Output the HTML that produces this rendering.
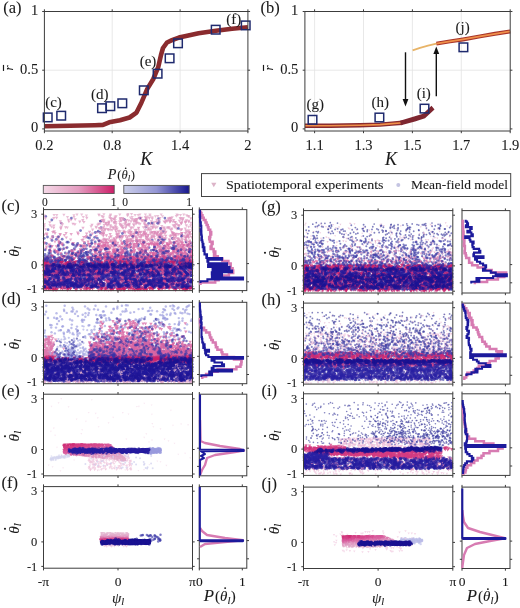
<!DOCTYPE html>
<html><head><meta charset="utf-8"><style>
html,body{margin:0;padding:0;background:#fff;width:520px;height:608px;overflow:hidden}
svg{display:block}
text{font-family:"Liberation Serif","DejaVu Serif",serif;fill:#1a1a1a;stroke:#1a1a1a;stroke-width:0.08px}
</style></head><body>
<svg width="520" height="608" viewBox="0 0 520 608">
<rect width="520" height="608" fill="#fff"/>
<line x1="112.2" y1="11.5" x2="112.2" y2="131" stroke="#e2e2e2" stroke-width="0.8" />
<line x1="180.1" y1="11.5" x2="180.1" y2="131" stroke="#e2e2e2" stroke-width="0.8" />
<line x1="44.4" y1="70.2" x2="247.9" y2="70.2" stroke="#e2e2e2" stroke-width="0.8" />
<line x1="44.4" y1="128.9" x2="247.9" y2="128.9" stroke="#ececec" stroke-width="0.6" />
<polyline points="44.6,126.2 70,125.8 95,125.2 103,124.9 109.2,122.3 120,120.3 129.6,117.5 136.5,112.6 141.4,102.7 147.3,88.9 153.3,79 158.2,67.2 161,55 163,48 167,42.5 172,40.2 178.9,37.6 186,36 198.6,33.3 216,30.8 232,28.8 247.9,27.2" fill="none" stroke="#8a2b2e" stroke-width="4.6" stroke-linejoin="round"/>
<rect x="43.4" y="113.1" width="8.6" height="8.6" fill="none" stroke="#1f2a6e" stroke-width="1.5"/>
<rect x="56.9" y="111.4" width="8.6" height="8.6" fill="none" stroke="#1f2a6e" stroke-width="1.5"/>
<rect x="97.7" y="103.9" width="8.6" height="8.6" fill="none" stroke="#1f2a6e" stroke-width="1.5"/>
<rect x="106" y="101.9" width="8.6" height="8.6" fill="none" stroke="#1f2a6e" stroke-width="1.5"/>
<rect x="118" y="99" width="8.6" height="8.6" fill="none" stroke="#1f2a6e" stroke-width="1.5"/>
<rect x="139.5" y="86" width="8.6" height="8.6" fill="none" stroke="#1f2a6e" stroke-width="1.5"/>
<rect x="153.3" y="69.4" width="8.6" height="8.6" fill="none" stroke="#1f2a6e" stroke-width="1.5"/>
<rect x="165.3" y="54" width="8.6" height="8.6" fill="none" stroke="#1f2a6e" stroke-width="1.5"/>
<rect x="173.7" y="39" width="8.6" height="8.6" fill="none" stroke="#1f2a6e" stroke-width="1.5"/>
<rect x="211.4" y="25.4" width="8.6" height="8.6" fill="none" stroke="#1f2a6e" stroke-width="1.5"/>
<rect x="241.4" y="21.1" width="8.6" height="8.6" fill="none" stroke="#1f2a6e" stroke-width="1.5"/>
<rect x="44.4" y="11.5" width="203.5" height="119.5" fill="none" stroke="#3c3c3c" stroke-width="1"/>
<path d="M44.4 131v2.2M44.4 11.5v-2.2M112.2 131v2.2M112.2 11.5v-2.2M180.1 131v2.2M180.1 11.5v-2.2M247.9 131v2.2M247.9 11.5v-2.2M44.4 128.9h-2.2M247.9 128.9h2.2M44.4 70.2h-2.2M247.9 70.2h2.2M44.4 11.5h-2.2M247.9 11.5h2.2" stroke="#3c3c3c" stroke-width="1" fill="none"/>
<text x="44.4" y="149.6" font-size="14.5" text-anchor="middle">0.2</text>
<text x="112.2" y="149.6" font-size="14.5" text-anchor="middle">0.8</text>
<text x="180.1" y="149.6" font-size="14.5" text-anchor="middle">1.4</text>
<text x="247.9" y="149.6" font-size="14.5" text-anchor="middle">2</text>
<text x="38.2" y="132.1" font-size="14.5" text-anchor="end">0</text>
<text x="38.2" y="73.6" font-size="14.5" text-anchor="end">0.5</text>
<text x="38.2" y="15" font-size="14.5" text-anchor="end">1</text>
<text x="146.2" y="164.5" font-size="18" text-anchor="middle" style="font-style:italic">K</text>
<text x="3.2" y="13.2" font-size="16.5" text-anchor="start">(a)</text>
<g transform="translate(12.5,68) rotate(-90)"><text x="0" y="0" font-size="13" text-anchor="middle" style="font-style:italic">r</text><text x="-2.4" y="-1.96" font-size="10.3" style="stroke-width:0.7px">¯</text></g>
<text x="53.5" y="107" font-size="15" text-anchor="middle">(c)</text>
<text x="99.7" y="98.5" font-size="15" text-anchor="middle">(d)</text>
<text x="148" y="66" font-size="15" text-anchor="middle">(e)</text>
<text x="233.8" y="24" font-size="15" text-anchor="middle">(f)</text>
<line x1="314.6" y1="11.5" x2="314.6" y2="131" stroke="#e2e2e2" stroke-width="0.8" />
<line x1="363.5" y1="11.5" x2="363.5" y2="131" stroke="#e2e2e2" stroke-width="0.8" />
<line x1="412.4" y1="11.5" x2="412.4" y2="131" stroke="#e2e2e2" stroke-width="0.8" />
<line x1="461.3" y1="11.5" x2="461.3" y2="131" stroke="#e2e2e2" stroke-width="0.8" />
<line x1="304.9" y1="70.2" x2="510.2" y2="70.2" stroke="#e2e2e2" stroke-width="0.8" />
<line x1="304.9" y1="128.9" x2="510.2" y2="128.9" stroke="#ececec" stroke-width="0.6" />
<polyline points="305,125.8 330,125.7 360,125.3 380,124.6 392,123.6 402.5,122.8" fill="none" stroke="#8a2b2e" stroke-width="4.4" stroke-linejoin="round"/>
<polyline points="305,125.8 330,125.7 360,125.3 380,124.6 392,123.6 402.5,122.8" fill="none" stroke="#f0904a" stroke-width="1.6" stroke-linejoin="round"/>
<polygon points="400,120.8 414,116.4 423,113.8 431.5,105.8 434.5,109.5 425,118.2 415,121.5 401,125.2" fill="#7e2630"/>
<polyline points="412.6,50.4 420,47.8 428,45.6 436.4,43.6" fill="none" stroke="#e8b468" stroke-width="1.8"/>
<polyline points="436.4,43.6 450,41.4 463,39.4 480,36.4 495,33.8 510.2,31.4" fill="none" stroke="#a8352a" stroke-width="4" stroke-linejoin="round"/>
<polyline points="436.4,43.6 450,41.4 463,39.4 480,36.4 495,33.8 510.2,31.4" fill="none" stroke="#f0904a" stroke-width="1.7" stroke-linejoin="round"/>
<rect x="308.2" y="115.5" width="8.6" height="8.6" fill="none" stroke="#1f2a6e" stroke-width="1.5"/>
<rect x="375.1" y="113.2" width="8.6" height="8.6" fill="none" stroke="#1f2a6e" stroke-width="1.5"/>
<rect x="420.2" y="104.3" width="8.6" height="8.6" fill="none" stroke="#1f2a6e" stroke-width="1.5"/>
<rect x="459.1" y="43" width="8.6" height="8.6" fill="none" stroke="#1f2a6e" stroke-width="1.5"/>
<line x1="405.5" y1="52.3" x2="405.5" y2="100" stroke="#111" stroke-width="1.4"/><polygon points="402.6,99 408.4,99 405.5,106.5" fill="#111"/>
<line x1="436.3" y1="96.2" x2="436.3" y2="53" stroke="#111" stroke-width="1.4"/><polygon points="433.4,54 439.2,54 436.3,46.6" fill="#111"/>
<rect x="304.9" y="11.5" width="205.3" height="119.5" fill="none" stroke="#3c3c3c" stroke-width="1"/>
<path d="M314.6 131v2.2M314.6 11.5v-2.2M363.5 131v2.2M363.5 11.5v-2.2M412.4 131v2.2M412.4 11.5v-2.2M461.3 131v2.2M461.3 11.5v-2.2M510.2 131v2.2M510.2 11.5v-2.2M304.9 128.9h-2.2M510.2 128.9h2.2M304.9 70.2h-2.2M510.2 70.2h2.2M304.9 11.5h-2.2M510.2 11.5h2.2" stroke="#3c3c3c" stroke-width="1" fill="none"/>
<text x="314.6" y="149.6" font-size="14.5" text-anchor="middle">1.1</text>
<text x="363.5" y="149.6" font-size="14.5" text-anchor="middle">1.3</text>
<text x="412.4" y="149.6" font-size="14.5" text-anchor="middle">1.5</text>
<text x="461.3" y="149.6" font-size="14.5" text-anchor="middle">1.7</text>
<text x="510.2" y="149.6" font-size="14.5" text-anchor="middle">1.9</text>
<text x="298.3" y="132.1" font-size="14.5" text-anchor="end">0</text>
<text x="298.3" y="73.6" font-size="14.5" text-anchor="end">0.5</text>
<text x="298.3" y="15" font-size="14.5" text-anchor="end">1</text>
<text x="391.1" y="164.5" font-size="18" text-anchor="middle" style="font-style:italic">K</text>
<text x="260.5" y="13.2" font-size="16.5" text-anchor="start">(b)</text>
<g transform="translate(273,68) rotate(-90)"><text x="0" y="0" font-size="13" text-anchor="middle" style="font-style:italic">r</text><text x="-2.4" y="-1.96" font-size="10.3" style="stroke-width:0.7px">¯</text></g>
<text x="315.3" y="109" font-size="15" text-anchor="middle">(g)</text>
<text x="380.2" y="107" font-size="15" text-anchor="middle">(h)</text>
<text x="423.8" y="98.3" font-size="15" text-anchor="middle">(i)</text>
<text x="462.7" y="32.4" font-size="15" text-anchor="middle">(j)</text>
<defs><linearGradient id="gp" x1="0" x2="1"><stop offset="0" stop-color="#f4d8e6"/><stop offset="0.5" stop-color="#e49cc0"/><stop offset="1" stop-color="#cc1f68"/></linearGradient><linearGradient id="gb" x1="0" x2="1"><stop offset="0" stop-color="#cccfea"/><stop offset="0.5" stop-color="#9496d4"/><stop offset="1" stop-color="#16168e"/></linearGradient></defs>
<rect x="43.3" y="185.4" width="70.9" height="8.1" fill="url(#gp)" stroke="#555" stroke-width="0.9"/>
<rect x="123.8" y="185.4" width="65.4" height="8.1" fill="url(#gb)" stroke="#555" stroke-width="0.9"/>
<text x="44.9" y="206.3" font-size="11.5" text-anchor="middle">0</text>
<text x="113.7" y="206.3" font-size="11.5" text-anchor="middle">1</text>
<text x="125.2" y="206.3" font-size="11.5" text-anchor="middle">0</text>
<text x="189.2" y="206.3" font-size="11.5" text-anchor="middle">1</text>
<text x="107.74" y="178.80" font-size="14.112" style="font-style:italic">P</text><text x="117.36" y="178.80" font-size="12.6">(</text><text x="121.56" y="178.80" font-size="12.6" style="font-style:italic">θ</text><text x="123.28" y="176.53" font-size="14.49">˙</text><text x="127.74" y="181.32" font-size="9.072" style="font-style:italic">l</text><text x="130.66" y="178.80" font-size="12.6">)</text>
<rect x="201.5" y="173.6" width="309.2" height="22.9" fill="#fff" stroke="#444" stroke-width="1"/>
<polygon points="211.2,182.8 216.4,182.8 213.8,187.3" fill="#dcb4c8"/>
<circle cx="398.3" cy="185" r="2" fill="#c4c4e2"/>
<text x="226" y="189" font-size="13.5" textLength="157.5" lengthAdjust="spacingAndGlyphs">Spatiotemporal experiments</text>
<text x="411" y="189" font-size="13.5" textLength="97" lengthAdjust="spacingAndGlyphs">Mean-field model</text>
<defs><marker id="m0" markerUnits="userSpaceOnUse" overflow="visible" markerWidth="1" markerHeight="1"><path d="M-15.3 -8.9H15.3L0 17.8z" fill="#e5b6d0" fill-opacity="0.72"/></marker><marker id="m1" markerUnits="userSpaceOnUse" overflow="visible" markerWidth="1" markerHeight="1"><path d="M-15.9 -9.2H15.9L0 18.5z" fill="#e2aac9" fill-opacity="0.72"/></marker><marker id="m2" markerUnits="userSpaceOnUse" overflow="visible" markerWidth="1" markerHeight="1"><path d="M-16.2 -9.4H16.2L0 18.8z" fill="#e1a3c6" fill-opacity="0.72"/></marker><marker id="m3" markerUnits="userSpaceOnUse" overflow="visible" markerWidth="1" markerHeight="1"><path d="M-16.5 -9.6H16.5L0 19.2z" fill="#df99c0" fill-opacity="0.72"/></marker><marker id="m4" markerUnits="userSpaceOnUse" overflow="visible" markerWidth="1" markerHeight="1"><path d="M-16.8 -9.8H16.8L0 19.5z" fill="#dd88b7" fill-opacity="0.72"/></marker><marker id="m5" markerUnits="userSpaceOnUse" overflow="visible" markerWidth="1" markerHeight="1"><path d="M-17.2 -9.9H17.2L0 19.9z" fill="#dc78ad" fill-opacity="0.72"/></marker><marker id="m6" markerUnits="userSpaceOnUse" overflow="visible" markerWidth="1" markerHeight="1"><path d="M-17.5 -10.1H17.5L0 20.3z" fill="#da67a4" fill-opacity="0.72"/></marker><marker id="m7" markerUnits="userSpaceOnUse" overflow="visible" markerWidth="1" markerHeight="1"><path d="M-17.8 -10.3H17.8L0 20.6z" fill="#d8579b" fill-opacity="0.72"/></marker><marker id="m8" markerUnits="userSpaceOnUse" overflow="visible" markerWidth="1" markerHeight="1"><path d="M-18.1 -10.5H18.1L0 21.0z" fill="#d5498e" fill-opacity="0.72"/></marker><marker id="m9" markerUnits="userSpaceOnUse" overflow="visible" markerWidth="1" markerHeight="1"><path d="M-18.4 -10.7H18.4L0 21.3z" fill="#d23b82" fill-opacity="0.72"/></marker><marker id="m10" markerUnits="userSpaceOnUse" overflow="visible" markerWidth="1" markerHeight="1"><path d="M-19.0 -11.0H19.0L0 22.0z" fill="#cc1f68" fill-opacity="0.72"/></marker><marker id="m11" markerUnits="userSpaceOnUse" overflow="visible" markerWidth="1" markerHeight="1"><circle r="13.8" fill="#3c39a8" fill-opacity="0.66"/></marker><marker id="m12" markerUnits="userSpaceOnUse" overflow="visible" markerWidth="1" markerHeight="1"><circle r="14.2" fill="#3631a7" fill-opacity="0.66"/></marker><marker id="m13" markerUnits="userSpaceOnUse" overflow="visible" markerWidth="1" markerHeight="1"><circle r="14.7" fill="#3029a5" fill-opacity="0.66"/></marker><marker id="m14" markerUnits="userSpaceOnUse" overflow="visible" markerWidth="1" markerHeight="1"><circle r="15.6" fill="#261da0" fill-opacity="0.66"/></marker><marker id="m15" markerUnits="userSpaceOnUse" overflow="visible" markerWidth="1" markerHeight="1"><circle r="16.1" fill="#22199b" fill-opacity="0.66"/></marker><marker id="m16" markerUnits="userSpaceOnUse" overflow="visible" markerWidth="1" markerHeight="1"><circle r="16.5" fill="#1e1697" fill-opacity="0.66"/></marker><marker id="m17" markerUnits="userSpaceOnUse" overflow="visible" markerWidth="1" markerHeight="1"><circle r="17.0" fill="#1a1292" fill-opacity="0.66"/></marker><marker id="m18" markerUnits="userSpaceOnUse" overflow="visible" markerWidth="1" markerHeight="1"><path d="M-14.0 -8.1H14.0L0 16.2z" fill="#e6bcd4" fill-opacity="0.72"/></marker><marker id="m19" markerUnits="userSpaceOnUse" overflow="visible" markerWidth="1" markerHeight="1"><path d="M-14.8 -8.6H14.8L0 17.2z" fill="#e3b0cd" fill-opacity="0.72"/></marker><marker id="m20" markerUnits="userSpaceOnUse" overflow="visible" markerWidth="1" markerHeight="1"><path d="M-15.3 -8.9H15.3L0 17.7z" fill="#e2aac9" fill-opacity="0.72"/></marker><marker id="m21" markerUnits="userSpaceOnUse" overflow="visible" markerWidth="1" markerHeight="1"><path d="M-15.7 -9.1H15.7L0 18.2z" fill="#e1a3c6" fill-opacity="0.72"/></marker><marker id="m22" markerUnits="userSpaceOnUse" overflow="visible" markerWidth="1" markerHeight="1"><path d="M-16.5 -9.6H16.5L0 19.2z" fill="#dd88b7" fill-opacity="0.72"/></marker><marker id="m23" markerUnits="userSpaceOnUse" overflow="visible" markerWidth="1" markerHeight="1"><path d="M-17.0 -9.8H17.0L0 19.7z" fill="#dc78ad" fill-opacity="0.72"/></marker><marker id="m24" markerUnits="userSpaceOnUse" overflow="visible" markerWidth="1" markerHeight="1"><path d="M-17.4 -10.1H17.4L0 20.2z" fill="#da67a4" fill-opacity="0.72"/></marker><marker id="m25" markerUnits="userSpaceOnUse" overflow="visible" markerWidth="1" markerHeight="1"><path d="M-19.1 -11.1H19.1L0 22.1z" fill="#cf2d75" fill-opacity="0.72"/></marker><marker id="m26" markerUnits="userSpaceOnUse" overflow="visible" markerWidth="1" markerHeight="1"><path d="M-19.5 -11.3H19.5L0 22.6z" fill="#cc1f68" fill-opacity="0.72"/></marker><marker id="m27" markerUnits="userSpaceOnUse" overflow="visible" markerWidth="1" markerHeight="1"><circle r="11.1" fill="#aaace3" fill-opacity="0.66"/></marker><marker id="m28" markerUnits="userSpaceOnUse" overflow="visible" markerWidth="1" markerHeight="1"><circle r="12.2" fill="#9a9bde" fill-opacity="0.66"/></marker><marker id="m29" markerUnits="userSpaceOnUse" overflow="visible" markerWidth="1" markerHeight="1"><circle r="11.6" fill="#4444a8" fill-opacity="0.66"/></marker><marker id="m30" markerUnits="userSpaceOnUse" overflow="visible" markerWidth="1" markerHeight="1"><circle r="12.3" fill="#4140a9" fill-opacity="0.66"/></marker><marker id="m31" markerUnits="userSpaceOnUse" overflow="visible" markerWidth="1" markerHeight="1"><circle r="12.9" fill="#3c39a8" fill-opacity="0.66"/></marker><marker id="m32" markerUnits="userSpaceOnUse" overflow="visible" markerWidth="1" markerHeight="1"><circle r="13.6" fill="#3631a7" fill-opacity="0.66"/></marker><marker id="m33" markerUnits="userSpaceOnUse" overflow="visible" markerWidth="1" markerHeight="1"><circle r="16.2" fill="#22199b" fill-opacity="0.66"/></marker><marker id="m34" markerUnits="userSpaceOnUse" overflow="visible" markerWidth="1" markerHeight="1"><circle r="16.8" fill="#1e1697" fill-opacity="0.66"/></marker><marker id="m35" markerUnits="userSpaceOnUse" overflow="visible" markerWidth="1" markerHeight="1"><circle r="17.5" fill="#1a1292" fill-opacity="0.66"/></marker><marker id="m36" markerUnits="userSpaceOnUse" overflow="visible" markerWidth="1" markerHeight="1"><path d="M-9.5 -5.5H9.5L0 11.1z" fill="#f5deeb" fill-opacity="0.72"/></marker><marker id="m37" markerUnits="userSpaceOnUse" overflow="visible" markerWidth="1" markerHeight="1"><path d="M-12.2 -7.1H12.2L0 14.2z" fill="#f0c7de" fill-opacity="0.72"/></marker><marker id="m38" markerUnits="userSpaceOnUse" overflow="visible" markerWidth="1" markerHeight="1"><path d="M-9.1 -5.3H9.1L0 10.5z" fill="#e3b0cd" fill-opacity="0.72"/></marker><marker id="m39" markerUnits="userSpaceOnUse" overflow="visible" markerWidth="1" markerHeight="1"><path d="M-9.6 -5.6H9.6L0 11.2z" fill="#e2aac9" fill-opacity="0.72"/></marker><marker id="m40" markerUnits="userSpaceOnUse" overflow="visible" markerWidth="1" markerHeight="1"><path d="M-10.2 -5.9H10.2L0 11.8z" fill="#e1a3c6" fill-opacity="0.72"/></marker><marker id="m41" markerUnits="userSpaceOnUse" overflow="visible" markerWidth="1" markerHeight="1"><path d="M-10.7 -6.2H10.7L0 12.4z" fill="#df99c0" fill-opacity="0.72"/></marker><marker id="m42" markerUnits="userSpaceOnUse" overflow="visible" markerWidth="1" markerHeight="1"><path d="M-11.2 -6.5H11.2L0 13.0z" fill="#dd88b7" fill-opacity="0.72"/></marker><marker id="m43" markerUnits="userSpaceOnUse" overflow="visible" markerWidth="1" markerHeight="1"><path d="M-11.8 -6.8H11.8L0 13.7z" fill="#dc78ad" fill-opacity="0.72"/></marker><marker id="m44" markerUnits="userSpaceOnUse" overflow="visible" markerWidth="1" markerHeight="1"><path d="M-12.3 -7.1H12.3L0 14.3z" fill="#da67a4" fill-opacity="0.72"/></marker><marker id="m45" markerUnits="userSpaceOnUse" overflow="visible" markerWidth="1" markerHeight="1"><path d="M-12.8 -7.5H12.8L0 14.9z" fill="#d8579b" fill-opacity="0.72"/></marker><marker id="m46" markerUnits="userSpaceOnUse" overflow="visible" markerWidth="1" markerHeight="1"><path d="M-13.4 -7.8H13.4L0 15.5z" fill="#d5498e" fill-opacity="0.72"/></marker><marker id="m47" markerUnits="userSpaceOnUse" overflow="visible" markerWidth="1" markerHeight="1"><path d="M-13.9 -8.1H13.9L0 16.2z" fill="#d23b82" fill-opacity="0.72"/></marker><marker id="m48" markerUnits="userSpaceOnUse" overflow="visible" markerWidth="1" markerHeight="1"><path d="M-14.5 -8.4H14.5L0 16.8z" fill="#cf2d75" fill-opacity="0.72"/></marker><marker id="m49" markerUnits="userSpaceOnUse" overflow="visible" markerWidth="1" markerHeight="1"><circle r="8.6" fill="#d6d7f0" fill-opacity="0.66"/></marker><marker id="m50" markerUnits="userSpaceOnUse" overflow="visible" markerWidth="1" markerHeight="1"><circle r="9.8" fill="#cbcced" fill-opacity="0.66"/></marker><marker id="m51" markerUnits="userSpaceOnUse" overflow="visible" markerWidth="1" markerHeight="1"><circle r="15.4" fill="#9a9bde" fill-opacity="0.66"/></marker><marker id="m52" markerUnits="userSpaceOnUse" overflow="visible" markerWidth="1" markerHeight="1"><circle r="13.3" fill="#261da0" fill-opacity="0.66"/></marker><marker id="m53" markerUnits="userSpaceOnUse" overflow="visible" markerWidth="1" markerHeight="1"><path d="M-11.7 -6.8H11.7L0 13.6z" fill="#f1cce1" fill-opacity="0.72"/></marker><marker id="m54" markerUnits="userSpaceOnUse" overflow="visible" markerWidth="1" markerHeight="1"><path d="M-10.0 -5.8H10.0L0 11.6z" fill="#e6bcd4" fill-opacity="0.72"/></marker><marker id="m55" markerUnits="userSpaceOnUse" overflow="visible" markerWidth="1" markerHeight="1"><path d="M-10.6 -6.2H10.6L0 12.3z" fill="#e5b6d0" fill-opacity="0.72"/></marker><marker id="m56" markerUnits="userSpaceOnUse" overflow="visible" markerWidth="1" markerHeight="1"><path d="M-11.2 -6.5H11.2L0 13.0z" fill="#e3b0cd" fill-opacity="0.72"/></marker><marker id="m57" markerUnits="userSpaceOnUse" overflow="visible" markerWidth="1" markerHeight="1"><path d="M-11.8 -6.9H11.8L0 13.7z" fill="#e2aac9" fill-opacity="0.72"/></marker><marker id="m58" markerUnits="userSpaceOnUse" overflow="visible" markerWidth="1" markerHeight="1"><path d="M-12.5 -7.2H12.5L0 14.5z" fill="#e1a3c6" fill-opacity="0.72"/></marker><marker id="m59" markerUnits="userSpaceOnUse" overflow="visible" markerWidth="1" markerHeight="1"><path d="M-13.1 -7.6H13.1L0 15.2z" fill="#df99c0" fill-opacity="0.72"/></marker><marker id="m60" markerUnits="userSpaceOnUse" overflow="visible" markerWidth="1" markerHeight="1"><path d="M-13.7 -7.9H13.7L0 15.9z" fill="#dd88b7" fill-opacity="0.72"/></marker><marker id="m61" markerUnits="userSpaceOnUse" overflow="visible" markerWidth="1" markerHeight="1"><path d="M-14.3 -8.3H14.3L0 16.6z" fill="#dc78ad" fill-opacity="0.72"/></marker><marker id="m62" markerUnits="userSpaceOnUse" overflow="visible" markerWidth="1" markerHeight="1"><path d="M-14.9 -8.7H14.9L0 17.3z" fill="#da67a4" fill-opacity="0.72"/></marker><marker id="m63" markerUnits="userSpaceOnUse" overflow="visible" markerWidth="1" markerHeight="1"><path d="M-15.5 -9.0H15.5L0 18.0z" fill="#d8579b" fill-opacity="0.72"/></marker><marker id="m64" markerUnits="userSpaceOnUse" overflow="visible" markerWidth="1" markerHeight="1"><path d="M-16.2 -9.4H16.2L0 18.7z" fill="#d5498e" fill-opacity="0.72"/></marker><marker id="m65" markerUnits="userSpaceOnUse" overflow="visible" markerWidth="1" markerHeight="1"><path d="M-16.8 -9.7H16.8L0 19.5z" fill="#d23b82" fill-opacity="0.72"/></marker><marker id="m66" markerUnits="userSpaceOnUse" overflow="visible" markerWidth="1" markerHeight="1"><circle r="12.4" fill="#3c39a8" fill-opacity="0.66"/></marker><marker id="m67" markerUnits="userSpaceOnUse" overflow="visible" markerWidth="1" markerHeight="1"><circle r="17.0" fill="#1a1292" fill-opacity="0.66"/></marker><marker id="m68" markerUnits="userSpaceOnUse" overflow="visible" markerWidth="1" markerHeight="1"><path d="M-9.7 -5.6H9.7L0 11.2z" fill="#e5b6d0" fill-opacity="0.72"/></marker><marker id="m69" markerUnits="userSpaceOnUse" overflow="visible" markerWidth="1" markerHeight="1"><path d="M-10.4 -6.0H10.4L0 12.0z" fill="#e3b0cd" fill-opacity="0.72"/></marker><marker id="m70" markerUnits="userSpaceOnUse" overflow="visible" markerWidth="1" markerHeight="1"><path d="M-11.1 -6.4H11.1L0 12.8z" fill="#e2aac9" fill-opacity="0.72"/></marker><marker id="m71" markerUnits="userSpaceOnUse" overflow="visible" markerWidth="1" markerHeight="1"><path d="M-11.8 -6.8H11.8L0 13.7z" fill="#e1a3c6" fill-opacity="0.72"/></marker><marker id="m72" markerUnits="userSpaceOnUse" overflow="visible" markerWidth="1" markerHeight="1"><path d="M-12.5 -7.2H12.5L0 14.5z" fill="#df99c0" fill-opacity="0.72"/></marker><marker id="m73" markerUnits="userSpaceOnUse" overflow="visible" markerWidth="1" markerHeight="1"><path d="M-13.2 -7.6H13.2L0 15.3z" fill="#dd88b7" fill-opacity="0.72"/></marker><marker id="m74" markerUnits="userSpaceOnUse" overflow="visible" markerWidth="1" markerHeight="1"><path d="M-14.5 -8.4H14.5L0 16.9z" fill="#da67a4" fill-opacity="0.72"/></marker><marker id="m75" markerUnits="userSpaceOnUse" overflow="visible" markerWidth="1" markerHeight="1"><path d="M-15.2 -8.8H15.2L0 17.7z" fill="#d8579b" fill-opacity="0.72"/></marker><marker id="m76" markerUnits="userSpaceOnUse" overflow="visible" markerWidth="1" markerHeight="1"><path d="M-15.9 -9.2H15.9L0 18.5z" fill="#d5498e" fill-opacity="0.72"/></marker><marker id="m77" markerUnits="userSpaceOnUse" overflow="visible" markerWidth="1" markerHeight="1"><path d="M-16.6 -9.6H16.6L0 19.3z" fill="#d23b82" fill-opacity="0.72"/></marker><marker id="m78" markerUnits="userSpaceOnUse" overflow="visible" markerWidth="1" markerHeight="1"><path d="M-17.3 -10.0H17.3L0 20.1z" fill="#cf2d75" fill-opacity="0.72"/></marker><marker id="m79" markerUnits="userSpaceOnUse" overflow="visible" markerWidth="1" markerHeight="1"><path d="M-18.0 -10.4H18.0L0 20.9z" fill="#cc1f68" fill-opacity="0.72"/></marker><marker id="m80" markerUnits="userSpaceOnUse" overflow="visible" markerWidth="1" markerHeight="1"><circle r="8.7" fill="#41419e" fill-opacity="0.66"/></marker><marker id="m81" markerUnits="userSpaceOnUse" overflow="visible" markerWidth="1" markerHeight="1"><circle r="9.4" fill="#4242a1" fill-opacity="0.66"/></marker><marker id="m82" markerUnits="userSpaceOnUse" overflow="visible" markerWidth="1" markerHeight="1"><circle r="10.1" fill="#4343a5" fill-opacity="0.66"/></marker><marker id="m83" markerUnits="userSpaceOnUse" overflow="visible" markerWidth="1" markerHeight="1"><circle r="10.8" fill="#4444a8" fill-opacity="0.66"/></marker><marker id="m84" markerUnits="userSpaceOnUse" overflow="visible" markerWidth="1" markerHeight="1"><circle r="11.5" fill="#4140a9" fill-opacity="0.66"/></marker><marker id="m85" markerUnits="userSpaceOnUse" overflow="visible" markerWidth="1" markerHeight="1"><circle r="12.2" fill="#3c39a8" fill-opacity="0.66"/></marker><marker id="m86" markerUnits="userSpaceOnUse" overflow="visible" markerWidth="1" markerHeight="1"><circle r="12.8" fill="#3631a7" fill-opacity="0.66"/></marker><marker id="m87" markerUnits="userSpaceOnUse" overflow="visible" markerWidth="1" markerHeight="1"><circle r="14.9" fill="#261da0" fill-opacity="0.66"/></marker><marker id="m88" markerUnits="userSpaceOnUse" overflow="visible" markerWidth="1" markerHeight="1"><circle r="15.6" fill="#22199b" fill-opacity="0.66"/></marker><marker id="m89" markerUnits="userSpaceOnUse" overflow="visible" markerWidth="1" markerHeight="1"><circle r="16.3" fill="#1e1697" fill-opacity="0.66"/></marker><marker id="m90" markerUnits="userSpaceOnUse" overflow="visible" markerWidth="1" markerHeight="1"><circle r="17.0" fill="#1a1292" fill-opacity="0.66"/></marker><marker id="m91" markerUnits="userSpaceOnUse" overflow="visible" markerWidth="1" markerHeight="1"><path d="M-9.0 -5.2H9.0L0 10.4z" fill="#e6bcd4" fill-opacity="0.72"/></marker><marker id="m92" markerUnits="userSpaceOnUse" overflow="visible" markerWidth="1" markerHeight="1"><path d="M-13.8 -8.0H13.8L0 16.1z" fill="#dc78ad" fill-opacity="0.72"/></marker><marker id="m93" markerUnits="userSpaceOnUse" overflow="visible" markerWidth="1" markerHeight="1"><circle r="8.5" fill="#40409a" fill-opacity="0.66"/></marker><marker id="m94" markerUnits="userSpaceOnUse" overflow="visible" markerWidth="1" markerHeight="1"><circle r="9.2" fill="#41419e" fill-opacity="0.66"/></marker><marker id="m95" markerUnits="userSpaceOnUse" overflow="visible" markerWidth="1" markerHeight="1"><circle r="9.8" fill="#4242a1" fill-opacity="0.66"/></marker><marker id="m96" markerUnits="userSpaceOnUse" overflow="visible" markerWidth="1" markerHeight="1"><circle r="10.5" fill="#4343a5" fill-opacity="0.66"/></marker><marker id="m97" markerUnits="userSpaceOnUse" overflow="visible" markerWidth="1" markerHeight="1"><circle r="11.1" fill="#4444a8" fill-opacity="0.66"/></marker><marker id="m98" markerUnits="userSpaceOnUse" overflow="visible" markerWidth="1" markerHeight="1"><circle r="11.8" fill="#4140a9" fill-opacity="0.66"/></marker><marker id="m99" markerUnits="userSpaceOnUse" overflow="visible" markerWidth="1" markerHeight="1"><circle r="13.7" fill="#3029a5" fill-opacity="0.66"/></marker><marker id="m100" markerUnits="userSpaceOnUse" overflow="visible" markerWidth="1" markerHeight="1"><circle r="14.4" fill="#2b21a4" fill-opacity="0.66"/></marker><marker id="m101" markerUnits="userSpaceOnUse" overflow="visible" markerWidth="1" markerHeight="1"><circle r="15.0" fill="#261da0" fill-opacity="0.66"/></marker><marker id="m102" markerUnits="userSpaceOnUse" overflow="visible" markerWidth="1" markerHeight="1"><path d="M-13.3 -7.7H13.3L0 15.4z" fill="#edbed9" fill-opacity="0.72"/></marker><marker id="m103" markerUnits="userSpaceOnUse" overflow="visible" markerWidth="1" markerHeight="1"><circle r="8.2" fill="#41419e" fill-opacity="0.66"/></marker><marker id="m104" markerUnits="userSpaceOnUse" overflow="visible" markerWidth="1" markerHeight="1"><circle r="9.7" fill="#4343a5" fill-opacity="0.66"/></marker><marker id="m105" markerUnits="userSpaceOnUse" overflow="visible" markerWidth="1" markerHeight="1"><circle r="14.1" fill="#2b21a4" fill-opacity="0.66"/></marker><marker id="m106" markerUnits="userSpaceOnUse" overflow="visible" markerWidth="1" markerHeight="1"><circle r="14.8" fill="#261da0" fill-opacity="0.66"/></marker><marker id="m107" markerUnits="userSpaceOnUse" overflow="visible" markerWidth="1" markerHeight="1"><circle r="17.0" fill="#1a1292" fill-opacity="0.66"/></marker><marker id="m108" markerUnits="userSpaceOnUse" overflow="visible" markerWidth="1" markerHeight="1"><path d="M-17.4 -10.1H17.4L0 20.2z" fill="#cf2d75" fill-opacity="0.72"/></marker><marker id="m109" markerUnits="userSpaceOnUse" overflow="visible" markerWidth="1" markerHeight="1"><circle r="11.7" fill="#bbbce8" fill-opacity="0.66"/></marker></defs>
<g transform="scale(.1)"><path d="M1532 2896 495 2896 491 2896" fill="none" marker-start="url(#m0)" marker-mid="url(#m0)" marker-end="url(#m0)"/>
<path d="M1305 2173 1499 2144 1626 2161 1522 2172 1612 2145 864 2155 639 2146 541 2148 1018 2160 1198 2145 817 2143 1880 2158 1459 2173 1399 2143 1100 2160 739 2152 1029 2167 991 2148" fill="none" marker-start="url(#m1)" marker-mid="url(#m1)" marker-end="url(#m1)"/>
<path d="M1121 2299 1573 2268 1636 2308 1745 2268 1216 2265 607 2275 1038 2307 443 2264 1105 2274 1861 2302 656 2271 1693 2275 1157 2271 1311 2273 1331 2275 1202 2313 1239 2307 1478 2259 1917 2302 1887 2267 1686 2272 1225 2262 1108 2297" fill="none" marker-start="url(#m2)" marker-mid="url(#m2)" marker-end="url(#m2)"/>
<path d="M1825 2395 1340 2216 1666 2208 1407 2180 1281 2248 1698 2218 1692 2393 1043 2250 1462 2194 1140 2227 1582 2382 1725 2384 689 2214 1751 2394 1641 2391 1552 2391 1557 2279 1304 2391 1817 2294 1814 2234 1910 2228 1587 2235 1310 2212 1152 2201 1259 2218 1712 2182 1041 2290 1864 2201 1197 2383 1508 2382 1833 2181 1415 2203 1426 2204 730 2237 1703 2178 1448 2201 1265 2199 711 2196 1199 2239 501 2252 1137 2278 1060 2393 1777 2387 1038 2211 1641 2214 1337 2204 1812 2233 1051 2296 1736 2199 1824 2199 1860 2214 798 2215 1205 2252 538 2180 1104 2251 1391 2180 1888 2217 1146 2219 1082 2296 1698 2209 1676 2208 1363 2393 537 2276 1562 2217 1594 2232 1887 2208 1214 2206 1909 2183 920 2246 1733 2385 1658 2205 1246 2236 1787 2387 1360 2237 1002 2209 1268 2376 1385 2281 1359 2203 509 2386 1753 2222 1233 2276 1855 2224 1114 2190 1265 2253 1289 2243 1159 2295 1039 2387 1523 2185 1145 2388 1311 2282 1036 2217 1489 2393 1085 2393 1708 2205 1774 2382 1400 2238 581 2385 1653 2222 1720 2284 1412 2178" fill="none" marker-start="url(#m3)" marker-mid="url(#m3)" marker-end="url(#m3)"/>
<path d="M539 2316 903 2364 1539 2338 1227 2366 1170 2374 1033 2357 837 2369 1410 2375 1587 2360 1915 2371 1383 2406 1240 2317 1895 2327 1479 2353 1314 2353 1872 2364 1183 2366 1473 2372 1725 2336 1333 2361 1549 2317 1435 2340 1585 2347 1888 2375 1733 2329 1542 2370 1099 2409 1168 2347 987 2404 1313 2318 1460 2371 1297 2359 1314 2346 589 2364 1111 2363 550 2331 1596 2375 1301 2336 1484 2347 1404 2406 1496 2403 661 2331 550 2415 1607 2341 1793 2398 1459 2333 1853 2400 963 2361 570 2372 1565 2332 1657 2357 1405 2323 1364 2398 1333 2363 1610 2327 1871 2316 1549 2333 1154 2407 1580 2317 1095 2372 1568 2346 1588 2399 1272 2397 1444 2319 1136 2409 971 2320 1402 2320 1630 2328 1882 2364 1873 2344 1023 2328 526 2363 1734 2359 1623 2365 1702 2362 1585 2364 1414 2355 1897 2322 1039 2325 1606 2362 1733 2334 1803 2408" fill="none" marker-start="url(#m4)" marker-mid="url(#m4)" marker-end="url(#m4)"/>
<path d="M1619 2549 1419 2488 731 2553 1011 2493 1600 2482 983 2477 1556 2537 596 2422 804 2495 1158 2538 1652 2476 1046 2491 879 2550 1425 2467 1619 2426 895 2462 1754 2491 1091 2491 1710 2423 1765 2486 1010 2464 1112 2419 1704 2550 1841 2478 1817 2472 1151 2433 1098 2478 1890 2484 1627 2549 1639 2419 1515 2428 1547 2484 1339 2477 1211 2544 1269 2419 1599 2494 1803 2485 1614 2417 1064 2476 1021 2462 1655 2476 975 2474 1307 2549 1899 2555 1463 2477 1382 2540 1114 2546 1825 2464 1790 2424 1812 2537 503 2485 1035 2426 1829 2541 837 2458 709 2549 1748 2424 625 2494 1227 2426 1729 2494 1059 2431 1060 2467 1010 2542 1675 2435 1144 2487 1864 2427 964 2482 1352 2463 1279 2462 1547 2459 1428 2419 1301 2479 443 2430 619 2433 1443 2480 591 2433 1633 2495 1869 2555 1033 2476 1646 2459 1451 2422 1027 2425 1884 2544 1030 2465 849 2486 1436 2435 1266 2546" fill="none" marker-start="url(#m5)" marker-mid="url(#m5)" marker-end="url(#m5)"/>
<path d="M1682 2509 1685 2515 1506 2529 760 2536 1552 2446 1338 2448 949 2499 1264 2438 1667 2524 1575 2442 724 2518 509 2514 1169 2509 1781 2446 1256 2502 547 2498 1037 2453 1540 2535 1541 2444 1904 2530 1152 2526 1871 2454 1904 2532 1470 2438 595 2442 1442 2505 950 2506 1439 2525 1286 2451 1807 2508 1256 2525 801 2451 583 2509 1757 2529 1580 2453 1165 2450 1187 2501 1399 2509 1625 2438 1137 2444 697 2514 979 2444 1024 2455 1209 2532 815 2522 1459 2527 1503 2524 1801 2518 917 2501 1846 2507 885 2515 1882 2499 1313 2512 1276 2454 1818 2535 1075 2530 1295 2448 1427 2512 1686 2533 1776 2505 993 2440 1513 2440 1452 2454 1810 2502 748 2497" fill="none" marker-start="url(#m6)" marker-mid="url(#m6)" marker-end="url(#m6)"/>
<path d="M1727 2791 806 2730 472 2794 1729 2871 1130 2659 462 2730 467 2682 1896 2664 919 2678 919 2671 1016 2735 1160 2789 1575 2686 1626 2675 1278 2690 450 2688 1597 2687 1612 2671 1018 2725 1189 2864 1352 2692 1791 2784 1476 2735 573 2777 478 2869 1198 2683 1271 2868 668 2670 1686 2792 918 2670 1694 2673 1233 2684 1324 2796 1637 2688 946 2730 486 2693 834 2662 497 2665 606 2786 1816 2777 957 2785 1162 2728 1787 2663 603 2664 1208 2778 1204 2735 1446 2864 1016 2777 1085 2867 759 2689 925 2863 1332 2733 1085 2681 864 2875 950 2681 864 2723 1344 2686 1103 2680 979 2673 859 2677 547 2677 1200 2794 661 2787 894 2657 1292 2686 460 2726 744 2733 672 2873 993 2673 1262 2668 1623 2864 672 2727 805 2719 1762 2781 690 2723 1038 2859 943 2726 1150 2864 1392 2694 1272 2657 500 2872 1030 2678 1383 2784 1664 2722 486 2684 1556 2868 792 2664 736 2734 1463 2664 1448 2666 1434 2690 566 2730 635 2867 688 2668 1568 2859 800 2733 1096 2868 1843 2875 1331 2871 1471 2722 1108 2779 721 2677 975 2658 1318 2873 1520 2665 1056 2681 1720 2736 503 2732 1010 2666 467 2688 816 2857 470 2723 1124 2670 1076 2791 1505 2695 1677 2730 540 2790 1552 2672" fill="none" marker-start="url(#m7)" marker-mid="url(#m7)" marker-end="url(#m7)"/>
<path d="M863 2765 596 2841 503 2827 905 2573 1024 2771 1673 2845 1735 2565 536 2839 445 2822 979 2776 1602 2593 1254 2811 1448 2807 484 2772 634 2801 1632 2821 1879 2575 965 2806 1633 2565 813 2830 1438 2770 1268 2562 1737 2763 1707 2845 1583 2836 674 2826 1267 2590 1571 2573 1600 2769 1489 2561 619 2812 1359 2824 1276 2579 1170 2832 1183 2806 1203 2583 1000 2855 563 2767 621 2841 1447 2847 1539 2776 1379 2806 599 2807 1084 2583 1648 2585 1776 2846 752 2839 718 2562 488 2855 726 2765 786 2809 718 2761 1828 2579 607 2761 1186 2845 1917 2814 1014 2587 1682 2592 1700 2566 486 2578 674 2573 1402 2595 1603 2772 1552 2825 876 2776 1551 2831 884 2776 830 2812 540 2839 1448 2568 1339 2568 929 2823 1243 2569 1451 2565 1305 2807 1375 2590 458 2835 1350 2773 568 2763 1881 2824 1489 2839 1120 2855 1328 2567 1577 2825 1346 2588 1793 2814 961 2824 1037 2761 1741 2846 1779 2817 1461 2586 1536 2825 1262 2845 627 2855 1649 2843 1380 2764 828 2845 610 2833 1410 2563 1818 2838 1862 2775 1728 2827 1752 2776 718 2797 1103 2817 965 2835 979 2838 1368 2838 1263 2569 1808 2831 1541 2834 1531 2830 460 2842 1400 2808 1017 2770 963 2770 1547 2805 1196 2811 1272 2844 672 2763 1098 2832 802 2847 444 2765 1382 2589 1327 2573 1421 2827 1770 2830 1652 2592 1510 2559 1112 2569 1008 2848 1413 2799 1206 2591 1843 2565 1134 2589 1466 2798 1917 2558 618 2561 1510 2572 447 2824 655 2798 1130 2577 1305 2809 1839 2837 1725 2836 1211 2567 1240 2823 787 2587 1246 2771 951 2569 634 2571 1549 2582 1380 2846 1344 2809 1774 2574 568 2768 1374 2572 1205 2849 467 2759 1611 2570 1627 2799 616 2812 1362 2816 552 2758 1474 2800 709 2853 1691 2849 453 2758 1787 2835 1552 2776 1555 2805 469 2812 1278 2845 467 2840 1195 2765 917 2767 1373 2829 1665 2580 457 2763 1074 2814 646 2561 1892 2575 1109 2586 1641 2797 1179 2570 463 2765 1539 2582 1187 2567 1478 2820" fill="none" marker-start="url(#m8)" marker-mid="url(#m8)" marker-end="url(#m8)"/>
<path d="M1599 2698 943 2615 627 2656 1827 2609 1893 2601 1458 2654 1151 2599 1134 2711 891 2741 1561 2748 1406 2740 652 2599 1717 2597 1174 2739 1495 2751 856 2614 860 2712 1797 2610 941 2650 922 2639 443 2705 983 2608 1530 2597 1199 2654 582 2741 1528 2613 1179 2741 1566 2749 1491 2742 673 2645 1085 2643 734 2713 644 2741 1452 2699 678 2748 689 2743 1750 2738 1547 2637 599 2649 1457 2743 561 2607 799 2650 1830 2698 858 2609 834 2615 761 2755 1383 2746 1041 2741 1128 2749 1893 2637 1535 2604 972 2614 1723 2604 607 2712 841 2705 1387 2701 668 2651 948 2653 789 2712 1392 2603 1385 2599 946 2711 1753 2613 1732 2741 1056 2639 573 2746 1451 2700 1567 2609 764 2697 922 2743 1649 2604 1052 2715 1592 2606 1075 2602 944 2613 1859 2597 1635 2613 1411 2750 980 2745 1829 2709 1528 2602 548 2651 1808 2609 466 2650 673 2650 1523 2713 1292 2715 1130 2705 1267 2604 727 2656 1141 2698 452 2748 1364 2606 1741 2649 1423 2648 1215 2746 1057 2612 497 2748 783 2702 1585 2601 479 2741 1688 2614 1451 2648 713 2740 475 2696 905 2755 1506 2610 626 2608 1585 2614 856 2697 1518 2715 1542 2610 1242 2749 738 2708 1540 2740 443 2750 722 2604 1224 2612 813 2651 466 2746 1275 2755 1915 2615 1819 2604 753 2641 443 2713 1503 2608 1025 2697 1881 2706 1183 2702" fill="none" marker-start="url(#m9)" marker-mid="url(#m9)" marker-end="url(#m9)"/>
<path d="M555 2893 1406 2884 1511 2616 1085 2895 650 2877 860 2894 1058 2623 747 2621 1482 2618 841 2889 1757 2895 473 2620 1377 2893 472 2633 503 2886 1457 2880 614 2624 987 2896 461 2635 686 2624 1877 2628 1177 2889 1256 2623 702 2617 1834 2878 925 2633 1526 2617 1242 2895 828 2621 1912 2878 796 2623 913 2626 1737 2635 450 2630 1194 2881 1739 2891 1481 2627 1858 2895 455 2633 767 2893 925 2886 1729 2620 1368 2887 1012 2890 895 2890 1766 2623 1102 2881 1198 2878 678 2878 1073 2630 1127 2888 1917 2633 1722 2624 444 2887 1342 2894 527 2627 1234 2885 1022 2631 1290 2893 1197 2633 903 2881 443 2618 467 2617 1248 2884 462 2629 1098 2619 1861 2890 650 2878 1856 2622 1046 2893 476 2631 1257 2634 829 2618 1664 2624 1465 2893 1408 2890 1062 2892 868 2885" fill="none" marker-start="url(#m10)" marker-mid="url(#m10)" marker-end="url(#m10)"/>
<path d="M1896 2632 1380 2536 1562 2507 1738 2619 1572 2591 1411 2514 518 2200 1916 2458 510 2462 1890 2510 804 2536 846 2432 614 2542 720 2576 1293 2618 1254 2623 989 2584 1195 2531 1917 2629 653 2530 834 2554 1656 2633 611 2231 514 2555 1190 2634 563 2587 1763 2571 707 2579 1067 2623 443 2383 1586 2186 1194 2535 1272 2527 1396 2548 1661 2584 1650 2586 1712 2482 1790 2582 1597 2436 1874 2617 1305 2529 1383 2624 1228 2510 1102 2632 916 2435 962 2565 1590 2214 1735 2453 1696 2547 1341 2595 916 2539 1723 2636 1114 2593 1569 2517 1280 2556 486 2549 1859 2498 1876 2457 612 2592 870 2554 874 2373 1308 2469 801 2543 1433 2595 1860 2418 737 2448 1642 2536 1233 2593 1188 2624 1359 2633 489 2528 789 2584 798 2616 1156 2575 1069 2524 904 2461 1056 2571 582 2543 1647 2393 1481 2595 527 2565 457 2163 1647 2528 1083 2634 1614 2499 1132 2435 1884 2446 633 2450 637 2487 1544 2472 616 2623 962 2490 1282 2540 1827 2568 1626 2621 820 2500 931 2557 1576 2624 1168 2622 1779 2544 984 2635 1419 2511 1634 2312 1069 2624 906 2349 1575 2563 1566 2515 683 2533 877 2523 864 2488 714 2181 529 2370 1411 2499 1506 2591 1492 2562 1055 2491 637 2562 1632 2634 1804 2628 1663 2527 1241 2631 779 2534 1493 2562 947 2373 1366 2563 542 2587 904 2583 1147 2525 957 2620 1315 2621 1913 2500 1379 2462 1893 2488 1399 2181 1822 2592 1346 2590 475 2370 1170 2579 898 2526 1724 2385 1749 2484 503 2532 670 2422 1638 2565 957 2562 946 2496 1203 2366 1535 2625 485 2569 694 2587 1007 2508" fill="none" marker-start="url(#m11)" marker-mid="url(#m11)" marker-end="url(#m11)"/>
<path d="M1099 2603 1897 2612 705 2606 464 2605 1359 2607 1009 2608 598 2615 553 2606 1677 2611 1588 2612 956 2611 595 2604 1107 2606 1202 2602 1287 2613 822 2610 1551 2606 1905 2607 597 2614 1717 2613 1376 2599 846 2606 1651 2597 973 2614 1258 2607 623 2615 857 2613 1500 2616 805 2615 1876 2602 1314 2596 1512 2606 1889 2615 600 2598 1654 2614" fill="none" marker-start="url(#m12)" marker-mid="url(#m12)" marker-end="url(#m12)"/>
<path d="M1032 2776 1690 2759 1229 2764 1492 2766 1333 2759 952 2770 672 2773 1551 2763 1663 2767 1465 2764 1479 2767 1133 2772 572 2758 963 2764 796 2759 1172 2766 1563 2757 1070 2774 1536 2773 589 2775 1180 2757 520 2773 1800 2757 798 2770 1828 2756 1125 2775 650 2769 1089 2774 1530 2767 1022 2771 1335 2765 1032 2774 950 2771 1129 2759 1462 2766 1011 2772 1252 2761 1503 2768" fill="none" marker-start="url(#m13)" marker-mid="url(#m13)" marker-end="url(#m13)"/>
<path d="M1687 2688 547 2691 544 2788 831 2689 1605 2690 808 2789 842 2683 1651 2693 1117 2792 1813 2833 678 2824 597 2693 1842 2783 977 2785 1576 2678 727 2680 1247 2779 1810 2826 1122 2689 544 2679 711 2827 1645 2691 597 2818 450 2693 1703 2684 1549 2695 648 2795 1485 2819 1393 2678 732 2826 1706 2821 859 2682 1545 2681 1428 2687 780 2786 850 2820 762 2688 508 2677 1739 2832 828 2795 1830 2787 772 2831 722 2684 696 2826 699 2821 1153 2779 1815 2788 1123 2823 653 2683 1573 2690 1790 2787 1376 2788 1877 2786 1321 2831 1214 2679 704 2680 557 2824 1671 2795 1008 2790 1264 2819 651 2833 1530 2824 1104 2680 1308 2688 540 2695 1092 2682 536 2833 1359 2683 535 2787 1254 2789 716 2778 1310 2823 575 2779 1698 2679 1169 2682 1650 2795 879 2818 1867 2689 551 2791 1351 2823 1523 2820 1530 2830 1803 2832 762 2784 463 2817 763 2831 682 2788 1450 2676 1687 2683 1168 2834 1837 2691 949 2826 710 2691 987 2777 1642 2836 1483 2787 1705 2696 1566 2781 1400 2822 513 2689 951 2691 1355 2818 1520 2680 607 2819 1726 2682 1509 2833 1234 2677 1676 2787 942 2684 1689 2781 1091 2792 1636 2692 1303 2795 1050 2679 768 2785 1253 2831 999 2782 1194 2835 1401 2824 1058 2692 1718 2819 1021 2677 882 2778 1565 2823 1242 2690 818 2834 1480 2820 586 2780 1539 2833 1337 2681" fill="none" marker-start="url(#m14)" marker-mid="url(#m14)" marker-end="url(#m14)"/>
<path d="M1903 2802 1571 2753 709 2701 1454 2710 1520 2870 1433 2716 548 2703 638 2733 1579 2722 1660 2845 1301 2812 1664 2850 1378 2713 1747 2744 1914 2809 918 2865 585 2735 1578 2746 564 2714 919 2860 1146 2871 969 2807 1630 2875 462 2743 506 2712 1280 2860 1003 2716 1747 2875 1489 2743 477 2873 1403 2856 960 2737 1667 2732 1293 2696 1552 2754 741 2847 1545 2801 776 2851 1516 2850 1265 2872 1228 2751 1664 2871 1297 2805 1347 2728 1600 2858 527 2867 586 2712 1653 2844 794 2730 1086 2715 1163 2738 583 2841 834 2733 839 2716 1804 2714 1917 2755 1623 2805 605 2701 460 2805 1270 2809 914 2801 857 2753 1629 2735 1248 2864 1774 2848 1791 2858 1297 2858 485 2738 448 2746 555 2837 634 2733 1763 2701 1527 2753 1758 2722 939 2750 1416 2801 1006 2723 632 2713 1877 2842 1657 2800 919 2838 1879 2811 558 2852 1766 2798 849 2852 926 2721 601 2746 1399 2843 800 2870 534 2870 1149 2812 1402 2717 540 2697 1858 2871 800 2810 1536 2741 1259 2868 1860 2726 909 2745 745 2752 1672 2853 1244 2722 607 2702 739 2749 506 2730 1537 2698 1573 2854 1877 2739 784 2811 1898 2739 1781 2716 770 2717 1491 2814 1469 2714 1381 2864 887 2729 1531 2737 1031 2842 1383 2845 1838 2812 497 2717 1596 2813 740 2853 487 2747 1290 2706 631 2732 1376 2852 1749 2724 1097 2809 1182 2730 543 2853 1199 2860 1218 2734 1511 2714 501 2839 804 2805 1459 2848 654 2815 641 2749 1230 2866 1014 2853 629 2738 1548 2847 629 2841 1060 2709 483 2804 760 2801 1754 2698 1687 2729 1308 2842 753 2745 1722 2711 1814 2726 1158 2704 1622 2871 769 2813 1222 2735 663 2713 1841 2726 561 2838 1195 2699 1454 2796 480 2731 1256 2740 566 2701 969 2698 1426 2714 1470 2707 1670 2841 720 2751 1261 2698 670 2868 1730 2706 468 2743 1823 2874 622 2798 1672 2808 735 2852 1767 2851 1100 2701 817 2861 1656 2749 740 2749 724 2743 496 2740 1127 2741 1723 2735 863 2858 1551 2858 779 2745 541 2728 536 2812 854 2864 1229 2796 1257 2869 523 2846 1909 2813 1008 2871 1356 2806 514 2707 1913 2753 729 2840 711 2742 1506 2722 899 2863 478 2799 1199 2740 1081 2805 846 2840 1174 2698 1092 2800 1265 2810 1623 2728 680 2872 636 2702 738 2724 1265 2798 990 2715 464 2730 1240 2714 1519 2870 1290 2743 1848 2854 1673 2708 901 2807 997 2750 1003 2748 493 2845 1449 2811 821 2743 890 2704 518 2722 1276 2838 1642 2841 582 2799 1250 2726 1199 2860 1095 2862 835 2698 1478 2729 634 2836 585 2724 581 2839 1219 2797 645 2872 911 2867 486 2745 1406 2701 815 2814 1707 2856 709 2742 1900 2858 479 2745 1257 2840 1338 2750 1676 2750 1513 2850 1858 2854 1784 2807 1355 2803 814 2715 646 2806 1715 2709 1917 2862 1477 2842 1782 2874 1599 2865 619 2868 1732 2815 916 2859 1348 2701 1132 2850 1387 2698 1585 2799 1269 2864 701 2710 594 2752 1620 2810 1090 2858 1854 2720 802 2712 1443 2847 1458 2814 1313 2708 1522 2704 1643 2718 1135 2814 1304 2727 1748 2726 1772 2800 991 2724 1708 2722 1596 2875 1640 2837 944 2703 1266 2706 888 2811 614 2861 1891 2704 843 2701 814 2865 1611 2863 1619 2806 853 2735 1070 2874 774 2730" fill="none" marker-start="url(#m15)" marker-mid="url(#m15)" marker-end="url(#m15)"/>
<path d="M818 2637 934 2640 606 2650 1084 2639 925 2639 1542 2649 1596 2650 1512 2654 1504 2653 1150 2654 746 2642 738 2644 1239 2650 478 2650 768 2655 756 2654 443 2643 933 2644 1601 2641 1533 2644 1660 2639 512 2640 1877 2654 1335 2646 1497 2642 1800 2638 500 2645 1909 2638 1853 2642 653 2646 1917 2641 1588 2655 1131 2637 1587 2653 582 2639 1158 2643 1273 2643 1098 2647 1627 2641 851 2648 639 2649 1574 2651 1797 2637 1633 2651 1098 2646 719 2649 1635 2641 893 2645 770 2653 1785 2651 1041 2655 1672 2652 1622 2652 1335 2637 972 2638 1412 2637 905 2637" fill="none" marker-start="url(#m16)" marker-mid="url(#m16)" marker-end="url(#m16)"/>
<path d="M894 2658 1139 2674 691 2664 1101 2675 1369 2664 1043 2662 1697 2672 728 2661 1090 2663 1447 2660 1852 2665 1184 2668 1169 2667 1681 2656 1917 2664 1430 2658 953 2666 1176 2668 1610 2656 1677 2659 1159 2657 1588 2668 1890 2665 1510 2669 1282 2668 1899 2660 921 2665 537 2658 825 2668 982 2670 1292 2673 1179 2666 705 2666 1795 2664 1712 2673 1601 2676 1821 2666 1753 2674 911 2669 1298 2657 1818 2670 1016 2662 1776 2663 443 2672 1914 2661 982 2672 1825 2662 1489 2667 1687 2664 456 2662 1451 2661 1631 2673 1736 2668 581 2676 534 2661 542 2667 1752 2665" fill="none" marker-start="url(#m17)" marker-mid="url(#m17)" marker-end="url(#m17)"/>
<path d="M1894 2896 765 2896 694 2896" fill="none" marker-start="url(#m0)" marker-mid="url(#m0)" marker-end="url(#m0)"/>
<path d="M1763 2159 833 2168 675 2168 1351 2149 1095 2173 1884 2161 1279 2139 1162 2161 568 2148 1278 2150 1322 2170 1891 2164 1477 2164 1454 2145 444 2153 1106 2143 1105 2152 1578 2159" fill="none" marker-start="url(#m1)" marker-mid="url(#m1)" marker-end="url(#m1)"/>
<path d="M1188 2312 962 2274 1528 2270 1222 2256 544 2314 1760 2275 1354 2300 1434 2271 1165 2271 1618 2259 1110 2261 673 2274 1500 2297 1618 2311 1037 2270 1473 2300 1805 2299 1285 2312 1671 2274 911 2263 1887 2302 1298 2306 1387 2302 961 2266" fill="none" marker-start="url(#m2)" marker-mid="url(#m2)" marker-end="url(#m2)"/>
<path d="M1140 2382 625 2241 1521 2378 706 2395 1685 2191 749 2242 1134 2188 1428 2204 1040 2198 1049 2394 1206 2180 828 2200 1542 2222 1288 2204 1858 2396 1218 2380 1356 2212 999 2237 1444 2234 1811 2229 1293 2254 1228 2179 1600 2179 1365 2190 1394 2177 1659 2381 1307 2391 1703 2186 498 2222 1369 2225 612 2229 1254 2213 1685 2182 1704 2291 1153 2295 832 2395 566 2177 1594 2201 1448 2245 1863 2253 1019 2212 1613 2284 1257 2229 1750 2220 1730 2215 1852 2218 1752 2250 1699 2181 1197 2215 1481 2388 1782 2252 1315 2394 1705 2213 1144 2191 1529 2244 1386 2276 1268 2248 1206 2203 1214 2245 1598 2379 1540 2246 1463 2248 1493 2180 1612 2280 1364 2216 1740 2381 1511 2291 1143 2224 1817 2218 1056 2288 1359 2211 1641 2280 539 2254 1770 2288 1089 2214 1132 2277 1372 2190 1277 2388" fill="none" marker-start="url(#m3)" marker-mid="url(#m3)" marker-end="url(#m3)"/>
<path d="M712 2341 1008 2406 1470 2372 1209 2406 1064 2353 1287 2402 1398 2368 1739 2345 1011 2413 525 2370 935 2396 1520 2321 443 2345 1253 2322 469 2346 1036 2341 1521 2325 1356 2363 1431 2356 1414 2351 1269 2400 1187 2336 1820 2330 1438 2411 1225 2359 1335 2336 1032 2336 865 2361 1892 2321 1439 2328 1282 2413 1782 2340 1446 2336 1163 2318 996 2411 1335 2409 1604 2342 1887 2344 821 2400 1345 2341 896 2317 1617 2336 1240 2322 1382 2328 1111 2402 586 2408 1518 2367 1610 2400 1649 2333 1819 2366 782 2337 466 2335 925 2336 1055 2405 853 2371 1277 2364 1520 2356 1017 2338" fill="none" marker-start="url(#m4)" marker-mid="url(#m4)" marker-end="url(#m4)"/>
<path d="M1460 2480 1233 2481 1831 2485 1138 2417 996 2434 510 2555 841 2420 443 2425 1698 2471 1603 2463 1183 2539 1646 2490 1092 2539 1837 2495 1252 2464 824 2464 1743 2431 1754 2468 1162 2488 1081 2462 1577 2472 1696 2417 1826 2473 1063 2418 1399 2547 1766 2494 1917 2546 943 2467 1630 2421 1100 2542 1333 2488 1341 2473 707 2554 1208 2490 1699 2553 1370 2420 521 2460 1379 2485 1304 2419 1400 2484 1674 2472 1097 2474 1596 2549 1822 2494 1390 2492 1185 2543 1860 2458 1216 2469 1245 2466 1775 2486 1438 2422 660 2478 1015 2418 1645 2495 1698 2434 988 2549 1869 2536 926 2474 1744 2426 1816 2430 1669 2429 1549 2550 1690 2484 1745 2492 1448 2466 1627 2547 751 2551 1272 2422 1045 2553 1754 2422 1183 2467 1660 2553 719 2543 1419 2555 1497 2434 1581 2549 1553 2539 460 2484" fill="none" marker-start="url(#m5)" marker-mid="url(#m5)" marker-end="url(#m5)"/>
<path d="M1373 2442 1431 2439 607 2532 1139 2516 1840 2533 1139 2521 1382 2529 1737 2511 1161 2509 1776 2443 1685 2444 794 2533 1674 2446 990 2451 1917 2516 1620 2534 1529 2528 1634 2513 1258 2455 1821 2528 1071 2533 1143 2456 970 2534 1201 2535 957 2514 1463 2530 1734 2501 991 2454 1894 2500 1731 2519 780 2527 1645 2517 1218 2438 1568 2441 1676 2524 1055 2508 1487 2443 1896 2505 1540 2452 1532 2441 780 2529 1081 2452 1534 2500 836 2455 1193 2530 1047 2455 1340 2525 1316 2524 1015 2498 1622 2511 1614 2511 1893 2437 1541 2499 1089 2533 1123 2533 1113 2453 1460 2497 1898 2440 1840 2453 1197 2455 950 2516 1587 2513 1337 2437 830 2510 1437 2535 1323 2518 1030 2535 884 2437 1412 2508 1816 2498 1346 2500" fill="none" marker-start="url(#m6)" marker-mid="url(#m6)" marker-end="url(#m6)"/>
<path d="M973 2662 1906 2866 482 2672 768 2870 617 2717 1705 2794 1126 2674 977 2732 1564 2788 892 2677 783 2792 1104 2874 1887 2872 1210 2780 1041 2693 1660 2782 1107 2664 1785 2864 1121 2735 1897 2729 1669 2788 1365 2694 1518 2728 1303 2732 1299 2785 1128 2720 502 2787 449 2728 469 2777 1059 2674 1748 2657 1222 2694 1340 2783 964 2783 762 2860 541 2873 1453 2722 772 2790 1464 2795 443 2777 630 2687 1110 2692 1630 2733 1905 2730 910 2867 549 2656 1316 2871 471 2792 1041 2688 684 2666 814 2693 470 2866 1073 2725 1270 2728 1339 2660 557 2873 918 2718 452 2869 1433 2794 870 2780 1625 2666 1416 2874 1083 2776 1315 2658 1775 2689 1779 2678 831 2865 769 2724 843 2788 1212 2785 443 2869 1309 2659 1658 2669 1581 2662 576 2732 1284 2788 1509 2873 837 2668 891 2735 534 2676 462 2860 1806 2662 1235 2722 1459 2722 443 2796 1154 2695 1491 2792 1103 2793 1739 2671 908 2694 1784 2732 1695 2696 617 2872 1433 2793 1580 2719 1057 2668 1790 2687 1895 2790 992 2862 445 2671 1253 2870 1086 2672 1833 2680 1790 2687 1503 2865 1123 2871 1547 2730 1394 2726 880 2683 896 2696 776 2726 1051 2687 775 2778 1281 2783 658 2873 1517 2682 463 2872 1446 2777 678 2684 465 2730 1909 2676 1221 2666 1236 2776 466 2735 1022 2783 462 2785 1404 2864 1261 2674 1878 2672 1526 2792 1705 2787 1794 2670 1005 2876 1677 2866 1372 2794 1456 2793 937 2858 901 2692 1643 2723 617 2728 919 2687 1770 2862 823 2856 1163 2672 967 2794 1104 2728 449 2783 443 2672 444 2789 462 2677 527 2783 1758 2790 861 2669 1530 2780 946 2873 1773 2728 450 2780 1768 2859 663 2730" fill="none" marker-start="url(#m7)" marker-mid="url(#m7)" marker-end="url(#m7)"/>
<path d="M1523 2775 1701 2830 1433 2591 573 2835 1734 2595 1770 2774 1731 2581 450 2583 625 2809 1569 2558 1444 2577 458 2806 451 2763 1411 2565 1311 2825 1562 2595 740 2590 1917 2817 1766 2567 1801 2834 804 2764 1277 2815 821 2799 948 2588 822 2578 1349 2823 596 2578 982 2570 1378 2841 955 2758 1346 2579 990 2847 448 2759 978 2588 1368 2558 1465 2834 766 2850 1500 2814 1410 2845 1005 2565 1101 2572 1260 2759 1857 2853 908 2801 1725 2809 864 2801 444 2836 1802 2586 1639 2773 1694 2812 454 2761 1485 2558 1297 2804 1425 2567 1168 2564 640 2775 1698 2764 1790 2851 1352 2589 1826 2814 1386 2575 1701 2827 812 2833 470 2567 826 2837 1777 2847 536 2762 1063 2799 553 2765 849 2841 729 2817 1099 2578 1368 2558 1162 2582 1000 2584 1598 2568 976 2584 1131 2815 454 2820 1217 2805 1152 2764 1337 2837 968 2816 1537 2815 1853 2559 1388 2586 855 2815 571 2829 1315 2577 585 2802 1134 2569 1384 2833 1654 2818 1217 2583 454 2769 1447 2847 1784 2851 1640 2768 1474 2850 673 2831 1840 2761 891 2843 1444 2828 960 2768 1893 2830 1060 2765 633 2775 1122 2557 1581 2805 1210 2570 1461 2766 1842 2807 1733 2770 1111 2561 1054 2837 799 2849 1382 2766 1798 2565 1120 2832 1481 2572 1851 2590 734 2773 609 2799 1837 2820 952 2593 1887 2566 1569 2798 974 2838 1462 2593 1739 2576 1152 2828 1847 2826 470 2798 1864 2577 1727 2842 577 2591 505 2833 1084 2821 839 2801 1580 2828 1743 2802 1635 2809 1049 2803 605 2838 1358 2808 1788 2802 1703 2851 1304 2589 1486 2799 1764 2577 511 2842 1586 2587 1323 2774 1566 2842 1629 2557 1638 2593 1217 2563 1018 2833 1528 2760 1191 2855 526 2826 1777 2562 943 2823 1203 2582 443 2767 1483 2595 853 2838 872 2850 1779 2561 1529 2851 1768 2563 1847 2572 832 2571 1768 2582 777 2830 1911 2583 954 2796 628 2836" fill="none" marker-start="url(#m8)" marker-mid="url(#m8)" marker-end="url(#m8)"/>
<path d="M1548 2614 516 2598 1752 2604 1606 2648 1303 2637 1023 2648 1095 2642 1332 2649 1166 2606 1039 2739 1608 2647 1830 2645 1243 2613 714 2749 1057 2642 802 2746 1032 2698 835 2646 1710 2606 1573 2656 534 2751 1174 2609 1833 2610 973 2651 604 2742 459 2755 1211 2708 1556 2736 1880 2601 1156 2700 556 2655 1506 2738 495 2714 1613 2608 913 2652 1631 2744 1747 2639 465 2598 1625 2651 1137 2699 1342 2612 1762 2700 1109 2714 836 2638 991 2696 950 2703 478 2712 1461 2650 1837 2746 459 2696 1102 2645 1340 2644 1780 2738 1811 2609 443 2615 1053 2605 580 2697 1438 2745 1294 2639 649 2751 1326 2640 465 2736 1296 2700 1333 2652 911 2609 1648 2636 1103 2714 956 2706 1545 2744 1864 2643 1453 2638 692 2746 467 2636 1146 2639 827 2654 1753 2715 1262 2743 1844 2602 1256 2746 931 2651 651 2698 454 2745 1562 2709 1396 2652 760 2710 1243 2655 803 2754 1706 2749 1327 2747 1323 2649 462 2738 1778 2698 452 2654 447 2699 990 2650 1868 2644 1660 2616 961 2707 1133 2708 587 2709 446 2638 899 2751 549 2598 673 2637 1189 2605 1497 2602 1740 2739 1606 2615 1616 2608 553 2743 1209 2606 1677 2743 444 2603 978 2748 818 2642 820 2711 1255 2642 1066 2601 1652 2701 1423 2607 1147 2697 690 2738 759 2741 516 2756 1477 2604 661 2714 1269 2607" fill="none" marker-start="url(#m9)" marker-mid="url(#m9)" marker-end="url(#m9)"/>
<path d="M824 2621 1320 2624 1108 2892 1888 2636 443 2628 963 2622 1213 2622 562 2896 706 2878 1917 2619 1019 2621 1904 2879 1375 2888 1255 2623 1833 2886 1132 2890 1602 2890 1868 2888 624 2621 1738 2622 861 2618 1797 2620 552 2628 1006 2635 1445 2626 1384 2877 1291 2880 1837 2629 1438 2887 865 2618 740 2624 1126 2621 655 2634 534 2886 1207 2619 626 2888 836 2634 1014 2887 705 2886 1440 2884 1704 2624 1013 2883 1586 2888 1228 2879 1697 2619 498 2878 474 2623 806 2635 1529 2889 1588 2887 1845 2620 1525 2877 1539 2619 827 2620 1917 2625 1495 2880 1651 2880 1269 2624 699 2623 664 2623 706 2635 1829 2623 1118 2635 1522 2628 809 2893 833 2629 1848 2895 758 2893 1323 2892 1009 2631 607 2881 1852 2887 544 2887 522 2892 595 2620" fill="none" marker-start="url(#m10)" marker-mid="url(#m10)" marker-end="url(#m10)"/>
<path d="M878 2588 1491 2619 1385 2444 1631 2587 464 2435 1516 2574 1271 2457 1611 2588 1418 2504 1817 2349 1268 2485 1243 2194 1245 2487 1563 2559 1459 2271 1136 2591 1784 2284 1023 2591 1052 2629 1248 2436 692 2516 1533 2498 1079 2564 1303 2567 1814 2363 1454 2522 1604 2509 874 2547 1776 2622 471 2591 843 2563 973 2382 1711 2589 1893 2592 1774 2522 1372 2626 922 2586 498 2464 1130 2429 1304 2439 572 2591 1244 2622 1566 2591 1149 2543 1468 2582 1594 2624 986 2593 1557 2581 1005 2212 1010 2276 1000 2325 954 2504 1861 2560 543 2514 879 2583 720 2505 1206 2629 1759 2462 1875 2558 1785 2511 1913 2568 1555 2587 1457 2207 1728 2484 975 2632 622 2593 1815 2619 1570 2594 468 2566 1274 2515 1869 2546 712 2622 443 2564 1071 2568 1418 2573 552 2526 827 2556 929 2562 1583 2404 591 2498 1912 2429 451 2499 1871 2575 952 2419 756 2546 867 2454 919 2632 1077 2491 1066 2627 1523 2401 1665 2515 955 2587 665 2570 682 2422 1618 2390 1682 2559 720 2537 1224 2335 583 2582 1559 2635 727 2528 1882 2628 1628 2591 1644 2530 1377 2565 1649 2631 806 2306 786 2617 1254 2529 471 2582 520 2404 1175 2497 1644 2462 563 2393 932 2621 916 2407 1067 2488 1209 2547 1479 2542 543 2568 1445 2596 601 2425 1368 2411 1708 2582 477 2584 1209 2538 967 2618 446 2590 1738 2488 1491 2477 1887 2581 1041 2543 1065 2622 1599 2368 1100 2626 758 2466 982 2312 1680 2584 1777 2501 698 2624 893 2382 953 2325 1305 2624 1539 2595 810 2462 1633 2522 1420 2622 957 2636 580 2629 509 2566 983 2463 910 2584 786 2565 571 2621 1230 2591 795 2559 1214 2534" fill="none" marker-start="url(#m11)" marker-mid="url(#m11)" marker-end="url(#m11)"/>
<path d="M1766 2605 1396 2608 791 2610 1844 2614 564 2613 1139 2604 1380 2613 854 2600 496 2610 1569 2602 1848 2602 517 2607 696 2608 844 2604 573 2610 1653 2609 444 2602 1570 2610 1826 2604 1655 2610 1596 2603 658 2598 1774 2603 918 2599 801 2599 1835 2602 1623 2604 653 2606" fill="none" marker-start="url(#m12)" marker-mid="url(#m12)" marker-end="url(#m12)"/>
<path d="M1129 2758 1246 2768 1861 2760 798 2775 766 2768 741 2762 1305 2766 1756 2770 1806 2761 1053 2772 1546 2769 1350 2758 1897 2766 1357 2766 1107 2762 1541 2761 1317 2757 1823 2757 1586 2762 1306 2768 760 2770 1809 2769 529 2759 1258 2764 904 2758 1541 2762 1266 2771 576 2763 1331 2775 972 2770 898 2758 866 2757 1284 2756 1062 2761 697 2761 566 2763 1820 2758 1192 2768 628 2775" fill="none" marker-start="url(#m13)" marker-mid="url(#m13)" marker-end="url(#m13)"/>
<path d="M709 2786 987 2795 928 2789 1310 2817 1105 2819 1726 2689 1667 2691 1641 2790 1220 2684 1534 2793 857 2820 1015 2829 1796 2691 742 2792 585 2828 954 2694 664 2688 1077 2820 1281 2684 527 2690 1619 2784 1765 2688 598 2832 830 2687 583 2777 1805 2780 578 2832 1905 2683 710 2686 1177 2779 1074 2680 1582 2828 1119 2821 1002 2832 719 2779 1175 2684 1142 2787 1534 2795 1578 2784 1181 2825 1593 2788 665 2824 721 2831 641 2781 1850 2691 922 2828 1728 2787 1917 2689 682 2681 1406 2835 570 2828 1618 2783 1667 2676 1205 2681 934 2785 851 2788 1858 2783 790 2823 966 2831 492 2833 1432 2816 1260 2820 1265 2676 460 2688 494 2789 1111 2827 1556 2687 758 2796 1028 2777 762 2831 1843 2826 1020 2830 1295 2682 958 2825 1715 2781 1015 2795 530 2682 1894 2679 955 2781 1266 2680 1742 2816 946 2785 1298 2686 632 2683 1272 2787 1001 2834 1584 2825 744 2685 1730 2830 1236 2828 792 2795 1792 2689 1459 2788 1148 2696 1452 2776 1022 2831 1422 2835 1776 2836 1024 2688 869 2794 454 2676 1414 2795 639 2818 1720 2817 661 2820 601 2830 1040 2794 1835 2785 817 2692 1904 2683 1008 2694 1826 2793 680 2834 545 2828 1838 2833 463 2682 1901 2817 941 2688 790 2796 1364 2823 681 2793 482 2779 808 2836 1773 2693 1302 2689 452 2696 645 2677 775 2679 799 2687 1728 2780 736 2827 1804 2778 1516 2830 1638 2819 1226 2833 1077 2676 541 2826 497 2789 1313 2793 840 2790 1422 2784 548 2684" fill="none" marker-start="url(#m14)" marker-mid="url(#m14)" marker-end="url(#m14)"/>
<path d="M1667 2851 1510 2722 1257 2841 1595 2734 681 2735 731 2743 1488 2746 1053 2697 1416 2698 1094 2866 1342 2865 456 2725 781 2862 488 2874 1302 2799 858 2870 1395 2841 1243 2738 779 2748 784 2712 1002 2716 893 2842 994 2738 535 2848 1526 2806 978 2710 1026 2728 956 2854 515 2874 1144 2721 1580 2808 1577 2814 683 2742 977 2731 1485 2745 485 2802 1456 2863 1366 2851 1697 2859 853 2858 782 2867 1605 2746 1210 2867 617 2838 1749 2746 1428 2737 1221 2801 1635 2810 932 2708 692 2843 1485 2703 1581 2733 533 2716 1115 2866 1194 2842 1358 2752 1533 2862 997 2699 1666 2873 1427 2697 545 2740 539 2718 716 2855 1302 2812 522 2864 1729 2813 1481 2744 1909 2875 1127 2852 909 2813 915 2869 1367 2849 1527 2749 526 2860 1472 2724 856 2804 1755 2736 599 2801 639 2807 1221 2728 1533 2864 1275 2739 1146 2809 1454 2731 1086 2751 1739 2813 1086 2731 714 2749 923 2711 1042 2857 1444 2797 694 2799 752 2847 922 2739 1418 2802 809 2740 1542 2875 1244 2753 1062 2743 908 2707 591 2716 1507 2837 1789 2810 519 2699 1128 2815 1375 2705 518 2870 1856 2752 647 2802 977 2860 1544 2715 1429 2876 667 2716 1917 2804 1513 2702 1699 2701 1021 2717 1450 2711 554 2868 647 2856 654 2808 1824 2745 1587 2717 703 2746 1841 2848 485 2713 1266 2799 1175 2864 1390 2873 742 2875 1490 2812 524 2867 829 2741 830 2844 1358 2803 1647 2741 1353 2840 490 2746 1890 2733 765 2739 1121 2801 1661 2721 1611 2747 915 2802 1866 2870 1325 2734 1883 2873 977 2853 1833 2865 1023 2751 1661 2797 482 2734 760 2711 1604 2837 800 2797 790 2851 1656 2735 1392 2698 582 2736 459 2751 540 2804 765 2717 887 2797 686 2753 559 2857 797 2754 1110 2724 1098 2846 766 2700 517 2716 949 2856 1453 2853 583 2805 1683 2722 1368 2845 1224 2732 824 2839 744 2852 1782 2850 1788 2706 895 2716 591 2722 1804 2729 462 2698 1043 2715 599 2718 981 2797 1752 2747 958 2813 790 2749 639 2845 1252 2733 958 2865 1652 2743 760 2860 1705 2798 668 2847 1674 2698 1026 2726 1654 2797 577 2813 1339 2719 489 2703 919 2700 1341 2736 1556 2814 1462 2864 1883 2806 1111 2722 720 2855 495 2706 1401 2718 1882 2802 635 2724 1490 2708 885 2739 957 2859 1470 2800 589 2847 1503 2807 1724 2813 1019 2740 1252 2719 505 2747 1331 2706 1541 2717 1161 2804 1683 2810 1550 2740 1021 2713 922 2867 897 2697 1500 2700 587 2713 1321 2846 856 2816 860 2865 890 2699 651 2851 1608 2706 520 2870 1110 2875 485 2738 1453 2733 535 2745 965 2836 647 2742 1136 2723 882 2718 739 2868 1499 2702 907 2713 1713 2845 1055 2711 1758 2796 897 2753 1899 2730 1892 2875 733 2709 868 2855 1667 2756 1336 2745 965 2734 1185 2812 1891 2862 565 2735 513 2837 1584 2742 482 2710 1393 2813 1031 2697 1036 2742" fill="none" marker-start="url(#m15)" marker-mid="url(#m15)" marker-end="url(#m15)"/>
<path d="M542 2648 1582 2651 997 2655 884 2637 1084 2641 1000 2640 1806 2643 1197 2645 1532 2649 1707 2648 504 2643 1316 2638 596 2652 786 2638 532 2643 820 2636 1803 2640 843 2638 1384 2644 1856 2637 872 2647 1100 2642 1582 2637 1880 2643 878 2646 1531 2652 1123 2647 946 2640 1249 2649 1401 2638 1106 2647 926 2648 879 2651 1056 2640 1836 2641 1092 2647 1917 2642 1239 2652 749 2638 677 2637 1080 2649 1368 2651 997 2648 1805 2653 1262 2655 1654 2653" fill="none" marker-start="url(#m16)" marker-mid="url(#m16)" marker-end="url(#m16)"/>
<path d="M1794 2656 1750 2675 1715 2665 717 2667 1081 2663 1284 2660 784 2672 1741 2669 1057 2663 1862 2675 1796 2657 935 2663 1707 2664 942 2661 1592 2669 524 2661 1903 2675 1051 2675 907 2670 1877 2660 1424 2659 1405 2660 814 2672 1381 2664 474 2671 1267 2661 1912 2664 675 2660 881 2670 1815 2670 1410 2664 1592 2665 633 2657 623 2670 1220 2674 1728 2675 1858 2660 827 2673 844 2664 811 2670 983 2661 1587 2662 695 2673 1721 2664 678 2661 559 2673 783 2670 690 2668 1638 2671 1318 2665 902 2673 1135 2672 929 2662" fill="none" marker-start="url(#m17)" marker-mid="url(#m17)" marker-end="url(#m17)"/>
<path d="M1302 2896 458 2896 1612 2896 1088 2896 1917 2896" fill="none" marker-start="url(#m0)" marker-mid="url(#m0)" marker-end="url(#m0)"/>
<path d="M1453 2170 1502 2156 1033 2172 1866 2151 1275 2154 1152 2165 1778 2150 1723 2171 1039 2142 989 2145 740 2168 1805 2148 1382 2150 770 2143 1315 2140 1769 2143 1838 2143 1554 2162" fill="none" marker-start="url(#m1)" marker-mid="url(#m1)" marker-end="url(#m1)"/>
<path d="M1490 2299 1639 2273 1359 2305 1032 2311 1451 2296 1351 2300 1258 2262 1714 2299 614 2264 1604 2306 1017 2301 1641 2307 1505 2315 1128 2271 1527 2266 1884 2311 1413 2316 1467 2261 1184 2307 1091 2297 1917 2275 1550 2265 1447 2312 516 2265 1860 2314 1745 2256 1509 2267 1451 2271 1298 2299" fill="none" marker-start="url(#m2)" marker-mid="url(#m2)" marker-end="url(#m2)"/>
<path d="M1613 2295 1651 2223 1150 2177 830 2278 1651 2293 1462 2179 1463 2386 1159 2219 1256 2277 752 2192 1021 2199 1908 2252 1171 2285 1023 2203 1447 2223 685 2197 1508 2230 926 2295 1569 2198 1027 2279 1824 2186 1117 2206 1802 2182 1333 2378 1107 2179 1786 2254 1079 2250 1067 2248 999 2280 986 2237 1346 2203 1529 2278 1514 2211 1083 2230 1347 2192 1294 2236 1462 2252 1089 2223 1853 2378 1228 2190 1160 2236 1808 2182 1373 2379 1062 2232 609 2285 1765 2238 1226 2277 1336 2242 1732 2251 1060 2226 1340 2251 1818 2384 1383 2230 978 2246 1462 2387 1361 2296 991 2282 1154 2256 1465 2194 1202 2186 1815 2291 1241 2195 1794 2206 1638 2382 1088 2234 1731 2389 1079 2289 839 2219 456 2292 443 2243 603 2212 1483 2285 1508 2239 1054 2231 1486 2281 1640 2382 453 2183 1574 2224 1853 2284 1320 2190 1681 2278 1792 2256 1016 2295 1129 2394 868 2178" fill="none" marker-start="url(#m3)" marker-mid="url(#m3)" marker-end="url(#m3)"/>
<path d="M1899 2406 1505 2333 1208 2368 1854 2331 1631 2415 1350 2322 601 2340 1363 2319 1166 2373 1749 2375 1509 2410 1699 2402 1401 2399 1452 2341 1440 2322 1457 2355 1570 2334 1752 2345 1525 2414 1150 2398 1171 2341 1883 2354 1864 2407 1543 2320 603 2344 1817 2329 1305 2319 1617 2368 644 2351 1307 2344 1777 2414 1711 2353 866 2335 1322 2407 1868 2361 1721 2320 1475 2401 1437 2413 1382 2328 1389 2324 1323 2412 1377 2346 1256 2358 1361 2372 1456 2342 1259 2411 1284 2325 1387 2351 1772 2410 1428 2399 1185 2357 1385 2404 1599 2349 1804 2342 1578 2324 1861 2375 663 2374 1002 2332 1272 2399 1365 2407 1034 2397 1750 2348 1907 2342 1837 2357 1859 2373 1813 2414 1540 2358 1303 2404 777 2325 1064 2401 1326 2373 1761 2357 1659 2318 528 2319 1759 2338 1102 2340 985 2405" fill="none" marker-start="url(#m4)" marker-mid="url(#m4)" marker-end="url(#m4)"/>
<path d="M1637 2492 1068 2553 1154 2421 732 2429 1276 2466 881 2416 1687 2484 1712 2432 1799 2463 465 2466 1625 2483 1514 2430 1802 2545 835 2473 940 2546 1001 2537 1737 2459 1324 2476 1894 2459 999 2480 1893 2418 1592 2463 666 2537 1288 2470 1075 2429 1559 2486 1399 2492 1860 2547 1852 2546 1690 2542 807 2496 1893 2478 1618 2472 1013 2461 1683 2539 937 2547 1483 2537 1127 2496 1579 2435 1338 2459 1733 2552 1556 2429 1783 2468 1725 2484 1204 2543 1368 2463 1004 2548 1000 2555 1367 2417 1531 2542 1266 2427 970 2538 1776 2552 1222 2426 1468 2495 1034 2465 1803 2549 1376 2435 590 2418 1057 2544 1432 2460 1917 2431 1178 2427 1575 2417 1421 2543 564 2462 1551 2487 1479 2468 1207 2474 1101 2478 1423 2542 1050 2431 1481 2493 1854 2487 1400 2418 1296 2461 1190 2545 1826 2430 1811 2483 1204 2539 1895 2419 852 2462 1820 2419 1445 2418 1642 2466 1131 2467 1217 2477 1754 2421 1860 2552 1090 2466 1404 2481 1666 2492 1888 2472 1543 2423 1917 2471 1081 2428" fill="none" marker-start="url(#m5)" marker-mid="url(#m5)" marker-end="url(#m5)"/>
<path d="M1298 2446 577 2527 1492 2444 1749 2517 1058 2454 1802 2502 1220 2531 1140 2502 1343 2512 717 2506 1851 2518 563 2509 1372 2525 1420 2506 1909 2508 1804 2531 1815 2522 1804 2448 756 2531 798 2530 1224 2523 1423 2522 1228 2503 898 2439 1535 2535 1838 2447 724 2514 493 2445 1714 2535 1306 2526 1601 2529 1097 2520 950 2437 1413 2436 1875 2447 1529 2536 497 2499 728 2437 1132 2516 1914 2515 1530 2535 953 2526 1087 2517 1226 2438 1739 2444 1825 2452 1067 2534 1215 2502 1904 2516 1454 2517 1004 2499 1305 2448 1606 2501 1206 2521 795 2511 1714 2532 1152 2439 1234 2526 568 2514 1163 2514 622 2446 1142 2499 1572 2441 777 2452 1888 2514 1662 2528 1426 2446 1658 2455 1054 2529 1855 2528 1685 2449 1561 2530 1769 2531 1357 2439 503 2509 1731 2536 1234 2503 1453 2502 1008 2533 1318 2514 1765 2497 1596 2500 985 2509 1047 2447" fill="none" marker-start="url(#m6)" marker-mid="url(#m6)" marker-end="url(#m6)"/>
<path d="M1696 2688 1307 2722 1249 2687 521 2788 1147 2688 1732 2859 848 2687 537 2735 1540 2686 1434 2875 1877 2789 508 2685 778 2684 1568 2671 624 2663 903 2677 1245 2661 453 2790 878 2723 1640 2876 736 2781 970 2690 1626 2656 895 2782 1234 2676 942 2679 1438 2869 508 2673 649 2871 556 2790 1769 2678 469 2792 445 2672 845 2723 1511 2694 985 2857 1059 2867 919 2729 781 2683 1161 2690 801 2696 1595 2789 1704 2719 1798 2781 1722 2668 640 2793 1726 2673 850 2873 1370 2688 967 2662 1294 2659 1716 2872 1259 2872 1642 2692 1630 2735 443 2673 1564 2724 577 2663 1259 2734 1102 2688 1488 2793 1085 2734 1569 2695 443 2726 454 2720 1841 2727 443 2869 1112 2778 734 2656 1872 2727 658 2787 456 2794 1338 2865 455 2869 1822 2663 1697 2864 1238 2684 487 2864 484 2683 775 2673 1331 2727 1221 2668 1897 2794 864 2728 1778 2665 673 2731 917 2679 1460 2721 578 2688 626 2869 545 2873 1292 2720 484 2656 1400 2681 590 2859 756 2793 1021 2692 519 2794 1685 2785 1143 2732 1896 2729 1438 2777 1704 2694 1008 2870 1310 2863 1158 2659 444 2663 481 2684 1163 2870 443 2696 1041 2719 1029 2692 448 2795 469 2661 759 2864 1894 2790 1060 2730 1094 2657 527 2872 1607 2732 839 2731 1365 2791 1733 2657 1284 2667 996 2662 617 2659 1345 2779 473 2786 1632 2870 625 2867 886 2725 443 2871 650 2662 635 2680 704 2727 1301 2870 1327 2674 479 2665 1391 2676 1636 2682" fill="none" marker-start="url(#m7)" marker-mid="url(#m7)" marker-end="url(#m7)"/>
<path d="M1875 2583 1320 2590 1009 2775 1205 2825 452 2823 1457 2569 1240 2563 1423 2823 1345 2588 1607 2824 1771 2569 1451 2772 868 2805 644 2845 1008 2824 1651 2576 1228 2572 787 2773 446 2816 971 2768 1765 2594 1535 2558 1048 2566 805 2811 1802 2829 1741 2760 1012 2583 1355 2766 478 2854 697 2776 1634 2809 564 2819 1416 2594 1281 2810 1482 2587 1085 2811 1313 2567 1036 2577 462 2847 458 2856 1027 2846 1281 2797 1746 2831 1751 2759 1660 2565 1554 2581 1854 2577 892 2818 523 2558 1294 2852 681 2766 1834 2566 1341 2841 501 2822 1302 2814 1806 2583 844 2843 916 2581 744 2580 1092 2591 1546 2822 1152 2593 471 2835 958 2815 1862 2801 570 2594 1659 2818 1144 2836 1649 2805 1805 2570 1817 2843 1557 2809 1802 2811 1646 2818 1066 2812 1289 2775 845 2844 1569 2852 1725 2829 789 2801 1850 2842 1318 2596 1816 2763 992 2761 1634 2815 1625 2854 826 2760 1363 2799 1520 2592 1757 2574 470 2756 1225 2775 1891 2805 1067 2571 1779 2828 1636 2573 874 2811 1319 2573 1320 2774 1827 2561 456 2856 612 2808 1653 2585 1684 2583 595 2818 503 2820 1524 2584 1297 2576 773 2559 1277 2806 1012 2817 1518 2833 970 2569 1051 2588 1084 2824 1572 2802 765 2761 1802 2828 1048 2567 937 2775 1151 2758 1691 2804 1917 2562 894 2800 618 2589 952 2797 1435 2839 874 2572 1574 2587 1612 2849 1829 2845 1883 2771 1209 2564 955 2770 1239 2568 891 2568 893 2586 463 2830 599 2833 528 2849 882 2807 559 2836 1832 2767 1461 2583 1689 2852 848 2807 1358 2773 1538 2842 678 2771 905 2815 619 2822 591 2579 1333 2813 1244 2575 863 2771 1488 2760 1210 2582 1387 2773 1732 2804 1636 2855 1500 2557 820 2845 447 2764 662 2769 645 2852 1320 2840 1513 2582 1325 2585 1260 2840 1383 2839 535 2831 1154 2573 1225 2809" fill="none" marker-start="url(#m8)" marker-mid="url(#m8)" marker-end="url(#m8)"/>
<path d="M1310 2741 1877 2649 931 2737 1797 2599 707 2737 1052 2705 1589 2609 1869 2605 463 2652 1503 2713 1542 2711 493 2652 1253 2654 1273 2747 1499 2711 966 2610 443 2651 1200 2750 760 2742 919 2707 1022 2654 1465 2642 443 2748 1088 2644 1917 2603 1480 2753 590 2705 633 2747 1347 2746 743 2703 448 2706 1084 2609 458 2647 1880 2599 458 2703 927 2712 1142 2638 478 2739 1560 2615 443 2755 972 2709 1838 2647 467 2697 988 2740 484 2641 515 2697 780 2700 1045 2700 761 2753 1592 2645 520 2737 721 2603 1498 2600 1450 2641 1184 2606 560 2710 1664 2654 1377 2742 1095 2636 571 2716 660 2715 502 2645 475 2638 455 2606 1509 2705 1507 2614 768 2610 963 2715 1299 2605 1039 2641 1299 2747 1676 2612 1042 2700 868 2744 708 2639 819 2638 1895 2696 977 2748 703 2747 1073 2706 1747 2744 1142 2750 1593 2699 789 2699 1085 2705 755 2742 1837 2741 1009 2709 1149 2745 511 2651 1842 2756 1444 2709 1051 2615 1341 2604 1303 2745 1286 2605 488 2638 1615 2697 1548 2648 1801 2597 1015 2712 443 2644 610 2751 1335 2609 1534 2637 1388 2609 1443 2653 463 2703 1627 2709 1354 2648 707 2601 450 2743 1799 2699 510 2644 1217 2610 1055 2696 641 2638 1258 2597 459 2597 1472 2744 570 2739 704 2741 640 2639 786 2708 829 2738 1177 2697 1321 2706 1674 2747 443 2710 559 2738 1845 2747 443 2711 1446 2646 1911 2702 1619 2637 879 2706 1607 2610 1216 2613 1405 2713 692 2703 1819 2655 1819 2706 1760 2708" fill="none" marker-start="url(#m9)" marker-mid="url(#m9)" marker-end="url(#m9)"/>
<path d="M1057 2882 1649 2618 535 2895 1498 2883 1181 2891 554 2628 994 2629 738 2635 1190 2618 1878 2882 1126 2616 1238 2893 483 2887 1654 2632 731 2630 1398 2893 1304 2879 673 2896 1273 2635 878 2881 682 2624 1841 2619 1870 2891 1113 2893 1103 2626 1697 2880 1351 2896 1627 2622 1023 2879 452 2633 1511 2887 575 2885 463 2886 1896 2880 1018 2880 1609 2626 452 2879 1179 2632 1238 2620 463 2879 1208 2895 991 2619 1795 2630 1622 2886 1547 2622 1388 2890 1217 2891 1422 2888 1886 2625 1197 2888 1797 2886 1219 2616 1826 2890 753 2619 679 2878 1584 2619 1909 2878 559 2618 1562 2624 483 2879 1193 2617 1759 2894 1807 2620 464 2628 1172 2895 1363 2624 1729 2623 666 2630 1248 2889 613 2622 1495 2629 1685 2878 1571 2621 1467 2893 686 2883 1325 2623 1617 2625 930 2631 1460 2622 1444 2894" fill="none" marker-start="url(#m10)" marker-mid="url(#m10)" marker-end="url(#m10)"/>
<path d="M1245 2592 1054 2491 675 2583 622 2392 1736 2484 1683 2513 1675 2585 861 2523 1370 2532 990 2408 815 2565 1449 2621 995 2523 1567 2571 1242 2415 908 2580 855 2625 1176 2507 1749 2563 1311 2503 1365 2327 807 2596 1302 2549 802 2592 1850 2564 1074 2589 1004 2552 1076 2545 1161 2555 1812 2550 495 2505 602 2489 719 2595 1769 2634 1182 2555 1453 2580 1895 2518 506 2584 1522 2231 1328 2363 743 2486 1838 2618 1246 2627 979 2593 1404 2527 863 2539 1506 2618 1609 2425 1828 2596 684 2562 1838 2594 597 2577 944 2618 1659 2511 768 2450 1512 2503 1274 2588 1845 2564 726 2535 1424 2618 1649 2181 1634 2484 1724 2485 1059 2486 1579 2534 1307 2583 1150 2571 615 2593 1577 2233 1546 2471 1096 2580 451 2544 1615 2625 1892 2519 777 2434 778 2621 1551 2631 1573 2557 1341 2547 1078 2576 812 2509 1373 2619 557 2634 596 2501 1720 2588 584 2368 457 2587 695 2573 839 2535 1456 2509 906 2505 832 2592 1486 2234 1478 2550 1515 2564 1445 2624 1605 2285 1692 2580 1540 2501 582 2451 1739 2426 779 2520 1413 2626 1253 2540 1659 2636 1024 2573 837 2494 1736 2467 1305 2581 510 2623 733 2629 1048 2636 1436 2546 1203 2618 1154 2453 918 2433 1066 2621 725 2442 501 2620 1398 2530 870 2617 544 2575 583 2464 810 2529 481 2297 1810 2497 1583 2634 1164 2628 953 2558 1437 2423 1314 2620 1632 2401 757 2545 586 2491 671 2476 1899 2495 1255 2559 966 2499 1183 2554 1364 2546 1366 2560 812 2566 459 2590 763 2560 1626 2534 1719 2591 1158 2633 1615 2633 860 2525" fill="none" marker-start="url(#m11)" marker-mid="url(#m11)" marker-end="url(#m11)"/>
<path d="M1378 2599 1541 2610 998 2614 1665 2602 1286 2603 1806 2607 588 2609 1540 2602 1601 2616 447 2604 1541 2604 469 2611 487 2597 1150 2615 1627 2608 1529 2597 581 2603 1439 2604 1538 2602 555 2605 975 2597 727 2596 653 2605 914 2602 1747 2602 831 2604 1836 2596 1663 2605 526 2612 786 2609" fill="none" marker-start="url(#m12)" marker-mid="url(#m12)" marker-end="url(#m12)"/>
<path d="M1150 2767 819 2760 1850 2763 1531 2766 1152 2763 1029 2760 1720 2771 1306 2767 817 2776 1434 2768 1014 2773 1260 2763 1049 2761 1790 2765 1414 2768 1055 2764 1157 2762 1381 2760 1034 2768 1463 2765 1371 2773 916 2766 636 2775 1592 2768 539 2775 1338 2761 1078 2763 1808 2769 1303 2759 559 2775 551 2768 1608 2764" fill="none" marker-start="url(#m13)" marker-mid="url(#m13)" marker-end="url(#m13)"/>
<path d="M798 2794 1427 2787 1361 2835 898 2796 1184 2784 1341 2821 598 2834 1474 2680 1829 2692 1534 2685 1553 2793 968 2682 1915 2793 1660 2786 1291 2778 601 2829 1340 2795 464 2817 852 2676 896 2777 1287 2687 1543 2796 1558 2827 625 2834 1208 2677 689 2833 894 2779 1355 2796 623 2690 1342 2827 533 2695 1412 2835 447 2826 1614 2784 467 2682 1782 2784 957 2684 1266 2788 1766 2681 1319 2694 1344 2793 625 2823 1264 2787 535 2682 783 2691 1787 2790 650 2834 511 2781 1693 2817 926 2780 803 2790 955 2817 1407 2780 471 2693 1811 2684 1000 2683 1821 2835 480 2693 1322 2791 501 2790 948 2681 1610 2832 1596 2830 1126 2685 1168 2818 491 2816 1438 2818 975 2678 754 2785 1629 2831 1885 2793 1816 2787 1031 2678 649 2796 1199 2782 1440 2690 1521 2828 1917 2686 719 2831 1104 2794 521 2686 702 2794 1039 2833 835 2832 1536 2687 576 2690 1709 2779 1252 2786 1176 2827 515 2829 1614 2791 741 2686 1591 2822 1835 2784 804 2827 763 2817 1059 2688 1008 2817 1739 2783 542 2823 1544 2820 845 2781 1833 2690 1027 2781 1570 2795 829 2680 486 2681 780 2780 637 2786 1115 2823 1732 2688 1462 2791 568 2777 460 2825 1737 2687 1732 2794 1594 2790 1911 2831 1156 2787 553 2823 1655 2680 1837 2822 892 2824 1081 2785 1414 2681 1339 2793 906 2788 1278 2823 1688 2791 1132 2687 1298 2783 516 2817 817 2677" fill="none" marker-start="url(#m14)" marker-mid="url(#m14)" marker-end="url(#m14)"/>
<path d="M1440 2751 1623 2858 480 2838 1432 2809 933 2863 719 2705 561 2851 708 2814 1757 2876 1683 2860 984 2870 717 2713 1127 2733 1080 2846 1032 2855 1503 2841 1493 2805 1729 2837 1365 2815 574 2748 1590 2746 874 2804 1573 2848 1875 2755 1676 2869 1475 2715 1029 2718 1224 2851 526 2851 478 2746 1116 2721 1091 2744 932 2736 1663 2734 1137 2747 1825 2866 797 2709 601 2863 675 2725 1816 2803 1664 2839 1676 2806 1685 2732 1327 2733 1830 2798 1031 2838 1875 2838 1400 2840 885 2747 839 2810 1467 2711 737 2704 1788 2809 1193 2839 1144 2696 850 2837 844 2752 1599 2868 455 2710 1072 2703 988 2730 615 2747 744 2841 1238 2725 1009 2813 1417 2697 1304 2742 1745 2709 914 2867 557 2753 735 2736 1186 2718 482 2716 739 2755 1404 2739 447 2725 1583 2730 1000 2800 694 2866 1538 2812 931 2854 530 2847 1635 2839 1221 2852 765 2851 1251 2718 796 2699 658 2743 1403 2743 1705 2751 1594 2858 710 2854 1285 2723 1156 2797 576 2866 1080 2852 1433 2802 811 2807 869 2698 1336 2708 1272 2750 763 2847 1829 2849 642 2746 1813 2869 1478 2853 1869 2733 473 2699 1263 2814 1696 2798 1247 2700 668 2805 1329 2716 493 2849 1281 2705 771 2870 1439 2811 1866 2876 982 2739 1917 2804 759 2799 1499 2754 1485 2816 1750 2699 1653 2707 792 2866 1678 2806 1288 2845 882 2803 1517 2851 1135 2738 671 2806 462 2727 913 2721 735 2704 819 2855 1503 2836 1722 2734 1520 2727 1116 2875 1906 2814 1850 2715 839 2747 876 2750 457 2734 1827 2851 1728 2869 517 2752 911 2708 1479 2852 1372 2844 678 2804 1613 2808 1810 2740 1794 2731 1849 2711 672 2868 1911 2721 1767 2851 1454 2742 488 2726 1102 2841 645 2845 580 2846 992 2722 448 2869 878 2844 1000 2722 1145 2849 1466 2736 1570 2716 1179 2856 1363 2874 663 2750 1396 2704 996 2697 817 2708 1537 2847 1389 2868 822 2846 1291 2864 1453 2872 560 2838 1782 2726 938 2706 443 2866 1145 2731 1597 2812 443 2863 1155 2715 524 2702 1864 2727 1041 2698 934 2802 1331 2836 705 2728 1494 2725 1536 2756 1185 2746 640 2740 1527 2752 1402 2740 1088 2839 1342 2846 892 2699 1620 2843 1853 2857 1190 2866 1610 2810 1778 2858 1165 2726 714 2841 1912 2813 1456 2869 1357 2804 1330 2717 1212 2742 498 2868 539 2848 470 2815 1398 2802 1609 2868 1325 2730 516 2708 753 2862 1259 2728 583 2809 1795 2808 473 2843 540 2849 1031 2706 1879 2744 505 2713 814 2851 449 2746 623 2733 937 2848 793 2709 470 2740 1143 2729 668 2722 443 2715 812 2852 708 2698 1697 2724 1343 2860 1671 2747 1276 2849 603 2847 1589 2801 1015 2861 1504 2805 1081 2867 1861 2855 443 2810 860 2803 1554 2850 754 2749 1260 2856 834 2749 1314 2755 1796 2845 1565 2705 836 2706 1727 2806 1136 2718 1817 2798 1166 2841 594 2702 1878 2869 1269 2852 974 2874 764 2731 1765 2743 624 2707 1316 2746 677 2862 1067 2750 451 2797 1482 2845 638 2853 616 2712 1511 2836 787 2737 841 2722" fill="none" marker-start="url(#m15)" marker-mid="url(#m15)" marker-end="url(#m15)"/>
<path d="M1651 2650 1887 2636 1498 2653 1237 2645 574 2655 1541 2649 1508 2651 539 2645 1437 2636 1561 2652 1300 2642 1141 2645 1033 2645 525 2653 892 2654 1460 2656 1684 2637 1417 2639 1134 2647 1409 2638 1032 2653 986 2644 1259 2649 1916 2642 1077 2644 1252 2649 534 2646 1139 2653 1508 2650 1903 2655 687 2642 834 2655 1128 2641 871 2641 1471 2654 1461 2653 1608 2639 1001 2646 1889 2639 1419 2651 1828 2650 1055 2649 1076 2654 903 2649 703 2645 1857 2640 1208 2654 1230 2655 929 2655 706 2644" fill="none" marker-start="url(#m16)" marker-mid="url(#m16)" marker-end="url(#m16)"/>
<path d="M910 2666 679 2664 1722 2660 506 2660 1336 2674 1124 2661 1807 2670 883 2671 1371 2672 1517 2668 1003 2657 1330 2672 600 2665 1165 2671 639 2665 1879 2663 1431 2664 738 2656 1237 2669 1217 2657 1821 2674 478 2659 1326 2672 634 2661 1378 2662 1618 2656 802 2666 593 2665 657 2670 590 2673 1314 2658 566 2656 1697 2664 1669 2661 1480 2668 1034 2668 1462 2666 943 2670 1846 2664 952 2664 962 2660 1683 2674 1702 2665 926 2674 1385 2662 627 2674 461 2660 970 2660 1669 2658 1151 2667 1086 2670 1890 2674 1271 2659 778 2672 734 2659 704 2671 1341 2658 603 2665 1005 2656 1654 2670" fill="none" marker-start="url(#m17)" marker-mid="url(#m17)" marker-end="url(#m17)"/>
<path d="M1900 3826" fill="none" marker-start="url(#m18)" marker-mid="url(#m18)" marker-end="url(#m18)"/>
<path d="M996 3800 1828 3796 1057 3684 718 3694 635 3748 1011 3667 952 3690 469 3750 1541 3784 1900 3744 1592 3778 772 3653 1881 3797 1489 3713 1761 3651 1703 3784 1301 3687 707 3733 1716 3685 1189 3790 1355 3718 1781 3705 831 3774 1587 3753 689 3694 800 3734 1350 3803 1724 3751 1585 3707 1089 3656 626 3780 927 3646 1424 3693 1543 3664 1857 3740 552 3785 651 3651 933 3646 1147 3750 1392 3692 1628 3684 1560 3670 960 3763 1216 3715 1412 3721 468 3711 557 3651 560 3693 1337 3784 1325 3710 1410 3708 718 3670 767 3711 528 3757 1134 3781 1057 3754 1301 3699 1170 3674 1364 3775 1061 3662 1381 3699 875 3791 1302 3657 1087 3666 1632 3680 634 3781 1143 3662 565 3661 1783 3799 560 3663 1229 3684 1497 3715 1329 3800 1771 3790 836 3653 1320 3784 1262 3675 1224 3802 1104 3769 494 3676 979 3800 1433 3648 821 3760 1116 3733 666 3788 805 3711 1248 3748 1017 3762 1736 3739 1187 3659 1240 3780 955 3784 632 3655 1635 3743 443 3769 443 3790 533 3657 980 3726 1115 3662 811 3666 1041 3723 1749 3650 1718 3786 1433 3766 820 3787 642 3782 1020 3687 623 3644 747 3759 1551 3651 904 3770 1114 3779 503 3787 905 3772 1379 3732 1828 3803 927 3699 703 3650 1006 3710 481 3737 939 3787 1227 3651 1576 3794 892 3764 1055 3756 1788 3658 1583 3645 1356 3769 1885 3790 1913 3673 1212 3796 1052 3717 753 3802 703 3782 934 3757 1483 3762 947 3767 1252 3754 1069 3727 1164 3664 972 3654 1751 3731 793 3666 570 3787 535 3749 1353 3759 659 3691 1477 3695 1161 3648 875 3765 1031 3710 1180 3770 1618 3800 983 3724 1700 3738 721 3797 643 3647 1514 3678 1176 3743 1839 3678 824 3655 1735 3720 857 3732 761 3708 1610 3800 1774 3663 1537 3681 1541 3743 1403 3699 1176 3716 861 3666 1278 3647 452 3654 1378 3782 1459 3765 894 3651 497 3648 1637 3644 1224 3661 1317 3643 1907 3797 1208 3695 981 3723 808 3659 684 3647 943 3686 1402 3750 1716 3757 1268 3756 729 3674 538 3691 1515 3709 554 3793 977 3735 743 3684 1474 3649 1616 3776 794 3754 965 3667 1122 3746 868 3684 1487 3783 1025 3720 1884 3767 1717 3732 983 3730 1763 3698 1917 3790 1241 3685 1890 3688 562 3703 1054 3791 1697 3719 605 3656 1364 3786 1129 3670 1148 3745" fill="none" marker-start="url(#m19)" marker-mid="url(#m19)" marker-end="url(#m19)"/>
<path d="M1604 3808 1781 3818 1447 3812 1610 3811 1276 3813 668 3810 451 3822 674 3818 1080 3815 1328 3817 973 3820 1023 3816 1389 3822 703 3807 1328 3807 1622 3818 801 3823 621 3823 554 3812 1255 3805 1168 3812 1188 3813 661 3809 1751 3815 1342 3805 1681 3810 1235 3820 950 3814 484 3823 509 3822 1288 3814 1023 3809 1073 3803 1266 3813 954 3815 1089 3814 802 3812 1123 3808 1473 3813 445 3816 1863 3815 506 3817 1166 3821 1679 3814" fill="none" marker-start="url(#m20)" marker-mid="url(#m20)" marker-end="url(#m20)"/>
<path d="M444 3630 1725 3629 504 3638 835 3634 518 3629 1421 3624 1577 3627 1663 3629 599 3635 581 3625 709 3630 647 3624 1031 3624 546 3628 1794 3625 875 3639 590 3628 1063 3636 481 3628 1579 3631 1581 3638 839 3624 1750 3634 1575 3629 890 3625 626 3624 510 3624 680 3628 685 3630 581 3638 878 3635 808 3624 1520 3625 747 3640 616 3639 1228 3641 1321 3629 1584 3642 1419 3627 1410 3628 804 3633 716 3631 502 3641 1380 3628 702 3633 960 3632 1294 3638 528 3624 1125 3627 785 3627 797 3625 801 3637 656 3625 1221 3624 1688 3638 851 3630 1351 3629" fill="none" marker-start="url(#m21)" marker-mid="url(#m21)" marker-end="url(#m21)"/>
<path d="M809 3606 1403 3604 1479 3621 1542 3608 1122 3622 788 3613 696 3604 1015 3606 1190 3615 1379 3611 601 3610 755 3613 815 3608 690 3615 623 3614 494 3608 1427 3613 678 3612 1822 3618 1694 3609 1295 3617 531 3616 1161 3607 713 3606 626 3614 1616 3622 1007 3603 1562 3617 476 3615 728 3615 1443 3618 1855 3615 674 3613 956 3618 677 3603 827 3610 1822 3608 500 3614 1061 3618 561 3621 486 3607 543 3605 1626 3608 483 3617 1321 3609 820 3611" fill="none" marker-start="url(#m22)" marker-mid="url(#m22)" marker-end="url(#m22)"/>
<path d="M508 3429 443 3465 508 3499 478 3372 461 3536 577 3557 459 3509 474 3529 459 3478 443 3553 443 3516 456 3512 540 3550 447 3550 503 3425 512 3465 443 3501 443 3533 459 3505 517 3358 489 3415 507 3486 488 3534 478 3430 520 3529 460 3424 486 3547 513 3482 443 3504 443 3512 443 3545 494 3494 473 3393 464 3512 443 3464 443 3434 460 3389 460 3399 501 3551 563 3541" fill="none" marker-start="url(#m23)" marker-mid="url(#m23)" marker-end="url(#m23)"/>
<path d="M1422 3358 1457 3484 1255 3560 1128 3383 1590 3395 1514 3489 1038 3459 1241 3530 1582 3382 1078 3562 1719 3543 1671 3456 1044 3490 1105 3541 1123 3281 1132 3483 1312 3394 1081 3499 1488 3406 1154 3553 1265 3434 1722 3480 1416 3524 1592 3525 1732 3437 954 3366 957 3540 1323 3306 1425 3461 1240 3523 1644 3525 1890 3506 1543 3477 1317 3526 1287 3542 1101 3521 1873 3510 1357 3277 1478 3514 1253 3436 1362 3531 1700 3524 1757 3546 1691 3452 1489 3478 1828 3475 1772 3522 965 3559 999 3504 1800 3524 1761 3548 1439 3505 1380 3543 1537 3535 1780 3561 897 3425 1787 3543 1450 3545 1266 3467 1839 3556 1322 3551 1320 3469 1836 3554 975 3476 1335 3541 1069 3464 1403 3450 1535 3535 1183 3482 1159 3561 1908 3549 1468 3551 1586 3540 1431 3236 1440 3304 1479 3467 1292 3430 1870 3546 1142 3525 995 3405 1211 3389 1800 3497 1567 3263 1031 3407 1001 3503 1756 3562 1484 3403 1698 3476 1498 3401 1364 3484 1618 3508 932 3542 1911 3445 991 3486 1126 3385 1233 3535 941 3560 1048 3550 1579 3409 1255 3561 1371 3553 1430 3490 1090 3555 1615 3536 1405 3542 1300 3375 1550 3408 1597 3501 1238 3452 1610 3450 1712 3527 1173 3440 1310 3503 1777 3490 1241 3493 1600 3513 1795 3460 1914 3500 1217 3499 1006 3257 1172 3473 1343 3434 1456 3323 1183 3428 900 3506 1778 3450 1270 3489 1275 3483 965 3525 1065 3429 1666 3517 1032 3461 1566 3514 1333 3456 1441 3499 1346 3462 970 3535 1222 3466 1792 3560 1515 3521 1232 3399 978 3365 1188 3367 1291 3544 896 3560 1182 3195 1155 3372 965 3504 1713 3491 1626 3521 1892 3538 1078 3539 1692 3550 1034 3561 1613 3536 1336 3561 1726 3455 1017 3343 1173 3283 1854 3554 1021 3514 997 3310 1587 3560 1188 3536 1068 3495 1569 3540 1224 3550 1522 3561 1181 3483 986 3557 1398 3386 1454 3333 1192 3330 965 3361 1716 3509 1394 3559 1884 3562 1376 3537 919 3537 1075 3424 977 3376 1384 3466 1034 3467 1104 3504 1603 3483 1171 3377 1003 3510 1432 3461 1340 3362 1009 3541 1298 3271 1288 3396 1219 3525 1699 3460 1509 3238 1729 3562 916 3548 1318 3471 1362 3442 1535 3388 1343 3500 1592 3541 1636 3541 1390 3410 1537 3492 1024 3537 1858 3549 1814 3525 1091 3488 1842 3559 1882 3518 1277 3274 1041 3378 1742 3466 1570 3559 1906 3465 1853 3233 1134 3342 1364 3253 1702 3469 1300 3505 999 3438 1327 3439 1752 3552 1585 3344 1400 3505 1401 3323 1825 3365 1501 3432 1716 3524 1246 3493 1052 3385 1001 3454 1250 3558 1609 3511 1778 3556 1233 3376 1233 3331 1247 3474 1264 3483 1577 3562 1410 3460 1546 3501 1554 3517 1779 3440 1105 3316 1051 3507 1632 3406 1571 3496 1290 3557 1861 3533 1414 3540 1112 3487 987 3461 1440 3508 1032 3545 1373 3447 1312 3379 1286 3519 1793 3516 1129 3394 1642 3257 1048 3485 1614 3556 1227 3507 1000 3471 1858 3563 1303 3491 920 3504 1067 3492 1849 3518 1431 3447 967 3521 1401 3417 1190 3388 1664 3495 1166 3481 1376 3543 1291 3532 963 3543 975 3529 920 3527 1342 3555 1401 3528 1689 3486 1781 3456 1705 3538 1443 3413 1324 3559 1603 3485 1001 3527 1234 3558 1911 3557 1278 3463 1008 3561 1572 3513 1534 3502 939 3339 1858 3553 1454 3547 1506 3513 1150 3464 1411 3416 1794 3499 1281 3463 1068 3487 1161 3526 1389 3394 1835 3494 1548 3502 1216 3537 1238 3452 1481 3517 1172 3275 1477 3556 1305 3221 1374 3311 1452 3496 1021 3522 1307 3422 1145 3528 1232 3364 1323 3261 952 3490 1106 3443 1665 3426 985 3517 1748 3362 907 3529 1666 3553 1169 3541 1507 3426 1731 3556 1729 3559 1095 3454 1164 3241 1491 3450 1138 3521 978 3446 1662 3383 1715 3522 1173 3432 1040 3533 1629 3551 1031 3536 1456 3525 1749 3526 1453 3561 1442 3509 909 3373 1656 3459 1846 3556 1591 3519 1025 3235 1149 3228 1776 3477 999 3469 1394 3458 1144 3556 1846 3502 1379 3560 1185 3554 1536 3494 1335 3531 1023 3446 1076 3533 1786 3493 1688 3527 968 3495 1251 3472 1049 3522 1674 3531 1323 3513 1682 3555 1562 3535 1524 3354 1644 3549 1627 3532 1204 3562 1795 3509 1463 3449 1810 3549 1243 3447 943 3448 1586 3553 1250 3529 1838 3478 1400 3510 1458 3443 897 3424 1441 3321 992 3487 1539 3516 978 3532 1874 3547 1719 3548 1186 3549 1683 3272 1165 3475 1138 3513 1232 3349 1403 3274 1730 3509 1328 3223 1769 3485 1500 3376 1824 3471 1578 3494 1379 3519 1567 3441 1383 3332 1267 3458 1455 3234 1193 3326 1257 3473 1393 3557 1594 3534 1786 3489 1065 3512 924 3528 1455 3474 1568 3391 1563 3516 1547 3557 1576 3554 959 3533 1561 3425 1452 3336 1258 3416 1180 3401 1315 3497 1797 3490 1308 3422 1763 3548 1376 3513 936 3470 1086 3537 1806 3495 1386 3375 1465 3356 1186 3319 1735 3428 1544 3398 1515 3439 1422 3558 1204 3495 1618 3476 941 3544 1331 3436 1164 3532 1605 3495 1493 3336 1343 3235 1763 3353 1582 3533 1326 3550 1221 3429 1223 3407" fill="none" marker-start="url(#m24)" marker-mid="url(#m24)" marker-end="url(#m24)"/>
<path d="M671 3576 1436 3600 1108 3580 1698 3580 1661 3610 1484 3608 1415 3566 492 3575 1175 3604 1804 3572 1912 3593 454 3571 919 3610 1423 3564 995 3571 445 3579 1659 3575 1168 3579 1257 3573 1305 3580 1628 3587 991 3572 1369 3612 908 3602 952 3575 1346 3585 1301 3612 1801 3622 1836 3564 1059 3600 1914 3565 1018 3595 1856 3577 1016 3570 1798 3568 1337 3582 1695 3589 1812 3602 1052 3598 929 3569 1101 3582 921 3597 1162 3631 1876 3575 1154 3637 1525 3571 1754 3597 1883 3571 1438 3578 1110 3616 1118 3607 1335 3579 1301 3569 1045 3601 474 3567 1262 3603 1823 3565 1338 3622 1294 3570 942 3603 1400 3580 1428 3566 1855 3582 682 3583 1782 3580 1430 3580 1152 3600 1705 3592 1031 3571 1669 3599 1320 3566 1893 3570 1647 3575 941 3565 1564 3590 1879 3578 1597 3571 1169 3577 1815 3576 1585 3582 1099 3583 1072 3574 1283 3597 1493 3572 989 3570 1434 3571 1787 3571 900 3579 1352 3570 1858 3567 1469 3565 1894 3576 1767 3563 1835 3577 1153 3581 1752 3569 554 3575 1468 3569 1286 3583 1118 3594 1105 3578 1078 3627 1045 3581 443 3583 931 3566 885 3614 729 3581 1345 3582 1474 3575 1392 3580 1092 3602 1713 3574 1019 3566 1718 3572 1695 3569 1883 3566 1863 3606 1885 3579 1420 3582 1260 3592 970 3607 1887 3577 1771 3577 1542 3593 565 3579 1743 3569 1861 3614 1316 3619 1300 3574 1795 3598 1856 3575 957 3570 1803 3574 1125 3619 1469 3597 1849 3572 962 3564 1454 3570 1412 3578 1217 3616 1157 3619 1885 3632 1832 3581 1631 3576 1757 3568 1699 3581 903 3581 1538 3575 1520 3579 1687 3586 1241 3600 1035 3581 1544 3580 1349 3604 1238 3563 1851 3580 1532 3575 1827 3579 1246 3569 1257 3581 743 3574 1139 3630 1307 3573 1127 3590 1838 3570 1728 3564 1003 3572 1069 3595 1445 3591 1574 3615 1441 3609 1605 3572 1626 3575 1753 3604 1371 3564 1725 3580 1397 3564 1810 3572 556 3582 1502 3572 1890 3601 1282 3615 459 3564 891 3567 1332 3577 1072 3576 1534 3580 1498 3587 1427 3574 1500 3573 1903 3580 1376 3580 1865 3569 1252 3598 1180 3574 956 3597 449 3564 1908 3572 1542 3587 1872 3567 913 3582 1222 3577 997 3575 1240 3576 1337 3568 1221 3604 1080 3589 1143 3566 1727 3575 1157 3606 1336 3589 1765 3577 1310 3594 892 3608 921 3618 528 3572 1515 3568 1627 3573 1143 3579 1837 3581 1494 3573 1656 3580 1353 3576 1555 3570 1526 3571 998 3579 1861 3568 1897 3566 1883 3612 1879 3578 511 3581 1130 3576 1050 3594 1676 3563 453 3575 1526 3610 1722 3611 1374 3602 1702 3580 1272 3591 1213 3565 1280 3594 1269 3585 1600 3579 1508 3583 1602 3602 1058 3580 1012 3589 1470 3585 1531 3605 928 3575 1195 3567 1083 3574 1371 3570 1161 3582 1587 3581 1380 3581 1382 3582 1700 3567 1030 3573 1319 3568 1112 3629 1485 3572 1168 3574 1800 3634" fill="none" marker-start="url(#m25)" marker-mid="url(#m25)" marker-end="url(#m25)"/>
<path d="M878 3585 1308 3587 740 3589 1543 3586 1015 3587 1287 3597 1796 3586 1511 3585 1875 3583 932 3589 604 3583 925 3585 846 3586 554 3585 1123 3583 541 3592 1564 3587 1243 3589 1108 3591 1086 3593 905 3589 967 3587 1800 3589 1629 3595 1187 3598 899 3594 800 3601 1658 3593 568 3596 1844 3591 1109 3586 640 3586 1831 3584 1774 3583 1844 3589 1118 3592 935 3593 1869 3596 1804 3590 564 3601 619 3592 1698 3603 1592 3591 1530 3598 1365 3590 1708 3585 1326 3588 1757 3589 563 3596 481 3597 1166 3584 1401 3591 1836 3584 560 3596 1571 3584 1042 3586 923 3591 443 3587 851 3597 1381 3584 1559 3590 501 3586 1236 3587 1509 3583 1428 3584 1797 3590 1683 3590 1243 3598 703 3600 1712 3586 484 3585 452 3584 1646 3585 658 3599 855 3592 1122 3586 1571 3602 1566 3591 1354 3586 1701 3590 1168 3589 1312 3588 1170 3585 988 3588 617 3594 1395 3598 1300 3587 1473 3586 807 3599 1543 3591 579 3589 1831 3584 1433 3595 470 3588 864 3585 1297 3595 1569 3584 1540 3589 1214 3596 1284 3598 1157 3586 497 3588 1886 3591 1334 3584 1533 3587 469 3585 1754 3587 1076 3589 1070 3585 1649 3590 717 3598 946 3587 1401 3590 1582 3589 1083 3584 1096 3592 935 3592 1675 3587 1411 3596 1868 3586 532 3584 937 3585 1255 3591 953 3584 1525 3588 1826 3598 1023 3591 1299 3588 1030 3591 1369 3587 934 3590 1888 3588 1604 3593 1880 3590 1405 3588 904 3584 633 3599 494 3591 1428 3586 1092 3584" fill="none" marker-start="url(#m26)" marker-mid="url(#m26)" marker-end="url(#m26)"/>
<path d="M624 3513 932 3565 653 3552 741 3528 735 3541 824 3521 697 3529 701 3510 750 3511 727 3507 698 3563 711 3524 614 3396 972 3533 510 3543 701 3536 779 3501 688 3378 681 3465 835 3431 680 3299 978 3468 668 3559 703 3514 737 3504 661 3507 702 3508 689 3492 735 3549 840 3553 836 3546 806 3584 834 3296 772 3556 775 3446 674 3536 526 3463 751 3591 589 3509 800 3401 532 3569 711 3575 797 3452 769 3552 656 3592 726 3439 752 3477 682 3465 765 3459 712 3589 607 3574 674 3509 563 3584 794 3561 750 3578 730 3479 938 3494 610 3532 717 3578 699 3327 855 3380 659 3455 734 3484 898 3537 639 3363 626 3526 854 3534 751 3506 732 3499 568 3555 792 3528 797 3521 831 3481 694 3565 739 3346 702 3431 782 3575 757 3564 701 3530 698 3542 809 3444 634 3591" fill="none" marker-start="url(#m27)" marker-mid="url(#m27)" marker-end="url(#m27)"/>
<path d="M1114 3127 780 3161 761 3291 1173 3085 941 3093 1785 3074 999 3228 894 3097 772 3320 1108 3285 1668 3145 1692 3373 1633 3091 1866 3070 1849 3124 1250 3273 973 3223 1644 3182 1176 3328 1189 3285 916 3303 854 3167 1502 3077 453 3359 1910 3209 1766 3309 1361 3307 1703 3061 1427 3088 980 3097 1014 3378 1003 3153 1877 3062 1013 3153 1725 3087 1824 3207 913 3377 444 3328 819 3205 1740 3062 1792 3232 1651 3179 589 3210 1644 3334 461 3117 1377 3220 827 3148 1366 3203 850 3064 855 3132 1407 3201 1826 3184 1894 3141 1377 3255 1876 3136 1037 3114 549 3334 1618 3220 1629 3122 1669 3190 1890 3318 1036 3218 1851 3105 685 3304 1248 3115 901 3342 571 3183 774 3341 1302 3201 1060 3064 841 3200 963 3150 1511 3145 1105 3339 1231 3281 463 3057 1479 3111 888 3130" fill="none" marker-start="url(#m28)" marker-mid="url(#m28)" marker-end="url(#m28)"/>
<path d="M714 3493 569 3411 595 3413 570 3490 540 3446 822 3418 688 3499 832 3372 778 3307 741 3453" fill="none" marker-start="url(#m29)" marker-mid="url(#m29)" marker-end="url(#m29)"/>
<path d="M737 3522 564 3503 676 3508 743 3516 684 3536" fill="none" marker-start="url(#m30)" marker-mid="url(#m30)" marker-end="url(#m30)"/>
<path d="M1394 3474 1049 3460 1555 3431 1452 3337 1367 3376 1326 3387 1452 3331 1752 3804 1124 3474 1770 3442 1449 3538 1849 3808 1425 3493 539 3805 1378 3298 1572 3517 1455 3457 1837 3514 1231 3463 1068 3516 907 3498 1003 3531 1130 3507 1256 3524 1148 3473 1555 3239 1013 3508 1182 3542 975 3535 1242 3516 1289 3346 1409 3528 1345 3346 1068 3503 1444 3189 1513 3522 1178 3804 1317 3494 993 3811 1041 3517 1563 3196 1723 3415 1073 3496 918 3445 1507 3464 1638 3475 1342 3516 1772 3533 1458 3419 709 3808 1225 3374 1655 3805 1702 3540 1502 3353 1019 3540 1214 3415 1840 3474 1518 3402 1247 3528 1321 3500 1351 3811 1842 3805 1917 3812 911 3481 1523 3485 1674 3451 1388 3520 1229 3438 1376 3448 953 3490 1493 3439 1044 3468 1690 3804 1419 3501 994 3422 1814 3807 1635 3455 1230 3487 1176 3813 1193 3429 1288 3199 1896 3811 1241 3521 1339 3370 1643 3805 1559 3190 1314 3522 1801 3512 989 3513 830 3811 1417 3414 1159 3452 1529 3511 1239 3534 1372 3504 1258 3807 1554 3532 1104 3458 1373 3501 1528 3464 1047 3437 1205 3517 1040 3812 1774 3295 1257 3241 1787 3393 1384 3507 1505 3445 1478 3429 1742 3806 1099 3523 1616 3513 1315 3267 1177 3224 1248 3533 1136 3317 1333 3811 1775 3804 1181 3528 1547 3392 1339 3491 1829 3523 510 3806 1600 3508 1504 3526 901 3538 1791 3296 1063 3390 1023 3367 963 3463 1166 3490 695 3811 1392 3207 1065 3514 1116 3337 1812 3458 1460 3324 1281 3446 1828 3810 1765 3805 1098 3379 1377 3811 902 3514 1450 3368 1355 3279 1156 3519 1170 3327 1369 3427 1145 3810 1169 3389 998 3807 636 3811 1899 3503 1186 3449 1852 3537 1171 3474 1683 3498 1787 3535 1849 3452 961 3807 1215 3511 1262 3528 1380 3531 1397 3416 1846 3383 971 3341 1618 3432 1017 3533 1094 3433 1483 3520 1123 3413 1034 3538 1569 3326 1104 3370 1030 3803 953 3502 1399 3508 607 3808 1721 3400" fill="none" marker-start="url(#m31)" marker-mid="url(#m31)" marker-end="url(#m31)"/>
<path d="M1668 3582 1267 3576 1545 3581 1792 3572 1276 3577 1799 3559 1637 3568 1615 3554 1380 3569 1175 3564 901 3551 1360 3552 1532 3581 1356 3562 939 3566 1431 3565 1479 3571 1740 3564 1006 3543 649 3545 1868 3555 1759 3568 1451 3572 1535 3583 1725 3582 1439 3552 978 3566 1678 3567 1006 3578 1616 3565 1153 3543 1206 3563 943 3578 1341 3572 1804 3553 1640 3549 1678 3577 1530 3569 823 3573 1568 3554 656 3572 1750 3565 1063 3562 909 3549 1855 3572 1253 3563 1134 3581 697 3556 1906 3554 1782 3558 1713 3572 1881 3579 1068 3556 1365 3563 1295 3557 743 3553 1865 3557 1209 3562 1905 3558 931 3552 1887 3574 598 3569 1267 3557 1784 3574 1363 3550 1293 3568 1315 3568 1617 3548 931 3554 1451 3580 1828 3545 1763 3554 578 3553 1519 3561 1515 3545 1565 3552 1264 3577 1128 3555 1636 3563 1651 3553 960 3577" fill="none" marker-start="url(#m32)" marker-mid="url(#m32)" marker-end="url(#m32)"/>
<path d="M1278 3764 1270 3707 854 3773 1873 3727 1150 3708 1665 3723 509 3737 1917 3718 1455 3733 1696 3728 1158 3782 858 3719 1532 3736 757 3714 1366 3721 1224 3741 971 3728 554 3713 1590 3722 1430 3707 1523 3706 584 3716 962 3767 1832 3721 482 3718 1019 3734 1367 3775 1157 3716 1646 3720 1530 3709 1237 3707 638 3764 1584 3705 1629 3704 1618 3731 1261 3731 1369 3743 629 3719 532 3769 1329 3726 1917 3782 1001 3724 1494 3734 1051 3778 806 3741 1727 3729 814 3732 1879 3766 1301 3782 1767 3718 1658 3782 782 3779 468 3741 1720 3725 443 3735 922 3767 1752 3771 925 3764 1076 3773 1733 3730 659 3723 494 3772 1648 3768 851 3721 1741 3734 983 3718 805 3732 969 3743 478 3726 970 3709 1889 3718 1293 3768 1324 3713 1734 3728 707 3769 621 3767 1765 3714 1125 3778 1876 3740 810 3781 554 3769 1643 3783 963 3775 657 3742 650 3768 1024 3778 557 3766 1479 3735 1695 3715 1321 3707 1461 3730 663 3733 1390 3732 698 3719 537 3710 1762 3768 751 3715 765 3708 1100 3722 563 3719 1278 3722 1620 3725 1380 3710 1917 3772 1850 3775 1595 3706 1917 3713 1283 3739 1464 3725 1432 3782 806 3705 1910 3773 1547 3732 1784 3717 1776 3728 1419 3779 798 3776 503 3716 1677 3718 500 3720 946 3713 1559 3716 997 3712 1167 3705 1717 3725 1321 3715 1337 3729 880 3764 1217 3768 1413 3763 1548 3764 680 3723 1566 3703 443 3713 1661 3738 909 3780 1691 3714 1633 3716 836 3767 855 3782 595 3774 1779 3707 1159 3713 1454 3718 530 3710 894 3739 1586 3730 664 3727 1687 3742 1499 3778 1673 3722 1067 3711 769 3775 578 3729 1807 3739 1907 3721 1528 3780 1714 3712 1166 3764 667 3719 766 3711 1781 3712 628 3707 1634 3733 1254 3718 1672 3731 745 3724 894 3729 1156 3712 447 3726 1809 3741 1529 3721 1598 3782 872 3704 933 3708 1834 3783 1334 3730 690 3713 646 3719 1298 3721 1355 3715 1442 3735 859 3720 1911 3724 1552 3782 748 3721 726 3733" fill="none" marker-start="url(#m33)" marker-mid="url(#m33)" marker-end="url(#m33)"/>
<path d="M1010 3647 1206 3633 1012 3589 805 3700 1189 3796 948 3649 1057 3649 1057 3589 1777 3678 448 3674 1617 3640 949 3596 1547 3650 1085 3661 501 3700 1123 3798 915 3637 462 3688 875 3800 665 3668 1186 3646 1026 3637 1050 3662 586 3647 1663 3649 801 3638 859 3630 569 3594 1174 3703 584 3642 685 3787 1566 3591 1474 3761 1328 3692 1399 3589 725 3672 1578 3793 766 3784 1058 3648 592 3633 892 3650 1629 3651 789 3701 1583 3588 1031 3650 835 3790 1110 3641 1801 3598 1734 3691 1032 3660 515 3685 913 3656 1008 3601 1547 3631 529 3597 1910 3683 1104 3627 1628 3747 1306 3640 1344 3670 1911 3788 1705 3639 687 3680 1121 3632 590 3594 917 3745 641 3589 813 3637 570 3594 1189 3626 761 3636 1592 3674 963 3678 482 3631 1366 3749 1911 3676 448 3677 1711 3649 866 3695 1009 3663 764 3802 811 3750 1316 3634 636 3664 1677 3626 680 3700 610 3696 1747 3651 1485 3784 591 3794 1682 3759 1453 3696 443 3796 855 3680 1623 3649 792 3789 1805 3679 573 3638 1564 3699 1136 3687 1119 3627 443 3591 568 3746 1497 3655 1376 3761 1840 3688 964 3675 656 3762 1536 3656 731 3758 527 3641 581 3802 1275 3598 539 3786 1534 3674 1325 3698 759 3750 630 3589 1774 3594 1410 3761 790 3650 562 3665 523 3665 605 3689 1103 3596 608 3702 1896 3791 1386 3752 1510 3657 781 3600 1012 3759 1023 3683 727 3667 540 3749 600 3743 976 3587 1884 3630 1571 3680 744 3682 1350 3693 584 3668 1448 3659 655 3677 1542 3667 1702 3702 654 3758 1382 3797 1424 3666 1310 3632 1355 3634 492 3679 935 3637 1580 3634 1124 3650 1002 3691 1648 3794 1017 3695 552 3666 469 3653 1584 3601 1188 3638 1909 3685 1175 3600 614 3683 1715 3659 1917 3674 905 3750 1634 3588 942 3659 1802 3676 1499 3624 1748 3693 1547 3657 1470 3690 754 3665 1749 3752 464 3750 832 3664 1824 3679 1668 3797 705 3795 617 3668 1825 3757 773 3753 1047 3646 1739 3663 716 3654 1331 3657 657 3756 1634 3685 652 3659 1657 3784 1747 3688 1241 3692 1589 3796 1629 3628 1242 3751 1207 3642 1167 3649 1675 3691 701 3786 1606 3699 1864 3682 563 3663 446 3650 1150 3588 1277 3799 1115 3756 1901 3587 584 3631 460 3676 1044 3759 1348 3792 543 3797 1835 3747 736 3759 475 3656 1303 3684 865 3799 768 3641 1554 3650 1838 3754 1448 3667 699 3747 1272 3671 1300 3689 1422 3647 1413 3624 578 3757 795 3641 1409 3694 462 3659 1132 3593 689 3791 1238 3692 575 3680 1278 3683 1488 3585 1544 3661 825 3636 752 3675 548 3657 1915 3747 930 3588 1274 3664 1359 3787 1872 3744 767 3646 1794 3761 1449 3670 719 3747 575 3600 760 3646 1822 3654 1010 3694 1592 3592 1810 3588 1062 3596 1854 3651 1564 3624 488 3626 1004 3634 767 3786 1886 3757 1188 3801 536 3647 1219 3746 994 3754 585 3600 1833 3692 1135 3699 443 3668 1221 3674 662 3797 925 3591 1450 3647 996 3689 930 3591 1679 3689 603 3596 919 3638 989 3589 1697 3594 1826 3653 1401 3599 1641 3763 1773 3630 1174 3785 1520 3700 1742 3667 1354 3748 865 3680 1471 3798 1765 3663 1540 3595 804 3689 1265 3634 704 3657 1718 3587 1917 3699 1832 3752 1042 3747 532 3593 1159 3681 1683 3697 1346 3689 1911 3595 1626 3634 1584 3640 1764 3598 1436 3689 1556 3655 1248 3687 681 3589 856 3747 1698 3668 1301 3677 1770 3681 527 3658 1384 3601 1447 3662 1862 3642 1273 3593 1339 3669 1744 3592 1192 3668 1643 3799 1125 3684 1790 3800 1350 3657 1380 3758 698 3758 1169 3700 946 3600 1061 3636 1644 3702 1225 3669 600 3744 762 3637 1538 3639 1186 3792 921 3797 1389 3801 793 3628 1478 3592 1790 3634 1501 3585 1729 3624 1052 3688 765 3692 1077 3632 1310 3678 1736 3655 545 3753 1185 3792 1070 3744 1368 3677 869 3629 1377 3744 1815 3589 1856 3588 1227 3587 637 3629 695 3601 1851 3789 1416 3755 1199 3758 1553 3591 1301 3691 750 3679 1835 3589 1417 3667 1319 3655 1774 3788 1253 3693 1835 3800 640 3746 1111 3791 1321 3761 898 3675 1789 3653 1266 3655 589 3668 1147 3760 745 3688 590 3655 900 3591 1023 3796 759 3664 445 3795 1441 3634 1844 3789 1684 3589 1536 3626 1629 3645 1329 3626 1710 3757 1474 3785 529 3749 1176 3630 500 3631 680 3631 1038 3783 1672 3630 1602 3689 1037 3626 1526 3653 1477 3603 1843 3636 1351 3626 1017 3784 1120 3698 566 3696 922 3789 701 3633 1326 3668 1681 3696 1735 3593 1362 3754 1712 3624 1077 3640 992 3676 1255 3589 1292 3596 1614 3625 564 3801 1464 3629 1251 3590 1892 3624 1089 3601 1540 3702 611 3675 551 3800 1320 3701 1054 3592 1102 3693 1459 3663 1166 3688 1384 3635 889 3654 518 3634 1222 3638 1523 3754 460 3595 661 3633 1164 3700 1418 3602 1566 3650 500 3795 632 3669 1368 3589 1405 3653 553 3681 1370 3651 1246 3668 1577 3760 1473 3652 1298 3690 579 3659 1809 3665 1384 3688 1466 3665 894 3596 830 3682 1800 3592 884 3643 601 3794 1048 3632 1313 3791 507 3650 1408 3628 995 3678 470 3798 1430 3640 1265 3628 1275 3640 577 3792 1294 3787 1335 3701 1898 3590 884 3747 1418 3786 766 3626 882 3651 1476 3674 949 3695 1234 3634 918 3680 1341 3660 1228 3785 572 3784" fill="none" marker-start="url(#m34)" marker-mid="url(#m34)" marker-end="url(#m34)"/>
<path d="M1749 3608 1809 3614 1596 3622 469 3611 1096 3612 1798 3620 1452 3608 1589 3620 1032 3605 613 3611 1325 3606 878 3612 1659 3610 1774 3618 1360 3612 1218 3608 810 3622 1124 3622 1603 3612 674 3612 1078 3620 818 3608 856 3617 1323 3615 764 3611 1068 3608 1171 3617 534 3620 1225 3606 942 3606 506 3608 1017 3610 969 3620 1359 3614 1014 3612 467 3613 1795 3621 579 3620 1836 3614 1183 3608 1614 3621 1273 3608 1197 3615 1353 3613 1106 3608 1797 3611 1016 3608 1460 3615 1553 3622 1226 3613 711 3622 1499 3622 1750 3615 1771 3612 1624 3623 676 3613 1121 3622 1866 3619 1250 3615 975 3617 1858 3604 1495 3609 1343 3616 1670 3607 1905 3609 1532 3613 519 3615 1585 3618 1771 3617 1260 3623 455 3612 724 3622 1818 3620 1110 3615 1377 3618 1912 3618 1785 3616 961 3615 954 3614 830 3616" fill="none" marker-start="url(#m35)" marker-mid="url(#m35)" marker-end="url(#m35)"/>
<path d="M1892 3825 1683 3825 1255 3825 1470 3823 502 3827" fill="none" marker-start="url(#m18)" marker-mid="url(#m18)" marker-end="url(#m18)"/>
<path d="M624 3670 1433 3735 1023 3724 1751 3742 698 3694 453 3693 1737 3672 965 3680 1647 3738 961 3729 707 3657 494 3655 1701 3699 905 3799 759 3651 447 3673 752 3796 1032 3678 866 3687 622 3675 1246 3722 916 3677 1113 3778 454 3645 1195 3778 1478 3646 1804 3674 1360 3764 738 3750 1308 3754 636 3736 983 3709 1634 3774 1477 3656 1889 3666 966 3643 1795 3774 1524 3721 1071 3704 511 3646 1814 3673 948 3762 1740 3754 1416 3704 1341 3649 1792 3731 832 3802 1682 3673 1509 3749 798 3659 1339 3654 1352 3757 1156 3720 443 3704 443 3779 710 3715 450 3775 453 3728 1165 3758 1456 3760 1128 3713 705 3782 975 3783 1066 3712 1889 3761 1660 3792 1561 3668 1634 3724 1211 3783 528 3656 729 3800 1606 3705 639 3655 679 3740 971 3685 1321 3664 785 3706 1456 3761 1016 3730 1172 3714 1432 3783 965 3788 852 3783 563 3728 1595 3729 957 3666 1917 3669 788 3647 700 3699 530 3647 1610 3710 1118 3661 1673 3727 951 3786 877 3773 736 3785 775 3741 499 3802 1411 3682 925 3648 835 3761 1783 3767 1897 3680 837 3646 1487 3684 1551 3664 1427 3648 1417 3656 1622 3756 1048 3775 791 3652 1428 3693 598 3693 1883 3794 871 3706 633 3653 970 3681 1397 3720 1051 3689 1459 3790 1069 3800 1860 3728 494 3738 735 3666 1782 3695 1584 3691 832 3719 1820 3675 1001 3648 1113 3689 1174 3650 1362 3704 944 3786 1878 3717 443 3646 1719 3654 1607 3781 1775 3768 983 3780 962 3761 935 3797 646 3705 484 3760 1757 3682 1274 3701 1549 3739 1093 3781 602 3737 1569 3746 624 3752 661 3755 1149 3682 601 3703 1247 3795 1545 3796 967 3764 542 3743 1865 3670 1752 3696 1579 3701 1354 3644 511 3728 598 3671 527 3750 1470 3752 1080 3700 734 3743 1677 3684 722 3797 1319 3643 588 3746 895 3702 1482 3720 1409 3748 1154 3797 1717 3736 632 3779 1488 3696 1241 3728 1514 3649 1696 3703 1365 3684 516 3655 909 3654 905 3657 1890 3695 1864 3795 1536 3740 1745 3799 1730 3750 483 3705 1489 3722 1609 3698 803 3704 1135 3716 1730 3704 1125 3773 1209 3657 922 3677 656 3668 1032 3723 1293 3680 1466 3655 587 3706 1327 3654 1014 3707 1104 3648 1521 3717 989 3790 1145 3736 1012 3774 1582 3713 1624 3744 1642 3770 1162 3692 831 3769 1227 3747 1179 3663 928 3741 1380 3789 574 3749 443 3800 1247 3729 540 3649 711 3781 1904 3677 593 3680 863 3677 1046 3683 1345 3689 811 3667 1330 3656 991 3700 1427 3760 1646 3777 701 3800 958 3693 1386 3649 642 3748 1741 3796 443 3785 975 3796 1218 3718 993 3732 1082 3686 1069 3752" fill="none" marker-start="url(#m19)" marker-mid="url(#m19)" marker-end="url(#m19)"/>
<path d="M782 3807 1803 3815 781 3818 498 3806 702 3812 758 3814 867 3820 1468 3814 506 3814 1475 3813 1341 3812 1367 3810 1195 3805 1875 3817 684 3823 1301 3821 1430 3803 1787 3823 992 3810 1246 3817 1623 3820 508 3805 1095 3811 1054 3808 1792 3812 835 3807 1855 3817 1520 3810 1522 3814 1263 3812 1792 3821 1714 3817 1111 3822 565 3804 649 3821 1576 3805" fill="none" marker-start="url(#m20)" marker-mid="url(#m20)" marker-end="url(#m20)"/>
<path d="M1837 3625 985 3626 527 3640 1632 3634 863 3625 865 3642 601 3630 876 3631 1856 3626 727 3634 485 3642 623 3629 1013 3631 1261 3640 814 3633 1254 3624 618 3624 707 3628 656 3624 863 3626 713 3633 1274 3636 1112 3639 790 3636 462 3638 1098 3631 1548 3641 646 3643 728 3630 1708 3630 858 3634 1114 3640 1853 3630 500 3632 1591 3643 745 3626 1125 3629 1093 3626" fill="none" marker-start="url(#m21)" marker-mid="url(#m21)" marker-end="url(#m21)"/>
<path d="M1476 3613 1909 3618 1501 3619 1211 3616 788 3620 1753 3616 678 3620 463 3615 443 3621 687 3619 1706 3605 879 3607 1193 3623 1797 3621 570 3620 1849 3606 1488 3612 887 3606 1355 3621 1206 3611 846 3604 809 3606 1266 3603 934 3613 625 3617 963 3603 862 3609 761 3621 833 3619 509 3609 483 3608 1869 3611 1723 3607 443 3618 1412 3617 780 3619 645 3619 1573 3605 906 3605 875 3617 593 3613 698 3618 847 3616 648 3613 454 3610" fill="none" marker-start="url(#m22)" marker-mid="url(#m22)" marker-end="url(#m22)"/>
<path d="M526 3380 482 3417 446 3521 452 3545 534 3425 496 3371 480 3495 443 3506 488 3512 521 3471 516 3399 450 3503 496 3530 501 3514 503 3432 503 3419 475 3510 503 3443 469 3536 456 3560 479 3544 452 3398 517 3560 519 3490 484 3436 549 3521 504 3462 468 3555 443 3463 451 3516 637 3484 525 3557" fill="none" marker-start="url(#m23)" marker-mid="url(#m23)" marker-end="url(#m23)"/>
<path d="M1345 3395 1530 3557 1045 3467 1154 3431 1205 3530 1717 3545 1861 3548 1225 3372 1392 3418 1234 3319 1788 3506 1529 3336 1745 3506 1507 3336 923 3504 1840 3543 1579 3531 1480 3283 1846 3550 903 3546 1789 3508 999 3526 1682 3430 1621 3548 1320 3517 1163 3452 1375 3505 958 3524 1509 3519 1114 3461 952 3542 939 3384 1343 3468 1312 3541 1376 3541 1743 3548 1819 3554 1871 3530 1095 3421 1245 3468 957 3490 942 3526 1627 3436 1785 3490 1817 3436 1079 3423 1437 3555 1473 3315 1684 3522 1021 3556 1724 3558 1408 3314 1781 3456 1406 3403 1149 3529 1072 3460 1005 3509 1292 3547 1811 3560 1476 3553 1508 3517 1327 3462 1138 3322 1237 3532 1724 3524 1421 3545 1885 3554 927 3532 1202 3546 1398 3556 962 3526 1103 3447 1689 3517 1337 3506 1341 3562 1637 3555 1129 3209 1542 3500 1195 3506 1489 3394 1776 3507 1845 3543 1135 3405 1770 3560 1176 3465 1536 3535 1902 3498 1868 3554 1192 3555 1525 3268 1884 3548 1821 3443 1310 3423 1784 3512 1259 3517 1606 3544 1589 3542 1901 3418 1268 3236 1499 3503 1296 3546 1799 3509 982 3520 1394 3478 1755 3542 1501 3499 1797 3387 1043 3541 1194 3538 944 3541 1030 3376 1589 3535 1300 3545 1443 3475 1578 3558 1416 3535 1591 3512 1215 3562 1834 3364 1232 3512 1318 3549 1718 3529 1721 3450 969 3482 1303 3433 1188 3490 1139 3435 1328 3409 1902 3541 1719 3480 1391 3431 1603 3553 1512 3475 1281 3502 1140 3429 1533 3490 1211 3538 1576 3541 1602 3550 1541 3342 1330 3480 1195 3205 1097 3357 1522 3432 1636 3253 1389 3538 1048 3542 1409 3508 1407 3359 1137 3438 904 3523 974 3562 1302 3252 1056 3506 1164 3450 1069 3554 1264 3506 1513 3514 1203 3392 1570 3519 1908 3473 1541 3555 1756 3561 1897 3492 1601 3502 1354 3461 946 3547 1609 3495 1845 3482 1287 3400 1657 3541 1134 3502 1362 3484 923 3482 1568 3441 1392 3514 1702 3449 985 3396 1462 3452 921 3454 1398 3395 921 3545 1237 3477 1624 3511 1785 3505 1335 3209 1064 3556 1616 3550 1841 3448 925 3498 1337 3470 1122 3537 1222 3261 1698 3549 1471 3463 1852 3514 1828 3421 999 3496 1195 3218 1661 3446 984 3537 1492 3533 1257 3420 909 3521 1161 3535 1328 3424 1593 3537 1526 3460 1721 3450 1888 3535 1159 3520 1259 3517 910 3555 1771 3503 1122 3305 1769 3497 1431 3540 1530 3371 1831 3520 968 3449 1006 3538 1545 3490 1470 3509 1594 3544 1455 3470 1550 3556 970 3533 1329 3433 1632 3440 1831 3457 1050 3497 1855 3529 1692 3533 1114 3365 1251 3552 1182 3539 1912 3519 1160 3424 960 3517 1753 3398 989 3554 1479 3357 1720 3331 1608 3463 935 3519 1033 3512 1336 3441 1458 3506 911 3534 1076 3510 1426 3454 1114 3477 974 3460 1859 3558 1365 3468 1774 3509 1101 3266 1422 3381 1365 3559 1153 3539 1525 3436 1783 3511 1507 3546 1582 3394 1663 3341 1531 3511 1629 3553 1485 3432 1362 3472 1141 3370 928 3528 1625 3411 1746 3498 1499 3475 1281 3283 1295 3397 1668 3504 1448 3493 1342 3476 1363 3545 1655 3409 1266 3370 1485 3523 1264 3553 1858 3476 1129 3462 1169 3561 1070 3322 1766 3492 1489 3472 970 3561 939 3506 1861 3539 1461 3493 1666 3429 1110 3450 903 3498 1289 3450 1652 3559 1240 3514 1726 3530 1411 3535 1316 3470 1110 3556 1606 3546 1154 3450 1167 3545 1897 3542 1776 3431 1908 3534 1610 3232 1854 3453 1075 3533 1654 3513 1490 3461 1029 3486 905 3541 1252 3509 1826 3504 1712 3344 1169 3513 1051 3511 1531 3507 1521 3472 1596 3504 1084 3537 1840 3551 1310 3463 1007 3534 1100 3524 1261 3359 1869 3556 1051 3549 1680 3534 1394 3488 1119 3515 1221 3427 1018 3274 1210 3413 1226 3436 1354 3468 1476 3504 1014 3506 1162 3448 1374 3239 1431 3321 1367 3490 1772 3555 1683 3413 1327 3473 1485 3426 967 3518 1658 3472 1513 3555 1687 3559 1020 3474 1179 3563 1591 3440 1873 3536 1701 3271 1452 3499 1101 3486 1228 3381 1624 3531 1441 3525 1911 3548 1178 3474 1695 3492 1459 3537 1599 3545 1025 3238 1260 3559 975 3510 909 3547 1379 3291 1151 3449 1511 3538 1126 3559 1370 3547 1059 3561 1209 3521 1525 3527 1171 3401 1027 3539 1363 3396 1784 3521 1188 3435 1222 3491 1315 3555 1178 3509 1384 3436 1456 3441 1834 3546 954 3547 1425 3390 1815 3562 1253 3387 1051 3535 1763 3486 1597 3282 1676 3539 1131 3461 1709 3356 1784 3540 1529 3533 1547 3255 1689 3534 1414 3546 1466 3444 973 3560 1037 3562 1054 3334 1752 3460 1128 3498 1407 3555 1588 3559 948 3561 1295 3437 1194 3541 1247 3371 1526 3552 1792 3535 1821 3559 1026 3437 1768 3529 1739 3551 1614 3290 1212 3478 1432 3555 1282 3363 1435 3543 1491 3543 1096 3271 1464 3374 1305 3501 1687 3549 1612 3424 1012 3523 1866 3499 1878 3549 1475 3321 1225 3365 907 3515 1183 3500 1736 3521 1415 3401 1135 3557 941 3462 1350 3482 1583 3562 1377 3524 1072 3545 1705 3344 1699 3551 1005 3399 1137 3512 1454 3474 1648 3467 1204 3506 1043 3551 1050 3544 1337 3378 1818 3495 1240 3533 1555 3530 1221 3516 1087 3517 1713 3562 1207 3451 1830 3518 1473 3421 1230 3514 960 3434 1529 3503 1387 3494 1210 3509 1521 3487 1545 3544 1856 3539" fill="none" marker-start="url(#m24)" marker-mid="url(#m24)" marker-end="url(#m24)"/>
<path d="M1860 3609 1075 3574 521 3573 1361 3613 1778 3585 998 3565 1193 3579 1506 3574 1479 3553 1808 3593 808 3583 1619 3579 1097 3571 976 3582 1859 3605 1872 3580 925 3595 1398 3579 1747 3570 1903 3614 901 3563 1160 3572 1094 3601 1091 3582 1101 3576 1507 3567 1224 3566 1913 3603 1356 3592 1689 3571 1084 3574 1870 3591 585 3572 1406 3566 1255 3633 1315 3622 990 3631 1778 3564 1273 3619 1151 3623 1413 3573 1336 3568 1011 3593 1023 3608 1424 3601 980 3568 1190 3624 1443 3564 1306 3581 1350 3563 1711 3608 1465 3601 1085 3572 1650 3570 1706 3602 1807 3579 1710 3568 1133 3598 449 3581 1637 3626 1600 3597 1627 3573 1510 3583 1731 3579 1522 3568 946 3591 1824 3581 1416 3566 1634 3582 1599 3577 1629 3606 1236 3604 1026 3582 1610 3572 1420 3573 1790 3593 1425 3607 1001 3624 1414 3559 1042 3569 449 3571 928 3605 1269 3576 1700 3586 1616 3606 1510 3572 1917 3611 901 3600 1899 3576 1703 3564 1487 3567 928 3577 1029 3611 1401 3581 1044 3591 1802 3577 1477 3628 1087 3595 983 3587 1683 3607 1820 3590 1673 3583 1679 3576 1621 3641 1096 3566 1112 3549 1336 3583 924 3620 1300 3568 1006 3573 1322 3581 1415 3579 1851 3564 1668 3570 1183 3593 1619 3570 1032 3620 1740 3582 1643 3564 1754 3601 912 3598 1766 3571 1338 3576 1297 3576 1157 3574 1884 3571 1323 3613 1572 3601 1226 3581 913 3584 1632 3583 947 3594 1699 3577 959 3607 1500 3629 1391 3584 935 3574 903 3570 1059 3607 1646 3577 1779 3564 904 3613 1484 3601 1893 3565 1206 3602 1607 3579 1825 3571 1518 3581 1035 3604 467 3570 542 3576 1477 3566 1760 3600 1009 3582 1590 3576 1894 3604 1765 3626 1647 3601 1408 3566 1384 3567 1883 3622 1705 3572 1096 3583 1913 3566 1531 3603 1781 3586 1741 3586 1698 3593 549 3563 1839 3571 1634 3578 1797 3573 1629 3624 1572 3578 1655 3574 1431 3618 1820 3590 1714 3605 1588 3589 491 3583 1359 3567 1606 3573 986 3568 1449 3589 909 3580 1036 3565 1714 3587 1016 3577 1476 3612 1258 3590 1544 3609 957 3572 1891 3568 1573 3613 1667 3574 1044 3581 1082 3571 911 3600 1304 3604 1349 3596 459 3576 1146 3589 1514 3581 632 3578 1267 3604 1571 3580 1370 3575 1262 3596 1358 3617 1112 3581 1179 3606 1761 3569 1236 3577 1707 3584 1391 3589 1640 3594 1388 3625 976 3571 1215 3589 1161 3565 1855 3565 1235 3576 1330 3619 1669 3564 936 3571 1335 3581 1324 3582 1618 3588 958 3604 475 3564 1086 3565 483 3565 976 3592 1698 3611 1124 3571 1832 3574 1628 3566 1700 3602 1035 3616 1552 3576 1659 3603 937 3571 1080 3617 1910 3569 1066 3576 1797 3582 1646 3574 936 3578 1450 3603 1648 3566 1306 3588 1534 3607 897 3579 979 3575 1114 3565 1862 3602 1376 3597" fill="none" marker-start="url(#m25)" marker-mid="url(#m25)" marker-end="url(#m25)"/>
<path d="M659 3596 689 3584 1246 3589 1817 3587 1886 3592 1119 3589 877 3596 1008 3589 1822 3589 954 3583 795 3587 1540 3589 937 3588 1582 3586 1400 3592 1826 3587 1870 3590 1620 3587 1833 3583 1649 3593 443 3590 1079 3588 1682 3585 949 3588 1845 3587 1677 3583 1859 3591 1531 3598 1900 3584 1870 3591 1866 3589 1241 3591 1504 3589 1342 3592 795 3585 1570 3587 1707 3602 506 3589 992 3598 1495 3589 1101 3587 682 3597 511 3585 1655 3584 1674 3592 1822 3588 661 3597 673 3597 1561 3590 1386 3592 1834 3592 1741 3598 1571 3585 1857 3590 935 3597 1539 3587 743 3584 1397 3588 1428 3602 1785 3587 1748 3584 499 3586 1159 3593 1766 3586 1694 3583 1625 3584 595 3593 1195 3590 1290 3590 999 3592 1176 3594 1286 3588 1231 3586 1490 3599 446 3583 1227 3584 1778 3588 919 3590 975 3590 1342 3589 1742 3587 1389 3588 614 3592 1349 3589 1858 3587 1884 3586 1190 3586 1757 3589 627 3595 1877 3586 1367 3594 1823 3585 1222 3584 1133 3586 444 3585 1627 3590 1463 3589 1873 3589 1828 3591 1782 3584 1715 3586 906 3590 957 3584 1782 3596 1912 3590 1646 3587 933 3585 1673 3590 1456 3590 721 3603 1800 3585 1532 3596 1408 3589 1900 3586 949 3586 575 3598 982 3601 867 3598" fill="none" marker-start="url(#m26)" marker-mid="url(#m26)" marker-end="url(#m26)"/>
<path d="M803 3480 566 3574 656 3592 641 3395 735 3418 823 3260 785 3580 698 3553 702 3533 880 3549 747 3453 681 3509 774 3464 650 3424 696 3578 699 3586 875 3592 794 3534 640 3463 810 3510 796 3433 723 3529 825 3581 702 3498 716 3541 844 3581 856 3487 887 3520 832 3534 492 3522 838 3510 698 3531 728 3455 775 3588 654 3573 732 3562 696 3579 716 3515 874 3588 563 3542 837 3499 863 3513 702 3505 904 3576 764 3465 623 3524 699 3532 653 3389 866 3515 743 3411 584 3391 692 3559 885 3581 711 3547 843 3540 853 3364 853 3490 709 3550 662 3483 670 3532 624 3469 741 3561 669 3545 762 3547 728 3581 805 3527 587 3307" fill="none" marker-start="url(#m27)" marker-mid="url(#m27)" marker-end="url(#m27)"/>
<path d="M1020 3336 877 3085 1174 3068 1522 3261 1153 3365 1340 3298 726 3115 1871 3244 770 3266 674 3319 1396 3193 969 3352 1017 3313 1259 3091 1435 3335 1639 3263 1674 3191 667 3129 512 3276 623 3266 1741 3101 1702 3150 1168 3217 1638 3321 1620 3236 955 3058 1304 3127 1417 3184 448 3144 1390 3235 620 3192 1541 3209 639 3339 1389 3314 637 3328 1658 3065 1137 3086 1728 3054 718 3246 1069 3330 1649 3102 1753 3285 751 3138 977 3229 605 3303 700 3195 566 3188 1831 3091 1726 3306 1566 3332 1175 3190 724 3076 1089 3180 1603 3150 1038 3155 1503 3143 732 3094 1501 3323 1747 3129 1632 3186 1226 3115 847 3366 1623 3259 1049 3260 571 3240 726 3341 1788 3181 1136 3093 823 3198 1694 3242 1386 3091 1737 3284 1644 3096 1356 3195 515 3252 933 3376 647 3058 1807 3306 722 3205 1182 3334 1584 3197 1910 3326" fill="none" marker-start="url(#m28)" marker-mid="url(#m28)" marker-end="url(#m28)"/>
<path d="M604 3456 695 3418 640 3451 734 3446 761 3463 769 3387 745 3466 651 3465 719 3402" fill="none" marker-start="url(#m29)" marker-mid="url(#m29)" marker-end="url(#m29)"/>
<path d="M570 3535 681 3511 692 3532 653 3511" fill="none" marker-start="url(#m30)" marker-mid="url(#m30)" marker-end="url(#m30)"/>
<path d="M1576 3501 1538 3492 1170 3507 735 3808 1625 3804 1581 3810 995 3543 1342 3542 1187 3806 1477 3477 503 3808 1272 3389 1341 3514 1316 3538 1205 3500 1398 3502 1654 3535 999 3287 1122 3516 1249 3803 1228 3445 1080 3526 1042 3344 1212 3396 1562 3532 1252 3399 1149 3807 1753 3530 1526 3455 1310 3424 1401 3312 1581 3806 1433 3381 1305 3505 1449 3536 1835 3543 1238 3437 1714 3536 1140 3428 1139 3305 1035 3804 819 3809 1020 3490 1224 3529 1436 3540 1513 3804 1010 3536 1109 3482 980 3517 1672 3542 1082 3807 1538 3475 1730 3531 1125 3808 1559 3456 1612 3419 1798 3426 1328 3808 1694 3467 1014 3175 1869 3498 1360 3534 974 3804 1034 3486 1362 3804 1204 3311 1386 3374 1297 3806 1238 3529 1149 3247 1329 3507 1637 3510 1153 3513 1586 3485 1359 3515 1532 3804 1386 3430 1169 3185 918 3524 1633 3243 1288 3520 1450 3396 1015 3508 1428 3437 1196 3205 1554 3511 1239 3522 1670 3325 1381 3407 1175 3505 1746 3808 1454 3315 1287 3415 1156 3399 1602 3535 1246 3515 1584 3469 1151 3517 1357 3278 1768 3808 1914 3804 1332 3532 1248 3434 1368 3804 1580 3479 548 3807 1771 3347 1012 3427 1883 3494 1490 3540 1780 3499 1141 3492 1462 3464 1492 3470 1862 3533 1416 3337 1741 3526 1805 3507 1064 3396 1408 3356 1014 3807 1726 3521 1073 3497 1636 3371 1511 3451 1892 3499 1118 3455 1074 3803 962 3426 1797 3470 1324 3362 1240 3803 1520 3441 1440 3452 1388 3444 1502 3267 1340 3541 1162 3509 1334 3389 662 3810 1766 3489 1299 3278 1422 3278 1730 3395 1112 3526 1675 3480 1133 3337 1891 3504 1116 3411 1404 3805 770 3811 1134 3812 1482 3319 1887 3444 1707 3466 1098 3525 1844 3539 1908 3526 1819 3368 1703 3516 1659 3365 1447 3495 1109 3519 1657 3806 1452 3426 1106 3449 1193 3533 1848 3805 1321 3495 974 3194 1127 3526 1072 3505 920 3517 1177 3504 968 3473 983 3368 1416 3448 1393 3541 1107 3808 927 3482 1171 3501 1913 3810 989 3531 1435 3509 1203 3381 1213 3535 1088 3490 1192 3534 805 3805 1842 3810" fill="none" marker-start="url(#m31)" marker-mid="url(#m31)" marker-end="url(#m31)"/>
<path d="M1617 3575 1507 3559 1259 3550 1615 3559 1429 3571 1912 3549 1826 3580 1349 3577 528 3561 1064 3549 1434 3582 1807 3548 1853 3543 1722 3565 1610 3556 1161 3572 1153 3544 1813 3580 765 3564 1885 3579 950 3581 899 3546 1628 3563 1523 3561 1074 3578 1772 3545 694 3545 1156 3567 1207 3572 976 3577 1333 3547 1899 3559 1421 3574 1804 3580 1908 3558 915 3558 1852 3544 908 3568 1349 3564 1462 3574 897 3571 1013 3572 1650 3570 1762 3560 1064 3550 1850 3574 1902 3574 1838 3564 1814 3565 1656 3544 1871 3561 1413 3546 1619 3570 1876 3570 1034 3550 1699 3551 1807 3575 1695 3557 1213 3574 1057 3554 1721 3577 897 3555 1895 3558 1239 3556 1482 3576 912 3573 1291 3580 1216 3559 1589 3550 975 3576 1787 3544 1031 3566 1825 3556 1816 3565 1003 3553 1753 3551" fill="none" marker-start="url(#m32)" marker-mid="url(#m32)" marker-end="url(#m32)"/>
<path d="M1870 3715 1557 3737 1063 3721 1716 3782 1062 3733 520 3723 871 3739 785 3765 796 3730 813 3729 522 3723 573 3782 747 3783 1227 3767 1452 3713 1917 3781 1356 3779 716 3707 1674 3724 514 3729 1817 3708 1693 3730 837 3779 1084 3771 1724 3711 1594 3734 594 3735 1034 3736 453 3769 1344 3708 1476 3705 748 3766 1112 3783 817 3722 1825 3736 900 3710 1540 3712 859 3765 1140 3742 505 3767 1093 3781 782 3735 586 3739 1536 3742 1396 3769 1249 3774 1229 3709 849 3780 642 3718 443 3704 1898 3727 1872 3768 1025 3709 1775 3732 1455 3736 1799 3735 1721 3718 1622 3772 1650 3772 1913 3739 1318 3724 1491 3765 1540 3736 664 3764 1678 3778 1260 3739 1005 3704 1571 3721 964 3713 596 3704 945 3778 1535 3779 1698 3737 496 3704 921 3773 1073 3719 1646 3736 1660 3722 1613 3728 1805 3783 1602 3709 1883 3773 567 3727 1062 3742 1284 3712 1247 3712 1466 3730 1792 3764 944 3719 1361 3776 1571 3705 1279 3772 508 3707 738 3771 1094 3729 1258 3725 458 3780 1245 3706 1806 3768 1136 3726 1826 3739 486 3770 1711 3739 1466 3738 1106 3718 458 3718 915 3768 533 3708 1663 3771 1166 3741 936 3764 1615 3711 1033 3713 1775 3715 1641 3729 1275 3782 1437 3705 1222 3763 1295 3771 1097 3724 1149 3782 1761 3727 762 3731 1000 3774 1517 3731 850 3706 807 3771 775 3727 1531 3709 613 3718 1280 3740 1435 3724 1108 3727 582 3723 1635 3780 486 3731 1021 3775 1001 3734 1556 3774 1764 3778 1892 3780 704 3775 812 3776 1240 3780 1626 3726 1033 3781 1290 3768 1500 3782 753 3708 1208 3710 1495 3712 581 3783 1428 3780 447 3739 746 3770 1152 3729 1035 3770 1052 3769 1858 3780 1116 3772 622 3720 1099 3714 1022 3716 1198 3737 1262 3772 841 3712 1841 3719 512 3710 937 3735 893 3723 677 3768 1576 3723 1008 3704 748 3733 483 3716 667 3773 1317 3727 691 3776 778 3765 1529 3727 491 3721 1846 3712 794 3733 994 3727 572 3740 868 3731 879 3776 985 3732 494 3712 1012 3730 1561 3736 663 3777 1323 3723 675 3729 1154 3736 1609 3712 1871 3740 844 3714 1416 3776 1216 3706 1366 3705 1315 3772 858 3780" fill="none" marker-start="url(#m33)" marker-mid="url(#m33)" marker-end="url(#m33)"/>
<path d="M1593 3638 1033 3758 630 3749 838 3637 486 3678 1186 3681 1307 3635 1274 3597 858 3691 850 3751 796 3667 1018 3648 552 3686 1242 3794 883 3670 1727 3753 697 3695 849 3633 1614 3684 1099 3746 1259 3665 1489 3762 1016 3744 1917 3666 1770 3761 1727 3800 887 3643 850 3653 1578 3693 833 3624 1682 3651 478 3786 953 3683 1352 3599 970 3675 1897 3661 828 3663 1712 3657 1052 3665 1113 3754 520 3649 1537 3662 455 3647 715 3677 1103 3590 690 3584 1571 3677 685 3637 1040 3654 1343 3788 1658 3656 1477 3678 1003 3637 1654 3789 1877 3589 502 3750 1479 3592 1847 3654 1496 3647 1077 3748 1298 3696 1837 3665 1075 3754 1530 3762 950 3754 843 3756 681 3694 1121 3763 1569 3685 1614 3623 1648 3600 1261 3757 618 3696 1771 3691 824 3692 920 3654 1389 3750 1347 3757 1425 3645 818 3629 910 3789 484 3789 1860 3786 870 3747 1067 3760 706 3627 476 3673 1554 3627 1433 3691 1780 3652 1065 3590 824 3747 1902 3756 1674 3697 821 3635 554 3637 718 3598 1485 3799 1044 3628 1257 3655 1817 3591 1267 3699 1551 3784 993 3752 1080 3788 923 3650 454 3628 1371 3657 1060 3634 656 3679 477 3657 1351 3762 1412 3658 1392 3690 562 3664 940 3591 1771 3689 1804 3588 594 3624 1241 3786 1561 3680 1170 3685 1717 3793 628 3744 754 3590 1614 3755 1676 3786 1911 3670 1130 3673 550 3752 511 3589 1519 3698 1181 3759 1606 3694 1418 3800 469 3656 1142 3799 698 3679 1820 3800 1740 3598 1738 3750 542 3588 1890 3632 1917 3672 1347 3666 1539 3797 1385 3801 460 3785 1399 3653 1017 3665 1536 3595 1597 3589 1501 3695 1047 3700 738 3670 1197 3624 669 3594 1470 3659 1585 3797 1725 3646 1669 3669 911 3636 1441 3601 884 3802 538 3587 1765 3599 860 3602 1159 3676 476 3686 1158 3757 592 3759 696 3786 769 3651 1151 3691 1670 3592 1554 3656 1517 3658 1048 3798 1388 3797 1503 3628 1614 3602 1562 3589 1570 3662 1274 3648 973 3599 1904 3759 1114 3760 693 3685 1114 3756 1113 3595 1206 3593 1832 3747 1825 3677 1482 3702 1907 3745 464 3685 1327 3634 1204 3676 831 3757 835 3645 822 3658 1088 3653 443 3689 1536 3626 932 3589 880 3670 1160 3754 800 3675 1434 3595 1135 3791 892 3599 1448 3788 1563 3590 1840 3792 522 3679 1386 3586 1068 3593 1534 3645 1043 3628 1130 3799 1824 3592 1694 3659 1528 3666 1516 3636 1426 3655 1917 3640 911 3801 1128 3645 1273 3747 1893 3647 596 3797 664 3663 445 3756 755 3785 645 3623 1894 3672 582 3590 998 3637 1470 3757 1528 3757 1078 3752 1322 3746 770 3638 995 3637 1005 3597 1018 3686 759 3787 468 3661 1484 3657 912 3625 1050 3669 1618 3791 1131 3696 1177 3662 566 3745 1121 3790 1072 3796 682 3644 1535 3667 563 3796 716 3633 1051 3695 918 3639 1502 3592 1888 3751 781 3744 1877 3754 1815 3653 1660 3584 1261 3585 1458 3662 1794 3653 954 3685 992 3679 1504 3692 1830 3699 1256 3687 1328 3594 585 3673 773 3760 606 3631 1671 3686 495 3641 821 3655 538 3594 1276 3682 1381 3644 1287 3593 900 3659 766 3670 983 3750 1066 3596 1345 3641 877 3784 1051 3594 1606 3699 1215 3669 1347 3794 1327 3784 474 3640 1719 3801 901 3631 616 3662 536 3783 606 3629 1104 3745 1607 3639 575 3760 1196 3794 1555 3690 1830 3657 722 3646 1194 3664 1446 3635 1803 3761 1766 3682 1753 3668 613 3687 842 3644 1030 3591 1166 3595 1149 3760 1089 3623 1460 3651 1063 3637 1402 3761 1340 3660 1449 3598 1578 3749 600 3693 1252 3787 951 3680 957 3757 1752 3589 1443 3644 1649 3676 1048 3664 644 3660 1617 3592 1852 3785 699 3681 1906 3749 1343 3666 924 3787 1446 3637 1219 3699 1692 3680 1405 3697 1648 3658 862 3789 1607 3676 1249 3695 846 3690 1386 3754 1711 3656 742 3655 621 3797 616 3650 1673 3679 953 3640 1466 3590 733 3662 512 3649 1334 3750 491 3784 1543 3590 542 3749 948 3791 576 3663 935 3586 800 3763 837 3702 1689 3653 1263 3788 1894 3639 1373 3679 730 3791 1684 3646 1049 3757 962 3679 1793 3601 1129 3650 769 3790 1471 3752 818 3791 537 3787 1011 3678 932 3629 1088 3652 443 3643 691 3600 694 3630 1710 3637 1371 3802 1035 3803 1372 3694 1062 3594 1810 3744 961 3691 1370 3649 1240 3759 1658 3693 621 3685 1079 3652 1062 3644 1425 3644 1810 3752 503 3761 681 3629 1702 3668 509 3681 1587 3671 902 3748 1740 3694 1657 3671 822 3591 1212 3634 888 3791 1546 3662 1149 3761 1694 3678 1219 3630 1780 3797 1604 3660 1162 3593 905 3631 951 3763 1094 3698 1377 3689 1917 3786 1487 3635 725 3694 751 3784 1295 3694 1079 3642 995 3589 1314 3633 1740 3627 818 3696 587 3585 1139 3681 1785 3675 1808 3793 499 3795 1218 3800 1774 3658 498 3598 870 3761 1452 3595 487 3689 1554 3757 821 3658 1677 3670 877 3791 748 3755 1855 3643 1626 3691 1357 3784 1434 3592 1795 3797 1631 3642 672 3593 719 3598 954 3674 1254 3796 1094 3789 1775 3747 568 3695 570 3683 1202 3658 1350 3654 1226 3760" fill="none" marker-start="url(#m34)" marker-mid="url(#m34)" marker-end="url(#m34)"/>
<path d="M1162 3621 921 3620 1768 3618 1651 3607 1845 3612 601 3605 1525 3619 444 3621 1624 3605 1732 3620 1841 3613 925 3608 1867 3613 1109 3607 1437 3623 1873 3621 762 3622 1628 3613 620 3605 1223 3610 1546 3617 820 3614 493 3614 959 3605 1891 3610 647 3617 1108 3612 1636 3612 1610 3618 1502 3614 621 3621 1822 3608 1654 3608 493 3610 1662 3615 1265 3610 1519 3618 1868 3604 1873 3619 828 3605 1090 3605 1165 3614 1856 3617 1009 3617 973 3606 1871 3611 675 3604 527 3614 1882 3620 1267 3621 503 3616 671 3611 1640 3604 1138 3617 1529 3612 1625 3616 1917 3616 1400 3619 1385 3607 1425 3606 1357 3619 757 3615 1747 3606 635 3619" fill="none" marker-start="url(#m35)" marker-mid="url(#m35)" marker-end="url(#m35)"/>
<path d="M517 3827 1238 3825 908 3826 836 3827 1806 3825 1791 3825 585 3824" fill="none" marker-start="url(#m18)" marker-mid="url(#m18)" marker-end="url(#m18)"/>
<path d="M1240 3795 915 3685 679 3735 1589 3733 754 3696 1430 3697 905 3761 853 3780 1396 3773 1664 3772 742 3656 1568 3723 992 3674 824 3726 1695 3741 786 3764 970 3781 1809 3717 1578 3652 1668 3765 1784 3680 1271 3785 1603 3703 1306 3703 553 3655 674 3787 1090 3727 1408 3778 774 3733 1375 3715 1219 3794 1608 3678 581 3647 1613 3767 950 3690 643 3668 853 3779 1878 3710 1450 3799 1761 3745 1595 3696 899 3711 1839 3678 1602 3785 1186 3730 1226 3799 1682 3645 1441 3676 1098 3673 994 3734 1620 3679 1686 3725 1355 3748 1088 3749 498 3676 831 3685 721 3781 1821 3657 833 3691 1744 3703 669 3777 1777 3654 1486 3740 1615 3758 713 3723 567 3706 633 3733 999 3802 570 3663 1340 3697 806 3731 1171 3687 1256 3680 1241 3711 812 3707 1786 3644 1394 3786 1039 3667 1043 3784 1773 3795 1475 3683 1062 3715 1214 3771 1885 3772 1751 3735 759 3706 911 3702 1410 3699 1325 3678 443 3675 567 3760 1410 3705 668 3765 1163 3645 1015 3731 623 3772 1762 3764 1660 3678 834 3798 1286 3753 1359 3797 1419 3798 602 3800 657 3724 686 3654 579 3795 1536 3802 1670 3713 1431 3671 1012 3676 939 3707 1756 3772 1214 3715 1212 3749 1763 3794 1697 3736 1756 3644 1465 3765 713 3792 1000 3706 1535 3755 1753 3668 600 3676 1917 3702 871 3721 1307 3774 1835 3763 1826 3698 811 3728 1156 3780 1065 3709 1184 3720 1759 3794 938 3671 1298 3739 1199 3735 1764 3750 1061 3669 1355 3749 1882 3799 1518 3776 455 3788 838 3780 1263 3741 444 3692 1185 3666 712 3733 1168 3738 799 3798 1834 3663 1117 3747 895 3718 732 3658 741 3773 1778 3750 1170 3768 1454 3644 456 3754 1560 3706 1751 3678 876 3652 642 3789 1917 3795 1831 3730 1849 3692 1329 3714 666 3729 834 3743 1785 3740 753 3756 1852 3783 1205 3643 1901 3725 1340 3645 561 3724 877 3781 619 3782 1542 3745 1898 3755 946 3791 1409 3654 505 3667 1539 3676 637 3758 1506 3706 1758 3695 918 3774 914 3739 636 3651 928 3800 1799 3653 667 3786 1449 3782 1363 3693 1476 3673 1293 3741 1846 3744 1300 3721 817 3664 1771 3713 1305 3759 1191 3692 1065 3798 1855 3662" fill="none" marker-start="url(#m19)" marker-mid="url(#m19)" marker-end="url(#m19)"/>
<path d="M846 3812 1820 3822 686 3822 1029 3807 1164 3806 768 3804 447 3816 1045 3818 1083 3814 1186 3805 1485 3805 1796 3814 1634 3817 663 3809 754 3810 1906 3817 1055 3810 1707 3808 1583 3806 785 3820 1615 3819 1274 3823 1613 3817 889 3818 754 3816 1361 3810 1834 3821 1107 3815 1917 3812 1207 3819 1825 3814 1231 3809 1513 3817 1408 3809 1909 3821 1555 3806 1040 3803 1739 3820 864 3805 698 3820 1425 3811 732 3814 826 3816 854 3806 1305 3821 1611 3818 1352 3805 774 3809 788 3819" fill="none" marker-start="url(#m20)" marker-mid="url(#m20)" marker-end="url(#m20)"/>
<path d="M798 3633 703 3628 1150 3628 873 3642 1034 3633 1784 3631 708 3623 825 3625 680 3635 881 3636 483 3642 595 3627 569 3639 1473 3634 833 3639 512 3626 1382 3630 1420 3640 1448 3625 1038 3632 825 3627 595 3642 682 3624 734 3637 602 3631 801 3632 1805 3642 1878 3627 504 3623 730 3640 708 3642" fill="none" marker-start="url(#m21)" marker-mid="url(#m21)" marker-end="url(#m21)"/>
<path d="M1584 3608 1549 3612 1132 3621 1693 3610 1199 3611 911 3623 876 3617 1375 3622 953 3622 493 3617 741 3618 492 3622 1800 3620 1812 3607 492 3615 1535 3613 625 3605 573 3619 501 3615 1124 3620 451 3622 478 3604 1574 3608 690 3538 760 3607 1223 3604 841 3619 1684 3621 836 3610 1660 3612 445 3604 1520 3616 1663 3618 495 3612 702 3616 660 3614 1564 3621 732 3613 1454 3612 1584 3610 552 3605 633 3609 479 3612 845 3619 564 3618 861 3619 1207 3614 588 3612 1088 3603 535 3618 651 3605 468 3621 741 3614" fill="none" marker-start="url(#m22)" marker-mid="url(#m22)" marker-end="url(#m22)"/>
<path d="M493 3370 445 3518 485 3537 459 3446 513 3540 488 3396 471 3389 465 3532 484 3559 533 3456 525 3538 457 3512 460 3527 546 3547 443 3527 443 3510 512 3493 485 3450 468 3495 476 3478 499 3475 487 3364 532 3442 519 3531 530 3514 490 3405 488 3524 443 3545 485 3395 541 3559 469 3540 530 3531 475 3558 520 3537 445 3558 464 3477 450 3408 443 3550 556 3395 443 3443 486 3447 515 3443 443 3525 524 3462 447 3469 448 3453 443 3556 443 3500 450 3536" fill="none" marker-start="url(#m23)" marker-mid="url(#m23)" marker-end="url(#m23)"/>
<path d="M1629 3451 1536 3517 1422 3532 1044 3557 1767 3516 1110 3378 1047 3383 1540 3532 948 3488 1443 3445 901 3552 1098 3464 1184 3523 1443 3547 1120 3399 1575 3490 1166 3468 1377 3553 1093 3299 898 3499 1024 3493 1368 3339 1637 3531 1715 3559 1579 3348 1630 3507 1215 3508 1662 3551 1219 3505 1062 3545 1429 3511 1288 3546 1131 3534 971 3494 1226 3555 1891 3562 1145 3558 966 3486 943 3431 1348 3538 1734 3361 1620 3467 954 3549 1093 3467 1733 3482 1334 3474 989 3426 1866 3463 1649 3465 1571 3474 1139 3532 1358 3536 1377 3552 1060 3547 1139 3489 1633 3480 1244 3429 1398 3554 1248 3419 1501 3307 1861 3529 1451 3428 1256 3401 916 3495 1244 3461 1169 3517 1298 3395 1320 3428 1011 3417 1479 3439 1073 3493 1642 3365 1403 3427 1571 3508 1691 3547 1446 3493 1433 3506 986 3331 1733 3440 1059 3523 1236 3518 1026 3563 1350 3319 1701 3537 1486 3289 1565 3543 984 3462 1298 3549 1605 3533 1049 3537 972 3434 1135 3434 1237 3406 902 3537 1860 3497 1502 3523 1034 3507 1392 3402 1466 3541 1363 3451 1201 3430 1348 3281 945 3445 1377 3514 1513 3550 1150 3517 1617 3444 1207 3531 1294 3454 1753 3554 1157 3516 901 3460 1620 3517 1808 3497 911 3533 1114 3306 947 3457 1465 3484 1302 3234 1693 3536 1543 3475 1312 3551 916 3477 912 3467 1796 3547 929 3464 1341 3272 1553 3555 917 3541 1872 3497 1151 3439 1467 3560 1893 3514 1010 3475 1123 3537 1089 3483 1595 3498 1379 3556 1838 3556 1391 3556 1728 3532 1037 3551 1792 3534 1881 3560 1132 3487 1193 3505 1000 3527 924 3522 1660 3560 1429 3561 1188 3505 1050 3551 1899 3514 1701 3290 1335 3551 1104 3555 1824 3532 1313 3552 1004 3527 1214 3463 1488 3375 939 3558 1263 3447 1150 3556 1648 3528 1452 3464 1070 3513 1341 3447 1553 3551 1622 3534 1558 3520 1317 3438 1285 3545 1304 3512 1608 3522 1489 3561 1914 3555 913 3531 1036 3479 1495 3461 1246 3538 1205 3327 1213 3557 1270 3324 1337 3333 1820 3554 1291 3523 1256 3476 1028 3449 1230 3553 948 3484 1214 3379 1061 3352 1162 3287 1257 3504 1887 3552 914 3467 1770 3486 1166 3473 943 3560 1131 3514 1362 3422 1506 3464 1423 3449 1565 3560 989 3514 1865 3536 1674 3510 1560 3536 957 3513 1189 3510 1349 3365 1749 3557 1382 3540 1537 3534 1010 3538 1233 3550 1350 3257 1323 3239 1339 3440 1530 3560 1437 3539 1106 3424 1893 3493 1359 3489 1670 3520 1646 3522 1657 3482 1219 3452 1882 3496 1453 3550 1889 3451 1200 3482 1274 3443 1793 3548 1497 3356 972 3475 1358 3426 1033 3550 1457 3308 1124 3560 1104 3559 1466 3481 1755 3500 1021 3503 1093 3496 1024 3555 1176 3518 1370 3481 1081 3514 1560 3496 1800 3486 1222 3300 1627 3555 1217 3451 1129 3465 1507 3548 1249 3251 1498 3396 1368 3320 1144 3466 1197 3463 1613 3472 1423 3535 925 3553 1340 3281 1503 3432 1411 3515 952 3432 1688 3548 1494 3366 1180 3494 1078 3555 1655 3504 1835 3539 1250 3531 1833 3548 1317 3367 1791 3527 1717 3557 1025 3547 1407 3465 1086 3520 1913 3456 1105 3465 1451 3473 1339 3559 1015 3517 1216 3508 924 3511 1325 3559 1197 3528 1257 3462 1169 3534 1488 3527 1422 3530 1065 3525 1850 3501 1154 3546 1589 3549 1834 3496 1062 3516 1332 3533 1485 3456 1357 3521 1462 3338 932 3457 1197 3334 1310 3458 1154 3264 1556 3278 1010 3217 1485 3549 1386 3518 1350 3228 971 3520 1225 3505 1455 3487 1145 3491 979 3551 1549 3519 1542 3411 1565 3494 1899 3534 1084 3350 1379 3511 1526 3298 1145 3328 1763 3541 1032 3438 1555 3550 1273 3335 1433 3340 1391 3428 912 3496 1858 3316 1777 3532 1697 3458 1435 3497 956 3384 1065 3421 1700 3403 1778 3473 1108 3429 1387 3357 983 3515 1607 3533 1211 3379 952 3548 1441 3464 1206 3421 1181 3553 1644 3470 1640 3444 1134 3484 995 3391 1299 3529 1217 3335 1785 3562 1663 3552 965 3487 1765 3475 1658 3526 1230 3542 1556 3486 1777 3540 1225 3539 904 3556 1187 3325 1129 3459 1393 3496 1350 3550 1672 3535 1344 3543 1793 3516 1719 3456 903 3535 1695 3517 1746 3545 991 3541 1833 3480 1521 3290 1436 3337 1223 3544 1211 3470 1085 3420 1068 3467 1039 3453 1194 3468 1835 3521 1313 3530 1081 3461 1465 3271 1230 3385 1228 3290 1414 3504 1172 3261 1295 3542 1225 3305 1021 3555 1240 3523 924 3559 1415 3479 1821 3556 1894 3553 1332 3433 1915 3503 1875 3462 1083 3557 1782 3532 1159 3530 1422 3494 1869 3525 1652 3553 959 3550 1342 3496 1389 3544 1144 3498 1676 3533 1111 3511 1606 3368 1793 3418 1212 3526 905 3497 1809 3550 1453 3547 1437 3423 1013 3519 1175 3503 930 3555 1674 3558 901 3442 1350 3389 1487 3532 1457 3426 1666 3525 1311 3528 1425 3284 1349 3322 1502 3347 1292 3207 1408 3559 1396 3430 1673 3508 1585 3424" fill="none" marker-start="url(#m24)" marker-mid="url(#m24)" marker-end="url(#m24)"/>
<path d="M1866 3620 1645 3568 1471 3614 1613 3600 996 3566 1370 3579 1129 3575 1336 3585 1625 3569 1129 3565 1419 3586 1787 3578 1051 3579 949 3580 525 3578 1741 3580 1338 3582 1698 3583 1288 3569 1799 3571 1917 3601 1913 3565 1653 3569 1874 3575 918 3589 1411 3581 455 3570 1091 3570 499 3567 1655 3574 1465 3592 1353 3565 1059 3575 1477 3567 1883 3576 909 3564 1880 3566 1438 3572 1357 3571 537 3574 1676 3579 1663 3588 1411 3594 473 3566 1462 3581 1229 3588 1636 3592 1889 3572 1629 3593 1369 3614 1452 3615 1801 3582 1441 3623 1708 3578 1467 3579 1539 3601 1401 3603 1642 3606 1637 3565 1455 3608 1161 3585 1708 3595 1891 3570 1568 3568 1239 3604 1336 3572 1017 3566 1128 3577 1087 3609 477 3582 1862 3580 1889 3603 673 3580 1710 3595 996 3564 498 3569 1825 3613 1728 3618 1307 3586 918 3604 1448 3577 1648 3574 1364 3583 1847 3578 1760 3567 804 3576 1072 3578 1641 3579 1594 3578 1374 3581 1558 3592 1268 3574 1783 3591 1897 3568 1175 3644 1080 3608 1864 3573 738 3576 1834 3584 504 3581 1348 3583 1679 3591 1865 3623 1381 3591 1754 3567 1398 3573 1018 3617 1902 3567 1555 3587 1390 3611 1530 3579 1865 3580 1751 3566 1314 3619 1035 3613 1523 3575 1871 3604 1368 3571 1348 3616 1593 3585 1310 3580 1317 3601 1767 3579 1450 3581 1194 3572 1719 3618 908 3585 1712 3563 1276 3596 1569 3590 1587 3582 1410 3594 1342 3569 1148 3580 1550 3602 1180 3616 1201 3564 908 3572 1026 3574 518 3573 1038 3572 1183 3575 897 3620 523 3578 1318 3595 1763 3593 902 3604 907 3583 1507 3627 1036 3581 1768 3615 920 3605 1342 3585 1215 3590 1381 3601 1732 3611 1222 3570 1066 3571 1431 3595 1126 3579 1378 3565 1492 3587 1409 3629 1466 3590 815 3579 1151 3563 1396 3582 944 3608 1739 3614 1549 3573 1468 3587 1516 3589 1907 3607 1461 3572 813 3565 1347 3578 1649 3568 1839 3575 1000 3574 1088 3607 1405 3617 1901 3572 1841 3569 1825 3589 1355 3590 1428 3592 1159 3618 1472 3581 1177 3601 1292 3578 1390 3589 1394 3596 1837 3589 1477 3574 1174 3572 1248 3583 991 3597 1462 3600 1412 3569 953 3587 1867 3563 1867 3621 1287 3582 1470 3568 1674 3577 935 3572 1836 3579 885 3607 1328 3599 1368 3581 1236 3592 1046 3572 1505 3604 1780 3594 1616 3580 1911 3582 1911 3568 823 3576 1454 3568 1386 3581 1635 3569 1636 3613 894 3620 1503 3600 1609 3568 971 3580 1070 3601 1897 3578 1900 3598 1124 3579 1410 3577 1514 3597 1569 3573 1814 3613 1123 3596 1412 3600 1446 3575 1465 3590 1343 3575 1645 3580 1389 3579 911 3574 1376 3596 1422 3569 1089 3575 1825 3581 951 3578 1587 3569 1583 3626 1665 3571 1807 3583 1241 3570 1771 3581 936 3610 1813 3578 1208 3582 1526 3623 1222 3582 1020 3590 1160 3595 1790 3610 1612 3600 1007 3576" fill="none" marker-start="url(#m25)" marker-mid="url(#m25)" marker-end="url(#m25)"/>
<path d="M761 3602 1150 3593 1814 3590 992 3586 930 3583 561 3595 480 3592 1294 3591 1044 3584 1251 3592 1768 3592 1872 3592 1580 3588 1742 3586 955 3584 465 3593 448 3589 593 3595 1529 3590 1364 3592 1218 3585 893 3589 1103 3588 1615 3590 1396 3587 969 3593 880 3597 912 3592 1194 3591 1469 3588 628 3594 1622 3592 1303 3586 1015 3593 1650 3589 1612 3588 1600 3585 1734 3587 1897 3590 1624 3590 1646 3592 1859 3591 1785 3584 1917 3592 1797 3588 1298 3586 1663 3584 511 3603 1814 3585 1817 3583 520 3600 1336 3583 1486 3597 1164 3584 1141 3593 908 3587 473 3584 1297 3598 1849 3592 1636 3591 959 3588 451 3587 1597 3590 941 3591 784 3592 1765 3590 826 3603 1748 3585 1010 3583 540 3589 1871 3592 1292 3585 1081 3586 1861 3586 1410 3585 1879 3589 1704 3584 1777 3591 1555 3596 1598 3584 865 3600 964 3592 1445 3590 508 3584 528 3587 1403 3586 1781 3584 1711 3589 1628 3584 1403 3590 1541 3592 1566 3585 953 3589 1757 3593 513 3588 1910 3583 935 3587 1846 3589 1178 3590 1499 3591 1064 3590 1199 3584" fill="none" marker-start="url(#m26)" marker-mid="url(#m26)" marker-end="url(#m26)"/>
<path d="M913 3560 695 3448 743 3505 789 3456 860 3551 666 3550 728 3329 743 3589 588 3553 839 3506 721 3575 609 3579 743 3407 553 3578 504 3531 811 3564 600 3546 868 3590 714 3515 579 3568 720 3582 714 3565 671 3431 667 3518 712 3499 739 3387 832 3575 545 3535 788 3561 708 3565 579 3565 598 3556 728 3436 881 3592 833 3552 642 3454 726 3561 833 3538 605 3467 679 3558 702 3578 697 3537 772 3529 685 3479 781 3407 777 3553 646 3375 811 3564 639 3585 956 3482 542 3540 872 3302 832 3471 770 3559 576 3469 676 3564 718 3510 702 3551 842 3495 951 3500 837 3265 555 3585 760 3520 764 3592 764 3584 825 3480 663 3489 693 3507 675 3563 712 3534 709 3438" fill="none" marker-start="url(#m27)" marker-mid="url(#m27)" marker-end="url(#m27)"/>
<path d="M1644 3344 565 3132 1030 3115 1095 3200 777 3358 560 3276 642 3111 714 3280 515 3322 1265 3110 449 3305 1520 3106 889 3343 1633 3179 1804 3128 944 3295 1456 3290 1846 3281 1706 3339 1707 3134 1787 3245 963 3226 1635 3161 1624 3152 826 3219 1205 3191 542 3177 768 3115 1776 3085 1212 3244 773 3304 1574 3192 1451 3171 609 3301 1891 3055 1579 3266 1823 3132 1317 3321 715 3114 603 3165 1784 3377 1600 3248 1654 3198 1471 3303 894 3251 502 3250 1793 3217 1277 3054 1050 3153 1787 3247 1341 3121 1377 3294 1754 3138 950 3349 480 3180 1260 3053 795 3332 1743 3364 947 3265 460 3369 1063 3204 882 3151 886 3255 1493 3108 918 3323 629 3263 1440 3287 1916 3194 1100 3196 690 3307 1219 3057 1864 3096 997 3155 640 3098 967 3330 1747 3241 1207 3145 1060 3184 1571 3113 1738 3330" fill="none" marker-start="url(#m28)" marker-mid="url(#m28)" marker-end="url(#m28)"/>
<path d="M716 3442 735 3423 661 3485 717 3475 609 3423 730 3482" fill="none" marker-start="url(#m29)" marker-mid="url(#m29)" marker-end="url(#m29)"/>
<path d="M885 3527 604 3529 551 3523 729 3533" fill="none" marker-start="url(#m30)" marker-mid="url(#m30)" marker-end="url(#m30)"/>
<path d="M1187 3494 1015 3503 1608 3542 1662 3459 1612 3536 1865 3410 549 3808 1499 3806 1508 3810 1552 3486 912 3455 1595 3533 966 3516 1512 3805 1407 3541 975 3806 1135 3463 1266 3456 1478 3491 990 3498 1067 3513 940 3503 975 3812 1599 3524 943 3494 1531 3813 952 3495 1491 3272 1773 3353 1392 3539 1211 3808 1213 3421 1682 3539 938 3394 1423 3333 1425 3519 1384 3221 1129 3491 1545 3811 1863 3533 990 3538 1406 3535 1814 3524 1141 3532 1449 3517 914 3529 1449 3532 1199 3424 1152 3382 641 3812 1542 3335 1049 3372 1261 3409 1000 3509 1238 3510 1561 3464 1597 3487 1437 3385 1440 3482 1321 3345 1579 3520 1312 3424 1705 3468 1707 3462 1406 3367 1592 3225 1208 3271 1329 3351 1125 3497 1517 3542 1000 3505 1837 3405 1710 3464 1455 3277 1042 3809 1068 3808 1571 3411 975 3519 899 3522 925 3543 1013 3808 569 3807 1572 3355 1024 3369 1293 3492 1463 3406 1347 3312 1295 3333 1427 3445 1575 3442 1036 3410 1075 3473 1012 3408 1656 3806 1469 3811 1085 3398 1321 3807 1696 3807 1102 3496 1452 3403 1852 3542 1180 3389 1464 3460 1416 3522 1233 3531 578 3806 1051 3470 1511 3804 1120 3522 538 3807 777 3805 1594 3509 637 3811 1173 3510 1365 3513 988 3812 534 3805 1040 3514 1071 3472 1770 3527 1420 3502 1522 3287 1276 3421 1073 3364 1365 3448 1240 3487 1861 3513 1498 3540 1097 3810 1434 3404 1146 3468 833 3810 1583 3533 1351 3451 1032 3522 1141 3435 1440 3472 1002 3484 1341 3534 1659 3444 1668 3407 1195 3473 967 3487 1446 3499 1674 3430 1879 3488 1316 3805 1364 3453 1835 3363 1197 3496 1756 3513 1468 3541 1600 3509 1473 3810 922 3518 1254 3210 1098 3526 1407 3503 1763 3518" fill="none" marker-start="url(#m31)" marker-mid="url(#m31)" marker-end="url(#m31)"/>
<path d="M1254 3561 1453 3579 1385 3558 933 3549 1638 3563 1650 3558 1411 3562 638 3545 1330 3558 1689 3556 499 3575 908 3555 1446 3572 1633 3578 1897 3551 958 3573 1218 3576 986 3553 1100 3555 593 3545 1027 3564 1040 3550 1338 3578 1824 3569 1759 3575 1143 3545 917 3575 1055 3550 1735 3582 1634 3554 1083 3573 1124 3548 1905 3561 1430 3570 1732 3578 1507 3549 1610 3579 1016 3569 932 3569 1795 3574 1519 3581 1353 3551 911 3552 1908 3560 1264 3556 799 3566 1132 3566 940 3581 948 3572 795 3568 1153 3552 1686 3568 1239 3564 1224 3556 896 3563 1141 3562 940 3544 1913 3555 1741 3582 1792 3572 1115 3550 585 3570 1184 3568 1633 3555 1135 3545 1017 3546 1069 3562 1615 3571 1657 3547 717 3556 1042 3564 1083 3561 685 3546 1327 3573 1138 3574 1610 3569 1130 3558 1609 3568 908 3569 1689 3556 1847 3567 1306 3548" fill="none" marker-start="url(#m32)" marker-mid="url(#m32)" marker-end="url(#m32)"/>
<path d="M1891 3726 484 3782 455 3779 561 3766 1448 3779 693 3714 763 3704 1680 3724 502 3770 1431 3731 1166 3782 1054 3730 1658 3728 1455 3726 1125 3735 889 3771 809 3778 511 3778 1791 3730 1068 3778 1633 3730 1395 3742 1135 3709 1042 3777 717 3771 1809 3734 773 3767 1623 3717 503 3710 1517 3775 1833 3778 1514 3703 1402 3736 1878 3781 1776 3707 1480 3734 1861 3779 1185 3741 1396 3713 524 3733 732 3710 849 3769 1881 3718 1431 3704 1863 3725 1342 3780 1095 3711 1708 3726 893 3729 1085 3720 1378 3723 1000 3772 834 3714 990 3776 1501 3706 1714 3776 842 3778 613 3781 1253 3779 1345 3735 1594 3727 1160 3737 1115 3782 1475 3738 1380 3780 638 3721 830 3772 654 3723 1032 3778 1429 3777 1385 3725 901 3728 1192 3774 1094 3732 775 3706 1507 3723 1708 3736 1054 3711 636 3764 1430 3731 578 3739 1249 3728 795 3771 643 3742 1349 3727 1342 3706 1013 3706 573 3769 1251 3783 753 3763 930 3772 1374 3772 577 3730 640 3737 1089 3779 574 3703 1361 3706 900 3711 993 3770 1152 3712 1392 3719 1293 3779 1398 3773 1820 3739 884 3730 854 3730 913 3730 1414 3774 1194 3771 640 3738 1043 3780 810 3782 1179 3764 629 3719 458 3780 471 3731 1079 3724 1306 3713 1904 3774 1246 3734 1802 3773 1825 3722 1813 3779 965 3732 1242 3732 1656 3729 1370 3736 1172 3705 960 3782 747 3738 1086 3776 1570 3714 1298 3727 1818 3734 1902 3714 1061 3705 741 3706 921 3732 844 3726 1394 3732 836 3720 1185 3770 1909 3739 1540 3711 764 3740 564 3709 1417 3724 699 3770 1128 3776 1081 3781 1533 3729 1465 3704 1279 3737 1872 3729 595 3718 1499 3710 1311 3778 1731 3733 1728 3768 1365 3778 771 3767 1630 3735 574 3741 947 3773 452 3766 886 3769 1269 3731 1405 3770 993 3771 761 3780 888 3742 1216 3768 1506 3719 695 3706 1164 3772 1860 3727 624 3716 1476 3771 1833 3766 1246 3737 1167 3723 1905 3716 1746 3732 1526 3715 762 3730 478 3707 651 3772 1315 3718 1626 3733 1917 3710 1007 3736 656 3723 1899 3724 1395 3711 688 3768 1641 3734 1447 3735" fill="none" marker-start="url(#m33)" marker-mid="url(#m33)" marker-end="url(#m33)"/>
<path d="M1150 3596 1851 3687 1539 3748 879 3633 781 3639 741 3587 1173 3697 929 3624 1717 3693 1506 3681 1697 3591 1493 3689 1039 3666 724 3796 1522 3645 1327 3698 1675 3684 443 3669 1203 3648 1502 3795 716 3591 945 3791 1249 3658 1494 3584 1592 3686 1074 3690 1704 3683 949 3694 639 3751 1854 3588 547 3648 1517 3654 629 3674 1636 3794 1367 3682 1661 3743 716 3800 1274 3688 1483 3743 576 3669 1086 3596 611 3790 1642 3678 957 3685 997 3786 1454 3684 1743 3592 1239 3794 933 3663 1084 3662 875 3659 980 3589 1404 3701 927 3796 1021 3699 1608 3797 806 3755 1637 3652 1274 3789 716 3637 1586 3664 642 3791 715 3787 1225 3588 1891 3584 501 3654 1881 3670 1493 3665 769 3757 711 3643 1106 3697 848 3628 595 3798 1014 3751 1481 3588 1022 3584 657 3785 1227 3655 1079 3751 1527 3642 1592 3628 491 3676 1427 3746 517 3677 1180 3788 932 3584 1161 3751 619 3642 1315 3758 963 3689 1325 3592 949 3655 713 3801 683 3696 1693 3634 1479 3594 867 3671 855 3654 1373 3785 780 3664 750 3793 760 3758 1334 3689 1123 3666 452 3627 570 3696 1154 3640 1753 3588 957 3639 1677 3636 1076 3632 1813 3589 1755 3676 1305 3755 1263 3790 1818 3801 670 3623 1870 3683 704 3754 1487 3637 1552 3702 1207 3801 1723 3592 550 3692 968 3691 564 3627 877 3659 1113 3637 1737 3758 1892 3626 1119 3789 1020 3700 1864 3595 952 3800 862 3798 1313 3794 1387 3802 1225 3680 1069 3587 1359 3760 946 3647 636 3761 1078 3631 1875 3753 1284 3634 1789 3748 742 3691 1548 3784 1649 3597 636 3628 1886 3627 1294 3591 1764 3748 1739 3628 898 3750 1809 3630 966 3603 811 3695 746 3663 1495 3702 651 3655 1586 3697 1442 3684 1560 3640 854 3593 1148 3685 630 3787 647 3687 632 3697 1491 3583 1467 3630 1076 3703 727 3752 1907 3587 1526 3661 925 3749 1851 3589 1391 3797 461 3652 574 3659 1820 3659 1194 3655 1160 3688 1178 3688 1178 3761 1528 3697 867 3649 1702 3626 1917 3600 1705 3675 1891 3750 1369 3591 1711 3626 991 3596 1843 3590 1734 3657 712 3687 921 3663 1385 3593 1491 3788 1911 3591 1730 3655 1512 3596 642 3665 962 3624 1467 3656 909 3643 511 3592 1061 3679 1107 3685 1554 3646 1456 3652 588 3689 451 3754 998 3592 983 3638 1304 3759 514 3752 1375 3677 1395 3634 649 3594 962 3690 564 3681 1654 3661 1892 3627 1599 3625 1591 3758 1695 3747 1264 3603 1482 3693 1665 3631 895 3634 866 3686 1002 3751 675 3652 1721 3626 1816 3588 1743 3627 1046 3680 507 3625 572 3693 1379 3595 1834 3799 472 3689 807 3659 1800 3636 1254 3587 1515 3749 1472 3784 1775 3746 1429 3585 443 3787 777 3624 619 3679 1112 3668 1693 3666 682 3661 1820 3792 1387 3797 469 3743 723 3662 1457 3678 1361 3656 674 3663 1237 3639 1148 3671 1609 3644 1060 3751 1254 3798 1706 3632 1218 3675 618 3686 1466 3663 564 3790 943 3641 1883 3746 1375 3686 1162 3588 1314 3653 480 3649 590 3687 1493 3683 1511 3743 1543 3801 1648 3626 1516 3686 443 3673 962 3630 861 3672 1112 3676 1044 3633 697 3633 1275 3676 1717 3760 1676 3763 1316 3761 1027 3588 904 3685 703 3762 828 3755 760 3786 1204 3801 681 3671 1403 3788 1212 3653 527 3689 1099 3790 1154 3600 1565 3652 1900 3600 1744 3751 845 3673 1267 3790 650 3675 977 3658 1679 3694 769 3749 1408 3687 1289 3626 1048 3755 1806 3803 920 3756 1497 3784 518 3762 1077 3787 505 3786 1344 3663 1341 3759 1353 3756 1844 3762 1114 3591 1533 3800 805 3665 1449 3799 1810 3760 580 3748 1895 3600 1595 3630 1828 3679 490 3801 1761 3795 623 3590 1698 3757 1405 3655 1873 3648 1830 3593 1114 3649 819 3651 886 3696 658 3659 902 3637 1890 3602 703 3757 1310 3693 1154 3796 1671 3645 1906 3687 1184 3688 448 3653 773 3595 657 3588 1551 3702 479 3642 1405 3755 1188 3668 1488 3799 1648 3645 1498 3650 1618 3695 1257 3596 845 3760 1143 3803 1679 3588 1613 3682 1444 3671 852 3793 1697 3745 995 3601 1479 3641 1540 3675 538 3678 1914 3760 1669 3791 1659 3634 696 3639 1000 3640 881 3691 1533 3657 1264 3655 1817 3802 667 3630 475 3692 973 3633 801 3693 911 3703 1205 3669 958 3657 1358 3597 1699 3667 1795 3656 1560 3636 1098 3662 1725 3648 1170 3592 1472 3598 1611 3591 532 3698 583 3672 1080 3787 1342 3800 1917 3689 606 3650 1701 3686 809 3671 1363 3757 1610 3664 1132 3624 1051 3584 1694 3651 1172 3760 1883 3659 650 3598 487 3784 1178 3694 881 3699 1393 3680 443 3589 1385 3745 597 3641 1195 3670 1288 3681 512 3641 1151 3664 1415 3671 1829 3641 915 3754 929 3692 1363 3747 1060 3672 1422 3686 656 3695 742 3632 1044 3658 672 3669 1809 3689 1646 3644 485 3799 1886 3623 1361 3663 1437 3786 1144 3788 1027 3677 1783 3592 1008 3599 495 3748 1198 3683 1064 3761 1272 3591 1007 3661 636 3789 905 3595 540 3801 628 3673 1144 3594 679 3759 815 3798 900 3793 1438 3689 712 3758 1405 3668 1905 3701 841 3785 620 3791 1503 3756 541 3654 1058 3665 1821 3597 1284 3626 474 3701 1172 3593 1894 3627 992 3588 476 3643 1044 3690 1361 3679 810 3624 817 3754 1081 3586 1405 3670 1414 3588 1250 3650 1812 3589 1491 3701 1848 3590 1520 3675 1725 3629 1547 3650 1103 3690 1704 3596 600 3598 1917 3643 464 3784 1794 3638 877 3677 489 3648" fill="none" marker-start="url(#m34)" marker-mid="url(#m34)" marker-end="url(#m34)"/>
<path d="M1055 3618 1028 3611 1673 3622 611 3612 1744 3613 1363 3614 1171 3612 476 3606 886 3622 1349 3604 1028 3619 1771 3615 1763 3619 804 3616 1689 3618 601 3609 804 3619 801 3622 1258 3621 459 3621 1807 3612 1777 3610 1909 3603 1412 3603 1878 3621 840 3621 1202 3605 1187 3614 1356 3604 1366 3612 1406 3616 1307 3607 857 3613 555 3621 769 3617 1703 3607 1312 3608 909 3605 1442 3611 1409 3607 503 3605 1046 3621 750 3622 589 3613 773 3618 1148 3622 1254 3610 859 3623 1872 3608 1043 3603 1759 3615 972 3617 543 3614 1280 3618 1901 3612 456 3609 1751 3618 1851 3606 1374 3616 744 3620 1080 3611 1770 3606 1752 3614 1444 3606 1587 3622 1163 3617 1346 3621 1225 3603 626 3613 554 3611 1148 3609 1707 3609 1606 3609 1784 3612 1429 3621 867 3614 1319 3608 1243 3616 648 3606 1405 3621 812 3613" fill="none" marker-start="url(#m35)" marker-mid="url(#m35)" marker-end="url(#m35)"/>
<path d="M1494 4645 688 4475 686 4069 570 4472 902 4507 487 4651 1490 4420 1520 4401 526 4669 1745 4432 1235 4570 1440 4696 509 4312 1605 4617 986 4267 1252 4698 719 4440 1463 4339 1069 4631 1263 4390 1111 4644" fill="none" marker-start="url(#m36)" marker-mid="url(#m36)" marker-end="url(#m36)"/>
<path d="M969 4609 920 4626 1276 4672 1052 4670 1180 4564 1006 4563 1104 4637 1006 4619 1054 4565 1270 4688 1218 4653 1140 4637 1197 4658 1094 4600 1149 4661 1099 4669 931 4632 1044 4570 1186 4549 946 4644 1196 4568 1055 4553 1156 4617 1274 4594 1116 4584 1119 4565 895 4677 1055 4692 1034 4605 1044 4627 927 4600 1313 4653 1296 4651 1049 4555 1216 4606 1270 4583 1212 4686 1205 4633 1301 4688 1175 4680 1243 4551 1070 4566 1013 4696 1103 4647 1166 4695 1121 4626 1297 4653 946 4561 1249 4551 896 4547 896 4607 942 4550 892 4600 921 4573 1210 4637 1036 4577 1310 4688 899 4549 1273 4607 963 4637 1034 4661 963 4603 1098 4679 905 4698" fill="none" marker-start="url(#m37)" marker-mid="url(#m37)" marker-end="url(#m37)"/>
<path d="M1246 4587 1228 4589 1241 4590 1227 4591 1230 4601 1240 4608 1215 4601 1227 4593 1236 4601 1248 4599 1224 4596 1230 4592 1224 4591 1251 4595 1220 4599 1229 4601 1208 4600" fill="none" marker-start="url(#m38)" marker-mid="url(#m38)" marker-end="url(#m38)"/>
<path d="M1239 4580 1209 4569 1201 4580 1232 4567 1247 4582 1218 4568 1135 4582 1150 4588 1207 4588 1223 4580 1109 4590 1214 4579 1240 4578 1114 4583 1206 4570 1236 4571 1244 4581 1194 4572 1179 4580 1205 4572 1137 4583 1210 4584 1228 4567 1223 4576 1172 4585 1130 4584 1233 4575 1215 4582 1216 4576 1216 4581 1201 4570 1136 4588 1217 4567 1211 4573 1234 4576 1241 4580" fill="none" marker-start="url(#m39)" marker-mid="url(#m39)" marker-end="url(#m39)"/>
<path d="M1176 4560 1149 4572 1194 4565 1198 4563 1072 4569 1029 4579 1174 4562 1122 4570 1025 4575 1127 4573 1059 4576 1209 4550 1113 4566 1003 4581 1218 4553 1178 4557 1210 4556 1061 4570 1208 4559 1064 4577 1144 4560 1196 4547 1126 4564 1116 4561 1200 4554 1169 4571 1196 4559 1162 4565 1188 4554 1227 4563 1115 4560 1146 4576 1211 4559" fill="none" marker-start="url(#m40)" marker-mid="url(#m40)" marker-end="url(#m40)"/>
<path d="M1160 4532 1188 4527 1073 4556 1081 4543 1183 4536 956 4574 1189 4542 987 4563 1134 4543 1149 4534 1072 4561 1186 4541 1171 4546 1036 4547 1172 4547 995 4558 1156 4531 984 4575 995 4572 1013 4551 1124 4546 1072 4563 1195 4532 1080 4552 982 4556 1183 4542 1159 4536 1191 4535" fill="none" marker-start="url(#m41)" marker-mid="url(#m41)" marker-end="url(#m41)"/>
<path d="M1109 4524 1139 4513 1135 4527 1067 4527 969 4544 958 4549 1009 4530 995 4546 936 4554 1025 4539 1068 4526 1074 4532 1102 4530 991 4535 850 4555 835 4553 935 4560 890 4557 900 4550 1150 4528 880 4561 1014 4535 1081 4528 1036 4530 842 4560 1056 4538 951 4549 1171 4525 1005 4533 1080 4532 857 4558 944 4540 859 4550 1154 4508 1100 4518 1071 4519 1150 4521 1165 4516 1087 4516 1171 4519" fill="none" marker-start="url(#m42)" marker-mid="url(#m42)" marker-end="url(#m42)"/>
<path d="M892 4531 950 4520 829 4544 974 4517 811 4533 881 4527 767 4553 1044 4515 865 4526 997 4505 786 4537 840 4549 761 4541 831 4543 940 4514 1144 4504 786 4536 863 4538 1009 4505 949 4528 978 4511 1116 4503 1136 4506 1086 4495 916 4536 918 4522 979 4525 1129 4496 1007 4521 1011 4507 761 4543 740 4546 769 4542 906 4535 931 4515 1142 4487 831 4546 917 4520 819 4533 882 4545 899 4533 908 4528 1111 4495 1143 4491 1114 4508 886 4523 1062 4505 728 4545 1095 4501 840 4534 985 4517" fill="none" marker-start="url(#m43)" marker-mid="url(#m43)" marker-end="url(#m43)"/>
<path d="M801 4525 907 4512 652 4535 1026 4497 1103 4473 930 4511 1097 4466 860 4519 808 4521 904 4512 930 4510 1085 4473 743 4531 908 4506 854 4515 964 4506 1050 4477 895 4497 810 4528 802 4518 955 4501 935 4491 775 4523 718 4544 956 4500 695 4536 1118 4480 727 4528 665 4532 1072 4479 822 4506 978 4502 1087 4474 845 4525 900 4510 990 4492 838 4510 753 4529 1094 4487 864 4523 1130 4480 733 4539 702 4544 815 4510 707 4537 1104 4482 667 4533 1117 4482 942 4507 1003 4481 1101 4486 869 4510 888 4510 766 4536 1014 4499 1022 4479" fill="none" marker-start="url(#m44)" marker-mid="url(#m44)" marker-end="url(#m44)"/>
<path d="M664 4529 1016 4469 637 4525 684 4513 996 4458 877 4497 1090 4458 859 4479 885 4477 747 4494 956 4467 789 4505 1010 4464 772 4503 915 4490 766 4498 1026 4455 949 4468 695 4515 764 4505 1025 4458 713 4519 893 4475 666 4524 683 4513 792 4490 864 4498 760 4500 728 4500 824 4485 1032 4452 908 4479 754 4501 715 4513 936 4481 944 4484 803 4487 1069 4456 924 4473 764 4503 1096 4465 990 4466 820 4506 951 4466 841 4491 952 4472 831 4498 1013 4476 980 4465 854 4494 874 4498 1113 4461 810 4503 1027 4453 705 4510 639 4520 800 4494 820 4494 912 4473 661 4523 717 4517 1079 4455 1085 4443 976 4460 928 4485 881 4493 665 4522 782 4500 1062 4453 823 4482 1094 4453 892 4478 880 4495" fill="none" marker-start="url(#m45)" marker-mid="url(#m45)" marker-end="url(#m45)"/>
<path d="M762 4471 988 4455 681 4493 724 4475 776 4476 1000 4448 880 4458 962 4453 988 4448 864 4462 953 4459 654 4493 684 4481 943 4449 692 4486 810 4466 773 4472 656 4495 1004 4453 788 4486 670 4503 835 4472 834 4463 678 4486 811 4465 800 4478 660 4503 1012 4453 795 4468 821 4462 917 4445 727 4477 671 4484 782 4473 772 4482 671 4496 637 4499 969 4442 1021 4446 896 4455 674 4500 659 4484 961 4450 932 4460 647 4487 1007 4446 1034 4446 940 4445 747 4486 823 4460 733 4489 796 4464 773 4484 987 4442 839 4471 968 4450 850 4469 713 4490 646 4503 736 4493 1027 4447 720 4491 771 4485 678 4498 927 4452" fill="none" marker-start="url(#m46)" marker-mid="url(#m46)" marker-end="url(#m46)"/>
<path d="M650 4470 845 4442 757 4455 757 4456 820 4442 751 4454 751 4463 744 4462 837 4452 782 4444 830 4454 890 4445 802 4457 850 4449 717 4464 719 4472 798 4460 852 4447 722 4450 681 4477 823 4454 641 4472 654 4460 775 4454 853 4446 719 4465 790 4442 843 4447 734 4451 820 4442 670 4478 664 4472 730 4451 745 4455 913 4444 821 4443 685 4465 843 4453 674 4459 746 4451 835 4443 678 4461 712 4456 808 4446 819 4446 759 4445 649 4476 713 4461 846 4452 723 4463" fill="none" marker-start="url(#m47)" marker-mid="url(#m47)" marker-end="url(#m47)"/>
<path d="M718 4445 650 4445 635 4455 646 4461 677 4454 713 4451 759 4443 649 4447 736 4443 748 4445 638 4455" fill="none" marker-start="url(#m48)" marker-mid="url(#m48)" marker-end="url(#m48)"/>
<path d="M638 4566 595 4573 573 4571 638 4572 611 4568 536 4599 626 4577 512 4604 520 4597 544 4580 536 4579 549 4572 669 4550 596 4574 675 4557 615 4563 506 4588 660 4575 575 4580 588 4567 591 4552 639 4580 643 4568 690 4560 614 4552 612 4567 541 4574 653 4561 643 4563 622 4565 518 4583 540 4577 640 4565 508 4592 598 4566" fill="none" marker-start="url(#m49)" marker-mid="url(#m49)" marker-end="url(#m49)"/>
<path d="M1037 4511 1437 4619 1028 4610 936 4545 1338 4490 1007 4555 1037 4654 1527 4682 1265 4674 1472 4684 1440 4647 1301 4520 1035 4585 1457 4679 1241 4565 1227 4674 1458 4535 913 4586 1476 4673 1445 4638" fill="none" marker-start="url(#m50)" marker-mid="url(#m50)" marker-end="url(#m50)"/>
<path d="M1551 4499 1579 4496 1542 4499 1569 4508 1563 4509 1483 4496 1531 4499 1531 4508 1497 4526 1490 4493 1508 4512 1544 4496 1599 4522 1589 4512 1593 4496 1569 4506 1547 4509 1537 4499 1523 4508 1529 4524 1537 4508 1491 4523 1562 4517 1562 4504 1489 4511 1565 4521 1567 4500 1557 4513 1526 4489 1596 4501 1595 4504 1563 4506 1559 4509 1484 4509 1593 4486 1500 4483 1537 4516" fill="none" marker-start="url(#m51)" marker-mid="url(#m51)" marker-end="url(#m51)"/>
<path d="M858 4512 1068 4501 836 4491 1218 4498 1193 4497 1312 4499 796 4529 910 4503 966 4499 1221 4503 749 4494 832 4521 1430 4510 1001 4496 717 4508 1028 4518 704 4500 901 4494 1476 4522 1083 4514 1033 4525 1083 4523 1276 4514 1212 4513 1197 4505 1107 4517 1384 4518 1383 4507 978 4506 1372 4501 1005 4502 1120 4501 982 4497 879 4485 849 4521 1041 4515 1129 4519 1087 4517 739 4522 782 4515 1459 4496 1436 4517 944 4513 1016 4519 977 4496 1455 4525 1383 4503 1128 4489 1252 4500 1317 4521 805 4506 1461 4505 1101 4486 1195 4502 761 4524 920 4493 933 4493 970 4500 757 4500 1382 4528 913 4494 1180 4508 1364 4520 828 4513 849 4515 977 4492 1068 4498 975 4500 869 4513 1204 4501 905 4516 1023 4510 1423 4504 691 4501 1156 4508 859 4494 1017 4515 1145 4527 771 4520 706 4530 1134 4492 1485 4521 1360 4494 1137 4510 724 4507 708 4496 1414 4516 1110 4524 809 4524 1172 4510 1488 4507 929 4503 1085 4526 1351 4502 1034 4485 1042 4498 1020 4509 1327 4511 869 4507 995 4501 716 4508 863 4502 721 4537 983 4523 1458 4501 1001 4493 1408 4501 1434 4518 766 4507 715 4514 831 4525 1218 4499 1014 4515 1376 4518 1121 4514 1296 4511 1273 4501 993 4508 769 4523 1444 4499 1080 4501 1330 4518 1308 4514 836 4515 1108 4511 1011 4498 691 4525 1069 4512 1183 4503 843 4513 776 4497 1396 4493 1378 4503 1198 4502 1487 4509 810 4501 1120 4479 809 4504 792 4525 1196 4504 835 4496 1480 4498 1361 4501 1359 4506 778 4502 1473 4521 1058 4504 808 4521 1106 4505 1068 4483 1445 4509 991 4490 1158 4514 1460 4514 1325 4507 821 4486 1493 4507 884 4520 717 4512 1348 4501 1455 4497 817 4509 1378 4516 693 4494 1465 4512 1121 4510 1354 4502 1169 4511 784 4510 830 4517 1447 4521 734 4501 874 4509 747 4517 1420 4515 914 4501 1153 4493 1261 4522 1170 4512 1280 4512 721 4497 937 4502 1318 4503 1323 4492 1185 4517 1406 4509 1113 4503 893 4501 740 4517 1435 4503 993 4503 1006 4511 1446 4500 1379 4514 1424 4509 1413 4500 1066 4501 1153 4499 1448 4505 1294 4504 704 4495 907 4507 1133 4507 1450 4495 798 4506 1437 4494 1111 4509 1277 4498 718 4516 945 4503 1426 4514 977 4508 1274 4491 870 4500 1264 4500 1422 4511 795 4505 917 4499 1362 4501 704 4509 912 4491 1398 4513 1154 4518 1463 4497 941 4507 796 4526 935 4518 972 4501 957 4507 712 4521 745 4505 939 4505 1199 4501 1032 4491 1277 4506 1386 4519 771 4509 765 4500 1111 4516 705 4494 1025 4510 1071 4499 1325 4505 1322 4491 1067 4501 837 4534 777 4502 962 4515 742 4507 1136 4513 1039 4515 1349 4501 1200 4502 1455 4502 1048 4507 1130 4512 887 4498 1303 4494 1309 4501 892 4524 1279 4494 1118 4512 972 4481 864 4511 1174 4504 1161 4496 940 4506 1126 4493 917 4520 895 4507 777 4490 1272 4498 869 4514 1197 4520 888 4505 784 4513 1046 4520 889 4488 694 4519 1094 4497 1135 4511 1323 4513 1024 4508 1208 4500 1258 4512 785 4511 1353 4501 1246 4511 852 4506 885 4515 713 4532 1370 4522 1067 4510 1160 4509 1462 4519 825 4486 1434 4505 945 4507 950 4489 822 4491 745 4500 1072 4492 849 4495 1052 4504 1155 4511 988 4519 1070 4511 1068 4507 931 4538 924 4522 995 4495 1423 4515 944 4519 1231 4530 1203 4514 1304 4513 775 4497 1481 4495 1417 4503 1117 4500 754 4526 1452 4494 1491 4511 896 4504 1149 4521 1194 4507 1454 4511 1295 4508 910 4494 1028 4507 1269 4528 928 4506 1139 4496 1120 4500 1341 4511 955 4519 1340 4515 720 4493 1008 4513 1215 4500 946 4493 773 4519 1129 4491 1477 4526 1182 4521 1421 4515 720 4497 1045 4528 1477 4505 1070 4495 896 4512 1415 4495 1480 4509 1227 4504 759 4511 1240 4511 1081 4485 1286 4513 1007 4520 830 4516 1478 4517 867 4494 1196 4508 818 4500 1415 4505 984 4513 1385 4506 1312 4509 1054 4506 1322 4501 1162 4511 1284 4500 898 4503 1344 4490 1193 4500 780 4507 820 4511 1320 4500 1158 4513 782 4510 1374 4516 1087 4508 1395 4516 742 4494 1313 4511 1256 4504 1024 4517 916 4510 887 4496 923 4495 798 4504 1133 4510 1008 4503 1114 4509 1402 4502 1171 4514 1296 4507 799 4485 1021 4509 827 4517 898 4524 1070 4525 1426 4508 940 4488 1239 4517 983 4508 1304 4501 934 4506 1216 4516 1303 4504 763 4505 1289 4505 1160 4524 731 4504 936 4520 915 4525 1215 4506 853 4510 702 4494 1066 4500 924 4500 717 4507" fill="none" marker-start="url(#m52)" marker-mid="url(#m52)" marker-end="url(#m52)"/>
<path d="M1228 4126 1783 4542 1326 4475 1646 4391 515 4064 822 4297 604 4709 1285 4140 810 4505 783 4506 1384 4705 1534 4267 887 4125 813 4336 1685 4408 551 4352 1664 4654 1443 4032 631 4678 918 3997 1519 4142 1811 4240 1881 4248" fill="none" marker-start="url(#m36)" marker-mid="url(#m36)" marker-end="url(#m36)"/>
<path d="M988 4641 926 4680 1018 4606 1260 4566 1226 4586 1170 4589 932 4575 978 4669 988 4672 913 4616 963 4566 1236 4645 984 4633 1007 4599 1280 4563 1007 4665 939 4617 1271 4653 1299 4606 1293 4625 937 4590 1063 4609 946 4698 960 4582 1299 4609 1251 4586 1163 4568 927 4646 950 4688 1307 4675 1184 4675 1136 4620 1066 4638 1287 4580 906 4688 1310 4697 957 4648 989 4614 1263 4608 899 4623 909 4620 1240 4591 1184 4607 1091 4544 1037 4555 1153 4573 1038 4619 1103 4640 1118 4672 1262 4656 1194 4546 1133 4581 1063 4550 1109 4663 1038 4682 954 4632 1104 4580 1096 4581 1001 4672 1020 4687 1014 4581 977 4702 895 4561 953 4646 1242 4567 1164 4573" fill="none" marker-start="url(#m37)" marker-mid="url(#m37)" marker-end="url(#m37)"/>
<path d="M1214 4598 1236 4605 1251 4602 1251 4601 1215 4604 1231 4591 1254 4605 1244 4597 1166 4600 1231 4594 1172 4600 1178 4601 1248 4602 1242 4589 1247 4602 1241 4598 1250 4587 1219 4593 1223 4606 1206 4596 1255 4593 1250 4595 1219 4599 1245 4605 1212 4602 1188 4603" fill="none" marker-start="url(#m38)" marker-mid="url(#m38)" marker-end="url(#m38)"/>
<path d="M1147 4578 1218 4571 1217 4585 1169 4590 1124 4589 1142 4582 1096 4585 1149 4597 1200 4577 1229 4584 1176 4589 1187 4586 1176 4586 1242 4577 1197 4584 1234 4572 1223 4568 1191 4583 1249 4585 1236 4586 1215 4589 1224 4573 1209 4576" fill="none" marker-start="url(#m39)" marker-mid="url(#m39)" marker-end="url(#m39)"/>
<path d="M1214 4556 1048 4578 1117 4566 1089 4567 1127 4565 1025 4577 1192 4547 1165 4564 1194 4568 1061 4588 1062 4586 1103 4570 1213 4566 1058 4567 1017 4580 1196 4562 1148 4558 1149 4558 1205 4555 1156 4562 1028 4579 1047 4574 1038 4583 1122 4562 1148 4572 1073 4586 1115 4579 1040 4584 1209 4545 1166 4561" fill="none" marker-start="url(#m40)" marker-mid="url(#m40)" marker-end="url(#m40)"/>
<path d="M955 4559 1199 4537 931 4571 985 4565 1125 4538 1170 4530 995 4565 1186 4538 963 4561 917 4567 1071 4553 1074 4555 1139 4534 1164 4538 1035 4553 1006 4556 1109 4557 1077 4552 1023 4563 1121 4547 1194 4532 970 4568 1095 4543 1026 4562 1109 4550 1096 4539 1117 4547 1143 4542 1179 4543 1142 4553 968 4576 1020 4567 1090 4538" fill="none" marker-start="url(#m41)" marker-mid="url(#m41)" marker-end="url(#m41)"/>
<path d="M1094 4517 1009 4538 922 4559 822 4556 1041 4524 1115 4526 1142 4506 1022 4541 870 4558 910 4544 1109 4531 937 4557 980 4533 996 4544 1102 4529 887 4563 1178 4521 1159 4517 1058 4530 1131 4521 1011 4542 1155 4524 1030 4531 1028 4546 1172 4517 1020 4535 1170 4523 1151 4506 1068 4520 1151 4523 970 4545 1153 4523 995 4538 852 4560" fill="none" marker-start="url(#m42)" marker-mid="url(#m42)" marker-end="url(#m42)"/>
<path d="M979 4521 756 4546 836 4540 1092 4507 1003 4520 999 4522 801 4552 834 4544 789 4541 917 4522 733 4545 1093 4494 954 4532 1003 4519 1092 4510 908 4534 795 4544 1034 4506 779 4546 811 4551 986 4520 982 4512 761 4550 794 4550 784 4540 1008 4518 1027 4512 1136 4495 918 4532 942 4516 985 4506 971 4523 751 4550 716 4546 920 4534 958 4512 930 4514 1025 4522 867 4543 776 4549 902 4539 872 4531 992 4525 1108 4490 915 4526" fill="none" marker-start="url(#m43)" marker-mid="url(#m43)" marker-end="url(#m43)"/>
<path d="M721 4532 857 4523 1121 4470 1084 4484 884 4518 934 4492 912 4493 1034 4484 1103 4485 1064 4489 930 4503 1131 4476 908 4516 713 4536 1080 4477 1132 4480 737 4520 715 4529 715 4545 1081 4468 709 4532 1000 4503 753 4531 929 4491 1077 4476 1113 4467 731 4537 854 4507 1064 4472 734 4520 910 4506 1026 4497 902 4505 990 4488 669 4532 948 4502 1121 4470 733 4529 712 4540 1070 4476 829 4512 1123 4475 834 4525 709 4542 858 4521 896 4499 1058 4494 1034 4479 747 4524 854 4506 695 4542 992 4499 875 4503 839 4509 1081 4467 743 4526 653 4533 699 4526 1076 4491" fill="none" marker-start="url(#m44)" marker-mid="url(#m44)" marker-end="url(#m44)"/>
<path d="M1064 4448 697 4523 1079 4444 728 4511 767 4500 806 4503 953 4473 978 4460 1089 4461 768 4503 707 4501 728 4505 982 4475 756 4498 805 4491 1052 4466 798 4505 1053 4469 703 4513 863 4480 1073 4446 897 4493 763 4502 1002 4456 705 4512 993 4457 863 4485 664 4517 1025 4457 966 4466 946 4476 934 4479 866 4478 752 4496 1072 4466 700 4509 808 4501 889 4488 751 4511 1000 4457 828 4501 1080 4462 1046 4466 701 4509 905 4491 861 4493 962 4481 1029 4462 855 4500 789 4499 1064 4451 992 4473 857 4495 649 4531 662 4514 1039 4450 1074 4459 793 4493 830 4484 875 4497 1026 4461 690 4502" fill="none" marker-start="url(#m45)" marker-mid="url(#m45)" marker-end="url(#m45)"/>
<path d="M740 4474 720 4496 943 4448 723 4491 748 4483 855 4474 940 4443 738 4481 742 4483 851 4467 665 4491 759 4470 736 4485 673 4483 952 4449 836 4458 665 4486 912 4448 760 4477 713 4485 653 4491 697 4488 858 4471 847 4464 687 4489 752 4471 702 4488 687 4488 994 4442 856 4476 929 4463 773 4475 796 4468 882 4454 927 4451 941 4462 895 4452 838 4458 863 4456 891 4461 901 4448 989 4446 946 4442 873 4457 651 4507 951 4451 672 4488 762 4487 691 4479 820 4476 843 4471 944 4443 874 4465 893 4460 999 4451 840 4472 773 4479 718 4479 714 4475 674 4502 786 4467 741 4481 805 4475 1023 4451 721 4480 818 4479 863 4458" fill="none" marker-start="url(#m46)" marker-mid="url(#m46)" marker-end="url(#m46)"/>
<path d="M730 4468 736 4450 661 4473 797 4462 734 4460 797 4458 716 4458 797 4451 753 4449 810 4443 713 4466 697 4461 830 4455 654 4470 797 4458 663 4459 872 4448 645 4464 863 4443 776 4443 725 4464 724 4450 760 4452 668 4458 675 4466 649 4478" fill="none" marker-start="url(#m47)" marker-mid="url(#m47)" marker-end="url(#m47)"/>
<path d="M706 4449 685 4448 682 4453 708 4443 718 4449 731 4444 642 4447 732 4444 670 4443" fill="none" marker-start="url(#m48)" marker-mid="url(#m48)" marker-end="url(#m48)"/>
<path d="M509 4582 581 4578 593 4569 666 4550 528 4582 523 4580 640 4559 648 4580 596 4579 523 4595 674 4550 617 4557 508 4584 570 4575 675 4555 616 4565 693 4565 624 4564 657 4564 505 4592 581 4585 602 4579 528 4579 576 4573 520 4581 592 4574 561 4582 508 4590 651 4567 654 4554 690 4556 568 4567 677 4571 614 4571 673 4557 585 4562 638 4565 507 4597 560 4590 688 4565 559 4572" fill="none" marker-start="url(#m49)" marker-mid="url(#m49)" marker-end="url(#m49)"/>
<path d="M1260 4505 840 4530 1073 4651 1015 4555 1220 4609 1276 4539 1282 4567 1109 4633 1345 4477 854 4641 1230 4638 1021 4479 1015 4612" fill="none" marker-start="url(#m50)" marker-mid="url(#m50)" marker-end="url(#m50)"/>
<path d="M1590 4502 1524 4514 1498 4505 1599 4495 1503 4502 1579 4484 1514 4508 1525 4496 1556 4513 1476 4512 1487 4505 1493 4501 1539 4513 1590 4503 1597 4500 1546 4495 1569 4504 1572 4508 1601 4511 1572 4525 1600 4501 1604 4491 1554 4525 1529 4517 1503 4497 1491 4495 1514 4507 1514 4508 1526 4505 1511 4515 1544 4506 1543 4510" fill="none" marker-start="url(#m51)" marker-mid="url(#m51)" marker-end="url(#m51)"/>
<path d="M1119 4502 1147 4519 1000 4498 1430 4492 897 4520 1277 4503 694 4508 955 4529 1096 4513 1137 4513 1351 4507 1231 4493 886 4503 1073 4495 941 4513 1042 4502 884 4513 761 4502 934 4501 1344 4505 1427 4504 821 4504 809 4524 764 4494 1395 4500 916 4528 722 4488 1087 4488 1415 4502 705 4498 742 4509 837 4515 807 4500 732 4515 1488 4492 948 4501 1159 4494 1392 4507 1267 4530 1368 4504 1122 4502 796 4510 1235 4507 931 4512 691 4522 745 4513 1002 4527 1411 4500 1434 4519 1489 4503 691 4514 1281 4502 1192 4501 1466 4513 1080 4515 1493 4506 1165 4502 920 4516 1377 4519 1042 4488 1397 4504 1129 4509 1305 4509 1158 4508 871 4507 1030 4494 718 4515 720 4495 1110 4518 810 4503 709 4511 1064 4537 1207 4522 880 4503 1046 4516 1266 4516 1351 4497 984 4506 691 4520 1026 4502 1236 4493 1057 4521 788 4502 1445 4520 1469 4513 923 4498 1350 4509 1421 4497 1433 4499 1030 4509 724 4517 1369 4513 1159 4509 752 4488 944 4501 887 4525 896 4498 705 4516 1394 4505 1302 4526 1334 4513 878 4527 782 4516 776 4517 1359 4504 1116 4514 696 4500 991 4513 1191 4512 914 4511 829 4500 1148 4518 1464 4508 1274 4501 775 4528 810 4494 1052 4516 1433 4496 1330 4509 971 4519 1199 4503 1141 4492 990 4516 1386 4495 751 4495 917 4514 852 4497 722 4505 889 4505 1493 4509 1075 4514 1192 4506 1279 4516 1159 4518 1312 4503 1132 4523 749 4488 738 4538 1231 4521 1027 4494 927 4500 1119 4504 1222 4513 1427 4501 939 4502 962 4508 926 4522 1493 4514 1473 4505 1328 4511 1158 4503 892 4497 1143 4502 852 4518 841 4515 1368 4504 1069 4503 923 4509 944 4504 1262 4517 765 4510 1283 4515 1226 4503 1332 4503 837 4503 730 4511 1439 4511 1176 4498 1221 4502 1003 4505 957 4506 979 4504 1367 4525 1049 4497 1277 4512 1086 4489 1490 4499 788 4490 958 4501 1117 4500 1247 4518 1123 4521 891 4514 717 4499 922 4504 1013 4503 1413 4504 849 4502 840 4502 1460 4501 1067 4533 984 4504 990 4518 1441 4504 981 4492 971 4520 1071 4508 1208 4506 1406 4512 1422 4511 1493 4494 1337 4504 1309 4514 1109 4479 966 4486 844 4523 1317 4498 895 4502 1395 4509 898 4513 841 4506 884 4506 1126 4523 1274 4499 821 4509 1215 4512 906 4505 766 4513 1315 4496 959 4503 804 4503 1356 4503 1480 4507 1031 4505 1207 4513 1390 4507 1481 4515 999 4513 1340 4512 865 4510 1159 4497 837 4501 858 4500 1164 4514 781 4486 790 4484 782 4501 937 4523 1050 4500 1311 4508 1206 4512 902 4500 1217 4505 862 4517 1068 4519 1087 4496 1196 4507 872 4502 885 4504 799 4492 913 4507 992 4507 1199 4511 910 4511 1100 4520 813 4516 931 4500 1221 4496 845 4524 713 4515 1279 4521 1077 4513 1153 4504 702 4512 1320 4519 1251 4518 787 4514 1195 4529 959 4512 1388 4485 969 4496 859 4494 1268 4512 1148 4508 961 4535 1382 4499 1123 4524 711 4511 990 4499 1247 4500 1477 4518 876 4525 913 4538 1113 4499 1195 4513 1065 4505 967 4500 1274 4508 1042 4493 1130 4507 1054 4520 1426 4501 1028 4512 870 4526 768 4501 951 4493 970 4520 970 4522 984 4507 1223 4519 1420 4493 1453 4501 1276 4515 1141 4489 735 4521 1060 4509 897 4513 948 4496 1312 4510 895 4497 1374 4499 703 4510 814 4526 926 4496 1232 4501 1172 4514 1123 4530 1309 4488 1158 4519 1158 4527 990 4487 1184 4508 1446 4517 1248 4509 1173 4502 713 4525 1270 4514 900 4492 944 4512 907 4507 773 4498 1326 4504 1261 4513 1328 4517 1196 4511 1292 4515 932 4510 787 4516 805 4525 1324 4512 1061 4494 911 4523 1410 4499 1427 4511 1474 4509 1366 4499 1114 4500 1096 4509 941 4485 920 4504 1005 4512 1132 4493 1226 4512 952 4505 961 4501 1210 4502 1478 4499 1155 4506 1440 4508 957 4501 702 4503 1346 4495 816 4504 1095 4510 1042 4523 693 4506 1233 4516 801 4499 1412 4500 1112 4522 910 4494 965 4505 1138 4502 1105 4522 966 4487 1462 4504 979 4509 1334 4505 783 4508 993 4516 891 4530 812 4513 1165 4505 960 4515 832 4515 1320 4503 852 4509 971 4486 1467 4520 1127 4516 1032 4493 866 4509 739 4502 813 4497 1420 4509 1301 4510 1400 4510 967 4505 761 4495 1423 4495 1246 4494 1146 4521 1247 4499 710 4514 1454 4500 771 4523 1081 4511 733 4507 717 4514 1088 4532 707 4489 976 4501 1193 4494 981 4510 928 4513 1288 4496 1314 4501 1426 4505 967 4514 847 4517 824 4498 958 4500 1307 4505 1484 4502 1390 4517 1473 4499 813 4523 1208 4529 1406 4501 1083 4526 821 4514 1069 4510 1093 4518 1220 4510 1248 4512 1471 4491 838 4511 921 4516 693 4532 1309 4509 1436 4498 856 4503 764 4504 1056 4496 1186 4493 761 4496 1030 4530 1382 4508 836 4546" fill="none" marker-start="url(#m52)" marker-mid="url(#m52)" marker-end="url(#m52)"/>
<path d="M978 4179 1851 4532 1573 4611 859 4212 1389 4063 612 3986 1086 4228 1523 4236 1709 4102 994 4700 538 4281 1010 4589 741 4600 1079 4634 766 4191 957 4134 1730 4252 1132 4172 1605 4288 1516 4050 901 4590 1325 4504 1902 4579 586 4029 1442 4374 1369 4065" fill="none" marker-start="url(#m36)" marker-mid="url(#m36)" marker-end="url(#m36)"/>
<path d="M1053 4658 1111 4589 983 4667 1066 4629 1194 4566 1294 4649 1002 4630 1186 4659 1221 4550 1001 4560 892 4669 887 4681 1059 4691 1036 4544 968 4608 1190 4619 996 4548 1038 4562 1088 4590 900 4653 1167 4581 1050 4564 900 4574 1197 4683 1133 4551 1012 4634 989 4657 972 4590 926 4613 1070 4647 1243 4643 937 4647 1130 4604 893 4667 1120 4686 1015 4560 1198 4622 1218 4579 936 4603 989 4564 1143 4684 934 4642 944 4662 1275 4699 950 4644 1310 4604 1291 4583 934 4676 1216 4553 1302 4637 1284 4548 1088 4639 886 4606 1307 4618 903 4625 1297 4635 951 4676 1063 4583 1203 4664 912 4617 1186 4553 932 4670 943 4561 906 4692 1124 4547 907 4609 1141 4679 1007 4565 890 4592 903 4700" fill="none" marker-start="url(#m37)" marker-mid="url(#m37)" marker-end="url(#m37)"/>
<path d="M1252 4594 1228 4606 1239 4593 1225 4598 1230 4608 1218 4596 1177 4596 1245 4588 1248 4601 1211 4596 1172 4598 1234 4606 1213 4599 1222 4595 1236 4596 1227 4593 1201 4598 1242 4608 1235 4608 1201 4605 1239 4587 1244 4604" fill="none" marker-start="url(#m38)" marker-mid="url(#m38)" marker-end="url(#m38)"/>
<path d="M1163 4583 1219 4578 1203 4573 1223 4583 1188 4576 1208 4570 1203 4571 1172 4579 1223 4575 1236 4580 1246 4579 1190 4576 1169 4594 1169 4576 1149 4586 1191 4589 1224 4575 1156 4588 1187 4574 1180 4594 1229 4575 1202 4576 1234 4579 1227 4574 1166 4578 1235 4577 1143 4598 1242 4576 1167 4580 1226 4571 1225 4568" fill="none" marker-start="url(#m39)" marker-mid="url(#m39)" marker-end="url(#m39)"/>
<path d="M1167 4557 1154 4563 1090 4568 1182 4567 1069 4568 1180 4558 1029 4582 1147 4563 1180 4556 1218 4559 1136 4559 1046 4584 1021 4581 1175 4563 1205 4559 1076 4576 1207 4555 1226 4561 1220 4563 1196 4566 1171 4560 1205 4549" fill="none" marker-start="url(#m40)" marker-mid="url(#m40)" marker-end="url(#m40)"/>
<path d="M1179 4545 997 4556 1184 4539 1058 4563 1196 4538 1180 4537 1004 4571 1133 4534 963 4576 1057 4543 924 4572 1189 4529 1165 4530 1075 4551 950 4565 1037 4549 955 4571 1098 4560 1160 4542 1087 4559 1098 4559 1019 4572 1000 4569 937 4572 1047 4566 1066 4555 1086 4541 1150 4547 1083 4541 1176 4525 1055 4565 1081 4561 1196 4537 1124 4549 957 4560 920 4568 933 4566 1129 4548 1173 4533 1175 4546 985 4567 1197 4542 1095 4540 989 4558 1011 4554 1181 4527" fill="none" marker-start="url(#m41)" marker-mid="url(#m41)" marker-end="url(#m41)"/>
<path d="M867 4554 1172 4511 900 4562 840 4557 898 4546 859 4550 1090 4514 1059 4521 977 4539 1036 4543 887 4550 1176 4523 1128 4518 1161 4504 863 4560 1174 4522 1095 4535 1132 4531 1058 4521 1136 4510 1018 4534 879 4559 1169 4513 962 4539 867 4554 982 4542 1136 4512 1152 4524 1108 4524 827 4553 1049 4532 936 4550 992 4552 1085 4518 1151 4512 961 4546 1021 4546 1143 4516" fill="none" marker-start="url(#m42)" marker-mid="url(#m42)" marker-end="url(#m42)"/>
<path d="M1065 4504 1015 4513 950 4531 894 4521 1156 4503 811 4549 750 4544 902 4525 948 4530 1009 4510 945 4525 1128 4494 1064 4510 1034 4498 862 4535 787 4548 849 4532 1096 4509 1074 4505 761 4545 763 4544 899 4525 1043 4520 1126 4493 874 4532 885 4533 950 4523 949 4532 897 4521 835 4529 914 4526 738 4548 970 4524 1030 4510 956 4533 947 4535 817 4538 829 4541 846 4535 945 4526 1013 4523 934 4520 831 4549 842 4543 1085 4500" fill="none" marker-start="url(#m43)" marker-mid="url(#m43)" marker-end="url(#m43)"/>
<path d="M853 4517 781 4528 754 4528 848 4525 656 4539 990 4490 768 4515 1077 4473 698 4529 955 4494 708 4530 845 4526 757 4531 1109 4479 724 4524 911 4506 880 4518 794 4529 762 4535 872 4517 736 4531 688 4536 920 4515 791 4532 807 4516 778 4516 956 4508 982 4505 911 4493 1109 4467 763 4534 754 4526 964 4488 911 4494 1043 4474 698 4534 705 4545 844 4523 814 4523 988 4490 1018 4482 695 4538 843 4525 731 4528 843 4521 875 4504 839 4511 666 4538 1046 4489 969 4493 974 4491 838 4508 1113 4467 953 4510 1129 4482 1115 4474" fill="none" marker-start="url(#m44)" marker-mid="url(#m44)" marker-end="url(#m44)"/>
<path d="M938 4480 1075 4455 663 4520 838 4498 924 4475 861 4477 993 4460 867 4483 744 4505 796 4501 975 4477 1067 4461 792 4487 907 4485 887 4478 885 4473 717 4501 765 4497 1017 4453 715 4511 847 4482 1097 4452 681 4519 1071 4460 639 4513 772 4491 649 4510 640 4524 828 4487 761 4492 1101 4451 827 4483 893 4477 1103 4453 725 4505 726 4509 751 4502 689 4504 791 4511 972 4460 684 4522 640 4519 1107 4453 967 4475 1071 4460 816 4499 1054 4449 1029 4470 683 4518 908 4470 685 4525 709 4503 1070 4453" fill="none" marker-start="url(#m45)" marker-mid="url(#m45)" marker-end="url(#m45)"/>
<path d="M742 4485 775 4468 760 4469 910 4447 766 4474 706 4492 713 4481 946 4458 891 4463 766 4488 876 4463 777 4478 925 4457 879 4467 901 4450 671 4493 767 4474 986 4455 1053 4442 929 4454 763 4472 683 4494 821 4475 837 4479 685 4491 848 4465 706 4490 926 4462 982 4455 786 4481 877 4454 800 4480 761 4473 675 4487 800 4471 968 4449 757 4474 879 4458 990 4455 953 4456 927 4445 743 4478 890 4451 691 4479 991 4451 640 4492 958 4443 976 4451 725 4474 973 4453 958 4442 1018 4444 951 4452 920 4452 743 4476 654 4492 956 4448 678 4503 640 4503 895 4466 856 4462 974 4454 646 4495 885 4457 815 4483 815 4477 896 4462 730 4489 916 4451" fill="none" marker-start="url(#m46)" marker-mid="url(#m46)" marker-end="url(#m46)"/>
<path d="M700 4475 779 4447 781 4448 735 4459 821 4449 775 4462 766 4448 696 4476 777 4462 828 4452 710 4452 786 4451 641 4466 704 4473 911 4444 716 4466 805 4442 648 4479 748 4460 815 4442 661 4473 791 4460 794 4455 682 4473 647 4478 778 4453 676 4471 778 4459 767 4460 738 4462 822 4448 647 4477 723 4463 779 4447 887 4448 742 4463 886 4442" fill="none" marker-start="url(#m47)" marker-mid="url(#m47)" marker-end="url(#m47)"/>
<path d="M727 4447 739 4444 641 4450 697 4443 686 4444 706 4446 734 4447" fill="none" marker-start="url(#m48)" marker-mid="url(#m48)" marker-end="url(#m48)"/>
<path d="M533 4596 644 4569 559 4583 679 4546 509 4593 675 4549 565 4577 533 4584 574 4565 527 4596 608 4577 556 4593 683 4555 630 4566 509 4581 535 4587 612 4567 530 4572 582 4581 557 4602 673 4545 591 4580 558 4582 545 4572 674 4564 692 4547 652 4557 611 4577 594 4569 514 4561 578 4585 615 4565 682 4548 506 4590" fill="none" marker-start="url(#m49)" marker-mid="url(#m49)" marker-end="url(#m49)"/>
<path d="M1320 4637 1511 4636 1361 4645 1176 4548 1039 4562 1164 4677 978 4655 1361 4575 1212 4680 1252 4626 1341 4619 945 4646 1130 4567 974 4618 1258 4558 1512 4561 1400 4582" fill="none" marker-start="url(#m50)" marker-mid="url(#m50)" marker-end="url(#m50)"/>
<path d="M1516 4503 1506 4507 1479 4507 1502 4508 1537 4525 1530 4502 1509 4534 1602 4503 1509 4526 1581 4508 1589 4502 1530 4503 1496 4491 1491 4500 1540 4494 1507 4527 1580 4511 1510 4495 1536 4523 1540 4509 1603 4524 1572 4497 1531 4499 1531 4486 1591 4494 1534 4510 1529 4514 1479 4518 1482 4510 1579 4505 1597 4504 1503 4510 1476 4505 1525 4487 1556 4492 1554 4509 1588 4509 1566 4497 1532 4504 1596 4507 1566 4494" fill="none" marker-start="url(#m51)" marker-mid="url(#m51)" marker-end="url(#m51)"/>
<path d="M865 4503 838 4504 1352 4492 1136 4498 1393 4501 1206 4511 919 4522 1457 4521 1129 4504 902 4510 990 4507 990 4507 1106 4502 1240 4493 731 4491 1213 4513 1076 4501 1156 4497 1449 4518 1352 4520 817 4517 1349 4504 732 4517 1106 4502 1255 4503 1327 4504 706 4508 891 4520 1001 4509 950 4511 1492 4496 1236 4497 1298 4510 827 4494 807 4512 1113 4522 1153 4510 852 4502 1350 4515 1104 4514 702 4517 1178 4503 1372 4514 1049 4490 1069 4506 1118 4504 1355 4504 920 4485 1009 4514 1374 4512 1236 4514 759 4501 864 4495 856 4517 906 4506 811 4517 1179 4510 808 4505 1449 4501 1015 4508 1467 4502 779 4500 902 4518 1109 4489 1443 4510 1222 4523 886 4506 983 4504 1252 4517 741 4520 722 4514 913 4507 919 4498 897 4506 694 4503 1236 4503 1322 4507 1444 4500 695 4506 994 4496 1099 4505 1307 4514 1307 4498 829 4509 783 4505 768 4501 983 4503 988 4505 1231 4501 844 4512 859 4506 1226 4499 1470 4516 972 4505 1458 4507 1264 4518 850 4527 870 4513 960 4525 1355 4526 1488 4505 1167 4516 767 4512 1081 4512 886 4501 1168 4511 874 4527 1013 4515 1483 4496 1432 4514 848 4508 931 4505 800 4499 933 4488 1123 4507 1401 4506 751 4512 1366 4507 790 4504 1114 4508 695 4511 1066 4480 1478 4503 1255 4511 970 4511 1227 4521 863 4519 1396 4502 1389 4519 711 4502 823 4483 1223 4518 1273 4498 1335 4502 935 4523 1457 4509 898 4498 730 4522 1266 4512 732 4523 831 4484 1480 4523 1206 4511 1082 4513 936 4499 795 4486 738 4515 950 4501 1233 4510 1274 4504 933 4521 1488 4496 1093 4514 766 4498 874 4502 1114 4505 868 4523 1334 4491 1063 4497 1386 4507 1166 4513 913 4501 1216 4516 1411 4504 754 4487 1160 4506 1272 4516 1430 4518 1342 4497 1290 4488 1077 4514 828 4508 930 4502 928 4512 1358 4507 1447 4510 883 4497 900 4496 1208 4513 1423 4499 1013 4493 890 4488 1155 4518 986 4519 1106 4501 1300 4511 771 4517 1252 4501 1298 4510 1210 4516 995 4522 1056 4505 958 4515 1108 4524 1136 4491 867 4510 1028 4529 987 4509 1342 4500 940 4513 1053 4495 953 4497 1124 4484 1073 4499 891 4498 1182 4504 1302 4511 1372 4508 741 4496 1405 4510 1392 4504 1284 4502 929 4495 1020 4489 1098 4508 799 4497 731 4504 1142 4506 1407 4502 823 4517 766 4536 820 4509 1155 4497 976 4506 826 4512 909 4512 1410 4505 789 4510 1192 4501 797 4506 782 4498 994 4507 947 4515 1198 4494 756 4509 744 4488 1422 4510 1038 4520 757 4511 749 4496 1295 4509 1079 4509 994 4507 1301 4503 1218 4507 1471 4501 760 4505 1185 4500 784 4520 821 4504 1010 4519 1013 4491 796 4507 1073 4509 1132 4521 1241 4508 1440 4505 1312 4504 1484 4503 1306 4512 1487 4501 792 4513 1406 4518 778 4524 900 4522 1084 4516 784 4525 1020 4505 1481 4531 1125 4508 1416 4506 690 4494 1321 4500 766 4504 1125 4500 834 4513 1007 4503 1466 4495 911 4493 1099 4480 1016 4506 724 4504 1186 4514 1422 4510 1424 4509 1052 4510 779 4519 985 4519 1270 4511 1232 4504 1444 4508 872 4510 782 4500 897 4508 964 4496 894 4503 1201 4506 1339 4506 1103 4488 1082 4516 788 4490 1076 4507 1041 4512 819 4508 865 4501 736 4516 766 4502 973 4495 1340 4519 756 4526 767 4507 1415 4508 850 4524 799 4506 1119 4504 801 4481 1114 4501 1149 4527 1307 4509 1274 4507 1407 4509 1453 4503 757 4495 1414 4505 1221 4527 901 4515 784 4513 769 4497 925 4509 1427 4508 827 4518 915 4510 1415 4506 1140 4510 1204 4496 775 4496 1163 4493 1223 4508 1192 4499 1480 4497 1111 4476 1066 4508 940 4515 938 4528 1259 4502 834 4509 1259 4523 1326 4510 952 4502 805 4522 733 4513 1301 4501 775 4514 1236 4505 1271 4508 775 4492 1443 4499 1462 4507 880 4500 1255 4505 1323 4492 728 4507 1279 4499 791 4513 1151 4508 945 4502 1295 4504 967 4509 832 4502 947 4499 911 4493 949 4498 958 4502 1134 4498 946 4513 1271 4519 1203 4507 690 4515 1168 4511 803 4507 702 4501 983 4509 911 4506 1106 4499 1458 4517 1106 4507 903 4510 1404 4502 788 4507 841 4490 1069 4493 861 4511 1163 4497 1408 4512 750 4518 1349 4517 941 4507 1369 4512 833 4508 1104 4488 971 4522 953 4506 796 4494 908 4500 799 4525 1024 4518 1377 4507 882 4522 725 4521 1359 4508 1014 4506 887 4519 1452 4504 1247 4502 1053 4495 896 4504 770 4499 1060 4504 1448 4505 851 4517 1354 4510 1046 4515 957 4517 1154 4508 1295 4512 735 4496 930 4511 1294 4510 1166 4520" fill="none" marker-start="url(#m52)" marker-mid="url(#m52)" marker-end="url(#m52)"/>
<path d="M1119 5433 1113 5455 1081 5450 1261 5441 1266 5459 1150 5441 1112 5462 1206 5444 1054 5457 1222 5444 1117 5428 1161 5436 1227 5452 1037 5442 1144 5433 1128 5436 1081 5428 1063 5435 1239 5464 1042 5459 1255 5449 1145 5452" fill="none" marker-start="url(#m53)" marker-mid="url(#m53)" marker-end="url(#m53)"/>
<path d="M1271 5328 1215 5331 1014 5329 1190 5335 1068 5333 1061 5333 1103 5326 1020 5329 1278 5333 1018 5331 1077 5327 1225 5333 1105 5327 1071 5333 1180 5331 1046 5335 1094 5329 1264 5329 1175 5330 1030 5328 1260 5331 1171 5330 1021 5327 1087 5332" fill="none" marker-start="url(#m54)" marker-mid="url(#m54)" marker-end="url(#m54)"/>
<path d="M1041 5340 1228 5343 1135 5341 1176 5343 1225 5339 1240 5341 1014 5342 1225 5345 1174 5341 1104 5344 1274 5337 1115 5345 1284 5337" fill="none" marker-start="url(#m55)" marker-mid="url(#m55)" marker-end="url(#m55)"/>
<path d="M1162 5352 1100 5348 1182 5348 1278 5348 1267 5349 1242 5349 1105 5350 1188 5348 1164 5350" fill="none" marker-start="url(#m56)" marker-mid="url(#m56)" marker-end="url(#m56)"/>
<path d="M1053 5356 1022 5359 1125 5359 1032 5357 1048 5357 1157 5355 1280 5353 1260 5353 1260 5357 1137 5354 1197 5357 1168 5358 1282 5353" fill="none" marker-start="url(#m57)" marker-mid="url(#m57)" marker-end="url(#m57)"/>
<path d="M1098 5362 1273 5363 1011 5360 1227 5362 1172 5360 1219 5363 1039 5365 1030 5360 1139 5364 1256 5365 1123 5363" fill="none" marker-start="url(#m58)" marker-mid="url(#m58)" marker-end="url(#m58)"/>
<path d="M1055 5371 1125 5366 1056 5368 1187 5369 1207 5366 1069 5368 1053 5368 1135 5366 1195 5367 1230 5368 1041 5370" fill="none" marker-start="url(#m59)" marker-mid="url(#m59)" marker-end="url(#m59)"/>
<path d="M1100 5376 1173 5371 1122 5375 1096 5374 1179 5373 1148 5374 1075 5373 1018 5372 1017 5376 1010 5372 1018 5374" fill="none" marker-start="url(#m60)" marker-mid="url(#m60)" marker-end="url(#m60)"/>
<path d="M1103 5379 1079 5381 1247 5380 1018 5378 1233 5379 1159 5381 1081 5377 1199 5379 1170 5377 1037 5379 1201 5378" fill="none" marker-start="url(#m61)" marker-mid="url(#m61)" marker-end="url(#m61)"/>
<path d="M1017 5382 1147 5383 1190 5385 1262 5384 1200 5384 1186 5384 1194 5383 1018 5386 1248 5383 1199 5383 1194 5384 1190 5386 1130 5383" fill="none" marker-start="url(#m62)" marker-mid="url(#m62)" marker-end="url(#m62)"/>
<path d="M1156 5390 1204 5387 1163 5388 1054 5390 1235 5386 1149 5388 1241 5390 1247 5388 1087 5388 1221 5389 1070 5388 1195 5390 1237 5390 1105 5389 1273 5390" fill="none" marker-start="url(#m63)" marker-mid="url(#m63)" marker-end="url(#m63)"/>
<path d="M1252 5391 1073 5392 1149 5393 1130 5394 1279 5393 1168 5392 1271 5391 1029 5392 1037 5395 1180 5395 1123 5393 1021 5395 1221 5392 1015 5394 1214 5394 1061 5394" fill="none" marker-start="url(#m64)" marker-mid="url(#m64)" marker-end="url(#m64)"/>
<path d="M1153 5400 1099 5396 1228 5396 1196 5399 1080 5398 1122 5399 1034 5396 1279 5401 1065 5401 1261 5400 1245 5400 1140 5398 1214 5397 1270 5399 1226 5400 1249 5399 1118 5401 1018 5396 1180 5401 1150 5400 1185 5397 1208 5398 1051 5397 1086 5398 1129 5397 1237 5396 1203 5396 1204 5401 1018 5400 1084 5401 1042 5397 1094 5397 1259 5400" fill="none" marker-start="url(#m65)" marker-mid="url(#m65)" marker-end="url(#m65)"/>
<path d="M1572 5369 1467 5410 1547 5352 1584 5393 1483 5357 1534 5397 1469 5350 1547 5390 1513 5407 1505 5391 1429 5351" fill="none" marker-start="url(#m66)" marker-mid="url(#m66)" marker-end="url(#m66)"/>
<path d="M1123 5416 1390 5424 1051 5407 1141 5433 1430 5421 1083 5416 1360 5405 1459 5424 1331 5405 1099 5422 1066 5419 1415 5431 1349 5418 1141 5409 1114 5408 1195 5415 1063 5418 1345 5402 1201 5429 1295 5427 1445 5421 1130 5438 1461 5428 1165 5418 1156 5422 1314 5428 1218 5425 1043 5430 1031 5421 1207 5416 1491 5424 1028 5432 1066 5416 1387 5418 1049 5433 1112 5438 1121 5425 1075 5416 1232 5420 1409 5428 1261 5432 1210 5423 1193 5427 1273 5419 1225 5412 1083 5397 1491 5413 1236 5417 1180 5422 1425 5421 1224 5411 1270 5421 1021 5418 1478 5419 1286 5423 1097 5420 1042 5429 1291 5409 1386 5417 1442 5418 1355 5416 1140 5422 1279 5419 1456 5410 1176 5415 1350 5430 1299 5419 1098 5410 1468 5414 1164 5423 1222 5438 1330 5428 1376 5437 1116 5413 1109 5419 1279 5429 1150 5420 1332 5430 1448 5414 1225 5408 1388 5427 1325 5436 1092 5429 1266 5417 1363 5418 1232 5421 1464 5425 1196 5424 1323 5424 1086 5421 1283 5412 1078 5426 1151 5420 1261 5428 1466 5425 1316 5439 1061 5412 1227 5432 1108 5426 1383 5426 1358 5410 1086 5419 1214 5410 1261 5430 1361 5418 1101 5420 1392 5417 1198 5416 1351 5422 1390 5432 1280 5413 1407 5411 1104 5414 1124 5429 1298 5423 1226 5405 1491 5421 1477 5417 1397 5425 1065 5424 1435 5426 1073 5416 1418 5412 1039 5422 1053 5414 1036 5418 1048 5417 1291 5435 1449 5426 1187 5430 1260 5427 1492 5417 1071 5411 1195 5423 1095 5422 1250 5432 1380 5425 1165 5428 1098 5431 1471 5419 1304 5404 1410 5435 1328 5419 1356 5415 1052 5437 1067 5422 1054 5412 1487 5429 1258 5428 1271 5417 1070 5422 1016 5406 1096 5392 1167 5417 1179 5422 1223 5413 1108 5439 1461 5424 1310 5416 1377 5419 1224 5418 1435 5413 1069 5427 1122 5424 1247 5424 1363 5418 1328 5408 1403 5417 1350 5417 1248 5429 1475 5425 1383 5413 1348 5408 1127 5433 1236 5415 1494 5415 1406 5424 1296 5411 1248 5410 1374 5419 1457 5433 1050 5418 1298 5424 1150 5418 1150 5415 1399 5407 1213 5418 1110 5421 1456 5418 1103 5418 1225 5419 1156 5405 1278 5415 1394 5424 1485 5405 1353 5425 1381 5425 1102 5411 1225 5418 1404 5418 1237 5426 1330 5430 1144 5417 1322 5415 1138 5424 1443 5409 1047 5426 1441 5427 1364 5414 1263 5427 1412 5420 1268 5412 1149 5438 1444 5421 1488 5416 1201 5412 1136 5418 1295 5419 1166 5422 1484 5420 1022 5443 1163 5423 1272 5421 1394 5421 1456 5410 1488 5422 1226 5423 1197 5427 1448 5406 1414 5411 1216 5423 1152 5419 1187 5423 1297 5435 1193 5415 1049 5414 1418 5414 1060 5420 1463 5428 1440 5426 1393 5411 1220 5415 1344 5416 1021 5414 1470 5412 1350 5410 1276 5415 1338 5427 1380 5436 1267 5405 1492 5441 1473 5434 1101 5419 1320 5418 1135 5427 1021 5430 1247 5417 1393 5408 1198 5421 1354 5414 1066 5421 1210 5411 1264 5416 1331 5427 1152 5417 1378 5421 1186 5446 1451 5432 1383 5415 1061 5437 1097 5442 1194 5395 1438 5423 1326 5420 1108 5420 1032 5430 1263 5421 1037 5425 1172 5418 1299 5415 1113 5412 1295 5418 1257 5422 1238 5416 1127 5419" fill="none" marker-start="url(#m67)" marker-mid="url(#m67)" marker-end="url(#m67)"/>
<path d="M1219 5435 1144 5463 1237 5455 1064 5455 1247 5440 1154 5443 1189 5444 1107 5460 1064 5452 1186 5438 1266 5441 1267 5462 1068 5466 1180 5455 1068 5427 1127 5449 1131 5434 1228 5429 1268 5455" fill="none" marker-start="url(#m53)" marker-mid="url(#m53)" marker-end="url(#m53)"/>
<path d="M1250 5332 1269 5328 1177 5333 1013 5332 1207 5334 1044 5327 1101 5329 1153 5329 1230 5330 1045 5334 1200 5328 1159 5328 1120 5330" fill="none" marker-start="url(#m54)" marker-mid="url(#m54)" marker-end="url(#m54)"/>
<path d="M1194 5342 1141 5337 1059 5338 1034 5344 1070 5342 1284 5343 1213 5343 1124 5337 1188 5336 1079 5337 1273 5343 1261 5342 1068 5336 1229 5336 1182 5338 1129 5335 1114 5338" fill="none" marker-start="url(#m55)" marker-mid="url(#m55)" marker-end="url(#m55)"/>
<path d="M1139 5350 1051 5345 1041 5347 1138 5350 1145 5347 1015 5351 1131 5347 1117 5352 1044 5349 1113 5351 1090 5352 1171 5349 1130 5345 1116 5348 1259 5349 1062 5347 1110 5353 1159 5350" fill="none" marker-start="url(#m56)" marker-mid="url(#m56)" marker-end="url(#m56)"/>
<path d="M1152 5357 1139 5355 1050 5353 1114 5355 1148 5354 1271 5355 1149 5358 1249 5359" fill="none" marker-start="url(#m57)" marker-mid="url(#m57)" marker-end="url(#m57)"/>
<path d="M1186 5361 1116 5360 1243 5361 1038 5362 1267 5360 1237 5359 1048 5361 1048 5360 1103 5360 1161 5361 1099 5360" fill="none" marker-start="url(#m58)" marker-mid="url(#m58)" marker-end="url(#m58)"/>
<path d="M1163 5369 1275 5369 1079 5367 1040 5365 1010 5368 1094 5367 1228 5367 1236 5367 1028 5369" fill="none" marker-start="url(#m59)" marker-mid="url(#m59)" marker-end="url(#m59)"/>
<path d="M1263 5373 1237 5376 1146 5375 1239 5371 1138 5372 1054 5375 1227 5376 1131 5373 1075 5373 1144 5375" fill="none" marker-start="url(#m60)" marker-mid="url(#m60)" marker-end="url(#m60)"/>
<path d="M1053 5379 1115 5380 1063 5376 1202 5380 1138 5377 1027 5379 1025 5380 1191 5377 1190 5380 1212 5380 1100 5381 1110 5379 1011 5377 1012 5378" fill="none" marker-start="url(#m61)" marker-mid="url(#m61)" marker-end="url(#m61)"/>
<path d="M1240 5383 1108 5383 1152 5385 1170 5384 1033 5385 1194 5384 1142 5386" fill="none" marker-start="url(#m62)" marker-mid="url(#m62)" marker-end="url(#m62)"/>
<path d="M1186 5386 1170 5387 1133 5388 1026 5387 1081 5391 1091 5387 1154 5389 1199 5390 1197 5389 1162 5389 1263 5388" fill="none" marker-start="url(#m63)" marker-mid="url(#m63)" marker-end="url(#m63)"/>
<path d="M1006 5394 1198 5393 1230 5395 1186 5394 1046 5394 1188 5392 1119 5395 1171 5391" fill="none" marker-start="url(#m64)" marker-mid="url(#m64)" marker-end="url(#m64)"/>
<path d="M1099 5400 1113 5399 1284 5401 1017 5397 1266 5398 1256 5399 1147 5397 1273 5397 1255 5400 1074 5401 1243 5399 1168 5396 1134 5398 1140 5400 1066 5400 1068 5398 1070 5400 1031 5397" fill="none" marker-start="url(#m65)" marker-mid="url(#m65)" marker-end="url(#m65)"/>
<path d="M1593 5389 1601 5404 1584 5377 1508 5356 1605 5347 1491 5363 1502 5352 1582 5415 1601 5405" fill="none" marker-start="url(#m66)" marker-mid="url(#m66)" marker-end="url(#m66)"/>
<path d="M1426 5427 1367 5418 1371 5413 1189 5423 1451 5432 1079 5425 1304 5411 1431 5419 1332 5420 1267 5409 1103 5420 1023 5413 1039 5416 1335 5408 1248 5420 1284 5426 1252 5413 1390 5410 1485 5417 1200 5418 1240 5403 1253 5407 1066 5428 1325 5416 1016 5413 1147 5422 1170 5423 1111 5415 1172 5406 1491 5405 1251 5424 1024 5427 1078 5415 1185 5428 1035 5425 1224 5405 1326 5431 1356 5441 1401 5410 1459 5424 1480 5434 1173 5417 1409 5419 1234 5419 1307 5410 1400 5419 1230 5422 1353 5435 1409 5422 1019 5416 1370 5421 1027 5434 1106 5423 1344 5405 1446 5422 1140 5417 1318 5415 1490 5411 1198 5427 1254 5432 1139 5411 1022 5415 1374 5421 1090 5422 1321 5400 1475 5421 1308 5411 1157 5412 1347 5405 1354 5406 1489 5426 1030 5430 1319 5425 1437 5429 1375 5416 1492 5413 1062 5413 1078 5434 1218 5419 1475 5422 1127 5430 1197 5420 1225 5424 1048 5425 1228 5436 1373 5423 1044 5419 1383 5423 1313 5426 1478 5414 1226 5426 1489 5413 1442 5416 1363 5421 1127 5423 1250 5419 1198 5423 1363 5413 1294 5432 1108 5419 1394 5423 1386 5427 1255 5416 1354 5420 1122 5417 1184 5418 1307 5424 1418 5429 1272 5416 1145 5417 1433 5414 1265 5413 1367 5419 1411 5425 1209 5425 1404 5422 1338 5419 1428 5423 1283 5439 1434 5419 1434 5420 1358 5431 1288 5425 1031 5411 1326 5425 1022 5404 1069 5418 1037 5429 1322 5415 1365 5425 1456 5413 1054 5421 1450 5420 1169 5434 1431 5422 1475 5425 1106 5416 1128 5421 1100 5430 1036 5422 1270 5430 1302 5422 1465 5411 1443 5427 1152 5420 1279 5418 1122 5413 1079 5409 1105 5409 1366 5393 1111 5420 1046 5429 1300 5424 1129 5413 1198 5420 1253 5432 1085 5424 1124 5422 1489 5421 1071 5432 1159 5410 1078 5417 1116 5414 1279 5423 1428 5404 1157 5441 1418 5420 1437 5421 1229 5417 1450 5433 1306 5424 1225 5434 1040 5414 1463 5422 1446 5401 1017 5416 1464 5424 1491 5420 1343 5433 1129 5422 1174 5434 1115 5403 1112 5417 1256 5431 1375 5427 1403 5423 1460 5436 1194 5407 1104 5433 1169 5417 1280 5408 1167 5431 1303 5415 1148 5431 1481 5419 1257 5411 1373 5407 1276 5421 1225 5407 1168 5419 1115 5423 1023 5425 1371 5415 1259 5410 1125 5420 1058 5433 1288 5422 1445 5410 1418 5428 1337 5419 1485 5406 1164 5432 1429 5421 1340 5434 1376 5438 1417 5424 1146 5424 1337 5438 1087 5422 1196 5434 1179 5409 1163 5418 1166 5431 1072 5433 1328 5403 1020 5417 1108 5423 1288 5428 1067 5432 1335 5413 1314 5410 1296 5408 1445 5418 1350 5416 1282 5419 1055 5410 1371 5414 1139 5411 1095 5436 1304 5428 1170 5436 1393 5421 1343 5423 1304 5418 1133 5421 1081 5419 1441 5434 1026 5425 1187 5429 1145 5412 1173 5425 1271 5429" fill="none" marker-start="url(#m67)" marker-mid="url(#m67)" marker-end="url(#m67)"/>
<path d="M1067 5455 1118 5465 1045 5460 1233 5431 1211 5443 1162 5453 1085 5453 1100 5426 1097 5455 1230 5428 1134 5453 1262 5463 1261 5458 1117 5458 1248 5428 1244 5427 1082 5436 1113 5446 1235 5428" fill="none" marker-start="url(#m53)" marker-mid="url(#m53)" marker-end="url(#m53)"/>
<path d="M1177 5333 1183 5334 1116 5331 1133 5332 1152 5326 1069 5330 1231 5329 1083 5328 1187 5331 1013 5332 1270 5332 1205 5333 1187 5333 1211 5332 1020 5332 1035 5326" fill="none" marker-start="url(#m54)" marker-mid="url(#m54)" marker-end="url(#m54)"/>
<path d="M1164 5343 1043 5345 1214 5340 1173 5343 1256 5344 1211 5341 1161 5342 1248 5345 1124 5339 1172 5337 1280 5343 1113 5339 1160 5345 1218 5342 1031 5343 1242 5345 1241 5344 1020 5342 1101 5337" fill="none" marker-start="url(#m55)" marker-mid="url(#m55)" marker-end="url(#m55)"/>
<path d="M1045 5350 1192 5345 1065 5348 1070 5350 1020 5353 1194 5353 1259 5351 1017 5348 1125 5346 1268 5347 1277 5348 1191 5346 1156 5348 1028 5351" fill="none" marker-start="url(#m56)" marker-mid="url(#m56)" marker-end="url(#m56)"/>
<path d="M1208 5354 1054 5355 1242 5356 1229 5354 1096 5357 1068 5353 1282 5358 1046 5357 1236 5354 1140 5355 1206 5357 1156 5359 1140 5358 1087 5356" fill="none" marker-start="url(#m57)" marker-mid="url(#m57)" marker-end="url(#m57)"/>
<path d="M1147 5364 1243 5362 1247 5362 1045 5363 1132 5361 1254 5361 1072 5362 1269 5365 1245 5362 1112 5365" fill="none" marker-start="url(#m58)" marker-mid="url(#m58)" marker-end="url(#m58)"/>
<path d="M1117 5371 1177 5369 1186 5369 1020 5368 1080 5369 1268 5370 1077 5370 1046 5371 1218 5366 1107 5370 1177 5371" fill="none" marker-start="url(#m59)" marker-mid="url(#m59)" marker-end="url(#m59)"/>
<path d="M1281 5375 1120 5371 1083 5372 1021 5372 1267 5373 1087 5373 1153 5373 1275 5376 1081 5373" fill="none" marker-start="url(#m60)" marker-mid="url(#m60)" marker-end="url(#m60)"/>
<path d="M1122 5378 1125 5381 1181 5378 1194 5377 1121 5378 1172 5381 1168 5376 1198 5377 1141 5381 1038 5379 1153 5379 1215 5378 1044 5381 1273 5380" fill="none" marker-start="url(#m61)" marker-mid="url(#m61)" marker-end="url(#m61)"/>
<path d="M1205 5385 1263 5385 1162 5384 1234 5383 1209 5382 1138 5382 1135 5383 1155 5382 1024 5385 1037 5386 1231 5383 1223 5385 1180 5384 1151 5382 1261 5384 1265 5384" fill="none" marker-start="url(#m62)" marker-mid="url(#m62)" marker-end="url(#m62)"/>
<path d="M1248 5390 1177 5389 1235 5387 1104 5390 1007 5391 1262 5388 1098 5387 1274 5390 1100 5388 1281 5388" fill="none" marker-start="url(#m63)" marker-mid="url(#m63)" marker-end="url(#m63)"/>
<path d="M1224 5393 1183 5395 1219 5394 1261 5393 1084 5394 1105 5393 1206 5393 1215 5395 1150 5392 1046 5395 1190 5393 1236 5393 1107 5393 1234 5393" fill="none" marker-start="url(#m64)" marker-mid="url(#m64)" marker-end="url(#m64)"/>
<path d="M1062 5397 1030 5401 1229 5399 1063 5400 1097 5401 1032 5398 1278 5399 1200 5397 1056 5399 1202 5397 1214 5398 1007 5400 1081 5400 1079 5401 1233 5398 1260 5396 1268 5397 1169 5398 1238 5399 1187 5401 1040 5396 1136 5397 1080 5396 1057 5399 1116 5395 1055 5397 1220 5400 1256 5396 1057 5395" fill="none" marker-start="url(#m65)" marker-mid="url(#m65)" marker-end="url(#m65)"/>
<path d="M1408 5355 1523 5371 1421 5352 1550 5384 1477 5412 1548 5359 1560 5364 1602 5394" fill="none" marker-start="url(#m66)" marker-mid="url(#m66)" marker-end="url(#m66)"/>
<path d="M1365 5425 1395 5408 1064 5426 1082 5413 1157 5413 1416 5407 1360 5427 1477 5427 1078 5407 1474 5429 1291 5412 1494 5425 1066 5435 1158 5434 1487 5427 1375 5416 1254 5406 1033 5417 1156 5430 1409 5435 1264 5425 1156 5411 1048 5426 1128 5414 1233 5417 1354 5409 1177 5424 1098 5421 1455 5429 1305 5424 1190 5418 1111 5417 1385 5422 1201 5408 1223 5417 1021 5414 1105 5425 1397 5425 1112 5417 1378 5419 1290 5422 1171 5423 1303 5421 1255 5413 1106 5420 1086 5426 1293 5410 1252 5437 1426 5424 1215 5421 1409 5408 1357 5411 1296 5424 1169 5409 1108 5414 1440 5421 1272 5424 1244 5426 1381 5432 1376 5423 1431 5412 1290 5421 1428 5423 1168 5425 1354 5417 1482 5416 1468 5415 1461 5422 1356 5430 1079 5428 1476 5407 1475 5411 1464 5429 1481 5421 1438 5428 1111 5407 1378 5428 1408 5410 1308 5403 1161 5427 1061 5417 1326 5413 1396 5411 1371 5415 1139 5417 1312 5429 1133 5416 1476 5429 1300 5428 1467 5411 1298 5432 1390 5426 1372 5423 1249 5429 1112 5421 1231 5415 1225 5421 1388 5424 1429 5412 1491 5410 1295 5420 1488 5423 1222 5425 1313 5407 1222 5415 1494 5402 1356 5413 1254 5412 1362 5406 1379 5423 1085 5426 1353 5423 1141 5425 1291 5427 1060 5417 1476 5410 1479 5421 1255 5429 1227 5417 1474 5414 1137 5409 1474 5425 1204 5419 1430 5422 1400 5419 1149 5409 1266 5424 1232 5412 1038 5430 1487 5412 1288 5427 1110 5410 1167 5424 1273 5427 1238 5427 1491 5413 1474 5431 1123 5427 1302 5438 1297 5410 1328 5408 1320 5422 1421 5417 1037 5434 1105 5415 1299 5422 1032 5424 1106 5404 1400 5411 1248 5421 1312 5412 1187 5398 1064 5414 1413 5408 1076 5404 1292 5404 1152 5425 1341 5427 1245 5417 1347 5409 1126 5420 1143 5413 1203 5417 1254 5408 1173 5410 1063 5430 1341 5423 1395 5408 1086 5408 1387 5424 1402 5420 1222 5418 1253 5427 1225 5416 1273 5421 1182 5435 1231 5412 1322 5430 1070 5414 1064 5427 1148 5423 1464 5420 1265 5422 1142 5414 1143 5427 1204 5424 1032 5416 1368 5410 1266 5421 1098 5433 1487 5416 1387 5418 1024 5424 1125 5416 1221 5434 1138 5408 1349 5396 1182 5405 1323 5414 1252 5406 1248 5417 1273 5416 1494 5425 1205 5428 1265 5428 1141 5433 1450 5419 1358 5431 1494 5420 1016 5427 1484 5421 1049 5425 1185 5425 1476 5413 1075 5423 1449 5415 1154 5420 1460 5413 1065 5417 1164 5402 1086 5427 1243 5424 1478 5415 1212 5416 1445 5420 1321 5416 1187 5418 1147 5437 1157 5418 1312 5428 1038 5417 1291 5413 1486 5425 1029 5424 1119 5420 1296 5425 1070 5427 1022 5415 1388 5414 1157 5390 1128 5418 1065 5434 1364 5433 1203 5411 1362 5418 1246 5421 1477 5424 1140 5422 1268 5429 1090 5419 1434 5426 1419 5436 1138 5414 1383 5424 1170 5428 1360 5422 1197 5429 1069 5422 1042 5424 1302 5429 1088 5420 1330 5422 1382 5421" fill="none" marker-start="url(#m67)" marker-mid="url(#m67)" marker-end="url(#m67)"/>
<path d="M3202 2327 3834 2431 3615 2364 4471 2261 3908 2263 3506 2235 4308 2363 3921 2329 4314 2444 3111 2361 3128 2428 3545 2239 4316 2252 3406 2302 4473 2341 4239 2430 3962 2288 3499 2232 3485 2281 3777 2435 3715 2433 4262 2255" fill="none" marker-start="url(#m68)" marker-mid="url(#m68)" marker-end="url(#m68)"/>
<path d="M4282 2399 3508 2454 3778 2402 3453 2457 4032 2373 3481 2384 4452 2392 4213 2461 4514 2460 3431 2464 4495 2366 4050 2387 3999 2368 4456 2401 3210 2383 3867 2463 4258 2397 4214 2399 4390 2456 4349 2377 3281 2458 3450 2464" fill="none" marker-start="url(#m69)" marker-mid="url(#m69)" marker-end="url(#m69)"/>
<path d="M4424 2495 3954 2487 3728 2472 3089 2417 3811 2475 3422 2480 4226 2467 4239 2491 3433 2409 3043 2479 3867 2489 3595 2413 3332 2500 3520 2491 3732 2483 3660 2425 3706 2493 4161 2406 3999 2416 3446 2472 3790 2424 3757 2481 4328 2420 4332 2478 3795 2466 3594 2475 4271 2424 3625 2500 3551 2411 3226 2469" fill="none" marker-start="url(#m70)" marker-mid="url(#m70)" marker-end="url(#m70)"/>
<path d="M3454 2533 4245 2917 3695 2531 4303 2527 3063 2553 3052 2920 3714 2528 4290 2537 4278 2562 3752 2911 3735 2552 4030 2911 3750 2531 4398 2552 3821 2555 3775 2541 3043 2917 3877 2552 3830 2528 3045 2541 4349 2918 3161 2910 3045 2536 3149 2913 4243 2914 3326 2551 3665 2550 4364 2555 3274 2555" fill="none" marker-start="url(#m71)" marker-mid="url(#m71)" marker-end="url(#m71)"/>
<path d="M3269 2646 4271 2642 4103 2523 3915 2636 4346 2521 3921 2525 3353 2634 3446 2604 3508 2604 3954 2597 3837 2605 4301 2600 4517 2525 3825 2627 3439 2521 3591 2591 3354 2633 3387 2635 4180 2597 3889 2595 3208 2592 3214 2635 4042 2641 4305 2605 4396 2515 3963 2590 3534 2642 3130 2506 3215 2626 3712 2596 3373 2588 3764 2510 3475 2603 4379 2605 3388 2597 3263 2646 3986 2595 3798 2591 3988 2507 3947 2519 3209 2508 3965 2632 3839 2597 3316 2587 4493 2640 3784 2516 4397 2594 3783 2513 3866 2602 3100 2524 4501 2524 4030 2628 3473 2591 4484 2512 4065 2598" fill="none" marker-start="url(#m72)" marker-mid="url(#m72)" marker-end="url(#m72)"/>
<path d="M3331 2584 4151 2575 4151 2567 3590 2581 4308 2585 4039 2584 3528 2579 4409 2583 3218 2571 3433 2575 3607 2581 4322 2574 4365 2583 4495 2583 3173 2576 4379 2571 4380 2572 3924 2581 4446 2578 4134 2583 3308 2568 4142 2578" fill="none" marker-start="url(#m73)" marker-mid="url(#m73)" marker-end="url(#m73)"/>
<path d="M3235 2625 3775 2608 3874 2623 4300 2615 3414 2608 3126 2610 4158 2624 4272 2617 3045 2619 3057 2611 3966 2607 3467 2610 3298 2607 4154 2609 3043 2609 4096 2622 3079 2612 3639 2608 4207 2613 3874 2621 4376 2626 3793 2622 3170 2614 3399 2616 3686 2614 4393 2616 3819 2617" fill="none" marker-start="url(#m74)" marker-mid="url(#m74)" marker-end="url(#m74)"/>
<path d="M3155 2757 3458 2759 4374 2760 3863 2766 4055 2760 3494 2748 3071 2749 3181 2764 3137 2757 4517 2752 4056 2752 3234 2749 3927 2762 3072 2753 3802 2750 4340 2753 3554 2753 4234 2755 4162 2757 3416 2747 3065 2756 3312 2752 3237 2753 3811 2761 3982 2761 4167 2750 3598 2753 4471 2765 3446 2762 4153 2755 3518 2751 4196 2748 4135 2752 4013 2766 3059 2756 3500 2763 3289 2748 3222 2763 3724 2751" fill="none" marker-start="url(#m75)" marker-mid="url(#m75)" marker-end="url(#m75)"/>
<path d="M4024 2843 3813 2839 3553 2706 3074 2715 3102 2718 4380 2829 3255 2831 3057 2716 3519 2833 3657 2843 3598 2834 3045 2714 3071 2715 3164 2839 3122 2724 3579 2837 3423 2844 3429 2716 4043 2716 4429 2841 4455 2838 3683 2839 3142 2713 3046 2832 4489 2720 4356 2843 3378 2721 3721 2833 4069 2845 3293 2707 3631 2837 3766 2841 4335 2843 4327 2708 4349 2716 3684 2834 3421 2841 3579 2717 4484 2845 4107 2829 3404 2836 4282 2832 3974 2725 3101 2713 3509 2838 4259 2706 3043 2841 3764 2716 4013 2723 3346 2842 3356 2717 3766 2721 3704 2718 3058 2834 4472 2842 3072 2721 3310 2712 3068 2845 4105 2715 3348 2715 3591 2844" fill="none" marker-start="url(#m76)" marker-mid="url(#m76)" marker-end="url(#m76)"/>
<path d="M4095 2871 3459 2867 3568 2876 4480 2875 3152 2788 3688 2791 4321 2824 4500 2885 3438 2810 4391 2793 3637 2799 3983 2884 4303 2881 4409 2814 4367 2803 3909 2885 3792 2790 3591 2821 3911 2805 4170 2873 4108 2799 3228 2872 3167 2800 3070 2878 3879 2826 3050 2880 3832 2822 4338 2872 4395 2821 3244 2787 3160 2786 4119 2795 3052 2879 3266 2870 3755 2869 3604 2868 4367 2811 3089 2799 3536 2786 3713 2795 3464 2806 4110 2809 3702 2876 4404 2821 3421 2788 3329 2799 3072 2802 4194 2796 4091 2798 3043 2812 4012 2815 3061 2788 3560 2812 3343 2793 3937 2879 3459 2867 3277 2881 4076 2804 4222 2811 3751 2885 3526 2813 3687 2883 3600 2788 4124 2806 3226 2816 3211 2873 3636 2878 3079 2811 3043 2877 4420 2809 4350 2815 3923 2802 3977 2803 4255 2800 4002 2868 3850 2878 3229 2795 3061 2819 4409 2880 4014 2807 3231 2801 4393 2822 3601 2799 3264 2812 4417 2826 3587 2808 4146 2797 3246 2820 3973 2822 3059 2867 4084 2792 3873 2826 3409 2808 3295 2883 3248 2788 3910 2808 3628 2807 3598 2874 3064 2815 3625 2868 4089 2799 4014 2818 3043 2884 4001 2877 3696 2883 3819 2802 4266 2809 4249 2820 4028 2791 3521 2793 3913 2823 3048 2796 3153 2799 4156 2805 4113 2798 4203 2816 3439 2800" fill="none" marker-start="url(#m77)" marker-mid="url(#m77)" marker-end="url(#m77)"/>
<path d="M3241 2679 3290 2850 3929 2666 3872 2742 4218 2706 4290 2687 4501 2743 3909 2699 3043 2863 3999 2698 3662 2735 3269 2732 3046 2732 3909 2860 4366 2698 4408 2672 4043 2858 3664 2670 3925 2776 3444 2743 3709 2783 3044 2683 3832 2740 4249 2702 3773 2691 3367 2685 3272 2673 4157 2766 4390 2671 3889 2743 3877 2685 3639 2670 3435 2681 3284 2852 3316 2674 3142 2858 3291 2860 3063 2783 3716 2850 4065 2690 4152 2693 3674 2784 4223 2744 4517 2862 4203 2667 3737 2674 4396 2729 3653 2695 3924 2730 3627 2737 3389 2782 3761 2778 3479 2849 4353 2695 4034 2687 4354 2729 3159 2696 3360 2699 3650 2734 4183 2694 4261 2858 4357 2846 4099 2689 3062 2679 4109 2670 4246 2730 3698 2863 3375 2769 3743 2743 4116 2768 3428 2786 4160 2734 3736 2854 4310 2740 3598 2866 3754 2860 3963 2774 3116 2698 3721 2865 3043 2743 4448 2727 4496 2682 3963 2674 4050 2696 3926 2785 3791 2744 4476 2855 3061 2852 4490 2786 3245 2696 3665 2743 4194 2742 3043 2691 3057 2774 4250 2735 4211 2860 4471 2780 3366 2673 4100 2772 3887 2739 3052 2768 3946 2698 4183 2691 3217 2786 3393 2739 4126 2682 3056 2730 3557 2689 4055 2677 3725 2863 3093 2767 3151 2699 3359 2775 4163 2689 4352 2783 4367 2743 3060 2770 4475 2783 3903 2687 3456 2781 4129 2675 3341 2859 3852 2782 3331 2771 3043 2849 4153 2686 3155 2852 4086 2732 4193 2775 3374 2706 3136 2744 3256 2702 4098 2674 3441 2681 3752 2693 3954 2702 3449 2705 4317 2766 4473 2731 4086 2772 3551 2848 3066 2856 4076 2736 4159 2772 3331 2785 4007 2691 3293 2685 3750 2862 3330 2741 3105 2682 4393 2857 4237 2859 4154 2677 3833 2731 3189 2766 4448 2780 4139 2678 3043 2729 3364 2702 3935 2733 3451 2863 3218 2727 3044 2704 4407 2700 3958 2694 3047 2855 4334 2684 3757 2673 3047 2774 4499 2857 3517 2780 3544 2851 4469 2726 4245 2679 3984 2694 4232 2682 4214 2742 4370 2860 3424 2745 3914 2769 3061 2678 4014 2768 3747 2851 3569 2732 3504 2690 4330 2672 3044 2866 3641 2696 3438 2679 3727 2729 4103 2697 4104 2694 3423 2746 3706 2667 3047 2677 4257 2687 3726 2854 3092 2859 3267 2780 3058 2766 3721 2700 4229 2736 4144 2742 4346 2780 4365 2692 3299 2680 3923 2767 3594 2679 3559 2687 3344 2673 4099 2728 3284 2684 4062 2675 3625 2746 4270 2684 3182 2856" fill="none" marker-start="url(#m78)" marker-mid="url(#m78)" marker-end="url(#m78)"/>
<path d="M3210 2653 3860 2905 3339 2901 4249 2666 4235 2899 3413 2646 3043 2894 3108 2892 4387 2648 3077 2658 4378 2647 4080 2654 3828 2662 3043 2658 3751 2650 3271 2899 4372 2899 3112 2649 3969 2895 3642 2904 4475 2665 3348 2902 4217 2906 3187 2899 4190 2887 3842 2665 3726 2664 3160 2900 3411 2660 4211 2898 4364 2652 3206 2663 4491 2892 3780 2657 4195 2659 4385 2649 3503 2891 4450 2647 3348 2890 3562 2648 3456 2650 3662 2899 4351 2664 4151 2891 3282 2898 4187 2649 3459 2902 4246 2900 4252 2888 3044 2663 4465 2665 3798 2904 4489 2893 4383 2664 4372 2661 4364 2903 3851 2903 3086 2899 3784 2903 4135 2904 3354 2661 4384 2649 4138 2892 4262 2904 4133 2659 3262 2660 3187 2664 3978 2896 3854 2660 3054 2648 3971 2654 3894 2647 3071 2663 3343 2647 3057 2900 4404 2664 4224 2658 3157 2886 3971 2901 3559 2663 3925 2903 3990 2902 3869 2897 4303 2888 3886 2662 4297 2664 4018 2649 3629 2891 3223 2888 3138 2661 3736 2894" fill="none" marker-start="url(#m79)" marker-mid="url(#m79)" marker-end="url(#m79)"/>
<path d="M3163 2227 3742 2240 4243 2242 4257 2236 4381 2243 4122 2239 3303 2227 3912 2243" fill="none" marker-start="url(#m80)" marker-mid="url(#m80)" marker-end="url(#m80)"/>
<path d="M3969 2367 3400 2331 3437 2372 4384 2283 3872 2340 4455 2350 3641 2313 4098 2295 4507 2263 3964 2353 4092 2281 3293 2259 3217 2265 3809 2254 3769 2289 4336 2364 3986 2390 4426 2352 3674 2300 3980 2247 3087 2269 3307 2336 4079 2277 3652 2268 4382 2348 4446 2290 4371 2337 4126 2392 3728 2268 4321 2263 3281 2292 4342 2334 3451 2311 4104 2274 3220 2404 3062 2302 3522 2298 3744 2327 4062 2372 3861 2383 3936 2264 4415 2343 3351 2294 3720 2393 3859 2307 4085 2386 4240 2345 3559 2379 4030 2251 3173 2382 3436 2311 4233 2327 4403 2260 3829 2380 4076 2284 4513 2333 3138 2382 4112 2341 3636 2248 3315 2262 3836 2375 4094 2273 3157 2385" fill="none" marker-start="url(#m81)" marker-mid="url(#m81)" marker-end="url(#m81)"/>
<path d="M4167 2442 4002 2452 4039 2465 3985 2465 3919 2460 3548 2452 3465 2462 3911 2437 3521 2442 4046 2454 3663 2462 4124 2447 4206 2466 3552 2440 4517 2459 4496 2452 4430 2465 3439 2461 3802 2434 4223 2446 3169 2430 3990 2452 3729 2444" fill="none" marker-start="url(#m82)" marker-mid="url(#m82)" marker-end="url(#m82)"/>
<path d="M3485 2489 3549 2532 4452 2499 4160 2545 4210 2480 4060 2605 3728 2469 3666 2503 4394 2408 3325 2409 4090 2605 3713 2600 3227 2531 3116 2530 3964 2418 3994 2591 3597 2474 4385 2595 4378 2534 4420 2498 3079 2503 3218 2501 4266 2419 3502 2534 3576 2471 3089 2603 3944 2474 3750 2598 3062 2421 4478 2414 4023 2499 3108 2468 3581 2592 4153 2587 3930 2595 3240 2498 3918 2471 3864 2469 4496 2593 3302 2485 4249 2496 4134 2423 3526 2597 3282 2503 4156 2505 4369 2538 3373 2545 3897 2532 3261 2486 3982 2424 3496 2506 3329 2478 3752 2502 3782 2533 3110 2424 3996 2591 3098 2421 4117 2484 3685 2423 3408 2496 4435 2410 4223 2537 3826 2412 4328 2412 4156 2420 3857 2408 3698 2479 3713 2469 4423 2536 3907 2602 4013 2483" fill="none" marker-start="url(#m83)" marker-mid="url(#m83)" marker-end="url(#m83)"/>
<path d="M4066 2558 4095 2571 3236 2608 4426 2611 3210 2614 3817 2617 3247 2523 4291 2551 3784 2566 3517 2611 3556 2565 4357 2548 3655 2507 3836 2554 3533 2576 3514 2615 3084 2562 4034 2523 3210 2561 3541 2559 3633 2507 4158 2524 3360 2514 4517 2556 3262 2557 4409 2516 3819 2568 3155 2513 4401 2566 3074 2625 3494 2622 4177 2614 3189 2563 4240 2521 3993 2610 4212 2619 3475 2581 3089 2514 4104 2578 3229 2623 4141 2518 3099 2621 3149 2581 3882 2612 3221 2610 3084 2607 3195 2563 4092 2558 4327 2559 4111 2581 3648 2522 4332 2570 3210 2620 3706 2570 3772 2620 4356 2625 4195 2609 3914 2614 3605 2523 4013 2608 3368 2522 3259 2579 3328 2573 3434 2623 3586 2519 3418 2577 3465 2513 3356 2562 4430 2572 3256 2566 3391 2615 3560 2569 3408 2607 3196 2555 3945 2516 4087 2565 3607 2518 3200 2620 3920 2617 3959 2609 3583 2525 3219 2524 3278 2566 4225 2522 3542 2575 4397 2582 3379 2585 4305 2506 4402 2556 4055 2608 3831 2521 3834 2523 3378 2509 3961 2507 3736 2577 3672 2507 3498 2517 4110 2517 3185 2549 4154 2553 3180 2506" fill="none" marker-start="url(#m84)" marker-mid="url(#m84)" marker-end="url(#m84)"/>
<path d="M3604 2892 3957 2631 4446 2893 4316 2886 3943 2890 3227 2889 3164 2634 3229 2890 3363 2889 4432 2641 3993 2626 3511 2892 4396 2887 3153 2896 4236 2887 4115 2640 4360 2636 3096 2893 3823 2891 3445 2894 4254 2641 3102 2637 3204 2890 4054 2629 3628 2895 3889 2889 4443 2893 3199 2633 4512 2635 4105 2892 3176 2639 3659 2635 3141 2889 4147 2893 4239 2643 3156 2894 3503 2639 3445 2886 3431 2627 3193 2886 3612 2635 4080 2637 3819 2887 4361 2627 3570 2646 4329 2892 4429 2641 3454 2632" fill="none" marker-start="url(#m85)" marker-mid="url(#m85)" marker-end="url(#m85)"/>
<path d="M3679 2660 4202 2659 4313 2666 3616 2660 4161 2661 3520 2655 4314 2659 4240 2663 3615 2652 3799 2650 3948 2647 3788 2647 3445 2647 4428 2651 4516 2658 4201 2655 3804 2656 3965 2663 3633 2650 3646 2653 3725 2656 4175 2654 4448 2658 3865 2658 3985 2666 3347 2650 4039 2658 3990 2662 4228 2648 3400 2647 3481 2651 3685 2660 3577 2663 4138 2652 3076 2665 3725 2646" fill="none" marker-start="url(#m86)" marker-mid="url(#m86)" marker-end="url(#m86)"/>
<path d="M4104 2706 3940 2678 3712 2713 3359 2681 4295 2673 4222 2722 4261 2678 3159 2714 3755 2678 3668 2715 3898 2684 3148 2679 3211 2707 3083 2725 3899 2713 3776 2683 4182 2725 3137 2726 4267 2706 4298 2678 4109 2684 4500 2683 3962 2715 3596 2677 3472 2722 3517 2670 3362 2674 3046 2677 3649 2678 3685 2722 3503 2723 3141 2716 4324 2685 4169 2718 3314 2720 3352 2676 3199 2715 3262 2672 3096 2718 3964 2670 3302 2707 3364 2683 4047 2722 3557 2725 3738 2724 3695 2712 3076 2724 3887 2717 3363 2684 3104 2710 3191 2678 3498 2719 4478 2666 4130 2679 3126 2721 4239 2684 3661 2710 3618 2681 4242 2720 4411 2714 3053 2682 4200 2722 4354 2723 3213 2718 4026 2683 3243 2671 4218 2680 3221 2712 3936 2711 4493 2722 3392 2679 3907 2672 4222 2709 3867 2680 3825 2709 4447 2684 4337 2712 3618 2682 4129 2669 3735 2725 3445 2686 4507 2684 3043 2683" fill="none" marker-start="url(#m87)" marker-mid="url(#m87)" marker-end="url(#m87)"/>
<path d="M4517 2732 3438 2742 3222 2728 4210 2834 4319 2826 4256 2836 3834 2733 4130 2733 3922 2731 4064 2743 3312 2735 3768 2828 3951 2735 4390 2737 3680 2735 3534 2745 4226 2735 3963 2842 3099 2829 4476 2743 4219 2838 3757 2730 4136 2735 4104 2833 3577 2737 4262 2733 3322 2830 3145 2840 4024 2831 3113 2728 3957 2838 3046 2830 3520 2742 4506 2733 4467 2742 3989 2743 3710 2830 3184 2832 3851 2844 3858 2728 3052 2735 3641 2835 3434 2730 3215 2832 4196 2746 3904 2745 3752 2834 3676 2728 4040 2839 4499 2729 3683 2842 4017 2729 3198 2731 3300 2730 3192 2830 4397 2730 3951 2828 4093 2730 3052 2734 3127 2830 3493 2730 4397 2737 3330 2833 3093 2738 4361 2728 3943 2842 3793 2733 3767 2740 3976 2740 3916 2728 3422 2845 3559 2841 3715 2837 3668 2736 4205 2742 3306 2842 3136 2727 4122 2729 3553 2738 4421 2742 3976 2738 4164 2830 3807 2745 3165 2828 3146 2833 3883 2738 4171 2838 3624 2727 3464 2729 3537 2834 4179 2838 4194 2739 3683 2727" fill="none" marker-start="url(#m88)" marker-mid="url(#m88)" marker-end="url(#m88)"/>
<path d="M3607 2883 3769 2748 3393 2791 3155 2881 3043 2797 4227 2874 4341 2753 3247 2871 3616 2806 4172 2878 4310 2883 3319 2753 4275 2793 3789 2881 3509 2761 3961 2758 3668 2788 3799 2882 4012 2794 3055 2746 3467 2885 4221 2753 3986 2787 3289 2757 3476 2884 3157 2764 4347 2760 3189 2868 3834 2788 4311 2881 4108 2798 3975 2874 4408 2761 3843 2874 3163 2756 3466 2883 3910 2791 4418 2792 3519 2800 3162 2755 3938 2883 4400 2793 4229 2799 4091 2802 3533 2876 4304 2751 3545 2870 4387 2881 4318 2793 4315 2747 3770 2762 4096 2794 4251 2758 4086 2872 3688 2803 3996 2882 4246 2798 3991 2881 4512 2883 4354 2793 3991 2753 3494 2870 3978 2752 3565 2869 4463 2877 3626 2750 4188 2788 4313 2877 4465 2748 3669 2802 3099 2879 3573 2875 3355 2875 4391 2885 3686 2876 3390 2754 4281 2804 3939 2762 4009 2796 4106 2875 3423 2755 3434 2753 3345 2748 3043 2765 4005 2880 3814 2871 3379 2762 4339 2874 4328 2799 4080 2878 4064 2877 4474 2803 3475 2789 3248 2792 4360 2803 3742 2759 4189 2791 4448 2868 3658 2795 3762 2868 3997 2794 3127 2801 4145 2871 3951 2748 3788 2787 4113 2882 3233 2799 3906 2752 4416 2794 4509 2758 4183 2798 4252 2802 3420 2756 3281 2874 3610 2882 3886 2869 3742 2805 4500 2762 4465 2763 3150 2750 3414 2759 3953 2872 4339 2792 3558 2872 4088 2804 3987 2790 3287 2881 3883 2762 4184 2800 4246 2788 3230 2805 3668 2801 3418 2883 4271 2801 4058 2796 4442 2750 4360 2791 3329 2751 4378 2804 4439 2874 3197 2753 4040 2764 3652 2885 3983 2872 4395 2763 4159 2883 3438 2792 4375 2806 3669 2875 3560 2753 4211 2765 3212 2788 4383 2787 3441 2885 3259 2747 3631 2795 4283 2867 4096 2793 3158 2884" fill="none" marker-start="url(#m89)" marker-mid="url(#m89)" marker-end="url(#m89)"/>
<path d="M3901 2702 4189 2774 3999 2776 3254 2692 4490 2818 3658 2849 3118 2821 3460 2780 4442 2856 4158 2854 3621 2687 4401 2690 3667 2698 3213 2821 3463 2852 3201 2783 4113 2823 4517 2816 3890 2702 3271 2814 3584 2824 3886 2705 3713 2822 3853 2703 3232 2693 3397 2814 3438 2852 3995 2692 4180 2766 4092 2691 3492 2769 4449 2694 3502 2775 4196 2811 4304 2854 3913 2770 3204 2706 3624 2823 3558 2693 4491 2779 3333 2822 3340 2807 3376 2848 4351 2813 3887 2863 3711 2810 3450 2688 4504 2783 4301 2687 3393 2814 3538 2857 4213 2704 3517 2784 3183 2688 4508 2820 3774 2809 4218 2782 3760 2693 4278 2854 4108 2859 3287 2687 4006 2695 4497 2776 3165 2817 3495 2847 3888 2857 4201 2778 3947 2860 4254 2818 3289 2777 3706 2856 3127 2700 3742 2694 4209 2854 3982 2857 3831 2778 3500 2700 3959 2847 4026 2697 4005 2819 4487 2771 3081 2849 3904 2851 3917 2784 3471 2776 3427 2776 3236 2775 3912 2771 4275 2822 4078 2773 4101 2852 3969 2818 4511 2858 3795 2768 3750 2697 4431 2705 4206 2861 4256 2861 3508 2858 3267 2848 4373 2775 3211 2859 3766 2859 3094 2766 3745 2819 3046 2857 3886 2699 3627 2697 4158 2689 3160 2704 3478 2848 4172 2774 3976 2848 3072 2807 4314 2778 4263 2776 4339 2692 3618 2769 3371 2688 3354 2780 3950 2690 4456 2853 3772 2779 3792 2854 4426 2687 4434 2807 3982 2848 3804 2766 3697 2814 3118 2824 3934 2818 3887 2813 3328 2859 4043 2862 3990 2701 3997 2782 4346 2769 4214 2813 3165 2777 3377 2782 4067 2853 3267 2823 3330 2695 3602 2862 3479 2686 3883 2780 4426 2777 3552 2767 3784 2695 3511 2850 4070 2769 3819 2826 4213 2701 4020 2821 3631 2812 4170 2779 3173 2825 3101 2820 3055 2696 3378 2864 4492 2811 4473 2766 3141 2851 3137 2691 4347 2786 3628 2807 3759 2692 3827 2694 3916 2689 4260 2852 4442 2774 4141 2705 3276 2806 3066 2781 4270 2705 3264 2850 3217 2826 3385 2812 3357 2779 4255 2863 3174 2821 3636 2847 4455 2861 3128 2809 3517 2846 3172 2853 4314 2705 4322 2698 3554 2698 3939 2771 4428 2779 4395 2850 3910 2698 4060 2784 3886 2856 3191 2784 4230 2822 3427 2780 4268 2809 3962 2770 4210 2766 3247 2694 3317 2773 3881 2702 3180 2783 3822 2852 3317 2694 3201 2814 4451 2820 3303 2864 3896 2777 3595 2696 4057 2814 3668 2819 3312 2777 3642 2690 4264 2776 4111 2694 4066 2820 4127 2686 4329 2692 4431 2822" fill="none" marker-start="url(#m90)" marker-mid="url(#m90)" marker-end="url(#m90)"/>
<path d="M3696 2341 4457 2229 3172 2279 4309 2314 4472 2338 4040 2359 4008 2259 3694 2301 3404 2244 3812 2241 3755 2429 3332 2245 3225 2260 3638 2274 4140 2356 3806 2270 3043 2428 4304 2243 3438 2347 3390 2271 3260 2267 4314 2434 3058 2234 4324 2327 4061 2320 3565 2298 3135 2316 4259 2261 3622 2332 3714 2321 4208 2269" fill="none" marker-start="url(#m68)" marker-mid="url(#m68)" marker-end="url(#m68)"/>
<path d="M4262 2453 3773 2458 3580 2465 3526 2381 3328 2458 3526 2394 3942 2460 3434 2374 3365 2456 3151 2373 4373 2380 4432 2382 4010 2380 3107 2388 3691 2394 3263 2370" fill="none" marker-start="url(#m69)" marker-mid="url(#m69)" marker-end="url(#m69)"/>
<path d="M4304 2421 3384 2500 4145 2487 3976 2472 3565 2410 3755 2410 3299 2506 3369 2421 3043 2490 3514 2472 4004 2474 4281 2484 4505 2489 3803 2504 3366 2482 3989 2419 3182 2408 4485 2498 4195 2495 3524 2484 3909 2483 3472 2486" fill="none" marker-start="url(#m70)" marker-mid="url(#m70)" marker-end="url(#m70)"/>
<path d="M4401 2908 4092 2532 4285 2918 4425 2532 3264 2909 3043 2915 3198 2557 3225 2910 4387 2537 3625 2529 4360 2920 3789 2548 4375 2534 3426 2553 4311 2559 3463 2912 3201 2549 3268 2919 4026 2912 3778 2918 4233 2908 4000 2542 3306 2562 4382 2537 4246 2537 4508 2542 4499 2542 3738 2539 3522 2551 4352 2907 4105 2912 3811 2915 3935 2551 4143 2917 3245 2547 3711 2548 4036 2554 4259 2534 4445 2913 4176 2915 4038 2539" fill="none" marker-start="url(#m71)" marker-mid="url(#m71)" marker-end="url(#m71)"/>
<path d="M4454 2525 3356 2586 3281 2602 4104 2629 3718 2510 4093 2594 3616 2628 4137 2603 3638 2637 3803 2631 3903 2603 3043 2644 3303 2598 3905 2509 4501 2516 3441 2600 3838 2519 4380 2592 3107 2633 3576 2642 4008 2645 3709 2518 4317 2511 3356 2606 3398 2643 4244 2590 3862 2523 3378 2594 3185 2518 4364 2645 4304 2525 3961 2523 3820 2598 3154 2601 4000 2603 4474 2643 3485 2521 3878 2596 4257 2510 3958 2524 4267 2587 4266 2603" fill="none" marker-start="url(#m72)" marker-mid="url(#m72)" marker-end="url(#m72)"/>
<path d="M3043 2579 3258 2571 3875 2585 4011 2579 4237 2579 3323 2585 3790 2578 4441 2580 3454 2584 3807 2575 4242 2586 3103 2578 4505 2586 4473 2567 4059 2575 3704 2571 3973 2569 4411 2572 3431 2584 4058 2572 3852 2572" fill="none" marker-start="url(#m73)" marker-mid="url(#m73)" marker-end="url(#m73)"/>
<path d="M3945 2617 4004 2611 3481 2608 4430 2620 3909 2608 4141 2613 3043 2614 3444 2608 3720 2617 4122 2617 3677 2612 3690 2625 3868 2614 4072 2616 4341 2613 4027 2624 3739 2611 3594 2613 3265 2608 3315 2618 4036 2607 3141 2622 3960 2624 3144 2619 3164 2612 4182 2611 3730 2622 3272 2610 3825 2616" fill="none" marker-start="url(#m74)" marker-mid="url(#m74)" marker-end="url(#m74)"/>
<path d="M4365 2747 3620 2752 3386 2759 3522 2751 3497 2763 4107 2761 3043 2760 3612 2751 3737 2748 3126 2756 3897 2753 3867 2751 3542 2751 4096 2765 4077 2765 4179 2754 3540 2758 3163 2746 3786 2753 3441 2760 3165 2747 3967 2757 3713 2752 3737 2765" fill="none" marker-start="url(#m75)" marker-mid="url(#m75)" marker-end="url(#m75)"/>
<path d="M3303 2708 3472 2707 3385 2711 3679 2832 3675 2830 3215 2836 3785 2836 4141 2722 4130 2721 4367 2710 3307 2845 3043 2713 3279 2826 3060 2834 3382 2837 3447 2841 3282 2712 3961 2844 3043 2838 3822 2722 3767 2722 3742 2707 4308 2719 4318 2839 3844 2726 3303 2715 4036 2721 3514 2832 4406 2715 3861 2839 4451 2842 4489 2716 3977 2832 3204 2714 3975 2826 3155 2845 3061 2716 4260 2712 4236 2721 4335 2718 4288 2845 4426 2707 4063 2720 4158 2716 3935 2725 3430 2846 3061 2719 3469 2722 3140 2834 3179 2706 3627 2843 4263 2707 4035 2719 4448 2844 3210 2845 4177 2710 3144 2706 3043 2717 3450 2842 3247 2720 3508 2845 3470 2725 3065 2843 3735 2843 3763 2834 4102 2827" fill="none" marker-start="url(#m76)" marker-mid="url(#m76)" marker-end="url(#m76)"/>
<path d="M3045 2802 4226 2824 4295 2878 3297 2814 4313 2875 4353 2872 3521 2819 3575 2809 3160 2803 3660 2874 3621 2808 3090 2877 3058 2818 3693 2805 4471 2810 3423 2787 3213 2795 3942 2867 4079 2871 4428 2884 4099 2799 3659 2788 4404 2869 3637 2867 4286 2824 3506 2880 4370 2820 3045 2867 4055 2790 4442 2872 3692 2799 4311 2797 4017 2813 3127 2810 3849 2875 3539 2787 4145 2806 3819 2872 3053 2819 4077 2877 3119 2801 4148 2803 3459 2878 3170 2807 3643 2873 3351 2816 3273 2787 4138 2807 3084 2871 3985 2866 3321 2801 3534 2873 3143 2821 3043 2790 3465 2809 3450 2823 3207 2808 3554 2805 3119 2874 4282 2787 4392 2874 3715 2801 3356 2801 3965 2876 3067 2871 3064 2795 3796 2822 3990 2879 3248 2807 3805 2881 3721 2822 3507 2878 3122 2823 4089 2795 3686 2883 3572 2870 3968 2868 3880 2798 4079 2806 3596 2789 3595 2819 3394 2811 4495 2823 3474 2820 3390 2867 4280 2800 3133 2803 4450 2881 3562 2820 3599 2813 4471 2824 3520 2812 3545 2876 4320 2798 4415 2807 3138 2820 3481 2810 3920 2798 3117 2811 3747 2872 3141 2792 4190 2820 4110 2808 4190 2869 3562 2791 4380 2800 3689 2790 3773 2800 4464 2801" fill="none" marker-start="url(#m77)" marker-mid="url(#m77)" marker-end="url(#m77)"/>
<path d="M3066 2771 3944 2776 3101 2853 3616 2698 4237 2865 3043 2857 4143 2856 3418 2775 4380 2856 3972 2678 4279 2737 3441 2704 3591 2735 4043 2702 3307 2780 4484 2773 3801 2695 3560 2777 3062 2739 3238 2693 3998 2670 3337 2855 3599 2684 3482 2693 3679 2776 3048 2774 3177 2745 3059 2734 3144 2741 4490 2774 4469 2728 4058 2782 3282 2767 3201 2775 4239 2687 3939 2697 3967 2727 3970 2681 3674 2770 3396 2669 4271 2685 3813 2669 3923 2737 3890 2679 4118 2776 4120 2744 3898 2679 3945 2702 3347 2694 3285 2671 3163 2739 3187 2727 3399 2688 3457 2703 3407 2705 3535 2769 4361 2853 3243 2847 3923 2851 3229 2736 3771 2785 3729 2668 3285 2769 3631 2768 4013 2767 3634 2853 4049 2775 3070 2859 3584 2687 3642 2681 3553 2860 4448 2774 4451 2777 3200 2780 3216 2865 3139 2850 4315 2692 3864 2683 3121 2733 4191 2695 4041 2779 3544 2769 4332 2688 4141 2784 3116 2704 3151 2851 3191 2693 3434 2785 3362 2675 4140 2861 3047 2683 4329 2737 3052 2770 3914 2854 4097 2769 3238 2727 4434 2699 3043 2780 4443 2768 3278 2672 4038 2694 3820 2667 3550 2768 3819 2858 3177 2727 3132 2693 4098 2769 3202 2676 3938 2695 3248 2700 3074 2736 3313 2667 3406 2784 4438 2767 3287 2695 3228 2669 3504 2768 3409 2677 4008 2770 3937 2849 3371 2856 3592 2854 4131 2857 3452 2681 3259 2856 3064 2855 3582 2741 3381 2666 3089 2865 4169 2734 4512 2737 3267 2858 3061 2731 3628 2862 3882 2676 4454 2860 4044 2703 4081 2849 3043 2863 3962 2862 3067 2728 4328 2850 3693 2696 4438 2731 4125 2700 3722 2848 4402 2772 3328 2680 3455 2781 3480 2746 4342 2743 3356 2692 3860 2698 3516 2784 3068 2851 3907 2851 3352 2771 3668 2675 3329 2768 4337 2671 3118 2768 3529 2865 3788 2695 3187 2694 3537 2849 4180 2732 4517 2855 3289 2741 4180 2701 4404 2667 4304 2688 3346 2862 3674 2735 3887 2684 4084 2775 3944 2731 4243 2776 3162 2684 3531 2858 4132 2669" fill="none" marker-start="url(#m78)" marker-mid="url(#m78)" marker-end="url(#m78)"/>
<path d="M3330 2664 3255 2887 3732 2894 3584 2651 3332 2652 3349 2903 4430 2661 4342 2652 4483 2890 3621 2654 3112 2659 3644 2901 3435 2659 3654 2895 3044 2658 3344 2657 3618 2905 3674 2890 3209 2649 3194 2893 3308 2893 3293 2664 4433 2890 3464 2904 3643 2662 4075 2892 3647 2651 4419 2665 4131 2889 4070 2658 4196 2888 3273 2661 3287 2893 3178 2664 4393 2888 3328 2897 4279 2663 4112 2906 3669 2904 3190 2651 3841 2893 4201 2897 4147 2653 4095 2652 3435 2886 4175 2660 4230 2901 3907 2665 3105 2900 4043 2896 3554 2895 3567 2660 3678 2664 4197 2657 3918 2902 4228 2660 3839 2659 3761 2648 3891 2892 4242 2904 3924 2889 3130 2900 4247 2890 3621 2658 3609 2654 3386 2657 3125 2888 4421 2653 4171 2655 3280 2904 3747 2664 3842 2664 4438 2658 3697 2897 4252 2888 3738 2659 3161 2665" fill="none" marker-start="url(#m79)" marker-mid="url(#m79)" marker-end="url(#m79)"/>
<path d="M3249 2233 4068 2238 3213 2234" fill="none" marker-start="url(#m80)" marker-mid="url(#m80)" marker-end="url(#m80)"/>
<path d="M4450 2399 3291 2264 3163 2316 3397 2319 3154 2268 3975 2304 3412 2297 3896 2373 3949 2389 3573 2293 4095 2321 4074 2293 3672 2315 3828 2321 4256 2255 3178 2328 3231 2269 3903 2273 3298 2395 4064 2295 3332 2333 4137 2313 3791 2325 4090 2352 3963 2338 3321 2312 4192 2350 4424 2380 3174 2262 4190 2384 4329 2318 4028 2398 3504 2333 3419 2340 3072 2372 4129 2359 4466 2340 3942 2283 4322 2320 3695 2360 3654 2385 3078 2336 3501 2400 4500 2355 4343 2292 3911 2389 3430 2369 4104 2362 3144 2378 3720 2405 3578 2333 3314 2250 4184 2378 4392 2283 3943 2255 3484 2349 3998 2333 4170 2246 3833 2309 3923 2272 3861 2313 3286 2325 3519 2368 3283 2292 4237 2368 4187 2300 4045 2378 4224 2248 3980 2289 3783 2298 3506 2375 3720 2294 3153 2401 4451 2290 4497 2276 4006 2344 4234 2355" fill="none" marker-start="url(#m81)" marker-mid="url(#m81)" marker-end="url(#m81)"/>
<path d="M4201 2464 4301 2447 4503 2445 3645 2427 3059 2445 3193 2431 3121 2439 4230 2428 4441 2442 4274 2454 3921 2443 3983 2466 3524 2459 3674 2440 4485 2449 3069 2454 4504 2437 3083 2455 3404 2437 4254 2437 4441 2440 3791 2432 4060 2453 3819 2457 4206 2445 3214 2432 4311 2446 4001 2450 3214 2433 3202 2460 3907 2453" fill="none" marker-start="url(#m82)" marker-mid="url(#m82)" marker-end="url(#m82)"/>
<path d="M4039 2593 3072 2478 3227 2501 4217 2484 4049 2488 3856 2466 3873 2602 3132 2600 3614 2408 4099 2605 4485 2534 4395 2500 4181 2595 4195 2468 3946 2541 4377 2528 3433 2474 4313 2426 4166 2590 3838 2597 3752 2595 3992 2601 4201 2474 3487 2486 4142 2533 3310 2591 3613 2543 3619 2603 4341 2589 4375 2477 4475 2539 4036 2478 3495 2488 4062 2600 3525 2413 3149 2526 4128 2590 4426 2487 4011 2494 4167 2597 4404 2413 3433 2537 3177 2496 4366 2478 3535 2422 3352 2477 4330 2407 4385 2483 4176 2485 3605 2493 3106 2604 3339 2600 3194 2605 3893 2528 4363 2477 4113 2498 4134 2477 4063 2542 4366 2535 4343 2421 3083 2422 3091 2409 3878 2476 3362 2503 4251 2495 3249 2596 3944 2480 4358 2589 4496 2605 3816 2596 4050 2479 3920 2415 3559 2527 4113 2540 4517 2599 4148 2502 4195 2596 3352 2597 3121 2529 3047 2598 4153 2602 3235 2529" fill="none" marker-start="url(#m83)" marker-mid="url(#m83)" marker-end="url(#m83)"/>
<path d="M3389 2570 3377 2556 4119 2586 3099 2567 3702 2625 3879 2560 3614 2586 3117 2583 4452 2523 3988 2579 3404 2573 4024 2554 4457 2623 3050 2577 3712 2612 3730 2550 3116 2521 3804 2555 3216 2574 4372 2607 3779 2568 3288 2560 3139 2571 3456 2508 3438 2583 3102 2514 3496 2622 3905 2519 3441 2609 3244 2549 3992 2573 3425 2572 4138 2549 4417 2618 4270 2578 3823 2508 3856 2581 4170 2570 3315 2614 3478 2579 3955 2559 3306 2612 4176 2569 4001 2573 3456 2575 3758 2567 4341 2573 3146 2523 4115 2564 3732 2574 4457 2555 4485 2555 3375 2568 3742 2550 3754 2555 3735 2508 3490 2619 3593 2612 3139 2556 3742 2548 4450 2586 3970 2572 4108 2622 4184 2525 3567 2625 3386 2514 3599 2620 4347 2557 3837 2554 3196 2506 3057 2619 3709 2556 4260 2578 3457 2610 4420 2520" fill="none" marker-start="url(#m84)" marker-mid="url(#m84)" marker-end="url(#m84)"/>
<path d="M3940 2888 3267 2887 3172 2894 4145 2637 3048 2626 4020 2892 3043 2890 4384 2890 4447 2888 3342 2644 3104 2626 4201 2888 4070 2891 3187 2641 3848 2641 3740 2887 4227 2632 4508 2632 3232 2641 4031 2627 3877 2891 3389 2643 3890 2643 3243 2630 3133 2887 3860 2636 3081 2644 4517 2893 3820 2632 4408 2646 4488 2634 3537 2886 3826 2636 4163 2627 4325 2893 4029 2640 4054 2890 4335 2630 3925 2631 4259 2634 4517 2631 3807 2887 3631 2895 3918 2893 3573 2645 3175 2630 4203 2892 4030 2895 4143 2632 3264 2644" fill="none" marker-start="url(#m85)" marker-mid="url(#m85)" marker-end="url(#m85)"/>
<path d="M4254 2651 3763 2665 4119 2656 4157 2652 3043 2652 3701 2661 3483 2664 4231 2651 4486 2660 3760 2659 3535 2665 3647 2647 3211 2650 3856 2663 3678 2656 3605 2649 4309 2662 3268 2662 3448 2661 4379 2650 3279 2658 3383 2657 3607 2653 3713 2655 3437 2651 4426 2660 4176 2662 4272 2656 4404 2649 3589 2664" fill="none" marker-start="url(#m86)" marker-mid="url(#m86)" marker-end="url(#m86)"/>
<path d="M4394 2678 4431 2718 3992 2718 4359 2679 3262 2669 4517 2680 3777 2678 3546 2708 4225 2674 3117 2707 3192 2723 3952 2708 3213 2684 4248 2680 3890 2725 3128 2672 3082 2716 4338 2722 3252 2726 3233 2685 3491 2717 4298 2672 3674 2682 3870 2675 3928 2677 4163 2720 3068 2711 3379 2708 4099 2683 3093 2676 3634 2720 4363 2683 3908 2709 3666 2707 3299 2721 3360 2712 4281 2713 3745 2713 3070 2671 4101 2682 4451 2720 3455 2677 3376 2676 3920 2709 3357 2724 4307 2722 3190 2712 4125 2680 4505 2724 3586 2682 3845 2711 4277 2684 3489 2667 3590 2679 4375 2715 3495 2676 3819 2718 3891 2721 4242 2682 4105 2718 4250 2718 4415 2672 4171 2716 4125 2683 4171 2681 4094 2672 4222 2712 3761 2718 3700 2680 3465 2683 3423 2712 4403 2725 3070 2680 3798 2711 4341 2679 3131 2684 4357 2673 3415 2714 4253 2719 3492 2672 4364 2666 4460 2682 4407 2713 4243 2710 3284 2719 3333 2706 4138 2710 3143 2671 3134 2672 3258 2712 4255 2672 4114 2725 4423 2719 4324 2714 3230 2677 4079 2711 3473 2667" fill="none" marker-start="url(#m87)" marker-mid="url(#m87)" marker-end="url(#m87)"/>
<path d="M4110 2728 4184 2745 3286 2835 4322 2839 4163 2832 3796 2827 3141 2830 3217 2740 3959 2733 3597 2833 3600 2731 4177 2842 4293 2830 3353 2844 3329 2740 3075 2832 3827 2744 3800 2833 3299 2831 3767 2843 4142 2736 3765 2729 3392 2831 3748 2843 4080 2837 3638 2838 3671 2727 3353 2734 4226 2844 4308 2842 3736 2740 3251 2741 4517 2826 3855 2827 3903 2841 3340 2844 4086 2828 4069 2830 4242 2728 3143 2731 4517 2735 3843 2727 3759 2833 3531 2831 3259 2740 3616 2734 3801 2840 3279 2729 3261 2730 4517 2836 4438 2830 4390 2827 3130 2740 4418 2744 3628 2739 3134 2731 3353 2844 4314 2831 3897 2832 4012 2739 3502 2830 4081 2740 3175 2838 3530 2845 4458 2826 4483 2842 3933 2738 3972 2834 3164 2831 3971 2830 3427 2830 3815 2742 3388 2844 3847 2744 3841 2740 3364 2834 4405 2845 4170 2743 4318 2735 4180 2730 3193 2835 3694 2743 3999 2828 3393 2729 3563 2835 3110 2740 3821 2740 3480 2737 3099 2835" fill="none" marker-start="url(#m88)" marker-mid="url(#m88)" marker-end="url(#m88)"/>
<path d="M3813 2764 3727 2788 3636 2747 3130 2750 3123 2800 4465 2867 4160 2749 4224 2884 3806 2866 3298 2796 3181 2872 3796 2789 3976 2795 3851 2882 3326 2752 3902 2762 3892 2749 4030 2757 4134 2759 3104 2877 4058 2761 3674 2871 4276 2882 3702 2872 3204 2885 3204 2801 3628 2873 4168 2761 3344 2878 3245 2886 3915 2758 3935 2792 3575 2754 3050 2803 4217 2795 3644 2874 4191 2805 4299 2796 3622 2747 3641 2804 3836 2762 3436 2751 4493 2882 4418 2793 3663 2791 3609 2764 3078 2791 4369 2872 4400 2800 4034 2795 3466 2763 3721 2877 4218 2867 4157 2796 3688 2868 3886 2748 3321 2884 3372 2871 3471 2757 3735 2747 4057 2751 3719 2762 4017 2765 3405 2875 3985 2879 4260 2787 3784 2878 3406 2789 4498 2788 3819 2871 3753 2874 4016 2787 4507 2803 3822 2753 3835 2876 4126 2868 4025 2801 4071 2803 3164 2755 3075 2747 3512 2758 4333 2883 3537 2802 3669 2758 3906 2868 3483 2801 4174 2881 3763 2875 3710 2885 4373 2867 3759 2878 4043 2761 3462 2882 3784 2867 3497 2750 3756 2762 3302 2804 4016 2755 4497 2805 4189 2765 3533 2758 3745 2867 3959 2883 3503 2867 4386 2747 4507 2884 3808 2805 3133 2880 3064 2871 4304 2793 3688 2765 4049 2751 4394 2870 4404 2801 3934 2754 4231 2757 3980 2874 3156 2747 3785 2868 4068 2800 4040 2749 4081 2885 3370 2763 3816 2788 3528 2790 4428 2786 3523 2760 3557 2788 3439 2801 3749 2792 4001 2757 3163 2800 3097 2797 4152 2885 3742 2751 3723 2866 4515 2873 3271 2762 3126 2756 3594 2751 4413 2748 3147 2759 3523 2805 3043 2755 3876 2753 4194 2877 4450 2790 3220 2880" fill="none" marker-start="url(#m89)" marker-mid="url(#m89)" marker-end="url(#m89)"/>
<path d="M3462 2775 4512 2817 3292 2823 3383 2691 3919 2769 4483 2859 3163 2775 3579 2691 3240 2819 3953 2699 3450 2698 3246 2696 3337 2865 3593 2772 4310 2818 4320 2854 3980 2817 4051 2824 4478 2701 4213 2786 3067 2806 3052 2781 3503 2784 3658 2820 4159 2864 4170 2772 3265 2813 3246 2705 4348 2772 4311 2694 3306 2812 3544 2703 3407 2815 3745 2688 4116 2857 3752 2850 3464 2809 3139 2808 3718 2687 3064 2859 3673 2854 3219 2808 3747 2821 4452 2697 4023 2696 3523 2700 3905 2859 4375 2775 3472 2776 4315 2852 3605 2699 3281 2863 4202 2706 3506 2786 3552 2698 4362 2776 4084 2776 3622 2770 3406 2862 3494 2855 3382 2860 4476 2784 3729 2785 4163 2692 3132 2812 4385 2785 3542 2700 3532 2847 3563 2822 3164 2812 3872 2861 4156 2860 3660 2858 3910 2856 4193 2864 4139 2698 3879 2807 3099 2702 3814 2847 3762 2776 3713 2823 3870 2698 3705 2776 3717 2703 4098 2776 3187 2810 4041 2774 3713 2819 3749 2774 4451 2783 3576 2786 3302 2820 3319 2859 3083 2809 3600 2808 3977 2818 3979 2782 3376 2859 3336 2693 4041 2821 4355 2815 3144 2850 4247 2705 3685 2810 3433 2850 4266 2784 3691 2785 3144 2703 3726 2825 3377 2776 3502 2853 3859 2813 4376 2777 3158 2776 4433 2815 3783 2861 3814 2809 4424 2690 3614 2813 3754 2825 4300 2780 4186 2703 3662 2824 4335 2814 4041 2705 3950 2773 3484 2853 4314 2701 4148 2779 4027 2850 3294 2865 4153 2820 4165 2768 4088 2702 3596 2785 4047 2809 4215 2766 4210 2852 4176 2704 3125 2818 3331 2695 4193 2866 3214 2855 3465 2822 3693 2814 3803 2770 3203 2772 3137 2689 3572 2858 3043 2819 4275 2774 3078 2856 3498 2812 4098 2689 4309 2852 3363 2864 3202 2856 3332 2703 4273 2693 3494 2812 4372 2848 3369 2692 3876 2697 4171 2806 3540 2688 3493 2856 3220 2853 3939 2767 3423 2860 3959 2704 3139 2864 3066 2695 3891 2815 4174 2856 3888 2866 4110 2784 4337 2769 3811 2779 4455 2703 3199 2812 3235 2854 3829 2699 3143 2809 4158 2699 3283 2780 3953 2815 3163 2784 4363 2702 4320 2854 3705 2809 4127 2854 3993 2811 3805 2688 3279 2866 3443 2820 3137 2861 3320 2689 3068 2849 3250 2847 4321 2863" fill="none" marker-start="url(#m90)" marker-mid="url(#m90)" marker-end="url(#m90)"/>
<path d="M3627 2285 3205 2237 3359 2279 3203 2429 3539 2429 3907 2350 4236 2323 3838 2256 4377 2288 3050 2250 3907 2311 3280 2280 3461 2333 3923 2339 3297 2320 4328 2434 3351 2357 3901 2313 3497 2287 3375 2315 3799 2251 3955 2443 3140 2429 4264 2294 3065 2323 4242 2336 4194 2335 4396 2314 4239 2334 4334 2340" fill="none" marker-start="url(#m68)" marker-mid="url(#m68)" marker-end="url(#m68)"/>
<path d="M3060 2371 3285 2378 3043 2457 3465 2384 3564 2465 3721 2389 4422 2384 4102 2371 4369 2458 3508 2466 3798 2405 3915 2381 4328 2392 3632 2451 3098 2449 3099 2461 3504 2457 4109 2398 4511 2396 4146 2465" fill="none" marker-start="url(#m69)" marker-mid="url(#m69)" marker-end="url(#m69)"/>
<path d="M3964 2473 3460 2413 3276 2417 3699 2425 4230 2500 4064 2505 3982 2488 3856 2469 3754 2411 4165 2495 3525 2505 3074 2415 3704 2424 3791 2407 3064 2473 3586 2468 3150 2467 3792 2410 3556 2500 4322 2491 4114 2483 3610 2483 4025 2494 3210 2419 3821 2500" fill="none" marker-start="url(#m70)" marker-mid="url(#m70)" marker-end="url(#m70)"/>
<path d="M3074 2911 3802 2542 3809 2556 3955 2560 3572 2536 3609 2529 3861 2553 4215 2910 3343 2908 3126 2908 3061 2535 4503 2544 3880 2540 3496 2561 4384 2541 3225 2918 3490 2540 3674 2550 3355 2548 3213 2917 3931 2908 3891 2563 3578 2532 4492 2559 3214 2908 4510 2555 3369 2907 4208 2534 4214 2533 3836 2920 4105 2563 4430 2559 3641 2918 4389 2552 3091 2559 3680 2556 4395 2537 4105 2558 4117 2535 3442 2911 3227 2535 3442 2532" fill="none" marker-start="url(#m71)" marker-mid="url(#m71)" marker-end="url(#m71)"/>
<path d="M3648 2590 3304 2635 4167 2630 3843 2605 3600 2597 4343 2595 4324 2629 3639 2602 4011 2589 3220 2638 3573 2639 3252 2642 3865 2642 4028 2632 4451 2645 3309 2639 3290 2511 3500 2638 3659 2524 3713 2519 3177 2645 4370 2637 4452 2633 4237 2642 3113 2645 3627 2645 4016 2513 4097 2601 4107 2510 3943 2507 4020 2589 3767 2646 4041 2641 4035 2626 3882 2635 4381 2597 3313 2508 4490 2516 3740 2639 3273 2520 3213 2515 3367 2516 3597 2507 3371 2593 4471 2517 4331 2632 3959 2510 4385 2635 3302 2629 3574 2600 3460 2517 3456 2592 3527 2592 3460 2641" fill="none" marker-start="url(#m72)" marker-mid="url(#m72)" marker-end="url(#m72)"/>
<path d="M4111 2579 4080 2582 4375 2586 3958 2575 3663 2581 3718 2586 4361 2583 3154 2572 4309 2583 4348 2583 4502 2574 3231 2574 3381 2582 4223 2568 3199 2586" fill="none" marker-start="url(#m73)" marker-mid="url(#m73)" marker-end="url(#m73)"/>
<path d="M3356 2611 3761 2607 4077 2618 3398 2619 3926 2622 3221 2621 3465 2616 3999 2608 4246 2624 3258 2607 3696 2610 4204 2616 4067 2617 4000 2611 3245 2625 3129 2623 4412 2609 4030 2624 3536 2623 4262 2607" fill="none" marker-start="url(#m74)" marker-mid="url(#m74)" marker-end="url(#m74)"/>
<path d="M3044 2754 3927 2757 3273 2758 3416 2749 3479 2751 3405 2756 3383 2761 3611 2760 3088 2747 3436 2756 3043 2754 3919 2759 3797 2747 3625 2751 3043 2763 3439 2751 3582 2753 3329 2754 4465 2763 3880 2762 4163 2753 3923 2758 4211 2748 4176 2753 3732 2766 4245 2756 4509 2746 4385 2759 4338 2752 3424 2749 3198 2748" fill="none" marker-start="url(#m75)" marker-mid="url(#m75)" marker-end="url(#m75)"/>
<path d="M3062 2710 4182 2722 3232 2712 3941 2711 3556 2710 3195 2716 3635 2707 3517 2839 3781 2721 4063 2844 4249 2716 4061 2716 4233 2830 4277 2719 3439 2833 3484 2840 3043 2837 4449 2720 3408 2834 3078 2717 3397 2838 3530 2716 4062 2841 3694 2829 3205 2830 4391 2831 3485 2829 3333 2830 3539 2721 3955 2829 3893 2831 4146 2827 4390 2840 4326 2844 3428 2722 3181 2844 4017 2832 4496 2836 3520 2708 4185 2724 4198 2830 3452 2845 3925 2831 4357 2721 4357 2723 3709 2839 4184 2725 4122 2723 3349 2716 3576 2839 3694 2835 4304 2709 3147 2724 3948 2837 3376 2831 3057 2829 4150 2719 4421 2840 3289 2830 4266 2711 4171 2725 3284 2837 3752 2840 3769 2713 3624 2713 3483 2845 3695 2710 4360 2722 3202 2714 3069 2722 4258 2836 3483 2714 3890 2709 3895 2829 3947 2843 4220 2827 3678 2711" fill="none" marker-start="url(#m76)" marker-mid="url(#m76)" marker-end="url(#m76)"/>
<path d="M3975 2878 4010 2866 3412 2812 4194 2817 4471 2807 3074 2790 3641 2807 3957 2790 3457 2789 3295 2866 4501 2867 3875 2877 3305 2791 3500 2817 3965 2884 3283 2813 3832 2792 3043 2800 4137 2882 4242 2803 4205 2799 3287 2798 3887 2876 3841 2869 3384 2879 4482 2807 3545 2809 4039 2801 3391 2817 4517 2876 4244 2825 4210 2871 4075 2875 3980 2817 3581 2800 3849 2873 3154 2791 3859 2881 4517 2799 3318 2792 4505 2816 4292 2799 3623 2804 3375 2826 3054 2873 3102 2803 3127 2802 3464 2881 4082 2880 3118 2802 3058 2802 4286 2818 4513 2807 4268 2873 3880 2821 3990 2822 3864 2886 3391 2885 4258 2811 3275 2873 3727 2815 3460 2823 4339 2793 4115 2873 4399 2810 4479 2805 3792 2872 4036 2884 3483 2821 3543 2817 4126 2814 3271 2871 3882 2791 3373 2806 4012 2875 4472 2806 4374 2801 3043 2813 4044 2879 3783 2875 3112 2874 3687 2806 3397 2885 3043 2786 4350 2806 3656 2821 3455 2820 4184 2875 3043 2804 3452 2872 3900 2869 4516 2807 3326 2821 4338 2826 4174 2817 4104 2883 4328 2800 3312 2823 3966 2824 3889 2820 3123 2809" fill="none" marker-start="url(#m77)" marker-mid="url(#m77)" marker-end="url(#m77)"/>
<path d="M4128 2676 4195 2683 3920 2698 3809 2695 3274 2854 3386 2784 4011 2673 3565 2865 3184 2699 3314 2667 3048 2861 4118 2729 3734 2741 3921 2696 3989 2701 3556 2684 3845 2735 4229 2695 3555 2730 3814 2855 3074 2736 3435 2690 3400 2742 4348 2732 3594 2699 4233 2854 4403 2852 3468 2743 3311 2784 3049 2702 4399 2854 4494 2703 3713 2675 3980 2851 3498 2857 4299 2855 3048 2857 3622 2739 3276 2856 4146 2740 3064 2685 4226 2734 3520 2782 4200 2731 3858 2858 4347 2679 3632 2746 4491 2677 4452 2733 3203 2856 3918 2864 4007 2856 3979 2779 3766 2669 3793 2737 3304 2781 4435 2669 3694 2685 3187 2728 4322 2677 4388 2688 3099 2687 3717 2684 3506 2698 3457 2729 4176 2702 3683 2704 3054 2693 4328 2774 4238 2770 3584 2697 3735 2668 3316 2682 4482 2785 4248 2686 4193 2779 4127 2682 3611 2727 3102 2781 3995 2736 3263 2855 4269 2677 3987 2738 3779 2777 3396 2774 3442 2856 3699 2701 3125 2783 4475 2767 3060 2735 4511 2774 4068 2687 4161 2671 4099 2705 4091 2683 3900 2687 3200 2774 3283 2703 3510 2686 3759 2697 4238 2737 3368 2741 4372 2668 3773 2744 3675 2670 3043 2683 3124 2671 3139 2697 3210 2672 3832 2731 3669 2851 4271 2697 3998 2860 3278 2851 4131 2862 4314 2773 3377 2854 4170 2766 3289 2668 3812 2773 4232 2727 3073 2683 4306 2774 4257 2674 3647 2770 4119 2694 4469 2860 4133 2700 3043 2671 4301 2737 3256 2773 3682 2864 3335 2733 4310 2675 3587 2861 3437 2668 3860 2742 3635 2686 3384 2729 3951 2859 4341 2733 3157 2706 3655 2860 3615 2736 3294 2695 3062 2857 4475 2773 3658 2773 3856 2681 3581 2690 3751 2671 3321 2736 4111 2683 4265 2672 3695 2785 4148 2688 4312 2744 4012 2773 3599 2771 3408 2862 4133 2848 4189 2697 3413 2697 4353 2858 4232 2729 3890 2669 4334 2704 3527 2779 3072 2730 3385 2728 4288 2768 3862 2858 4210 2858 4411 2694 4068 2858 3398 2851 3606 2680 3572 2744 3147 2862 3736 2726 3580 2862 3645 2866 3389 2731 3461 2670 4190 2698 3193 2672 4386 2690 3365 2863 3197 2680 3058 2739 3909 2673 3595 2689 4143 2777 4501 2738 4290 2776 4374 2851 3346 2848 3547 2854 3814 2706" fill="none" marker-start="url(#m78)" marker-mid="url(#m78)" marker-end="url(#m78)"/>
<path d="M4021 2648 4498 2661 3312 2905 3052 2901 3884 2899 3714 2906 3440 2891 3310 2901 4392 2666 3076 2655 3369 2652 3043 2901 3659 2900 3043 2662 4445 2888 3690 2652 3498 2656 3669 2889 3372 2657 3539 2896 4247 2658 3984 2665 3172 2903 4109 2903 3822 2664 3412 2892 3977 2891 4435 2903 3043 2889 3408 2661 3608 2897 4385 2890 3182 2900 4296 2904 4052 2664 3077 2663 3492 2661 3081 2891 3088 2902 3592 2900 3520 2663 4045 2897 4316 2898 3580 2901 4240 2657 3826 2897 4354 2894 3151 2886 3139 2886 4225 2663 4517 2653 3416 2887 4256 2887 4191 2657 4166 2900 4215 2658 3801 2897 3393 2899 4446 2903 3888 2654 3914 2659 3943 2905 4490 2665 4374 2891 3600 2903 3269 2657 4457 2892 4278 2661 3501 2652 3780 2661 3798 2906 3402 2890 3043 2661 4095 2666 3513 2896 3658 2658 3170 2663 4156 2661 4508 2659 3465 2899 3727 2659 3846 2654 3458 2902 3228 2901 3631 2902 3278 2661 3696 2647" fill="none" marker-start="url(#m79)" marker-mid="url(#m79)" marker-end="url(#m79)"/>
<path d="M4401 2243 3128 2242 3375 2231 4320 2230" fill="none" marker-start="url(#m80)" marker-mid="url(#m80)" marker-end="url(#m80)"/>
<path d="M3183 2316 3909 2250 3967 2331 3142 2363 3888 2329 3857 2348 3235 2406 4189 2304 3089 2307 3840 2403 3376 2288 3632 2286 3709 2350 4287 2302 4074 2256 3554 2276 3043 2365 4453 2324 3537 2323 4301 2343 3132 2391 3306 2280 3571 2399 4352 2257 3658 2394 4440 2342 3916 2324 3822 2302 3441 2345 3235 2379 4187 2251 4294 2330 3633 2360 3517 2403 3131 2358 3559 2339 3978 2405 4015 2401 3169 2356 3604 2402 3633 2306 4484 2324 3671 2366 3133 2326 4213 2388 4264 2281 4264 2346 3841 2403 3188 2252 4406 2258 4216 2372 3834 2272 4397 2280 3815 2254 3484 2386 4126 2374 4396 2291 3307 2402 4061 2305 4055 2350 3903 2282 4239 2251 3624 2288 3513 2252 3829 2395 3428 2293 3981 2277 4218 2373 4007 2311 4487 2318 4443 2359 3809 2262" fill="none" marker-start="url(#m81)" marker-mid="url(#m81)" marker-end="url(#m81)"/>
<path d="M3139 2445 3910 2429 3891 2449 3043 2431 4369 2446 3136 2446 3830 2451 3229 2438 4141 2455 4450 2446 3623 2440 3449 2447 3180 2449 3342 2428 4134 2460 4346 2439 3335 2459 4178 2443 3735 2464 3043 2451 3192 2465 4478 2456 3222 2445 3838 2427 4480 2455 4035 2444" fill="none" marker-start="url(#m82)" marker-mid="url(#m82)" marker-end="url(#m82)"/>
<path d="M3111 2421 3435 2593 3960 2532 4127 2499 3757 2537 4296 2544 3639 2419 3824 2471 3834 2588 3913 2488 3401 2478 3498 2488 3886 2407 4186 2478 3317 2495 3722 2602 3442 2539 3759 2481 4451 2490 3112 2468 4041 2600 3363 2482 4177 2534 4112 2543 3676 2535 4473 2598 3119 2501 4337 2413 3656 2417 3202 2422 4134 2493 4411 2414 4157 2499 3680 2528 3279 2471 3192 2593 3196 2587 3155 2422 3688 2597 3344 2544 3152 2495 3304 2595 4148 2531 3885 2595 3613 2411 4115 2535 3078 2410 4488 2536 4242 2541 3211 2410 4287 2468 3332 2538 4074 2484 4041 2593 4442 2487 3148 2542 3281 2490 3140 2471 4026 2470 4164 2419 4409 2494 3118 2489 4360 2541 4365 2502 4267 2544 4072 2487 4052 2530 3126 2542 4017 2406 3165 2426 4206 2426 4136 2484 3812 2499 4500 2415 3178 2546 4216 2408 3339 2406 3206 2466 4250 2485 3520 2499 3721 2484 3084 2535 4134 2503 4446 2589 3106 2598 3812 2538 4163 2423 3657 2408 3395 2411" fill="none" marker-start="url(#m83)" marker-mid="url(#m83)" marker-end="url(#m83)"/>
<path d="M4419 2609 3764 2550 3636 2524 3893 2511 4277 2580 3328 2569 3615 2620 3802 2620 3368 2616 3522 2508 3393 2615 3868 2568 4317 2621 3568 2556 3564 2611 3464 2620 3308 2611 4508 2582 3395 2580 3644 2564 4141 2559 3497 2508 4038 2586 4189 2619 4086 2556 4258 2562 4444 2507 3567 2515 3642 2583 3272 2584 3753 2548 4284 2518 3331 2515 3670 2581 4322 2551 3274 2580 4347 2565 3869 2618 3965 2622 4009 2513 3532 2554 4102 2617 4502 2550 3673 2553 3928 2584 3796 2578 4060 2548 3500 2521 3236 2512 4387 2606 3397 2561 4181 2572 3491 2566 3146 2567 3770 2556 3997 2626 3800 2507 3192 2515 3274 2615 4063 2626 4299 2585 3456 2560 3566 2607 3515 2607 4243 2607 3488 2553 3513 2556 3593 2513 3567 2555 3063 2610 4284 2626 3430 2581 3786 2577 3753 2616 3726 2575 3913 2616 3259 2583 4221 2561 3560 2569 4493 2525" fill="none" marker-start="url(#m84)" marker-mid="url(#m84)" marker-end="url(#m84)"/>
<path d="M4387 2646 3537 2893 4506 2891 3969 2634 3555 2894 3863 2890 4430 2645 3763 2629 4025 2888 3474 2643 3336 2894 3742 2634 4502 2893 3426 2637 3808 2632 4068 2894 3327 2891 4223 2630 3442 2888 3629 2890 4099 2895 3673 2893 3165 2895 3334 2626 3981 2893 4483 2642 3361 2896 4038 2891 3978 2638 3648 2629 3066 2631 4327 2639 4517 2895 3522 2895 3381 2643 4281 2888 4513 2888 3506 2639 3775 2890 4121 2630 3572 2643 3158 2891 3516 2889 3426 2890 3644 2896 3749 2632 3854 2887 4197 2893 4261 2892 3698 2628 3244 2887 4167 2627 4489 2637" fill="none" marker-start="url(#m85)" marker-mid="url(#m85)" marker-end="url(#m85)"/>
<path d="M3814 2649 3792 2659 3297 2652 4428 2662 3707 2648 3539 2649 4201 2665 3214 2655 3465 2664 4235 2657 3149 2659 3574 2650 4286 2660 3811 2659 4041 2653 4243 2653 3634 2657 4273 2657 3852 2647 3260 2657 4272 2649 4266 2658 4297 2654 4100 2662" fill="none" marker-start="url(#m86)" marker-mid="url(#m86)" marker-end="url(#m86)"/>
<path d="M3222 2679 3464 2683 3062 2682 4196 2712 3224 2715 4039 2718 3317 2725 3414 2715 3933 2676 3275 2684 3750 2710 4124 2682 3135 2710 3988 2712 4022 2718 3915 2682 3750 2682 3424 2719 4233 2684 3560 2686 4149 2682 3874 2722 3779 2714 4203 2681 3789 2683 3207 2677 4188 2671 4203 2708 3251 2677 4498 2718 3814 2680 4497 2685 3108 2722 4180 2714 3180 2726 3952 2726 4273 2682 3908 2718 4264 2681 3043 2715 3144 2710 4413 2669 3077 2684 4428 2719 4291 2713 4329 2677 3451 2680 3701 2684 3734 2726 4150 2676 3623 2679 3343 2718 3627 2676 4286 2707 3815 2712 4164 2679 4336 2684 3891 2677 4195 2666 3433 2708 4362 2721 4126 2684 3454 2712 3081 2713 4147 2725 4225 2724 4080 2675 3554 2724 3890 2725 4293 2678 3944 2686 4444 2685 4003 2724 4075 2677 3118 2679 3961 2716 3945 2678 4349 2710 3072 2683" fill="none" marker-start="url(#m87)" marker-mid="url(#m87)" marker-end="url(#m87)"/>
<path d="M3509 2745 3842 2842 4259 2735 3560 2739 4507 2833 3592 2838 3691 2732 3944 2730 3357 2838 3954 2827 4138 2841 3813 2735 3737 2833 4068 2834 3911 2834 4366 2730 3082 2736 3242 2829 3508 2739 3786 2839 3888 2839 3572 2729 3233 2842 4492 2838 3819 2831 4181 2826 3840 2744 3359 2834 4315 2727 4241 2843 3291 2844 3531 2734 3740 2833 3409 2840 4031 2729 4000 2828 3051 2834 3101 2736 4355 2846 4156 2733 3428 2734 3441 2727 3637 2737 4176 2835 3989 2734 4163 2841 4247 2740 3827 2831 3451 2832 4517 2835 3980 2828 3919 2731 4510 2827 3076 2744 3103 2833 4235 2731 3187 2737 3855 2835 3901 2832 4049 2837 4245 2828 3669 2841 4276 2844 4375 2728 4332 2733 3494 2737 4402 2829 4322 2736 4159 2828 3942 2742 3254 2835 4304 2837 4517 2746 3559 2740 4380 2728 3571 2844 3253 2845 3530 2843 3510 2743 3408 2739 4505 2844 4086 2729 4399 2827 3052 2843 3209 2840 4257 2827 3530 2735 3964 2728 4434 2835 3627 2831 3259 2735 3993 2734 3264 2838 4247 2835 3450 2728 3396 2826 3131 2826 4071 2737" fill="none" marker-start="url(#m88)" marker-mid="url(#m88)" marker-end="url(#m88)"/>
<path d="M4454 2765 4098 2746 3486 2793 4332 2795 3380 2796 3677 2759 4504 2802 3995 2875 3151 2797 3356 2795 3722 2759 3865 2752 4284 2872 3485 2746 3098 2881 3743 2873 4295 2799 3966 2877 3048 2752 3897 2759 3869 2878 3375 2790 4105 2867 4104 2800 3108 2886 3952 2875 3584 2760 3143 2805 4101 2762 4378 2802 3660 2790 3639 2761 4192 2753 3209 2806 4236 2884 3821 2867 3432 2761 4008 2758 3892 2762 3523 2787 3264 2790 4146 2876 4185 2752 3783 2764 3091 2761 3401 2881 4125 2883 4056 2755 3119 2876 3736 2759 3902 2801 3471 2760 3428 2879 3423 2876 4329 2763 3961 2870 4305 2792 3734 2882 4255 2762 4447 2753 4344 2754 3133 2755 3859 2804 4287 2795 3719 2791 3183 2797 3618 2873 3830 2789 4355 2878 3377 2874 3587 2764 3084 2803 3301 2797 3790 2757 4403 2756 3827 2751 3340 2746 4222 2765 4360 2876 4281 2796 4470 2876 4516 2762 4490 2805 3671 2871 3694 2797 3553 2874 3720 2793 3926 2799 3128 2788 4424 2881 3067 2749 4223 2789 3414 2754 3684 2882 3043 2881 4163 2759 3520 2753 4329 2764 4190 2802 3227 2786 4258 2795 3742 2747 4034 2789 4389 2751 3791 2758 4198 2749 3979 2880 3192 2804 4135 2886 3621 2867 3696 2792 3747 2755 3199 2750 3407 2885 4495 2747 3253 2756 3673 2802 3404 2790 4219 2787 3220 2883 3870 2792 3841 2791 4493 2791 3740 2879 3225 2766 3184 2874 4473 2762 3625 2794 4391 2758 4230 2799 3435 2872 3933 2802 3160 2799 4510 2750 3778 2879 3382 2803 4207 2878 4063 2751 3499 2791 4514 2873 3528 2869 3920 2794 3083 2803 3630 2756 3316 2787 4432 2867 4112 2799 3843 2787 3782 2883 4399 2798 3745 2789 4402 2795 3944 2872 3498 2753 4425 2867 4039 2867 3084 2750 3955 2879 4033 2753" fill="none" marker-start="url(#m89)" marker-mid="url(#m89)" marker-end="url(#m89)"/>
<path d="M3825 2851 3917 2862 3046 2785 3499 2814 4505 2702 4504 2786 3384 2786 3624 2785 3185 2766 3934 2853 3948 2857 3698 2699 4121 2849 3174 2810 4139 2700 4146 2775 3459 2865 4488 2705 4213 2693 4129 2687 3501 2782 3462 2775 3507 2782 3453 2865 3915 2809 3588 2695 4232 2699 4457 2810 3712 2861 3240 2853 4203 2814 3174 2705 4360 2700 4179 2782 4099 2770 4119 2826 3660 2855 3938 2859 3175 2810 4329 2816 3231 2689 3320 2780 4470 2859 4323 2866 4205 2690 4304 2866 3169 2705 3451 2855 4517 2772 4160 2692 3905 2776 4434 2855 4505 2849 4447 2853 3862 2698 4280 2780 4321 2809 4254 2783 4364 2824 4186 2818 3456 2821 3271 2692 3449 2808 3823 2864 3405 2768 4439 2862 3075 2704 3862 2769 3604 2776 3636 2861 4502 2782 3549 2823 4153 2846 3866 2817 4517 2704 3550 2768 3066 2775 4392 2766 4418 2777 3782 2848 4016 2864 3841 2781 4177 2852 3973 2859 3234 2774 4466 2769 3610 2772 3891 2815 3861 2856 3300 2692 3203 2850 3466 2766 3093 2846 3293 2859 4408 2855 4168 2706 3243 2855 3437 2772 3549 2809 3069 2695 4443 2702 4294 2778 4126 2847 3052 2855 3563 2813 3771 2694 4070 2864 4361 2854 3366 2780 3974 2687 4424 2821 3193 2781 4331 2699 4364 2689 3956 2853 3360 2688 3374 2694 4479 2846 3115 2774 3998 2812 3558 2774 4483 2807 3912 2691 4385 2848 4316 2809 3446 2690 3460 2822 3209 2825 3526 2807 3696 2825 3066 2813 4036 2780 3587 2821 3141 2847 3369 2863 4246 2768 4132 2815 3892 2690 3708 2689 3466 2691 4313 2781 3869 2772 3892 2700 3899 2768 3148 2825 3760 2811 3679 2859 3043 2806 4198 2691 4001 2808 4436 2690 4049 2821 3911 2814 3173 2859 3992 2859 3355 2821 4032 2779 3141 2814 3531 2849 3217 2825 3819 2854 4151 2821 4310 2860 3574 2856 3592 2688 4395 2860 4198 2864 3740 2815 4371 2855 4360 2852 4199 2811 4348 2767 4398 2687 3881 2815 3293 2851 4151 2693 3634 2689 3643 2704 3657 2703 3193 2816 3249 2693 3322 2864 3310 2772 4312 2785 4107 2697 3804 2852 3371 2705 4379 2778 3361 2813 3939 2695 3910 2698 3094 2806 4375 2817 4289 2810 4019 2694 3718 2696 3969 2705 3982 2775 3556 2768 4163 2821 4373 2785 4304 2814 3489 2854 3241 2786 3078 2862 3849 2809 4452 2697 3377 2705 3927 2688 3756 2701 4197 2782 3090 2774 3157 2852 3964 2768 4229 2773 3630 2822 4411 2817 3620 2696 3689 2693 4241 2696 3345 2810 3750 2816 3321 2774 4128 2859 3223 2808 3073 2774 4392 2807" fill="none" marker-start="url(#m90)" marker-mid="url(#m90)" marker-end="url(#m90)"/>
<path d="M4116 3526 4212 3830 3292 3488 4319 3515 3382 3413 4347 3343 3909 3525 3914 3347 4000 3517 4086 3376 3471 3471 3334 3353 3793 3492 3839 3339 4228 3370 4363 3384 3754 3408 4385 3358 3609 3545 3663 3400 4335 3518 4459 3438 3485 3358 4089 3814 3248 3436 4354 3541 4373 3343 4330 3440 3153 3489 4098 3812 4102 3437 3800 3447 3960 3814 4278 3452 4383 3538 3774 3499 3275 3434 3795 3525 4470 3367 4275 3515 3448 3424 4312 3826 3494 3363 3301 3537 4494 3361 4436 3517 4517 3446 3727 3827 3466 3399 3997 3447 3951 3437 3632 3462 3391 3527 3860 3831 3229 3820 4062 3814 3429 3405 3203 3433 3393 3446 3795 3467 3648 3429 4351 3500 3269 3386 3546 3819 4385 3507 3163 3448 3332 3543 3972 3420 4010 3380 3389 3349 3853 3482 4401 3544 4402 3411 4446 3489 4364 3354 3189 3337 3656 3446 3602 3827 4297 3477 4367 3528 3838 3402 3804 3480 4498 3414 3698 3826 3107 3447 3285 3410 3213 3335 3353 3805 3116 3341 3386 3538 4199 3814 4476 3337 3072 3517 4265 3471 4373 3421 4158 3404 3210 3401 3425 3442 4000 3814 4209 3341 4450 3441 3718 3539 3716 3479 4061 3423 3795 3402 4424 3521 4115 3525 3989 3406 4033 3443 4346 3803 4155 3472 3700 3441 4160 3332 3439 3411 4327 3505 4481 3341 3565 3480 4150 3542 4107 3525 4096 3472 4192 3460 3479 3348 3965 3436 4469 3466 3740 3394 4038 3441 3335 3822 3063 3370 4417 3415 3880 3451 4384 3550 3852 3828 4389 3363 3981 3831 3082 3831 3816 3451 3503 3807 3283 3819 3457 3391 4003 3550 4201 3353 4267 3476 3809 3831 3888 3814 3065 3826 4421 3439 4461 3466 4360 3345 3394 3537 4495 3815 4405 3459 3298 3824 3173 3357 3227 3348 4257 3483 4049 3419 4116 3331 3093 3807 3988 3380" fill="none" marker-start="url(#m37)" marker-mid="url(#m37)" marker-end="url(#m37)"/>
<path d="M3673 3136 3090 3127" fill="none" marker-start="url(#m91)" marker-mid="url(#m91)" marker-end="url(#m91)"/>
<path d="M3465 3265 3357 3245 3341 3403 3366 3272 4514 3335 3219 3347 3699 3254 3821 3226 4085 3296 3299 3343 4006 3368 4176 3405 3131 3288 3400 3172 3247 3228 4337 3262 3409 3363 3854 3323 3773 3319 3419 3263 3912 3261 3512 3361 4469 3396 3783 3328 3879 3365 3313 3290 4229 3158 3496 3179 3621 3210 3227 3165 3599 3393 3697 3366 4483 3278 3209 3318 4261 3391 3851 3152 3404 3239 4465 3310 3579 3407 3257 3344 4045 3396 4498 3274 3720 3393 3329 3340 3549 3199 4269 3265 3989 3283 3578 3200 3592 3235 3463 3182 4489 3186 4279 3335 4245 3394 4442 3247 4024 3365 4020 3171 3187 3365 3244 3336 3176 3355 3092 3253 3211 3299" fill="none" marker-start="url(#m68)" marker-mid="url(#m68)" marker-end="url(#m68)"/>
<path d="M3198 3798 4131 3445 3295 3758 3168 3441 4223 3463 3379 3450 3855 3726 4430 3771 3616 3419 4177 3804 4462 3420 3165 3432 3843 3453 3530 3475 3725 3417 3915 3751 4148 3468 4017 3675 3594 3467 4276 3430 3226 3757 4125 3486 3043 3752 3346 3765 3706 3481 4156 3475 3476 3780 4429 3475 3070 3689 3980 3745 3392 3750 4308 3679 4252 3473 3295 3707 4167 3429 3485 3443 4393 3696 4007 3696 3574 3751 4004 3691 4460 3386 4490 3673 3942 3777 3157 3792 4286 3438 4026 3483 3139 3766 3044 3727 4416 3690 3043 3774 3153 3798 4067 3767 3729 3380 3411 3779 3597 3791 4480 3462 3407 3415 3326 3388 3252 3776 3807 3461 3211 3789 4016 3748 4003 3696 4065 3468 3917 3735 4125 3490 3904 3801 3544 3764 3234 3752 3571 3442 3612 3733 4404 3479 3274 3742 3872 3372 3514 3673 4457 3476 4396 3713 3996 3388 4517 3757 3506 3749 3117 3718 3731 3765 4258 3445 3469 3430 4459 3447 3479 3781 3954 3789 3473 3415 3104 3672 4512 3765 3556 3387 3076 3709 3352 3761 3830 3757 3901 3438 3966 3807 4031 3705 3312 3484 3857 3483 3262 3764 3614 3374 4505 3452 4134 3691 3381 3442 3669 3450 3709 3717 3325 3415 3183 3770 3879 3462 3951 3444 3912 3689 3210 3759 3935 3471 3662 3697 4271 3432 4009 3810 4060 3693 4225 3424 4147 3690 4376 3728 3948 3470 3593 3480 3282 3421 4154 3684 4398 3749 3889 3680 4011 3808 4449 3482 3411 3452 4048 3729 3374 3373 3150 3803 4080 3476 3178 3682 4234 3424 3896 3681" fill="none" marker-start="url(#m69)" marker-mid="url(#m69)" marker-end="url(#m69)"/>
<path d="M3550 3496 4468 3500 3952 3492 3296 3491 3102 3500 3388 3502 3898 3499 4386 3502 4336 3501 3510 3499 3766 3505 3848 3507 4016 3510 3963 3493 4306 3510 4474 3507 3959 3507 3082 3503" fill="none" marker-start="url(#m71)" marker-mid="url(#m71)" marker-end="url(#m71)"/>
<path d="M3201 3523 3882 3518 3681 3516 3435 3516 4363 3526 4402 3518 3544 3522 3437 3512 3108 3516 4424 3530 3063 3523 3554 3528 3352 3523 4181 3523 4242 3517" fill="none" marker-start="url(#m72)" marker-mid="url(#m72)" marker-end="url(#m72)"/>
<path d="M3743 3670 3405 3668 3544 3665 4416 3665 4166 3669 3523 3664 4048 3668 3516 3667 4096 3667" fill="none" marker-start="url(#m92)" marker-mid="url(#m92)" marker-end="url(#m92)"/>
<path d="M4475 3637 3270 3633 4305 3637 3768 3636 3899 3633 4256 3661 3480 3637 3314 3651 4079 3646 3123 3651 3701 3639 3380 3648 3411 3641 3887 3627 3227 3640 4245 3616 3642 3645 3967 3618 3065 3681 3387 3630 4457 3648 3301 3680 4194 3637 3456 3621 3606 3638 4381 3641 3981 3636 4043 3641 4065 3658 4249 3649 3043 3644 4161 3648 3147 3630 3348 3650 4438 3657 3683 3663 4195 3659 3418 3654 4064 3636 3090 3649 3332 3645 3743 3670 3043 3629 3201 3645 3768 3630 3192 3647 3398 3643 4200 3637 3764 3614 3521 3663 3623 3642 3316 3648 3644 3645 3246 3640 3283 3635 4319 3642 3807 3642 3354 3645 4402 3635 4012 3654 3864 3638 3779 3649 3511 3638 3067 3628 3278 3642 4105 3634 3349 3624 4329 3679 4158 3631 3711 3652 3340 3647 3380 3639 3224 3661 3815 3652 3723 3635 3804 3645 3344 3659 4362 3647 3054 3648 3868 3635 4002 3640 4453 3650 3720 3632 3529 3657 3857 3654 4148 3658 4192 3647 4101 3630 3491 3627 3094 3629 3935 3652 4260 3627 3078 3660 3959 3636 3869 3634" fill="none" marker-start="url(#m76)" marker-mid="url(#m76)" marker-end="url(#m76)"/>
<path d="M3693 3552 4192 3532 3823 3554 3655 3565 3314 3581 3204 3550 4251 3581 4500 3571 3536 3570 4284 3563 3438 3543 3870 3548 3461 3550 4393 3578 3138 3586 4172 3549 3061 3585 3885 3569 3802 3558 4441 3578 3269 3599 4516 3557 3326 3545 3070 3591 3559 3527 3893 3564 3536 3591 4136 3536 3276 3549 3095 3581 3640 3585 3354 3547 3481 3566 4162 3529 4011 3563 3404 3600 3398 3554 3771 3545 3524 3564 3478 3543 3799 3538 3533 3569 4023 3538 3914 3523 4404 3591 4126 3563 3689 3577 4007 3608 3542 3535 4112 3553 3527 3551 3199 3529 3664 3571 3783 3554 4080 3530 3159 3553 4513 3611 4055 3582 4338 3582 3410 3587 3460 3563 3217 3566 3105 3547 4469 3526 3861 3540 3837 3603 4295 3565 4479 3582 3043 3571 4002 3548 3611 3597 4077 3599 4346 3529 4259 3573 3216 3538 4501 3543 3413 3579 3318 3539 3223 3557 3790 3576 3410 3565 3501 3521 4177 3568 3489 3533 3279 3578 3122 3555 4350 3581 3412 3577 4388 3538 3829 3546 4140 3521 4404 3540 4201 3592 3722 3564 3958 3553 3962 3536 4111 3575 3601 3573 4517 3564 3605 3539 4449 3560 3754 3588 4197 3557 4517 3536 3134 3557 3350 3558 4098 3572 4103 3561 3733 3574 3048 3548 3428 3547 4052 3566 3272 3565 3568 3548 4260 3573 4303 3548 3610 3566 4155 3563 3127 3521 3201 3575 3865 3560 4464 3605 3125 3547 3462 3533 3098 3560 3167 3572 4351 3571 3605 3532 3996 3557 3060 3556 3043 3613 3105 3583 3546 3535 4136 3568 3881 3575 3596 3560 4493 3522 4099 3593 4437 3583 4448 3562 4234 3546 4278 3564 4237 3553 3740 3559 3668 3581 3357 3559 3679 3550 4074 3538 3894 3598 3586 3530 4013 3583 4345 3576 3331 3591 3763 3569 3125 3557 3538 3543 3139 3569 3057 3517 3478 3575 3385 3553 3855 3537 4411 3532 4495 3514 3744 3560 3427 3531 3694 3526 3462 3582 3580 3616 3394 3551 3566 3566 4369 3520 3720 3599 3343 3553" fill="none" marker-start="url(#m78)" marker-mid="url(#m78)" marker-end="url(#m78)"/>
<path d="M3646 3127 4026 3124" fill="none" marker-start="url(#m93)" marker-mid="url(#m93)" marker-end="url(#m93)"/>
<path d="M3987 3213 4205 3174 3844 3182 3124 3184 3110 3248 3341 3238 4507 3192 3634 3241 3261 3150 4350 3231 4393 3236 3531 3146 3337 3227 4195 3141 4148 3215 3930 3210 3551 3221 4291 3146 3620 3205 4002 3231 3777 3138 3532 3186 3836 3172 4093 3241 3091 3222 4184 3228 4213 3157 4489 3181 4022 3159 3405 3154 4326 3250 3929 3226 4156 3248 3962 3220 3702 3210 3840 3249 4437 3169 3344 3216 3633 3236 3814 3194 3270 3185" fill="none" marker-start="url(#m94)" marker-mid="url(#m94)" marker-end="url(#m94)"/>
<path d="M3804 3252 3807 3360 3552 3358 4099 3283 3472 3316 4491 3337 4162 3288 3413 3336 3936 3316 3260 3324 3491 3276 3375 3347 3147 3275 3695 3302 3394 3344 4154 3302 3313 3331 4032 3256 3338 3276 4203 3344 4212 3356 4360 3358 3330 3320 4311 3293 3313 3324 3488 3360 3532 3302 4497 3302 3331 3317 4033 3356 3720 3261 3628 3369 3364 3318 3396 3294 3159 3262 4231 3319 4033 3364 4487 3363 4111 3355 3930 3348 3622 3332 3378 3329 3768 3283 3786 3366 3654 3314 3961 3295 3473 3262 3657 3277 3723 3335 4241 3265 3189 3285 3538 3362 3223 3289 4172 3302 4081 3356 3068 3276 3785 3337 4218 3276 3837 3300 3629 3301 3155 3320 3529 3342 3636 3273 3904 3280 4503 3277 3447 3309 3553 3299 3664 3361 3873 3353 3558 3342" fill="none" marker-start="url(#m95)" marker-mid="url(#m95)" marker-end="url(#m95)"/>
<path d="M3884 3465 3334 3438 3743 3435 3890 3452 4381 3426 4142 3381 4203 3418 3524 3372 4099 3401 3888 3403 4335 3464 3440 3422 3650 3414 4243 3439 4286 3463 3830 3459 3762 3430 4047 3470 4408 3379 3445 3415 4033 3471 3096 3401 3812 3441 4339 3398 3931 3382 3443 3441 4175 3400 4122 3421 4515 3446 3656 3412 3936 3451 3393 3381 3377 3416 3899 3446 3405 3466 3103 3387 3718 3438 3538 3405 3856 3451 4042 3419 3944 3384 3283 3445 3328 3443 4098 3464 3245 3467 4092 3468 3465 3452 3166 3428 3153 3445 4117 3422 3294 3410 3516 3418 3578 3376 3921 3377 3138 3427 3145 3373 4472 3422 3454 3453 3915 3398 3620 3406 4080 3450 3714 3462 3649 3448 3845 3389 3839 3432 3215 3419 3612 3462 3794 3401 4192 3409 3171 3428 3921 3416 4178 3450 4249 3375 4359 3422 3215 3435 3710 3376 4111 3404 3585 3413 4415 3439 3492 3434 4042 3401 3111 3420 3961 3379 3216 3433 3372 3451 3856 3372 4373 3415 4352 3465 4047 3429 4383 3408 3470 3443 3590 3458 4517 3418 3880 3449 3945 3436 3071 3471 3440 3464 4134 3433 3676 3463 3051 3408 3485 3412 3837 3398 4289 3437 3452 3394" fill="none" marker-start="url(#m96)" marker-mid="url(#m96)" marker-end="url(#m96)"/>
<path d="M4218 3500 3452 3499 4043 3482 3943 3493 3837 3499 4401 3472 4000 3499 3050 3507 4002 3484 3145 3483 4122 3477 4339 3482 3275 3504 3377 3477 4485 3508 3134 3505 4099 3479 4244 3500 3521 3474 3274 3491 3858 3507 3264 3510 3987 3487 3749 3490 3624 3498 4085 3499 3136 3492 3660 3510 3077 3474 3632 3484 4138 3489 3836 3483 3149 3476 3829 3508 3845 3498 3718 3488 3559 3476 3171 3477 3731 3499 4286 3506 3558 3507 3081 3486 3715 3511 4096 3511 3746 3510 3804 3501 4154 3471 3288 3474 3921 3483 3528 3499 3526 3493 3459 3479 3092 3483 4276 3474 3884 3487" fill="none" marker-start="url(#m97)" marker-mid="url(#m97)" marker-end="url(#m97)"/>
<path d="M3225 3559 3322 3794 4046 3568 4286 3798 4353 3560 3952 3794 3781 3795 4353 3569 3258 3791 4220 3526 4109 3552 3330 3558 3428 3564 3554 3519 4423 3554 3375 3561 3212 3521 3650 3559 3043 3797 3940 3795 3393 3800 3569 3556 4012 3513 3109 3793 4473 3555 3942 3791 4477 3800 3716 3561 4327 3555 4438 3513 3822 3562 4316 3523 3799 3565 4330 3521 3441 3796 4352 3791 3105 3530 4083 3562 4095 3553 4379 3561 4081 3793 4362 3520 3092 3564 3327 3554 3561 3795 3384 3512 3890 3527 3932 3799 4279 3796 3491 3568 3917 3800 3191 3516 3406 3528 3938 3793 3446 3792 4110 3520 4159 3517 3540 3560 4067 3515 3587 3797 4159 3528 3460 3792 3275 3798 3656 3800 4490 3796 3464 3797 3134 3556 4122 3794 4504 3795 3304 3526 3396 3519 3937 3797 4507 3799 3848 3515 3525 3791 3704 3531 3400 3523 3504 3566 3515 3531 3433 3568 4478 3512 3514 3518 3466 3561 3575 3515 3611 3519 4061 3514 3849 3513 3376 3569 3505 3564 4109 3512 3748 3566 3929 3793 4238 3570 3212 3515 3230 3525 3730 3516 3821 3517 3551 3799" fill="none" marker-start="url(#m98)" marker-mid="url(#m98)" marker-end="url(#m98)"/>
<path d="M4333 3540 3530 3544 4209 3532 4413 3548 3507 3533 3796 3537 3365 3542 3682 3539 4110 3546 3695 3547 4146 3536 4346 3537 4293 3549 3493 3551 3436 3537 4430 3547 4175 3543 4517 3535 3509 3546 3596 3538 3637 3534 4225 3548 3854 3541 4226 3531 3559 3536 3713 3543 4194 3545 4426 3536 3539 3537 3534 3532 3514 3538 3893 3533 3713 3538" fill="none" marker-start="url(#m66)" marker-mid="url(#m66)" marker-end="url(#m66)"/>
<path d="M3394 3734 4350 3673 4409 3671 3566 3677 4436 3677 3318 3688 4356 3729 4261 3743 3276 3654 3482 3718 4174 3749 3319 3747 4283 3668 3637 3689 3911 3733 3599 3682 4381 3674 4213 3717 3848 3745 3563 3654 3537 3671 3690 3680 3967 3656 3248 3729 4169 3719 3554 3673 3573 3674 3297 3738 4011 3685 3333 3717 3759 3742 3902 3746 3416 3733 3807 3735 3288 3685 4074 3720 3334 3730 3835 3741 4166 3735 3056 3663 4480 3711 4007 3718 4118 3727 4058 3687 3262 3675 4517 3729 3635 3743 3299 3712 3771 3741 3562 3745 3451 3656 3572 3723 4495 3677 3788 3735 4223 3714 3919 3669 3279 3662 3713 3738 4288 3675 3630 3729 4247 3656 4051 3671 4020 3679 4111 3660 3341 3669 3541 3675 3174 3691 3887 3711 3780 3653 3941 3655 3189 3726 4259 3749 3090 3738 3067 3682 3861 3741 3754 3668 4375 3682 3043 3714 4517 3737 3746 3744 3852 3713 3149 3651 3409 3714 3160 3718 4368 3730 3315 3661 4091 3746 3448 3731 3515 3670 4509 3682 4040 3654 3881 3667 4352 3678 3591 3676 3845 3652 4175 3655 4177 3657 3342 3734 4068 3732 3486 3651 4104 3745 4085 3661 3718 3673 3178 3662 4083 3675 4076 3722 3142 3683 4120 3673 4110 3722 3735 3725 3302 3728 3060 3663 3598 3747 3917 3672 3534 3746 4050 3679 3547 3731 3043 3686 4033 3656 3693 3669 4038 3718 3305 3736 3645 3733 3809 3663 3892 3746 3639 3722 4508 3751 4145 3714 3911 3672 3506 3738 4517 3674 3881 3679 3759 3678 3931 3727 3382 3736 3425 3661 3477 3655 4141 3688 3560 3731 3147 3732 4405 3729 3503 3713 4056 3667 4114 3724 3118 3652 3225 3660 4055 3750 4259 3716 3633 3736 3627 3667 3236 3714 3513 3732 3772 3733 3094 3711 3211 3719 3483 3740 3558 3740 4187 3676 3260 3690 3297 3677 3046 3715 4407 3751 3453 3679 3720 3664 3722 3673 3923 3686 4345 3690 4514 3716 3446 3670 4438 3712 4499 3681 4074 3666 3103 3718 3719 3732 3721 3714 3497 3730 4278 3688 3542 3719 3948 3718 3063 3677 3556 3678 3883 3683 4332 3720 3739 3667 4045 3653 3093 3681 3821 3672 3826 3735 3608 3678 3441 3680 3363 3674 4517 3668 4008 3678 3547 3676 4438 3662 3197 3741 4455 3749 3441 3722 3420 3730 3217 3720 4336 3743 4083 3672 3153 3714 3204 3688 3647 3673 3700 3749 3461 3663 4366 3735 3765 3716 4388 3746 3450 3737 3903 3688 3473 3658 3348 3746 3739 3663 3376 3716 4489 3735 3278 3669 3424 3715 3741 3661 3170 3745 4256 3679" fill="none" marker-start="url(#m99)" marker-mid="url(#m99)" marker-end="url(#m99)"/>
<path d="M4465 3764 4009 3790 4313 3770 4089 3782 4165 3766 3291 3764 4124 3702 3673 3759 3301 3774 3160 3787 4009 3763 3122 3760 3314 3692 4460 3753 3168 3707 3418 3702 3785 3780 4324 3774 4080 3701 4111 3784 4184 3705 3496 3699 3043 3752 3978 3693 4205 3773 3239 3752 3541 3698 3236 3781 4388 3774 3656 3784 4125 3701 4462 3775 4374 3707 4159 3770 3641 3757 3122 3707 3792 3766 4517 3756 4249 3780 4294 3755 3982 3782 3176 3784 3522 3783 4393 3691 3340 3693 3863 3694 4184 3781 3844 3780 4056 3761 4495 3696 3155 3779 3531 3704 3200 3789 4063 3758 3358 3692 3587 3751 3367 3785 3774 3759 4397 3761 3391 3703 3700 3773 3046 3711 3846 3771 4430 3708 3146 3762 3850 3784 4379 3781 3498 3760 4178 3760 3604 3776 4136 3693 4433 3779 3244 3778 3590 3705 4225 3762 4329 3780 3814 3774 4397 3754 3193 3770 3876 3708 4068 3694 3814 3764 4103 3776 3905 3693 3563 3778 3813 3692 3469 3702 3850 3751 3164 3760 3882 3783 4516 3774 3620 3710 3057 3709 4025 3691 3481 3757 3785 3704 3442 3767 3126 3790 4480 3762 4362 3702 3237 3702 3420 3755 3043 3782 4372 3691 3242 3776 3075 3770 3973 3774 4036 3784 4454 3770 4198 3758 3612 3761 3791 3776 3305 3772 3587 3766 3707 3709 3734 3698 3708 3759 4011 3710 3642 3707 3709 3757 3257 3770 3353 3702 3061 3774 3591 3709 3275 3778 3440 3753 3160 3709 3692 3772 4504 3710 4461 3775 4021 3791 3862 3785 3689 3757 3356 3695 4178 3711 3266 3771 3619 3767 4395 3763 3736 3711 4086 3704 3957 3783 4125 3784 3654 3698 4359 3758 4052 3778 4100 3764 3264 3785 3210 3694 3819 3695 4477 3767 3973 3759 3094 3779 3640 3773 4128 3780 3139 3710 3701 3786 3109 3771 3246 3779 4226 3760 3438 3756 3761 3693 4128 3768 3152 3756 3048 3710 3628 3705 3720 3788 4477 3776 4209 3702 4345 3787 3133 3767 4106 3765 4242 3775 3621 3782 4070 3780 3494 3789 3562 3698 4202 3779 4216 3705 4093 3705" fill="none" marker-start="url(#m100)" marker-mid="url(#m100)" marker-end="url(#m100)"/>
<path d="M3817 3635 3365 3631 4308 3631 3758 3644 3135 3633 3097 3646 3770 3643 3249 3640 3287 3646 3490 3637 3149 3640 3137 3633 3612 3643 3097 3639 4376 3638 3766 3641 3727 3639 3324 3646 4297 3633 3925 3634 4162 3632 3498 3632 3652 3633 3123 3647 3528 3642 3934 3644 4374 3642 3174 3646 4215 3633 3191 3633 3046 3646 3090 3634 3267 3643 3076 3646 4026 3644 4508 3636 3240 3640 3083 3633 4335 3650 3286 3643 3506 3637 3498 3644 3548 3651 3203 3644 4054 3639 3061 3636 4053 3642 4290 3642 4270 3636 3844 3637 4485 3643 3575 3638 4188 3633 3622 3645 4319 3650 4119 3648 3073 3650 4421 3632 4517 3645 3336 3642 4283 3636 4506 3649" fill="none" marker-start="url(#m101)" marker-mid="url(#m101)" marker-end="url(#m101)"/>
<path d="M3780 3612 3746 3616 4051 3631 4148 3632 3229 3620 3195 3615 4263 3626 3791 3622 3186 3605 3352 3618 3889 3618 3967 3620 3935 3617 3262 3609 4401 3626 3733 3602 4478 3632 3394 3619 4230 3610 4000 3628 4166 3607 3766 3617 3657 3606 3175 3616 3999 3603 4387 3618 3631 3607 3912 3614 3384 3614 4447 3608 3613 3609 3141 3586 4001 3619 3680 3613 3858 3622 3690 3611 4505 3606 4260 3614 3498 3613 3162 3607 4279 3609 3988 3616 4276 3611 3162 3626 3171 3610 4158 3625 3983 3599 3468 3601 4429 3619 3281 3637 4504 3625 3897 3610 4282 3624 3504 3604 3043 3617 3830 3611 4051 3613 4229 3624 3174 3620 3345 3618 4279 3608 4034 3613 4332 3602 3850 3606 4167 3610 3691 3628 3941 3612 3988 3606 3296 3621 3843 3605 3103 3631 4390 3613 4459 3618 4290 3620 3691 3617 4203 3622 3462 3618 4429 3622 3963 3609 4426 3613 3230 3615 3340 3617 3196 3621 3242 3604 3653 3620 4322 3629 3745 3608 3196 3619 3926 3603 3621 3617 3064 3604 3765 3626 3491 3606 4510 3612 4371 3603 4175 3621 4435 3609 3509 3632 4313 3610 4501 3611 3660 3627 4150 3616 4239 3630 3316 3635 3168 3614 3967 3623 4005 3629 3870 3601 4247 3617 3057 3592 3661 3617 3200 3619 3047 3616 3460 3606 4352 3618 4214 3601 3862 3619 3581 3607 3487 3612 4379 3616 3457 3600 3714 3608 3560 3599 3502 3623 3903 3613 4458 3611 3068 3617 3166 3605 4110 3618 3678 3625 3089 3611 3827 3612 4151 3617 4175 3614 3848 3609 4137 3627 3963 3606 3846 3626 4490 3618 3111 3601 3666 3606 3453 3622 4075 3617 3724 3619 3495 3610 4368 3610 3368 3597 3470 3601" fill="none" marker-start="url(#m67)" marker-mid="url(#m67)" marker-end="url(#m67)"/>
<path d="M3348 3532 3801 3803 4299 3401 3687 3458 4460 3523 3774 3824 4151 3453 3093 3524 3963 3497 3077 3341 3641 3349 3410 3549 3322 3339 4069 3539 3350 3803 4395 3813 4226 3803 3140 3432 3731 3421 3793 3527 3110 3541 4399 3414 3222 3423 3811 3505 4285 3538 3602 3380 3162 3445 4197 3444 4194 3831 3512 3431 3157 3411 4016 3430 4436 3360 4155 3516 3110 3831 3442 3459 3227 3548 4468 3370 4091 3521 3510 3532 3437 3509 3729 3369 3677 3468 3944 3403 4376 3406 3767 3439 3282 3332 3044 3536 3581 3466 4003 3349 4381 3405 3521 3379 4246 3818 3809 3466 4137 3493 4306 3509 3058 3485 3276 3821 3093 3502 3289 3502 4495 3825 3379 3378 3336 3826 4200 3528 3690 3468 3355 3486 4333 3341 3075 3353 4471 3343 3169 3512 3946 3830 4398 3524 4235 3506 4398 3483 3268 3364 3668 3404 3497 3434 4179 3802 3826 3507 3426 3437 3919 3469 3498 3412 4166 3488 3218 3377 4174 3523 4303 3528 3149 3473 4356 3468 4473 3390 3544 3489 3462 3530 4402 3332 4018 3808 3398 3500 4048 3474 3636 3809 3057 3453 3638 3549 3211 3349 4438 3379 4127 3442 4358 3396 3853 3515 3604 3426 3088 3806 3714 3378 3293 3801 3343 3457 3971 3825 3544 3398 3293 3535 4360 3373 3938 3493 3257 3444 4312 3331 4021 3542 4263 3401 3846 3527 3110 3542 3715 3346 4227 3375 4042 3550 3156 3377 4261 3403 4280 3393 4284 3814 3762 3396 4198 3491 3231 3521 3527 3491 4310 3441 4149 3810 4198 3487 3465 3536 3759 3528 3818 3468 3943 3340 4418 3510 3975 3364 4332 3387 4098 3820 3108 3441 3898 3550 3639 3492 3641 3831 3765 3539 4237 3499 3882 3373 4485 3548 3765 3831 3930 3345 3630 3548 3056 3821 4327 3459 4134 3378 3792 3479 4380 3520 3299 3547" fill="none" marker-start="url(#m37)" marker-mid="url(#m37)" marker-end="url(#m37)"/>
<path d="M3751 3149 4336 3126 4447 3144" fill="none" marker-start="url(#m91)" marker-mid="url(#m91)" marker-end="url(#m91)"/>
<path d="M4020 3325 3904 3321 3535 3264 3558 3192 4127 3403 3632 3344 3567 3249 4490 3267 3805 3183 4387 3256 3447 3179 3139 3270 4165 3282 3282 3338 3932 3275 3270 3401 3724 3343 3354 3405 3645 3278 3470 3409 3586 3311 4382 3343 3043 3398 3862 3241 3375 3329 4517 3295 4323 3303 3962 3325 3610 3216 3869 3200 4338 3341 4479 3257 3186 3297 3198 3301 3726 3282 4231 3403 3361 3359 4079 3203 3208 3336 3469 3296 4192 3293 4086 3325 3589 3348 3294 3346 3258 3258 3070 3392 3058 3333 3486 3357 3754 3316 3319 3160 3291 3225 4287 3280 4388 3406" fill="none" marker-start="url(#m68)" marker-mid="url(#m68)" marker-end="url(#m68)"/>
<path d="M4147 3447 3387 3691 3366 3767 3690 3722 3352 3789 3635 3444 3186 3706 3667 3783 3663 3372 4046 3457 4062 3481 3277 3790 3138 3754 3478 3468 3769 3723 3443 3685 4494 3804 3171 3765 3730 3692 3459 3460 3417 3673 3614 3680 4370 3677 4404 3803 4151 3726 3126 3437 3281 3753 4397 3720 3915 3785 4449 3699 4412 3705 3662 3795 3341 3794 4274 3483 3307 3435 3639 3720 3180 3484 4061 3436 3339 3489 3580 3444 3393 3781 3525 3747 4414 3479 4316 3796 3984 3728 3933 3684 4321 3420 3745 3788 3346 3742 3462 3465 3383 3389 4132 3711 3953 3488 4256 3441 4134 3785 4149 3725 3677 3702 3422 3481 3653 3456 4340 3793 3735 3765 3176 3724 3632 3724 3514 3453 4262 3776 3983 3697 4122 3476 4078 3715 3296 3391 4250 3801 3367 3697 3492 3760 3157 3733 3146 3485 3175 3740 4347 3439 3278 3808 3856 3810 4333 3702 3231 3730 4402 3373 3933 3762 3419 3714 4050 3675 3568 3765 4414 3726 4143 3708 3912 3770 3751 3463 3730 3772 4283 3478 3235 3439 4450 3453 4163 3445 4337 3721 4009 3692 3403 3798 4278 3768 3553 3455 4412 3480 4173 3776 4342 3682 3954 3425 4295 3807 3434 3387 3750 3688 3933 3486 4275 3486 4368 3430 3942 3761 4265 3772 3445 3725 4278 3782 4223 3718 3302 3776" fill="none" marker-start="url(#m69)" marker-mid="url(#m69)" marker-end="url(#m69)"/>
<path d="M3084 3509 4396 3494 3293 3501 3939 3496 4214 3493 3635 3500 4327 3503 3541 3500 4036 3492 3736 3509 3522 3506 3931 3500 3086 3498 3193 3501 4493 3494 3171 3497 3125 3500 4517 3497 4265 3503 3339 3510 4182 3501 3231 3493" fill="none" marker-start="url(#m71)" marker-mid="url(#m71)" marker-end="url(#m71)"/>
<path d="M3824 3512 3972 3521 3633 3513 3265 3526 3563 3525 4234 3520 3130 3526 3400 3515 4053 3522 4379 3518 4008 3526 3497 3517 4510 3521 4051 3512 4145 3511 3386 3514 3345 3520" fill="none" marker-start="url(#m72)" marker-mid="url(#m72)" marker-end="url(#m72)"/>
<path d="M4350 3665 3166 3662 3243 3660 3410 3658 3650 3659 4292 3656 3546 3651 3482 3655" fill="none" marker-start="url(#m92)" marker-mid="url(#m92)" marker-end="url(#m92)"/>
<path d="M4091 3638 4043 3622 3317 3643 3251 3641 3679 3619 4441 3636 4444 3659 3333 3632 3299 3647 4246 3667 3685 3644 3759 3647 3725 3640 4076 3640 3370 3640 4153 3641 4249 3647 4345 3654 3381 3655 3811 3660 4494 3660 3959 3644 4224 3635 4350 3650 4001 3648 4169 3653 3561 3642 3994 3627 3270 3646 3092 3643 3824 3642 3358 3631 4037 3648 3980 3655 3068 3641 3640 3643 3787 3648 3740 3636 4517 3649 4289 3658 4377 3650 3875 3644 3081 3650 3489 3648 3842 3656 3251 3634 3627 3641 3332 3648 4385 3640 4027 3655 3068 3630 4437 3646 3662 3661 4121 3656 3847 3663 4473 3636 3707 3647 3198 3632 3541 3655 3352 3642 3288 3657 4305 3637 4059 3637 3426 3654 3497 3629 3933 3667 3637 3652 3364 3639 3969 3654 3562 3651 3883 3622 3438 3653 4101 3645 3593 3659 3237 3638 3934 3634 3908 3652 3996 3638 3798 3655 4385 3622 4136 3637 3387 3637 4210 3654 4436 3649 4045 3643 3779 3643 3327 3657 4313 3636 3423 3639 3043 3618 3994 3640 3390 3624 3202 3629 3424 3652 3043 3639 3865 3643 4084 3635 4428 3634" fill="none" marker-start="url(#m76)" marker-mid="url(#m76)" marker-end="url(#m76)"/>
<path d="M3177 3570 4397 3560 4319 3569 3610 3569 3574 3562 4116 3578 4132 3531 3666 3577 3750 3546 4176 3557 4000 3580 4206 3586 3050 3557 4425 3552 4242 3557 4211 3552 3511 3522 4031 3516 3742 3583 4069 3580 3838 3539 4350 3531 3045 3578 3395 3525 3164 3577 4384 3616 4288 3583 4419 3586 3320 3535 4087 3592 3194 3539 3604 3552 3832 3566 3481 3529 3800 3561 3724 3561 3983 3565 3795 3563 3758 3568 3366 3535 3286 3522 3211 3564 3375 3551 3306 3553 4320 3571 3863 3569 3382 3560 3865 3570 3498 3594 3972 3590 3181 3544 3251 3573 3139 3576 3255 3569 3783 3578 3523 3577 3350 3548 4152 3548 3341 3567 4410 3574 4258 3584 3057 3572 3699 3562 3535 3576 3402 3585 4383 3544 3842 3532 3128 3542 3285 3563 4402 3555 3580 3507 3700 3559 3338 3587 4482 3557 3664 3584 3195 3552 3631 3547 4102 3533 3492 3551 3458 3571 3156 3577 3152 3567 4348 3566 3943 3532 3058 3536 3054 3559 3911 3536 3518 3541 3611 3542 4252 3570 4362 3616 3974 3540 4138 3553 4484 3558 4430 3522 4345 3553 3103 3568 4275 3566 4092 3554 3129 3555 4503 3558 4263 3593 3423 3571 3616 3563 3537 3552 3374 3553 4187 3584 3499 3573 3638 3567 4276 3568 4236 3579 3730 3612 3538 3581 4071 3573 3043 3574 4169 3577 3760 3528 3995 3598 3059 3556 3869 3592 3429 3590 4419 3557 3832 3535 3732 3568 3885 3557 3224 3546 3784 3559 3572 3539 3880 3569 3268 3542 3968 3570 3399 3518 4019 3532 3653 3560 3881 3575 4258 3548 4473 3534 4278 3554 3910 3575 4413 3548 4397 3557 3693 3563 3764 3587 4114 3555 3260 3567 4463 3527 4309 3577 3891 3532 4504 3560 3931 3533 3831 3551 4125 3612 4090 3539 3360 3541 3832 3584 3739 3564 3882 3570 4122 3559 4112 3587 4171 3558 4456 3600 3861 3567 3997 3596 4475 3548 3539 3557 4480 3572 4454 3559 4090 3531 3562 3538 3801 3527 4162 3596 3980 3583 3997 3569 3425 3574 4373 3544" fill="none" marker-start="url(#m78)" marker-mid="url(#m78)" marker-end="url(#m78)"/>
<path d="M3179 3125 3223 3126 3123 3127" fill="none" marker-start="url(#m93)" marker-mid="url(#m93)" marker-end="url(#m93)"/>
<path d="M3390 3167 3914 3202 4159 3175 4496 3139 3504 3230 4265 3165 3708 3250 3504 3139 3362 3193 3902 3135 3948 3176 3922 3207 3193 3199 3064 3225 4337 3155 3499 3201 4517 3155 4122 3225 4020 3210 3894 3147 4129 3226 4108 3175 3775 3137 3815 3201 3393 3211 3325 3208 3957 3223 3490 3187 4046 3212 3721 3211 3043 3243 3881 3225 3428 3157 4443 3143 3043 3133 4453 3186 3999 3162 4456 3200 4105 3215 3534 3211 4364 3216 3579 3242 3174 3194 4451 3248 3697 3180 4245 3202 3514 3226 3107 3230 3117 3237 3191 3237 3243 3162 4166 3158 3617 3243" fill="none" marker-start="url(#m94)" marker-mid="url(#m94)" marker-end="url(#m94)"/>
<path d="M4280 3365 4191 3331 4065 3292 3178 3321 3796 3251 4163 3309 3212 3274 4380 3256 3776 3311 3764 3293 3597 3363 4507 3312 3873 3326 3107 3315 3489 3307 3088 3355 4506 3287 4371 3289 4058 3360 3814 3282 4266 3254 3256 3333 4357 3356 3531 3265 3838 3365 4056 3272 3278 3366 4174 3317 3749 3289 4313 3357 4094 3321 3859 3265 4305 3355 3323 3341 3278 3348 3165 3317 4295 3262 3315 3290 3579 3318 3418 3271 4065 3344 4279 3259 3124 3254 3886 3328 3393 3283 4202 3336 3810 3326 4294 3287 3952 3252 3237 3272 4027 3344 3126 3287 3225 3303 4487 3353 3901 3328 3542 3252 3592 3300 3922 3364 4099 3300 3682 3336 4151 3319 3219 3282 4231 3251 3231 3364 3795 3341 3391 3331 4344 3331 3364 3318 4001 3334 3937 3268 3713 3309 4235 3312 3720 3347 3694 3355 3878 3353 4415 3325 3520 3320 4328 3308 4081 3369 3625 3268 4056 3331" fill="none" marker-start="url(#m95)" marker-mid="url(#m95)" marker-end="url(#m95)"/>
<path d="M4468 3449 3840 3465 4304 3439 3969 3402 3314 3459 4289 3458 4305 3437 3472 3403 3810 3453 3708 3401 4268 3467 3528 3404 3307 3398 3901 3434 3715 3383 3851 3411 3248 3451 4269 3395 3329 3407 4299 3393 3118 3469 3599 3397 3378 3430 3920 3374 3995 3407 4250 3467 4446 3391 4310 3419 4013 3466 3056 3383 3416 3462 3648 3417 4312 3409 4429 3410 4235 3374 4364 3381 3592 3443 3374 3376 4354 3434 4195 3415 4383 3452 4012 3372 4338 3434 4464 3446 3265 3393 3822 3457 3916 3420 4008 3388 4081 3459 4491 3421 3694 3466 4385 3446 3382 3446 4027 3417 4099 3406 4087 3414 3611 3398 3306 3469 3243 3452 3507 3446 3642 3382 3098 3446 3362 3445 4475 3458 3420 3400 3863 3464 4383 3405 3331 3439 3269 3417 3582 3470 3782 3454 3605 3469 4394 3412 4182 3388 3755 3448 3355 3409 4216 3377 3426 3372 3152 3384 3421 3428 4229 3410 3517 3379 4102 3443 3364 3422 3762 3393 3489 3414 4109 3401 3381 3449 3551 3450 3699 3417 3721 3467 3354 3385 4192 3419 4212 3421 3579 3380 3879 3436" fill="none" marker-start="url(#m96)" marker-mid="url(#m96)" marker-end="url(#m96)"/>
<path d="M4167 3504 4031 3497 3653 3498 3976 3506 3327 3491 3332 3478 3638 3501 4201 3475 3943 3499 3073 3484 4201 3492 4239 3493 3833 3486 3841 3499 3306 3478 4115 3505 4339 3493 3972 3495 4329 3472 3486 3495 3360 3502 4123 3481 3524 3480 3848 3490 3237 3479 3641 3495 3232 3506 4517 3495 3864 3477 3498 3485 4078 3482 3572 3476 3538 3499 4418 3489 3514 3484 3718 3476 3309 3486 3154 3498 4491 3485 3876 3478 3238 3485 3570 3508 4517 3487 4230 3494 4439 3509 3242 3505 4328 3471 3407 3485 4387 3486 3699 3501 4298 3491 3854 3486 3840 3500 4453 3473 3571 3509 3807 3498 4385 3477 3783 3491 3564 3475" fill="none" marker-start="url(#m97)" marker-mid="url(#m97)" marker-end="url(#m97)"/>
<path d="M4048 3795 4512 3527 4328 3568 3331 3796 3160 3524 3159 3796 4498 3513 3273 3570 4252 3796 4475 3799 3427 3521 4494 3566 4384 3554 3730 3523 4108 3801 4170 3528 3640 3517 3087 3514 3146 3560 3910 3795 3680 3797 3438 3558 4218 3801 3050 3558 4516 3793 4471 3512 4234 3528 3400 3555 3081 3565 3215 3798 3241 3798 4050 3517 3911 3797 3319 3795 3609 3563 4157 3568 4459 3557 3272 3553 4265 3556 3993 3516 3605 3563 3365 3557 4237 3559 4174 3799 4402 3793 3186 3800 3088 3568 3281 3570 3660 3522 3507 3793 3312 3528 3731 3512 4232 3518 3324 3529 4433 3798 4236 3515 4437 3527 3813 3798 3595 3799 3049 3795 3400 3555 3639 3559 4487 3515 3556 3801 3139 3528 3923 3552 3081 3526 4094 3556 3958 3795 3586 3556 3771 3530 3625 3520 3104 3793 3261 3793 3667 3522 3206 3795 4488 3522 4219 3516 3355 3563 3884 3557 3048 3792 3443 3518 3881 3569 3252 3530 4023 3799 4472 3561 3826 3557 4415 3794 4364 3569 3350 3556 3453 3555 4046 3800 3084 3795 4253 3552 3287 3569 4250 3525 3089 3570 3906 3519 3358 3565 4456 3558 3915 3557 3803 3556 3124 3526 4480 3569 4031 3529 3602 3558 3185 3519 3444 3798" fill="none" marker-start="url(#m98)" marker-mid="url(#m98)" marker-end="url(#m98)"/>
<path d="M3338 3544 4074 3542 4076 3547 3043 3545 4517 3551 3928 3539 3700 3537 4195 3539 4168 3541 3734 3549 3152 3539 3612 3541 3130 3532 3452 3551 3284 3533 4060 3535 4373 3549 3976 3550 3658 3538 3524 3541 4406 3531 3321 3545 3299 3540 3078 3544 3110 3540 3964 3550 3897 3535 3087 3547 3372 3534 3467 3546 4336 3532 3136 3545 4393 3537 3929 3549 3712 3549 4087 3541" fill="none" marker-start="url(#m66)" marker-mid="url(#m66)" marker-end="url(#m66)"/>
<path d="M4436 3672 4346 3712 3378 3680 4020 3736 4346 3690 3869 3685 3611 3739 4120 3716 3822 3652 3748 3676 3448 3666 3786 3729 3226 3714 3678 3652 3569 3672 3978 3684 3154 3738 4364 3663 3359 3666 3168 3666 4140 3740 3711 3742 3366 3653 4472 3713 4356 3725 4421 3676 3833 3691 4494 3713 3379 3684 4378 3738 3301 3728 3537 3713 3500 3728 3167 3659 3171 3681 4254 3740 3609 3671 4285 3721 4041 3663 3582 3689 3429 3738 3098 3736 3712 3658 4160 3716 3567 3741 3928 3660 3710 3714 3929 3727 3521 3664 3886 3728 3478 3670 3913 3720 4003 3687 4276 3734 4050 3680 3401 3664 4418 3733 3894 3689 3351 3748 3131 3669 3180 3662 4504 3742 3273 3750 3472 3732 3721 3728 4002 3683 4164 3663 3489 3722 3719 3733 3518 3745 4025 3668 4010 3689 4346 3663 3767 3664 4405 3734 3459 3717 3720 3652 3596 3679 4003 3726 4442 3736 3294 3748 4504 3715 4275 3736 3618 3721 3618 3654 3343 3653 3870 3675 3474 3668 3816 3684 3841 3739 3791 3672 3404 3721 3276 3661 4127 3729 3423 3730 4138 3685 4399 3735 3317 3656 3986 3736 4406 3714 4066 3676 3520 3686 3687 3722 4465 3689 3803 3722 3418 3734 4388 3677 4214 3689 4499 3741 3083 3713 4207 3677 3877 3740 4082 3678 3695 3723 3152 3712 3261 3748 3436 3728 3928 3725 3823 3742 4057 3741 3598 3728 3078 3712 3475 3661 3538 3742 3640 3661 4084 3691 3911 3677 4088 3669 4298 3660 3492 3661 4435 3712 4262 3690 3728 3673 3173 3657 3330 3746 3937 3674 3860 3651 3665 3730 4412 3718 4402 3686 3215 3667 3327 3655 3797 3722 3563 3730 3957 3670 4320 3671 4162 3689 3426 3730 3271 3688 3232 3660 3365 3651 3780 3678 4341 3657 4113 3750 4069 3659 4358 3652 4416 3712 4349 3750 3198 3744 4018 3673 3596 3750 4357 3654 4148 3737 3161 3681 4146 3687 3910 3653 3879 3745 3477 3744 4465 3677 4215 3688 3197 3740 3758 3711 3759 3662 4463 3688 4313 3669 4087 3723 3917 3659 3390 3663 4414 3677 4118 3681 4135 3677 3270 3746 4390 3723 4033 3744 4317 3664 3640 3680 3626 3733 3352 3654 3098 3719 4287 3740 3153 3675 3347 3738 4140 3750 4392 3722 4170 3671 3836 3657 3967 3717 3450 3751 4061 3677 3172 3669 3498 3719 4422 3733 4172 3731 3988 3674 3866 3691" fill="none" marker-start="url(#m99)" marker-mid="url(#m99)" marker-end="url(#m99)"/>
<path d="M3909 3699 3972 3780 3899 3703 4317 3700 3624 3752 3186 3702 3515 3760 4264 3762 3253 3790 4271 3783 4279 3763 3563 3782 4154 3787 3119 3707 3835 3768 3325 3787 3370 3709 3333 3781 3177 3770 3490 3769 3436 3772 4182 3753 3886 3768 3951 3695 4118 3705 4282 3790 3942 3752 3232 3778 4472 3773 3280 3706 3446 3784 3997 3775 4369 3700 3224 3752 3470 3703 3785 3772 3063 3782 3461 3755 3402 3779 3536 3773 3151 3708 4324 3755 3512 3707 3661 3777 3157 3699 3957 3762 3975 3698 3513 3767 4396 3761 3100 3700 3393 3780 3289 3774 3610 3772 3764 3770 3977 3755 4366 3703 3414 3757 4121 3709 3828 3786 4363 3785 4205 3772 3372 3761 4245 3706 3849 3781 3834 3704 4318 3778 3475 3775 4482 3775 4451 3704 3337 3758 4128 3704 3880 3759 3657 3752 3883 3751 3485 3705 3073 3764 3513 3692 4416 3708 4376 3767 4066 3769 3177 3777 3436 3691 3719 3771 4474 3779 3825 3782 3711 3766 3700 3694 3663 3707 3211 3786 4155 3694 3359 3764 4078 3699 4078 3790 4233 3699 3057 3770 3640 3759 3232 3776 3533 3761 3347 3767 3408 3756 3681 3709 3183 3692 4025 3757 4309 3783 3927 3761 3412 3784 4158 3770 4517 3776 3049 3701 4356 3757 4369 3700 3134 3779 3406 3703 3273 3756 4400 3698 4316 3791 3966 3785 4297 3696 3462 3767 3830 3775 3920 3773 3739 3761 3518 3779 3374 3707 4109 3771 3987 3769 4510 3753 4391 3691 4273 3694 4247 3762 3462 3763 3317 3767 3241 3790 3843 3761 4009 3783 4337 3705 3061 3698 3252 3759 4019 3701 4341 3791 4187 3787 3066 3692 4163 3783 4138 3757 3316 3695 4274 3782 4511 3767 3409 3786 3999 3771 4446 3761 3130 3783 4510 3774 3059 3694 3741 3778 4484 3785 3657 3695 4120 3790 3371 3781 4065 3753 4201 3755 3410 3755 4506 3699 3697 3774 3835 3703 3375 3703 4185 3780 3250 3692 3351 3779 4343 3705 3073 3708 3410 3770 3674 3700 4516 3782 3224 3782 4188 3786 4196 3774 3845 3787 4000 3783 4004 3786 4206 3694 3906 3774 3702 3771 3869 3698" fill="none" marker-start="url(#m100)" marker-mid="url(#m100)" marker-end="url(#m100)"/>
<path d="M3056 3642 4019 3637 3043 3647 3545 3648 3177 3640 4285 3639 3130 3650 4389 3645 3266 3642 3683 3650 4118 3633 4206 3649 4263 3648 3778 3632 3191 3638 4423 3645 4105 3641 3192 3644 3140 3636 4135 3638 4501 3636 3246 3634 3606 3638 4028 3642 3389 3648 4335 3644 4437 3631 4082 3649 3153 3650 3979 3644 3211 3642 3867 3631 3096 3641 3296 3643 4172 3648 3471 3648 3765 3636 4160 3641 4265 3648 4296 3641 3043 3647 3780 3641 3813 3646 3051 3639 4023 3644 3043 3645 3098 3633 3631 3640 3396 3645 4051 3631 4464 3634 3673 3634 3082 3635 4088 3651 3369 3639 4058 3638 4225 3649 3281 3651 4022 3642 4391 3636 3595 3644 4446 3639 4350 3650 4094 3634 3300 3637 4272 3645 4460 3639 3724 3639" fill="none" marker-start="url(#m101)" marker-mid="url(#m101)" marker-end="url(#m101)"/>
<path d="M3752 3604 3402 3597 3427 3630 4111 3626 3482 3620 3721 3618 3922 3605 3770 3614 4408 3614 4028 3610 3682 3627 3137 3615 4190 3617 3632 3607 4018 3619 4428 3608 4348 3602 4072 3623 4033 3632 4138 3604 3538 3619 3879 3615 3525 3614 3457 3611 3190 3610 4128 3603 3119 3594 4177 3609 3352 3623 3927 3611 4187 3614 4068 3613 3998 3618 3077 3622 3728 3623 3932 3610 3303 3620 3998 3618 3073 3621 4388 3609 4438 3620 3483 3607 3506 3614 4505 3596 3198 3638 3181 3618 3902 3614 3209 3620 3789 3606 3835 3608 3811 3600 3099 3621 3934 3609 3613 3599 4443 3629 3344 3612 4153 3619 4075 3617 4469 3617 4377 3604 4305 3618 3856 3612 4094 3602 4517 3609 4136 3614 4016 3611 3965 3629 3727 3610 3166 3613 3270 3604 3569 3606 4337 3609 4517 3613 3313 3613 3295 3598 3154 3611 3795 3626 4014 3609 3373 3613 4220 3609 3851 3621 3605 3625 3873 3615 3213 3624 3616 3604 3465 3622 4313 3607 4345 3616 4473 3606 3916 3624 3372 3609 4362 3624 4082 3609 4407 3619 4210 3614 3163 3622 4508 3620 3813 3616 4491 3615 4433 3614 3492 3613 3442 3607 3354 3623 3227 3603 3139 3605 3553 3612 3478 3614 4482 3610 3443 3599 4319 3605 3817 3590 3800 3617 3908 3618 3363 3617 4247 3601 4443 3627 3299 3615 3212 3604 4027 3609 3412 3617 4301 3609 4395 3620 3561 3606 4496 3609 3992 3619 3126 3603 3737 3596 3591 3611 3047 3612" fill="none" marker-start="url(#m67)" marker-mid="url(#m67)" marker-end="url(#m67)"/>
<path d="M3852 3818 4427 3404 3684 3361 4335 3353 3106 3373 4071 3354 3843 3442 3333 3415 4409 3342 3447 3480 4482 3445 4067 3831 3208 3416 3153 3466 3541 3424 3172 3523 3415 3504 4437 3344 4288 3346 3548 3516 3050 3377 3334 3419 4273 3426 3422 3483 4517 3466 3515 3480 3376 3808 4347 3494 4172 3465 4320 3471 3746 3815 4513 3393 4514 3404 4346 3411 3143 3333 3669 3477 3510 3458 3660 3414 3688 3347 3293 3805 4006 3372 3688 3419 3713 3816 3652 3383 3799 3359 3434 3489 4357 3818 3049 3512 3971 3803 3410 3347 3721 3480 3445 3355 3450 3550 3931 3547 4029 3507 3781 3388 3574 3474 3205 3393 3590 3405 3232 3817 4453 3383 3604 3827 4335 3806 4510 3340 3795 3401 4317 3826 4392 3468 3729 3550 3043 3451 4314 3444 3871 3365 3452 3484 3745 3477 3550 3504 4328 3831 3996 3347 4314 3518 4142 3355 3679 3364 3966 3805 3993 3434 3712 3456 3963 3481 3294 3420 3751 3521 3362 3464 3928 3422 3514 3488 3342 3513 4053 3383 3916 3342 3780 3391 3669 3366 4323 3411 3271 3379 4022 3359 3813 3389 3446 3520 3982 3427 3542 3536 3857 3434 3293 3379 4058 3421 4439 3488 3694 3813 3413 3469 3949 3393 4210 3534 4273 3524 4267 3483 4516 3402 3522 3476 3767 3815 3182 3824 3843 3536 4162 3427 4003 3424 4517 3818 4144 3506 3117 3414 4472 3483 3194 3471 3846 3350 4425 3514 4067 3518 3793 3425 3264 3468 3181 3363 3292 3497 3704 3519 4369 3535 3403 3449 3178 3819 3409 3804 4314 3477 3773 3478 3243 3441 4482 3831 3717 3436 3185 3369 3127 3395 4263 3831 4002 3501 3802 3341 4324 3343 3319 3494 4443 3419 3209 3806 3577 3417 3638 3462 3549 3351 4421 3374 4231 3440 3401 3539 3433 3351 3705 3331 4106 3415 3721 3454 3973 3477 4381 3346 4065 3389 3963 3377 3248 3434 3413 3806 3429 3806 4181 3542 3449 3343 3284 3546 3914 3366 4171 3419 3643 3459 3926 3812 4458 3483 3963 3818 4178 3477 3487 3365 3742 3405 3442 3365 3734 3817 3294 3507 3901 3363 3546 3505 3100 3392" fill="none" marker-start="url(#m37)" marker-mid="url(#m37)" marker-end="url(#m37)"/>
<path d="M3687 3141 3069 3146" fill="none" marker-start="url(#m91)" marker-mid="url(#m91)" marker-end="url(#m91)"/>
<path d="M4193 3230 3501 3190 3701 3276 3249 3306 4216 3344 3300 3323 3072 3249 3203 3214 3398 3172 4070 3178 3873 3299 4057 3343 3911 3269 4039 3206 3790 3367 4483 3189 4353 3339 4410 3223 3272 3280 3725 3285 4426 3259 3709 3200 4483 3405 4188 3392 3623 3306 3906 3309 3524 3303 3772 3200 4301 3168 3207 3347 3195 3287 3716 3361 4066 3246 3729 3160 4397 3189 4429 3293 4448 3263 4337 3312 3223 3334 4216 3158 3606 3409 3627 3321 4214 3336 3578 3155 4434 3283 4460 3263 3642 3405 3180 3322 4096 3314 3366 3407 3879 3401 4128 3218 3664 3326 3043 3399 4487 3178 3102 3336 3805 3336 3557 3319 4272 3358 3589 3286 3711 3225 3145 3361 3820 3317 4061 3291 4007 3164 3763 3243 4121 3174 3895 3277 3615 3363" fill="none" marker-start="url(#m68)" marker-mid="url(#m68)" marker-end="url(#m68)"/>
<path d="M3089 3778 4302 3740 3677 3470 3902 3778 4383 3749 4198 3714 3114 3428 3706 3484 3168 3473 3815 3732 3731 3437 3694 3799 3620 3374 4399 3700 3997 3746 3919 3737 3174 3687 3884 3746 3783 3782 3870 3755 4461 3439 4359 3711 3935 3672 3415 3704 3864 3376 4428 3715 3844 3782 4061 3385 3777 3780 3702 3749 4297 3792 3563 3680 3092 3437 4041 3806 3757 3435 3443 3809 4405 3484 4274 3740 3546 3763 3420 3453 3644 3488 3300 3383 3431 3717 3067 3749 4065 3711 4169 3800 3848 3683 3312 3462 4403 3384 3804 3443 3691 3417 3401 3448 3896 3742 3278 3777 3660 3762 3241 3808 3667 3698 3487 3759 3250 3418 3385 3427 3821 3795 4351 3734 3072 3710 3224 3480 3091 3752 4249 3415 3723 3384 4367 3687 3832 3696 3312 3436 3349 3455 4252 3375 3239 3483 3209 3375 3770 3719 3269 3471 3265 3795 4012 3755 3570 3733 3297 3787 3930 3765 4044 3479 3992 3384 3737 3425 4378 3472 3766 3443 3333 3705 3646 3479 4157 3799 3323 3382 3463 3759 4452 3754 4133 3783 4286 3435 3133 3422 3166 3386 3925 3700 3749 3689 3957 3805 4500 3443 3435 3724 3237 3698 3292 3372 3989 3720 4061 3683 3780 3774 3287 3797 3748 3484 3082 3704 3932 3790 4084 3756 4321 3741 4098 3469 4479 3757 3179 3478 3882 3412 3174 3416 4169 3434 3336 3743 4317 3423 4295 3687 3100 3715 3361 3745 3303 3380" fill="none" marker-start="url(#m69)" marker-mid="url(#m69)" marker-end="url(#m69)"/>
<path d="M3754 3510 3775 3503 3594 3502 4218 3506 3841 3504 3723 3501 3391 3504 4048 3506 4458 3505 3083 3494 4372 3505 4190 3502 3306 3509 4202 3503 4090 3497 3394 3499 3284 3505 3588 3504" fill="none" marker-start="url(#m71)" marker-mid="url(#m71)" marker-end="url(#m71)"/>
<path d="M3769 3530 3647 3530 4253 3514 4297 3513 3476 3528 3879 3512 3449 3523 3043 3521 3861 3515 3730 3527 3306 3527 4090 3526 3304 3529 3821 3530 3791 3526 3631 3517 4195 3513 3778 3516" fill="none" marker-start="url(#m72)" marker-mid="url(#m72)" marker-end="url(#m72)"/>
<path d="M4067 3652 4222 3666 4121 3656 3840 3661 4262 3667 3341 3656 4120 3667 3716 3669 4124 3659 4480 3658" fill="none" marker-start="url(#m92)" marker-mid="url(#m92)" marker-end="url(#m92)"/>
<path d="M4378 3634 4442 3653 3358 3622 3855 3653 3964 3654 3932 3648 3356 3668 4219 3669 4034 3655 3338 3662 4326 3636 3164 3665 3157 3635 3813 3630 4100 3644 4399 3641 3043 3649 4015 3656 3208 3656 3617 3658 3985 3644 3603 3652 3635 3632 3964 3638 3574 3643 4145 3654 4478 3639 3325 3641 4028 3644 3427 3639 4067 3658 4120 3648 3671 3653 4278 3637 4437 3648 3043 3634 3283 3652 3402 3654 3660 3648 4329 3655 3781 3630 3222 3666 3678 3653 3322 3644 3238 3651 3765 3669 3359 3650 3741 3651 4349 3659 4015 3627 4257 3658 3759 3644 3360 3639 3829 3644 3767 3653 4451 3650 4297 3644 3532 3659 3607 3655 4024 3645 4452 3657 3455 3634 4239 3637 4095 3651 4130 3636 3915 3662 3921 3647 3368 3647 3919 3653 3747 3672 4168 3655 3162 3646 3161 3651 3168 3656 3718 3647 3366 3636 3139 3663 3666 3651 3434 3679 4078 3663 3804 3659 4003 3649 3897 3663 4455 3645 4076 3650 3467 3649 4323 3650" fill="none" marker-start="url(#m76)" marker-mid="url(#m76)" marker-end="url(#m76)"/>
<path d="M3158 3525 3259 3554 3807 3557 3975 3567 3155 3571 3271 3578 3151 3580 4146 3595 3441 3533 3409 3554 4233 3568 4050 3541 4517 3558 4089 3553 3362 3550 3704 3546 4221 3594 3941 3587 3471 3529 3609 3550 4334 3540 4239 3578 4449 3589 3099 3572 4194 3544 3389 3530 4318 3544 3756 3574 3361 3558 3549 3606 4216 3599 3830 3579 3670 3542 3756 3582 4482 3553 3854 3567 3298 3563 3337 3573 3740 3532 3216 3577 4512 3579 4475 3540 3238 3552 3665 3582 3458 3552 3236 3578 4319 3565 4429 3563 3140 3551 3990 3567 3685 3565 3182 3556 3759 3550 3051 3568 3470 3571 3221 3559 3561 3573 3770 3561 3957 3564 3661 3563 3243 3551 3386 3533 3111 3533 3166 3558 4147 3546 4299 3560 4271 3606 3157 3558 3259 3576 3582 3561 4363 3628 4144 3553 3299 3534 4062 3602 3474 3575 3410 3584 3413 3555 3417 3580 4064 3565 3228 3535 4353 3549 4483 3536 4372 3590 3543 3562 3718 3609 4321 3564 3811 3551 3513 3536 4411 3565 3694 3585 3271 3557 4377 3541 4369 3566 4517 3575 3368 3527 3796 3559 4395 3571 3520 3576 4017 3580 3834 3588 3386 3579 3548 3595 3944 3551 3771 3511 3254 3532 4217 3540 3169 3560 4156 3586 4082 3558 4073 3541 3917 3559 4051 3587 3710 3560 3845 3565 3442 3572 3436 3560 3343 3565 3219 3589 3755 3566 4025 3564 3305 3580 3693 3570 3367 3540 4183 3574 3293 3561 3318 3551 3374 3559 3145 3556 4437 3580 3088 3554 3117 3561 3245 3539 3518 3532 3431 3580 3642 3571 3087 3538 4003 3573 4440 3565 3696 3548 4152 3520 3465 3564 3856 3521 3454 3563 4501 3556 4131 3563 3988 3577 3430 3576 3831 3562 3630 3577 3830 3570 4249 3576 3450 3599 3274 3563 4442 3577 3419 3590 3190 3582 3935 3541 4304 3584 3764 3590 3126 3571 3836 3577 4204 3563 4241 3574 4493 3554 3646 3571 4333 3566 4289 3554 3419 3570 3671 3548 3183 3570 4180 3532 3096 3583 4283 3562 4265 3556 3795 3579 3126 3545 3056 3564 3649 3579 3083 3571 3950 3518 3371 3551 4173 3568 3583 3544 3343 3572 4357 3565 3981 3553 3881 3537 3091 3530 3043 3586 4029 3559 3622 3565 4215 3546 4517 3592 4382 3560 4371 3555 3516 3566 3103 3560 4468 3539 4417 3563 4094 3594 4064 3578 3769 3567" fill="none" marker-start="url(#m78)" marker-mid="url(#m78)" marker-end="url(#m78)"/>
<path d="M3908 3131 3300 3123" fill="none" marker-start="url(#m93)" marker-mid="url(#m93)" marker-end="url(#m93)"/>
<path d="M3104 3167 3355 3216 4507 3171 3626 3235 4327 3158 3965 3150 3578 3175 3484 3248 3728 3171 4011 3205 4318 3187 4210 3233 3875 3195 3066 3176 3092 3227 4278 3133 3290 3175 4449 3226 4023 3250 4072 3191 3867 3248 4065 3204 3047 3158 3338 3223 3739 3183 3980 3226 3669 3143 4068 3176 3100 3205 3997 3227 3555 3234 3328 3155 3603 3247 3778 3244 4358 3236 3959 3230 3343 3158" fill="none" marker-start="url(#m94)" marker-mid="url(#m94)" marker-end="url(#m94)"/>
<path d="M3581 3283 3576 3275 3183 3363 3179 3264 3360 3316 3309 3315 3727 3346 3929 3267 3817 3256 4300 3330 3934 3318 3352 3303 4219 3370 3066 3358 3553 3275 3517 3279 4038 3363 3586 3280 4430 3346 3697 3259 4067 3337 3538 3320 4136 3281 3464 3305 3093 3332 3226 3292 3907 3254 3583 3272 3584 3362 4181 3252 3395 3300 4141 3361 3153 3288 3671 3271 3111 3321 3945 3343 4346 3330 4066 3349 3091 3288 3323 3369 4187 3327 4201 3329 3720 3326 3204 3324 4130 3288 3271 3342 3791 3357 4186 3335 4241 3318 4437 3310 3913 3307 3871 3261 3238 3270 4446 3354 4392 3256 3560 3298 3816 3264 4441 3327 4207 3289 3185 3312 4194 3309 3505 3288 4042 3340 3944 3350 3310 3357 3222 3308 4064 3274 4318 3370 3902 3332 3844 3368 4474 3291 4200 3304 3953 3349 3803 3349 4001 3313 4112 3328 3640 3273 4340 3369 3723 3345 3760 3360 3320 3321 3496 3264 4513 3284 3930 3335 4437 3268 3162 3287 3322 3368" fill="none" marker-start="url(#m95)" marker-mid="url(#m95)" marker-end="url(#m95)"/>
<path d="M3653 3377 3433 3432 3707 3414 3873 3387 3493 3410 4167 3374 3924 3422 3760 3402 3792 3461 3273 3403 3820 3428 3156 3440 4253 3397 4034 3410 3368 3429 3874 3407 4021 3450 3078 3460 3658 3467 4284 3429 3316 3387 4113 3430 4500 3403 4156 3425 4002 3415 3859 3467 4466 3379 4352 3374 3861 3446 3740 3379 3852 3461 3977 3419 4091 3383 4118 3427 3970 3452 4158 3405 3568 3443 3235 3433 4456 3437 3149 3404 4228 3380 4517 3399 4286 3463 3959 3437 4047 3462 3835 3396 3855 3416 3948 3445 3373 3444 3365 3379 4390 3462 4161 3449 3629 3417 4281 3464 3428 3409 3664 3389 3543 3409 4432 3390 4256 3454 4209 3448 4144 3386 3866 3449 3156 3416 4239 3427 4370 3385 4250 3439 4082 3466 4243 3415 3235 3383 3276 3435 3888 3398 4358 3374 3927 3412 3729 3421 4477 3388 3984 3421 4033 3413 3820 3438 4393 3433 3300 3437 3956 3450 4448 3387 3694 3460 3190 3432 3447 3463 3303 3390 3798 3396 3857 3450 3799 3440 3731 3467 3585 3463 3184 3456 3396 3444 4021 3398 4132 3378 4063 3397 3436 3415 3932 3403 3872 3385 4244 3462" fill="none" marker-start="url(#m96)" marker-mid="url(#m96)" marker-end="url(#m96)"/>
<path d="M4517 3504 3381 3495 3972 3498 4446 3483 3817 3509 3485 3482 3050 3501 3529 3505 4272 3486 3493 3499 3602 3491 3510 3487 3319 3491 4403 3498 4269 3478 3258 3494 4451 3501 3101 3505 3308 3475 4033 3501 3304 3477 3440 3495 3474 3506 4241 3494 4382 3499 3514 3499 4397 3489 3549 3499 4470 3484 4334 3500 4096 3492 3260 3476 3069 3487 3642 3486 4500 3508 3162 3490 3480 3484 3707 3493 3071 3476 3812 3476 4246 3505" fill="none" marker-start="url(#m97)" marker-mid="url(#m97)" marker-end="url(#m97)"/>
<path d="M3773 3568 3733 3522 3545 3796 3604 3565 3556 3799 4354 3570 3807 3793 4517 3531 3862 3530 4045 3563 4280 3801 4372 3791 3420 3557 4340 3528 4010 3796 3938 3800 4317 3800 3415 3524 3404 3557 4281 3530 4128 3562 4129 3530 3666 3558 4340 3797 3585 3522 3877 3796 4340 3511 3716 3798 4392 3571 3315 3796 3085 3563 3888 3552 4220 3517 4110 3791 3964 3523 3394 3571 3897 3523 3558 3792 4040 3797 3473 3795 4213 3553 4416 3521 3355 3523 3373 3799 4151 3516 3834 3529 3194 3799 3105 3792 4260 3558 3994 3569 3939 3566 3988 3560 4053 3567 4108 3527 4210 3796 3161 3524 4304 3794 4318 3799 4474 3797 4091 3528 4000 3518 4066 3562 3876 3515 3678 3530 3639 3529 3046 3551 3456 3522 4086 3513 3406 3525 3768 3564 3095 3569 4065 3571 3873 3800 3208 3569 4012 3553 3638 3512 4508 3795 4258 3555 3211 3793 4128 3554 4364 3518 3810 3795 3455 3531 3378 3528 4161 3522 4496 3517 3976 3562 3043 3555 3080 3795 3048 3553 4259 3794 3492 3563" fill="none" marker-start="url(#m98)" marker-mid="url(#m98)" marker-end="url(#m98)"/>
<path d="M4106 3536 3811 3536 3278 3537 4267 3534 3274 3531 3775 3548 3642 3541 3098 3544 3287 3534 3168 3534 3963 3535 3239 3548 3710 3544 4343 3541 3761 3549 3247 3547 4517 3538 4185 3549 3052 3543 3496 3532 3481 3536 3319 3550 3235 3551 3710 3544 3552 3533 4186 3541 4040 3531 4456 3532 3227 3545 4216 3550 4270 3531 3932 3534 3295 3549 3441 3551 4113 3543 4490 3538 4379 3541 3229 3534 3145 3539 4274 3532 4104 3540 4038 3534 3738 3538 4136 3542 3267 3538 4019 3542 4317 3547" fill="none" marker-start="url(#m66)" marker-mid="url(#m66)" marker-end="url(#m66)"/>
<path d="M3272 3676 3523 3663 3671 3745 4113 3731 3911 3728 3281 3730 3486 3727 3734 3721 3702 3677 3259 3743 3843 3668 3926 3730 3166 3733 4480 3725 3312 3659 4375 3653 3273 3652 4068 3741 3915 3712 3625 3680 4237 3714 4410 3722 3405 3663 3289 3718 3311 3658 3110 3741 3689 3749 3692 3719 4074 3652 3564 3747 4133 3721 3773 3685 3864 3657 4236 3749 3775 3720 4024 3739 3945 3671 4372 3670 3686 3732 3194 3719 3140 3681 4371 3724 3043 3675 3791 3669 3432 3723 4351 3655 3694 3721 3740 3733 3119 3739 3493 3690 3284 3737 4250 3729 4344 3745 3758 3662 4129 3721 3414 3673 4393 3733 3912 3658 3652 3747 4068 3674 4500 3653 3412 3713 4357 3673 3064 3657 4017 3712 3248 3652 4207 3729 4354 3730 4074 3722 3680 3726 4210 3659 4084 3684 4025 3676 4437 3721 3201 3735 4508 3718 4026 3673 4356 3671 3885 3673 4428 3651 3050 3737 3541 3735 3899 3662 4309 3751 4285 3675 3306 3665 4131 3740 3349 3745 3546 3680 4254 3689 4301 3736 3830 3664 4244 3728 3962 3736 4206 3675 3351 3712 3664 3661 3680 3653 4138 3688 3224 3661 3942 3736 4505 3720 3277 3730 3846 3723 3068 3666 3323 3682 4433 3745 3132 3738 3871 3671 4225 3686 3139 3668 3273 3667 4304 3678 4045 3670 3078 3680 3315 3717 3519 3651 4325 3680 3984 3727 4331 3686 3828 3730 3402 3739 4302 3665 3534 3737 4136 3681 4209 3663 3157 3686 3567 3656 4375 3742 4183 3745 4447 3746 3411 3735 3086 3742 3389 3747 4350 3749 4056 3651 3542 3741 3399 3711 4459 3741 3660 3733 3192 3719 3187 3686 3043 3669 3202 3742 3154 3665 3762 3677 4058 3746 3747 3688 4293 3678 3614 3664 3092 3664 3071 3723 3411 3712 3757 3662 3227 3714 3732 3718 3541 3670 3183 3736 3405 3688 3133 3656 4424 3742 3545 3661 3695 3655 4275 3664 3155 3674 4060 3689 4411 3719 3774 3651 3261 3660 4503 3739 4102 3687 3321 3739 3111 3748 3978 3663 4265 3729 3536 3746 3070 3657 3346 3651 4271 3748 4156 3666 4304 3718 4127 3732 3531 3740 4079 3667 3339 3737 4138 3713 4492 3672 3228 3677 4215 3745 3965 3730 3222 3660 3914 3723 4454 3662 3837 3726 3188 3656 3412 3662 4002 3740 4016 3749 3103 3684 4478 3655 4364 3724 3612 3738 4332 3736 3478 3713 3882 3715 3390 3690 4510 3666 4196 3685 3302 3711 3167 3721 3773 3716 4114 3684 3681 3717 3665 3683 4232 3684 4357 3738 3901 3666 3722 3652 3415 3666 4484 3653 3812 3743 4274 3679 3688 3716 4463 3667 3052 3730 3491 3663 3241 3731 3231 3713 3853 3687 3680 3747 3656 3660 4516 3735 3999 3732 3148 3672 3996 3720 3072 3720 3967 3683 3971 3656 4247 3717 3217 3680 3658 3729" fill="none" marker-start="url(#m99)" marker-mid="url(#m99)" marker-end="url(#m99)"/>
<path d="M4152 3757 4173 3705 4510 3697 3311 3703 4273 3768 4083 3777 3314 3778 4114 3781 3703 3788 3291 3708 3569 3695 3256 3756 4456 3774 3100 3784 4131 3708 3735 3695 4003 3694 3520 3777 4365 3700 4011 3759 3910 3702 3516 3764 4299 3707 3570 3699 4512 3752 3757 3765 3075 3708 3377 3705 3698 3709 4463 3780 3553 3771 3825 3789 3219 3768 3550 3751 3329 3760 3143 3754 4472 3776 4348 3757 3862 3758 3057 3704 4044 3789 3503 3752 4282 3711 4312 3764 4506 3781 3556 3780 3936 3753 4392 3702 3787 3770 4499 3776 4161 3701 3689 3783 3269 3772 4002 3700 4058 3764 3660 3694 3343 3766 4047 3783 3403 3780 3548 3755 3697 3771 3791 3782 3751 3761 3142 3762 3669 3703 4355 3778 3366 3788 3632 3704 3775 3700 3710 3710 3378 3758 3692 3767 3814 3709 3478 3771 3337 3777 3568 3706 3106 3762 4273 3776 3374 3777 4308 3752 3268 3770 4291 3703 3839 3755 3180 3790 4120 3693 3923 3752 3668 3693 4127 3753 3328 3760 3286 3703 3493 3759 3238 3778 3678 3783 3335 3780 4278 3708 3357 3783 3054 3709 3363 3769 3600 3703 3589 3700 3852 3702 3772 3779 3388 3791 3427 3784 4500 3785 3434 3757 3799 3757 3321 3779 4468 3762 3774 3702 3883 3777 3197 3772 3191 3758 3108 3770 3414 3762 4203 3705 4010 3785 3881 3761 4025 3753 3798 3699 4255 3780 3337 3788 3486 3768 4240 3710 4507 3761 3972 3706 4000 3709 4404 3773 3582 3775 3515 3768 4147 3756 3128 3765 4148 3785 3634 3771 3417 3753 4355 3757 3052 3761 4267 3784 3625 3765 3746 3707 4145 3766 3285 3757 4485 3783 3289 3760 3310 3751 4501 3754 4112 3700 4238 3790 3251 3698 3525 3791 3788 3707 4196 3695 3601 3703 3531 3775 3347 3711 4167 3789 3251 3752 3596 3700 3252 3704 3233 3706 4135 3699 3913 3783 3613 3761 3291 3698 3474 3761 4247 3703 3120 3696 4142 3710 4098 3765 3388 3781 4305 3700 4271 3702 4021 3763 3043 3706 3227 3700 3903 3695 3158 3789 4037 3754" fill="none" marker-start="url(#m100)" marker-mid="url(#m100)" marker-end="url(#m100)"/>
<path d="M3643 3649 3842 3647 3779 3649 4401 3635 3395 3638 4203 3646 4261 3635 3289 3632 3062 3635 3739 3639 3345 3634 3746 3649 3244 3635 3744 3647 4008 3633 3742 3636 4201 3645 4438 3650 4379 3634 4400 3639 3927 3648 3859 3631 3910 3646 4235 3633 4429 3646 3390 3636 3975 3640 4192 3650 3848 3631 4292 3648 3613 3645 4306 3650 3296 3634 3631 3631 4009 3642 3386 3648 4264 3645 4303 3648 3697 3638 4517 3647 3997 3646 3541 3646 3836 3643 4021 3646 3557 3642 3151 3646 3699 3648 3388 3635 3080 3641 3855 3636 3262 3651 3062 3648 4050 3646 3388 3640 4179 3637 3896 3634 4275 3634 3997 3643 3310 3637 3802 3640 3406 3635 3469 3645 4252 3644 4187 3646 3537 3647 3194 3646 4135 3637" fill="none" marker-start="url(#m101)" marker-mid="url(#m101)" marker-end="url(#m101)"/>
<path d="M4133 3611 4315 3606 3539 3620 3659 3622 4398 3621 3578 3589 3147 3603 3740 3617 3417 3620 3400 3624 3893 3607 3186 3626 4415 3613 3087 3608 4485 3613 4088 3609 3589 3621 3362 3591 3841 3618 4414 3623 4049 3635 3213 3627 3276 3606 3536 3619 4003 3630 3121 3618 3772 3605 4479 3611 4351 3610 3166 3621 3097 3605 4448 3625 3404 3605 3545 3601 3077 3630 4451 3604 4234 3606 3507 3612 3274 3603 4107 3633 3391 3599 3579 3585 3657 3599 3803 3613 3483 3625 4460 3607 4060 3608 4082 3599 3293 3623 3307 3613 3755 3621 4148 3621 3962 3631 3467 3623 3922 3618 3579 3607 3737 3603 4143 3617 3418 3596 3416 3615 4396 3611 3933 3608 3062 3606 3903 3599 3137 3623 3396 3598 4213 3611 3061 3613 3064 3619 3846 3629 3125 3604 3592 3600 3517 3626 3069 3602 4507 3621 3186 3608 3684 3606 4095 3628 3914 3598 3786 3612 4394 3599 3457 3621 3277 3606 4057 3607 3662 3618 3501 3611 3493 3606 4378 3613 3553 3625 3603 3606 3873 3625 3844 3609 3742 3623 3911 3607 3055 3619 3886 3617 3064 3598 3670 3613 3162 3621 4393 3620 3778 3611 3390 3611 3053 3615 4504 3615 3468 3617 3991 3630 3043 3613 3668 3612 3603 3605 3485 3614 4087 3620 3467 3616 3754 3625 3783 3606 3745 3616 4296 3613 3996 3611 4059 3613 4163 3616 3159 3628 3964 3602 4099 3612 3419 3613 3310 3622 4125 3602 3732 3612 3579 3611 3453 3630 3370 3624 3671 3622 3992 3639 3382 3612 3384 3605 3371 3602 3816 3621 4241 3611 3278 3613 3593 3608 3162 3615 3814 3605 4235 3636 3587 3604 4133 3624 3904 3625 3512 3618 3385 3616 3534 3605 3752 3640 4231 3616 3761 3613 3415 3608 3156 3603 4378 3617 3166 3614 4032 3601 3846 3610 3140 3601 3075 3621 4279 3614 4237 3621 3803 3616 3928 3614 3955 3613 4066 3607 3965 3620 3551 3613 3466 3621 4439 3628 4475 3626 3350 3632 3143 3604 4478 3617 3123 3613" fill="none" marker-start="url(#m67)" marker-mid="url(#m67)" marker-end="url(#m67)"/>
<path d="M3392 4712 4435 4731 4240 4741 3636 4731 3633 4688 3354 4700 4287 4704 3889 4702 3226 4742 3197 4734 3609 4727 3625 4735 3549 4701 4268 4742 3184 4709 3188 4735 4416 4728 3623 4715 3068 4708 4261 4702 4177 4720 3501 4734 3239 4735 4166 4742 3908 4722 4390 4692 4324 4738 4387 4709 3241 4723 3520 4743 3463 4700 3142 4696 3678 4699" fill="none" marker-start="url(#m37)" marker-mid="url(#m37)" marker-end="url(#m37)"/>
<path d="M3625 4440 3500 4404 3957 4438 4271 4384 3912 4383 3821 4380 4265 4418 3616 4458 4089 4457 3770 4433 3845 4423 3458 4434 4288 4396 3742 4419 3772 4405 4126 4471 3907 4390 4255 4477 3842 4462 3789 4457 3829 4421 3441 4433 4205 4439 3634 4453 4146 4392 3715 4471 4145 4402 3499 4396 3804 4385 3972 4403 4255 4437 3505 4430 3531 4464 3793 4438 4117 4404 3455 4468 3924 4399 3579 4452 3727 4468 3868 4410 4026 4394 3614 4421 3647 4449 3851 4416 3557 4398 4263 4391 3766 4422 3688 4469 3587 4458 4007 4462 4227 4391 3648 4447 4006 4394 3414 4395 4262 4432 3639 4393 3418 4460 3715 4406 3755 4383 3807 4411 3433 4391 3463 4474 3517 4413 3431 4457 3797 4404 3739 4462 3569 4384 3877 4456 3958 4430 3701 4394 3462 4416 4299 4467 3846 4478 4128 4468 4253 4379 4221 4452 3506 4440 3837 4432 4228 4445 3832 4406 4046 4468 3508 4401 3414 4394 3774 4441 4256 4468 3405 4403 3646 4463 3679 4423 3774 4453 3888 4436 4131 4469 3801 4444 4100 4445 3916 4459 3989 4462 3954 4399 4136 4401 4271 4444 3621 4386 3902 4440 3574 4385 3828 4441 3650 4394 3611 4397 3716 4459 3855 4397 4249 4400 3408 4436 3677 4419 4185 4402 4253 4440 4023 4390 3766 4394 3548 4446 3774 4427 3982 4464 3699 4418 4249 4464 3772 4393 4152 4384 4100 4394" fill="none" marker-start="url(#m102)" marker-mid="url(#m102)" marker-end="url(#m102)"/>
<path d="M4208 4686 3319 4570 4333 4614 3974 4603 3810 4677 4319 4619 3296 4687 3875 4654 3633 4629 4029 4652 3988 4576 3881 4658 4081 4621 4517 4620 3946 4670 4328 4627 3677 4673 3648 4645 3319 4660 4357 4664 3208 4610 3922 4656 4152 4616 3821 4597 4066 4606 3311 4607 3064 4686 3992 4604 3456 4610 3273 4631 3120 4669 3125 4583 3747 4684 4287 4595 3594 4662 3154 4603 3423 4583 3727 4678 4146 4625 4269 4619 4102 4605 3455 4658 4462 4672 4298 4579 3736 4599 3066 4686 3676 4581 4135 4626 3393 4637 3154 4613 3127 4609 3709 4650 3142 4695 3727 4656 4190 4651 4517 4630 4479 4664 3083 4590 3485 4679 4119 4697 3380 4594 3438 4622 4057 4609 4109 4658 3092 4629 4106 4586 3766 4578 3478 4609 4202 4646 3953 4635 3180 4604 4496 4661 3601 4682 4380 4646 3545 4653 3773 4611 4065 4660 3094 4619 3653 4618 4251 4596 4431 4688 3546 4576 3051 4585 3462 4606 3401 4583 3945 4629 3387 4577 3092 4692 4151 4618 4485 4571 4485 4609 3276 4690 3746 4666 4260 4647 3502 4662 3923 4652 4514 4654 3281 4601 4377 4629 3131 4689 3408 4579 3179 4638 3852 4620 4389 4632 3806 4677 3938 4698 3634 4623 4439 4660" fill="none" marker-start="url(#m73)" marker-mid="url(#m73)" marker-end="url(#m73)"/>
<path d="M3673 4538 3248 4537 4333 4583 3548 4533 3308 4541 3569 4554 4110 4540 3647 4524 3998 4570 3268 4537 3886 4538 3483 4533 3690 4550 3728 4533 3915 4546 3282 4533 3968 4514 3225 4523 4024 4539 4209 4558 3354 4533 3403 4526 3692 4536 3749 4530 3891 4528 3442 4497 3596 4542 3426 4541 3056 4490 3452 4523 3218 4529 3911 4520 3352 4478 3386 4538 3675 4535 4399 4534 4196 4579 3738 4523 4077 4534 3585 4550 3594 4537 3440 4528 3703 4549 4165 4527 3835 4563 3601 4532 3780 4542 3245 4490 3453 4535 3689 4530 3310 4540 3667 4542 3320 4487 4008 4541 4122 4523 4371 4560 4189 4521 3563 4521 3822 4563 4218 4510 3812 4524 3753 4549 3113 4503 3541 4520 3436 4500 3150 4536 3324 4534 3598 4546 3433 4472 3181 4503 4384 4562 3819 4529 3501 4537 3858 4532 4133 4511 3173 4499 3237 4529 3406 4488 3799 4530 3554 4544 4057 4531 4086 4567 3431 4492 3295 4524 4090 4570 3239 4502 4127 4551 3415 4494 4235 4575 3367 4535 3707 4527 3336 4527 4034 4536 3609 4523 3371 4545 3601 4549 3283 4541 3944 4565 3786 4533 3788 4556 4119 4522 3225 4510 4392 4582 4300 4578 3855 4548 3441 4487 3338 4526 4093 4517 3407 4481 3228 4529 3748 4543 3280 4498 3771 4560 3986 4565 3623 4532 3334 4486 3628 4557 3328 4532 3735 4528 3367 4501 3630 4537 4320 4564 3048 4488 3893 4523 3267 4527 3450 4521 3304 4523 4127 4521 3376 4528 3471 4530 4234 4516 4355 4562 3344 4543 4053 4575 3725 4544 4196 4520 3243 4537 3103 4519 3660 4537 3286 4481 3406 4479 3612 4525 3488 4547 4273 4567 4320 4576 3873 4533 3245 4471 4151 4525 3323 4532 3901 4534 3440 4503 4146 4579 3409 4521 4024 4523 3837 4560 3360 4530 3366 4477 4080 4513 4359 4583 3667 4555 3520 4527 3097 4476 3348 4487 3446 4495 3259 4535 3508 4549 3285 4526 3900 4516 3611 4549 3652 4544 3663 4553 3886 4538 4216 4575 4156 4548 4057 4518 3187 4494 3316 4492 3431 4522 3384 4492 3897 4540 3230 4501 3942 4568 3975 4516 3218 4526 3319 4538 3670 4542 3195 4479 3103 4476 3928 4567 3849 4540 3200 4530 4283 4514 4044 4547 3184 4481 3200 4533 3512 4545 4124 4523 3377 4534 3050 4498 3370 4535 3657 4544 4062 4571 4042 4558 3189 4503 4368 4532 3848 4562 3815 4519 3806 4556 3993 4543 4379 4538 3671 4553 3414 4465 4122 4565 3094 4478 3635 4526 3795 4543 4322 4520 3342 4487 3947 4555 3271 4483 3832 4552 4261 4581 3280 4541 3730 4550 3441 4524 3457 4549 3384 4531 3661 4521 4004 4546 3943 4535 4415 4562 3193 4470 4266 4566 4117 4549 3381 4500 3305 4489 3528 4540 3464 4540 3245 4492 3096 4455 3943 4542 4393 4517 3125 4496 3215 4536 3556 4543 3256 4539 4101 4547 3523 4529 3320 4541 3380 4483 3477 4520 3304 4534 4111 4568 3184 4504 3303 4481 3886 4524 3184 4484 4217 4562 3863 4515 4027 4571 3732 4533 3241 4528 3674 4539 3586 4532 4225 4539 3963 4551 3791 4521 3351 4530 3764 4536 3339 4496 3767 4546 3575 4547 3342 4544 4293 4540 3302 4475 4182 4578 4345 4511 3181 4460 4023 4558 3911 4537 3265 4511 4127 4525 3323 4489 3149 4483 3820 4526 3965 4515 4241 4582 4415 4517 3283 4537 4076 4573 4173 4568 3815 4565 3641 4529 3456 4531 3058 4464 3276 4528 4396 4574 4227 4565 3249 4517 3737 4562 3598 4538 3044 4476 3360 4533 4319 4563 3871 4567 3154 4486 3575 4548 4361 4515 3916 4536 4285 4517 3341 4463 3802 4518 3292 4524 3462 4532 4313 4533 4153 4557 4091 4511 3090 4516 3408 4532 4317 4552 4368 4572 3287 4541 3174 4521 4317 4532 4166 4535 3366 4521 3320 4531 3243 4530 4091 4568 3734 4542 3312 4532 3043 4480 3365 4465 3677 4518 3407 4528 3721 4542 3865 4533 3899 4550" fill="none" marker-start="url(#m77)" marker-mid="url(#m77)" marker-end="url(#m77)"/>
<path d="M3051 4473 4488 4482 3155 4485 4447 4477 4455 4474" fill="none" marker-start="url(#m78)" marker-mid="url(#m78)" marker-end="url(#m78)"/>
<path d="M4314 4331 3165 4355 3905 4112 3170 4361 3191 4206 3330 4149 3947 4274 3704 4427 4365 4312 3402 4226 3758 4379 3503 4350 4146 4123 4465 4263 4103 4181 4361 4064 3242 4206 4373 4406 4498 4372 3910 4214 3915 4162 4377 4322 4300 4303 3329 4253 4252 4304 3795 4246 4406 4282 4083 4219 4247 4388 3529 4400 3065 4371 3851 4057 4438 4193 4079 4156 4112 4033 3080 4204 3646 4387 4046 4277 4410 4285 3589 4438 3220 4330 3921 4129 3731 4245 4468 4427 4027 4376 3154 4295 3936 4286 3968 4345 4441 4167 3745 4091 3963 4221 3745 4352 4003 4420 3215 4416 4136 4106 4000 4264 4517 4419 4152 4179 3351 4142 3785 4280 4464 4027 3759 4215 4337 4317 4061 4341 3580 4389 3498 4158 3143 4170 3868 4384 3682 4273 4276 4080 4294 4101 3851 4236 3251 4232 4160 4272 3223 4432 4094 4298 3861 4208 4391 4217 3828 4099 3631 4029 4131 4376 3615 4330 4422 4208 4165 4416 4450 4031 3412 4434 3589 4313 4268 4109 3522 4431 4502 4278 3823 4253 4234 4199 4032 4267 4130 4085 3900 4335 4143 4231 3726 4319 3753 4155 4150 4133 3912 4315 3177 4427 4289 4230 3682 4358 4314 4088 3811 4299 3764 4365 4047 4357 3124 4053 3839 4099 4246 4378 3580 4050 3803 4431 4397 4082 4091 4432 3987 4436 4507 4336 3129 4230 4506 4421 4385 4388 4136 4397 4460 4431 3810 4343 4216 4248 4377 4207 4206 4197 3805 4092 3877 4176 4174 4156 3696 4057 3819 4370 4012 4237 3106 4192 3736 4340 3733 4330 4517 4167 4457 4273 3784 4233 4517 4064 3980 4256 4494 4381 3898 4313 4298 4111 3127 4206 3754 4322 4332 4355 3760 4215 3206 4075 4108 4398 4323 4420 3625 4372 3376 4149 3325 4032 3131 4286 3275 4352 3117 4309 3698 4240 3392 4340 3592 4167 3546 4410 3841 4416 4028 4287 3781 4256 3937 4160 4270 4047 3791 4036 4110 4147 3327 4308 4223 4242 3456 4184 3051 4260 4196 4254 3342 4134 3582 4089 4335 4275 3759 4362 4040 4384 4206 4215 3771 4178 4031 4248 4316 4266 3863 4151 4064 4108 4419 4353 3896 4303 4387 4046 3979 4414 3705 4106 3829 4261 4412 4289 4477 4366 4488 4239 4466 4326 4074 4225 3480 4149 4061 4223 4255 4085 3063 4245 4244 4241 4481 4049 4122 4419 4517 4423 3443 4333 3816 4389 3429 4286 3792 4329 3848 4288 4321 4415 4264 4176 4249 4246 3442 4356 3321 4317 4463 4415 4083 4335 4312 4438 4169 4205 3874 4084 3466 4436 3215 4357 4061 4435 3933 4354 3751 4030 4452 4375 3922 4306 4387 4312 3629 4048 3876 4109 4153 4435 4494 4311 3463 4301 3125 4305 3838 4230 3763 4370 4189 4146 3883 4363 3436 4208 4141 4427 4425 4369 4462 4214 4178 4403 4025 4055 4015 4267 4068 4377 3944 4355 3223 4390 4032 4046 4121 4423 3869 4021 3229 4242 3604 4379 4262 4135 3790 4325 3586 4350 4337 4381 3740 4346 4320 4307 3788 4297 3863 4292 3474 4178 4147 4241 4027 4401 4509 4168 4247 4174" fill="none" marker-start="url(#m103)" marker-mid="url(#m103)" marker-end="url(#m103)"/>
<path d="M3909 4331 3984 4319 4084 4361 4018 4330 4461 4321 4363 4366 3950 4320 4409 4418 4271 4343 4010 4327 4483 4342 4474 4301 4257 4426 3893 4417 4424 4453 4311 4338 3960 4371 4202 4374 4373 4380 3895 4353 4381 4358 4425 4366 4240 4342 3923 4364 4033 4331 4224 4365 4391 4311 4414 4403 4110 4455 3947 4311 4254 4339 4371 4360 4135 4370 3949 4448 4014 4348 4346 4417 4021 4425 4326 4363 4261 4441 3955 4373 4050 4443 4035 4313 4331 4385 4171 4417 4334 4406 4485 4443" fill="none" marker-start="url(#m104)" marker-mid="url(#m104)" marker-end="url(#m104)"/>
<path d="M3147 4543 3263 4554 3234 4551 3197 4584 3131 4536 3124 4594 3180 4552 3196 4582 3186 4565 3267 4560 3052 4558 3134 4529 3119 4550 3162 4546 3144 4575 3234 4583 3253 4575 3280 4592 3204 4567 3043 4558 3140 4576 3211 4590 3272 4594 3071 4550 3078 4565 3214 4552 3106 4545 3259 4583 3258 4537 3071 4553 3043 4563 3274 4532 3109 4590 3232 4538 3272 4595 3129 4579 3168 4535 3129 4592 3043 4569 3271 4574 3115 4557 3144 4535 3100 4590 3116 4553 3192 4557 3125 4531 3043 4573 3172 4537 3085 4533 3148 4583 3082 4584 3208 4556" fill="none" marker-start="url(#m105)" marker-mid="url(#m105)" marker-end="url(#m105)"/>
<path d="M3866 4682 4358 4679 3938 4616 4501 4637 3331 4602 3162 4659 3407 4687 3043 4587 4201 4629 4324 4613 3626 4610 4288 4686 3228 4615 4059 4582 3661 4654 3107 4583 3227 4594 3648 4635 4509 4617 4264 4661 3967 4665 4501 4626 3169 4643 3047 4593 3321 4641 3396 4584 3428 4593 4033 4672 3965 4638 4226 4581 3304 4610 3756 4664 3160 4621 4349 4663 3210 4639 3861 4614 3214 4653 4345 4614 4430 4661 4271 4662 3724 4608 3531 4619 3989 4653 3710 4632 3273 4669 3904 4668 3650 4584 4431 4676 3686 4635 4034 4669 3444 4684 4042 4649 3599 4663 3447 4626 3193 4604 4360 4673 3053 4630 3226 4659 3260 4667 4021 4657 3290 4677 3843 4637 3330 4661 4455 4599 3627 4662 4454 4625 3313 4681 3443 4675 3072 4621 3962 4641 4517 4673 3449 4633 3863 4670 3203 4656 4317 4672 3737 4630 3770 4631 4517 4639 4067 4628 3552 4605 4496 4652 3522 4679 4284 4681 3642 4612 3753 4592 4517 4671 4008 4581 4121 4609 3102 4676 3299 4659 3879 4620 4220 4643 3770 4610 3444 4661 3049 4661 3635 4580 3087 4592 4044 4662 3271 4687 4268 4583 4293 4680 4306 4618 3069 4652 4278 4629 3290 4681 4255 4629 3169 4603 3325 4598 3621 4688 4155 4656 3587 4679 3544 4601 3863 4594 3156 4606 4483 4651 4101 4624 3842 4618 3583 4629 4360 4662 4294 4595 4478 4680 3753 4601 3886 4617 4104 4682 3396 4595 3580 4602 3149 4608 4426 4646 3563 4609 3288 4642 3855 4584 3721 4642 3597 4674 4118 4604 3531 4639 3743 4585 3549 4603 4479 4621 4095 4635 3499 4624 3182 4599 3132 4671 3173 4615 3629 4605 4454 4649 3976 4645 4059 4647 4390 4615 3343 4620 3147 4681 3078 4621 3581 4683 4209 4581 3700 4685 3092 4606 4090 4619 3959 4627 4211 4598 4080 4670 3760 4664 4410 4611 4484 4687 4164 4625 3741 4628 4410 4674 4253 4598 4452 4648 3845 4594 3135 4604 3361 4630 4133 4621 3735 4666 3116 4638 3816 4674 4347 4636 3918 4674 3217 4666 4131 4613 4180 4622 3554 4683 4517 4638 4345 4594 3630 4583 3213 4681 3762 4588 3312 4648 3369 4638 4194 4631 3099 4594 4277 4606 3548 4641 3912 4634 4432 4634 3177 4684 3727 4585 3638 4636 4229 4613 3375 4634 3447 4681 3735 4679 3692 4656 3561 4652 3146 4670 4154 4639 4020 4682 4418 4654 3819 4595 4038 4579 3916 4583 4079 4683 3341 4666 3758 4617 4287 4681 4428 4672 3125 4672 4455 4615 3364 4596 4502 4579 4424 4669 3390 4595 4147 4616 3738 4687 3309 4644 3478 4641 3813 4636 3488 4608 3854 4660 3164 4609 3164 4655 4052 4663 3254 4593 3875 4630 3195 4631 4123 4646 4242 4606 4468 4594 3896 4595 4147 4599 4304 4673 4158 4651 3061 4629 3472 4684 3287 4578 3813 4602 3927 4642 3144 4602 4333 4642 3735 4681 4004 4579 4458 4661 3613 4591 3846 4636 3043 4603 3346 4652 4516 4650 3254 4688 4329 4633 4314 4610 3063 4597 4147 4628 3756 4662 3151 4583 3678 4589 4426 4583 3221 4677 4391 4589 3904 4584 3093 4671 3082 4662 3607 4627 3093 4585 3644 4605 3574 4591 4292 4666 3584 4688 3782 4618 3681 4649 3772 4619 3554 4594 4442 4666 3933 4674 4344 4677" fill="none" marker-start="url(#m106)" marker-mid="url(#m106)" marker-end="url(#m106)"/>
<path d="M3453 4503 4085 4496 3455 4488 4017 4505 3592 4500 4217 4504 4188 4495 3452 4499 4369 4475 3294 4515 3929 4501 3801 4491 3746 4498 3986 4502 3915 4509 4232 4486 3363 4514 4175 4500 3989 4492 3902 4497 3281 4516 3200 4529 3981 4484 3436 4512 3229 4522 3651 4508 4228 4499 3153 4520 3941 4493 3164 4519 3250 4501 3643 4506 3755 4503 4137 4487 3921 4494 3311 4508 3550 4498 4312 4498 3601 4500 4145 4491 3291 4499 3906 4495 3420 4497 3791 4511 3411 4511 3929 4495 3728 4502 3370 4500 4353 4475 3392 4521 3363 4509 3968 4500 3918 4497 3744 4505 4387 4492 3188 4513 3322 4498 3416 4494 3582 4493 3918 4491 3218 4531 4138 4487 3379 4505 3358 4494 3267 4512 3969 4499 3161 4508 4217 4491 3887 4510 4221 4495 3798 4491 4055 4503 4393 4495 3645 4492 3868 4491 3404 4495 3624 4503 3171 4511 4073 4491 3967 4492 3716 4497 3180 4509 3903 4489 3337 4498 3710 4494 3242 4492 3490 4502 4390 4499 4237 4489 4318 4492 3660 4490 4339 4502 4331 4494 3140 4520 4141 4477 3604 4499 3967 4499 3495 4495 3611 4506 3946 4496 3503 4498 4309 4483 4316 4481 4178 4489 3262 4508 3859 4489 3481 4514 3905 4499 3452 4503 4267 4486 4100 4490 3839 4500 3182 4509 3624 4499 3167 4509 4134 4492 3980 4502 4391 4495 3187 4511 3522 4500 3271 4505 4396 4486 4406 4505 3851 4501 3663 4502 3821 4507 3645 4500 3394 4483 4276 4475 4401 4486 3192 4510 4322 4492 3440 4512 3395 4503 3321 4506 3444 4498 4153 4503 4240 4485 3182 4509 4241 4487 3942 4493 3623 4495 4323 4481 4230 4484 3666 4492 4071 4491 3825 4495 3629 4485 3889 4500 4178 4493 3924 4507 3737 4499 3924 4482 4127 4501 3382 4503 4160 4487 3677 4508 4334 4502 3698 4501 3142 4514 3196 4508 3231 4492 4347 4483 4113 4498 3675 4486 3550 4509 3199 4506 3874 4496 4327 4488 3479 4511 3591 4505 3480 4484 4112 4483 4209 4486 3135 4512" fill="none" marker-start="url(#m107)" marker-mid="url(#m107)" marker-end="url(#m107)"/>
<path d="M3201 4735 3757 4739 4231 4728 4287 4723 3357 4698 3145 4717 3780 4697 3369 4742 4223 4731 3049 4732 4168 4701 4004 4722 4338 4716 3816 4709 3279 4731 3212 4724 3598 4706 4292 4724 3336 4721 4371 4725 4514 4705 4030 4740 3108 4688 3360 4713 3408 4743 3156 4723 3360 4735" fill="none" marker-start="url(#m37)" marker-mid="url(#m37)" marker-end="url(#m37)"/>
<path d="M3534 4384 4119 4425 4009 4459 3683 4435 3895 4402 3711 4444 4162 4443 3900 4420 3684 4396 3761 4477 3490 4392 3844 4422 4126 4448 3898 4443 4016 4419 3453 4426 3844 4440 3792 4405 3440 4417 3907 4423 3651 4418 4205 4436 3921 4424 4183 4387 3850 4448 3789 4464 3446 4408 4226 4435 3888 4452 3959 4393 3510 4424 3617 4463 3468 4407 4095 4432 3430 4450 3589 4438 4234 4402 3707 4395 3861 4402 4236 4402 3960 4477 3450 4387 3488 4438 4005 4393 4292 4466 3446 4418 3919 4381 4150 4383 4018 4408 3767 4430 3863 4416 3667 4466 3470 4445 3877 4423 3461 4399 4283 4426 4193 4394 4160 4446 3624 4387 4018 4456 4293 4462 3727 4381 3822 4391 3515 4413 3766 4388 3663 4390 3946 4454 4105 4451 4248 4385 3976 4397 3419 4475 3491 4458 3996 4403 3729 4395 3554 4444 3686 4390 3442 4443 3491 4466 4143 4414 3839 4394 3441 4474 3489 4457 3824 4439 3833 4430 3620 4402 4224 4475 3706 4402 3447 4397 3960 4393 3804 4408 4039 4473 3714 4429 3460 4437 3910 4402 3765 4386 3898 4460 4139 4461 4091 4379 3855 4404 4080 4430 3494 4473 4151 4406 3517 4406 3532 4436 3659 4434 4179 4475 3791 4394 4258 4455 3939 4385 4293 4451" fill="none" marker-start="url(#m102)" marker-mid="url(#m102)" marker-end="url(#m102)"/>
<path d="M4042 4632 4231 4584 3363 4625 3238 4576 3190 4676 3358 4599 3045 4643 4440 4670 4406 4598 4501 4679 4363 4611 3478 4609 3765 4612 4506 4639 4210 4618 3282 4606 3624 4614 3803 4673 4517 4592 3393 4681 3287 4652 3183 4583 4475 4593 3472 4689 3164 4589 4474 4674 3831 4605 4127 4685 3684 4653 3373 4683 3856 4613 3292 4576 3729 4570 3768 4673 3715 4680 3136 4676 4269 4625 3959 4604 3326 4621 3220 4683 3365 4660 4409 4639 3839 4645 3729 4666 4350 4627 4263 4578 3126 4632 4355 4678 4101 4632 3439 4585 3556 4684 3159 4641 3204 4594 3969 4672 3892 4609 3813 4602 4200 4583 3390 4685 3308 4582 4210 4670 3274 4622 4507 4582 3198 4592 3991 4592 3060 4670 3806 4664 4267 4666 3605 4683 4132 4597 3877 4610 3110 4663 4162 4695 3312 4645 3154 4583 3812 4572 3629 4604 4370 4636 4172 4618 3425 4579 4088 4674 3057 4640 4400 4630 3200 4637 4250 4685 3997 4651 3556 4573 4030 4623 3072 4656 4104 4690 3148 4593 3389 4688 4445 4578 4500 4655 3155 4642 3095 4589 4010 4597 3090 4680" fill="none" marker-start="url(#m73)" marker-mid="url(#m73)" marker-end="url(#m73)"/>
<path d="M3558 4545 4252 4514 3509 4548 3324 4496 3159 4488 3732 4557 3385 4524 3322 4525 4285 4564 3150 4520 4297 4561 3395 4506 3200 4473 3278 4477 3314 4524 4143 4550 3951 4514 4125 4532 4333 4586 3710 4534 3654 4517 3640 4525 4036 4569 3357 4468 3855 4542 3749 4558 3342 4502 3183 4511 4303 4587 3415 4525 4042 4576 3528 4533 4156 4520 3450 4538 3072 4492 3147 4502 3140 4502 3900 4527 3218 4472 3287 4472 4089 4569 3236 4525 3302 4511 4316 4514 3355 4502 3243 4524 4069 4546 3855 4559 3307 4448 3313 4498 3378 4531 4340 4509 3267 4529 3301 4472 3455 4536 4412 4534 4053 4552 3513 4523 4130 4547 3125 4505 3419 4468 3238 4476 3208 4529 3422 4543 3464 4541 3324 4495 3201 4530 4115 4566 3600 4538 3303 4526 3148 4491 3989 4533 3545 4540 3153 4501 3418 4540 3052 4488 4107 4515 4195 4543 3837 4557 3545 4552 3916 4526 3908 4551 3989 4550 4018 4513 3163 4515 4349 4531 3516 4545 3878 4521 4365 4544 3822 4539 3243 4487 4107 4558 3986 4570 3461 4525 3216 4479 4238 4518 3904 4534 4150 4512 3442 4488 4031 4546 3381 4480 3342 4522 3268 4523 3422 4531 3927 4556 3331 4475 3450 4527 3116 4485 3821 4547 3872 4564 3420 4538 3743 4537 3311 4494 3265 4486 3330 4534 3650 4523 3144 4485 3275 4494 3519 4540 3379 4533 3317 4533 3611 4534 3474 4525 3486 4528 4222 4550 4164 4547 3202 4488 3641 4541 3816 4549 3381 4534 3689 4538 3389 4458 3921 4551 4136 4518 4049 4521 3744 4527 4262 4524 4184 4563 3438 4496 4094 4546 3614 4534 3204 4537 4042 4521 3291 4535 3270 4526 3143 4474 3254 4532 4225 4541 3401 4476 4113 4531 3420 4523 4341 4528 4048 4540 3385 4497 3436 4525 3238 4526 4196 4541 3779 4526 3272 4499 3692 4542 3185 4510 3456 4536 4140 4566 3925 4560 3318 4512 3866 4538 3858 4541 3578 4517 3505 4521 3197 4535 4390 4507 3848 4524 4228 4563 3510 4529 3954 4566 3230 4474 3622 4526 3267 4526 3843 4543 4014 4539 3871 4550 3287 4465 3986 4526 3651 4542 3319 4486 3118 4497 3831 4520 3528 4521 3062 4487 3566 4554 3798 4521 4394 4523 4262 4562 4326 4584 4208 4509 3765 4522 3464 4532 3381 4520 3417 4512 4302 4545 3645 4551 3510 4528 3428 4527 3611 4517 3995 4533 3361 4482 4144 4578 3772 4549 3915 4513 3545 4543 3414 4492 4155 4524 4024 4522 4295 4576 4222 4543 3992 4563 3644 4526 3315 4480 4264 4572 3265 4517 3229 4496 4026 4513 3315 4478 4349 4512 3361 4534 3217 4523 3244 4534 4222 4545 4015 4560 4067 4547 3258 4534 3300 4473 3904 4545 3439 4539 4337 4533 3579 4522 3358 4485 3371 4464 3425 4521 3648 4525 3827 4514 3095 4480 3782 4554 3624 4536 3227 4483 3353 4477 3438 4482 3390 4504 3352 4541 3243 4472 3820 4523 4106 4565 3658 4526 3376 4494 3676 4556 3340 4543 3908 4569 3771 4518 3632 4518 4099 4565 3043 4497 3199 4534 3491 4550 3563 4543 4073 4520 4381 4532 3253 4474 3322 4483 4284 4530 3434 4489 3993 4552 3545 4552 4033 4519 3951 4569 3251 4462 3166 4480 3905 4544 3181 4494 3586 4521 3380 4489 3902 4543 3060 4452 3252 4473 3611 4532 3444 4546 3675 4517 3284 4506 4286 4584 4165 4556 3371 4524 3852 4550 3758 4523 4358 4587 3503 4531 3183 4499 3833 4544 4031 4526" fill="none" marker-start="url(#m77)" marker-mid="url(#m77)" marker-end="url(#m77)"/>
<path d="M3173 4483 3142 4478 3090 4490 4469 4474 3043 4486 3069 4481 3050 4479" fill="none" marker-start="url(#m78)" marker-mid="url(#m78)" marker-end="url(#m78)"/>
<path d="M3134 4424 4012 4199 3991 4398 4003 4336 4354 4278 4073 4021 4046 4106 3063 4041 4188 4228 3062 4159 3711 4074 4219 4119 3994 4335 4315 4213 3120 4211 3273 4324 3467 4115 3168 4350 4134 4117 4174 4097 4488 4358 4468 4346 3908 4276 4374 4078 3596 4430 4089 4117 3167 4096 3652 4356 3827 4235 3525 4338 3535 4330 4232 4384 3922 4043 3236 4431 4272 4349 4447 4318 4050 4196 3215 4210 3208 4257 3850 4372 4211 4413 3345 4390 4450 4216 3826 4314 3410 4424 3925 4114 3287 4037 4324 4187 3710 4427 3781 4272 3662 4171 4263 4287 3489 4054 3048 4135 3088 4406 4001 4263 4507 4246 3879 4427 3505 4424 3861 4405 3738 4370 3064 4390 4031 4343 3632 4416 3344 4263 3557 4330 3965 4347 4002 4411 3795 4244 3579 4402 3460 4396 3779 4136 3289 4381 4111 4224 4043 4426 4354 4238 3665 4122 4501 4350 3624 4123 4403 4289 4426 4315 3145 4032 3852 4324 3818 4150 4162 4206 4021 4234 4469 4229 3826 4067 3626 4343 4492 4240 3929 4253 4345 4313 4409 4059 3599 4405 4267 4195 4501 4429 4055 4279 3937 4305 3232 4380 3989 4138 4006 4327 3751 4212 3602 4358 3086 4245 3668 4376 3956 4080 3512 4132 4153 4107 4423 4405 3750 4387 3182 4346 3694 4214 4248 4272 4140 4299 3223 4329 3954 4398 3483 4198 3908 4382 4236 4306 4018 4162 3748 4205 4126 4316 3570 4150 4181 4371 3631 4405 3436 4241 3907 4292 3992 4364 3111 4381 4274 4088 4112 4252 4321 4149 4405 4341 4405 4430 3187 4293 3527 4393 4447 4084 4123 4206 3455 4171 4286 4370 4274 4213 3639 4285 3584 4388 4434 4362 3133 4334 4253 4265 3293 4138 4338 4406 3967 4406 4042 4161 3385 4339 3876 4225 3933 4235 4019 4237 3829 4193 3579 4092 3635 4131 4223 4153 4006 4368 4134 4357 4440 4283 3450 4054 3877 4331 3529 4401 3878 4213 3622 4263 3865 4284 3901 4427 3771 4370 4503 4407 3798 4278 3131 4294 4056 4362 3544 4182 4507 4384 3854 4246 3829 4230 4493 4404 4341 4436 3542 4026 4262 4326 4488 4045 3638 4158 3503 4090 3530 4182 4350 4409 4042 4182 3772 4176 4304 4417 4357 4070 3968 4219 4190 4340 3878 4383 4329 4431 4329 4052 4466 4395 3981 4044 4517 4331 3172 4385 3785 4391 4006 4215 4089 4225 4324 4041 4477 4356 4394 4367 4231 4112 4474 4262 3921 4400 3676 4053 3735 4191 3292 4357 4072 4051 3915 4318 3120 4359 3775 4399 3808 4410 4291 4387 4291 4223 3778 4237 4088 4210 3895 4374 4272 4124 4001 4252 3227 4294 3947 4338 4396 4417 3922 4317 4489 4098 4026 4352 4152 4257 3737 4381 4429 4299 4490 4075 4216 4298 3968 4054 3108 4243" fill="none" marker-start="url(#m103)" marker-mid="url(#m103)" marker-end="url(#m103)"/>
<path d="M4501 4402 4389 4414 4424 4328 4385 4367 4371 4364 4205 4401 4438 4315 3964 4320 4199 4418 4377 4313 4133 4324 3924 4410 4014 4302 4246 4437 4152 4311 4035 4374 4262 4353 4431 4307 4424 4401 4113 4406 4400 4445 4354 4380 3982 4387 4189 4340 4432 4361 4029 4364 4126 4416 4361 4368 4245 4307 3902 4358 4099 4330 4160 4333 4394 4447 4121 4410 4371 4356 4302 4323 4377 4299 4299 4423 3919 4442 4489 4411 4357 4366 4389 4425 4378 4316 4235 4365 4361 4370 4077 4312 4208 4364 4222 4417 4132 4315 4279 4437" fill="none" marker-start="url(#m104)" marker-mid="url(#m104)" marker-end="url(#m104)"/>
<path d="M3273 4533 3129 4529 3064 4559 3254 4564 3172 4537 3109 4549 3064 4591 3285 4546 3086 4574 3222 4565 3043 4569 3069 4595 3136 4590 3189 4568 3236 4570 3214 4547 3139 4574 3261 4564 3067 4560 3046 4575 3145 4573 3222 4561 3192 4585 3165 4557 3238 4559 3121 4587 3103 4578 3139 4544 3043 4591 3184 4575 3134 4571 3174 4597 3193 4558 3142 4587 3137 4578 3239 4586 3225 4552 3198 4579 3200 4593 3148 4571 3169 4564 3133 4568 3135 4533 3265 4535 3045 4553 3097 4581 3083 4544 3198 4553 3079 4559" fill="none" marker-start="url(#m105)" marker-mid="url(#m105)" marker-end="url(#m105)"/>
<path d="M4076 4638 4301 4643 3316 4622 3071 4598 3051 4654 3052 4674 3786 4650 3553 4604 4052 4586 3290 4665 3097 4639 3719 4602 4190 4680 4337 4674 3668 4589 3573 4679 3243 4627 3235 4617 4296 4622 3208 4595 3489 4675 3556 4638 4248 4652 3698 4654 4332 4592 3564 4632 3272 4646 4280 4637 3938 4578 3643 4672 4218 4609 3310 4598 3115 4625 3398 4673 3913 4598 3341 4583 4262 4582 3154 4628 4438 4579 3999 4614 3209 4664 3180 4596 3191 4676 3984 4661 3527 4627 3678 4638 4511 4613 3647 4624 3911 4668 3386 4634 3665 4644 4012 4588 3603 4627 3640 4634 4175 4665 3048 4640 4161 4682 3427 4617 3887 4657 3238 4612 3945 4592 3784 4609 3348 4678 3367 4667 3157 4594 4226 4682 4138 4623 3196 4671 3101 4605 3148 4678 3860 4593 4405 4613 4333 4593 3536 4682 4098 4665 3146 4668 3867 4605 4035 4656 3364 4675 3628 4666 3653 4662 4214 4674 3834 4654 3365 4585 3352 4585 4178 4648 3916 4678 4145 4656 3699 4619 4517 4632 4106 4663 3656 4619 4053 4678 3669 4623 3199 4598 3426 4635 4019 4655 3226 4603 3946 4658 3089 4622 3293 4631 4309 4579 3727 4669 3574 4651 3075 4579 3572 4673 3466 4656 3478 4604 4507 4671 4039 4644 4293 4588 3380 4659 3771 4651 3244 4631 3389 4637 4431 4670 3052 4633 4484 4627 3778 4650 4160 4621 3773 4582 3150 4589 3259 4586 3792 4644 3512 4662 3231 4601 3740 4680 4404 4684 3643 4579 3141 4623 4511 4650 3516 4632 4385 4583 4003 4674 3058 4660 3210 4583 3456 4589 3448 4581 3599 4633 3798 4659 3522 4587 3533 4671 3505 4673 3711 4622 3800 4656 3800 4686 4421 4661 4018 4657 4051 4599 3955 4630 3166 4581 4390 4681 3454 4593 3921 4602 3624 4642 3982 4668 3165 4662 4364 4622 4110 4661 4316 4590 3469 4668 3058 4681 3521 4617 4457 4597 3747 4643 4198 4687 4372 4586 4318 4641 4094 4670 3745 4626 4168 4615 3488 4578 4342 4644 3676 4617 3196 4610 3052 4654 3154 4615 4252 4598 3452 4623 3669 4649 3263 4672 3942 4668 3690 4628 3986 4640 3123 4624 3258 4617 3729 4659 4031 4649 3060 4617 4475 4683 3381 4664 4294 4597 3158 4667 3059 4687 3443 4582 4059 4664 3799 4611 4426 4633 4217 4664 3578 4590 4440 4654 3167 4666 4077 4676 3704 4599 3463 4595 3111 4595 3632 4674 4425 4637 3344 4607 3865 4647 3446 4589 4316 4579 3503 4671 3432 4600 3444 4621 4456 4603 3111 4593 3849 4579 3906 4597 3998 4674 3331 4618 4227 4653 3882 4642 3951 4599 3808 4669 4431 4612 3420 4627 3841 4611 3540 4587 4345 4679 3975 4625 4143 4637 4369 4655 3128 4663 3761 4669 3756 4642 3566 4612 3730 4671 3463 4598 4264 4616 4308 4661 3940 4624 3646 4640 3355 4664 4338 4672 3954 4681 4095 4684 3053 4660 3923 4627 4462 4644 4251 4687 3589 4686 3712 4683 3364 4594 3500 4604 3703 4627 4497 4619 3124 4642 4242 4647 3306 4652 3415 4641 3669 4620 4098 4683 4031 4657 4133 4612 3815 4653 4136 4589 3473 4600 4361 4632 3813 4592 3186 4651 3339 4658 3957 4594 3914 4616 3356 4618 3674 4610 3191 4586 3967 4659 3697 4680 3715 4594 3911 4625 3680 4652 3504 4675 3645 4686" fill="none" marker-start="url(#m106)" marker-mid="url(#m106)" marker-end="url(#m106)"/>
<path d="M4331 4485 3476 4513 4291 4482 3979 4492 3461 4507 4306 4505 3257 4522 3703 4498 3800 4513 3725 4497 3785 4508 3430 4515 4344 4471 3387 4513 3280 4510 3857 4487 4299 4504 3835 4501 3190 4523 3427 4501 4067 4490 3791 4510 4354 4475 3610 4497 3808 4498 3534 4510 3258 4510 4313 4490 4223 4482 3861 4503 4188 4497 4173 4494 3683 4509 3769 4499 3594 4504 4218 4502 3923 4486 4254 4486 4067 4494 4049 4499 3492 4511 3427 4514 3229 4518 3786 4494 4329 4484 3920 4502 3994 4499 3463 4494 3428 4504 3529 4508 3806 4509 3333 4509 3599 4501 4234 4489 3187 4506 3229 4515 4112 4503 3721 4504 4076 4484 3485 4521 4280 4499 3373 4499 3229 4508 4057 4503 3691 4516 3723 4489 3859 4488 3147 4507 4125 4495 3412 4510 3629 4506 3856 4492 4001 4489 4307 4502 4151 4493 3659 4487 4321 4484 4061 4501 4340 4487 3542 4485 3891 4495 3170 4501 3638 4505 3423 4503 4304 4495 4223 4499 4247 4481 3456 4505 4050 4489 3358 4495 3262 4504 4175 4493 3534 4502 3258 4519 3986 4484 3802 4488 3582 4495 4311 4478 4398 4499 4076 4503 3440 4523 4172 4499 3917 4491 3955 4497 3402 4503 3307 4507 3826 4505 4115 4485 4265 4485 3924 4493 3302 4505 3836 4503 3205 4528 4055 4506 3466 4499 3437 4506 3964 4489 4122 4495 3780 4495 3259 4497 4263 4486 3381 4508 3138 4516 4341 4501 3803 4505 3725 4487 3189 4519 4212 4500 3858 4491 4237 4472 3779 4502 3439 4505 4305 4485 3831 4507 4077 4504 3960 4483 3216 4506 3800 4501 3915 4499 3309 4501 4303 4494 4360 4491 4407 4490 3154 4511 3602 4502 3572 4522 3570 4509 3890 4507 4278 4477 3471 4517 3750 4501 3184 4504 3166 4505 3234 4514 3603 4500 3822 4508 4045 4492 4085 4483 4043 4494 3833 4484 4179 4484 3519 4497 3214 4508 3264 4508 4138 4490 4353 4486 4044 4490 3543 4503 3229 4502 3312 4503 3957 4492 3954 4487 3844 4490 3343 4504 4306 4478 4246 4476 4213 4496 4252 4496 4162 4510 4308 4501 4180 4484 4060 4484" fill="none" marker-start="url(#m107)" marker-mid="url(#m107)" marker-end="url(#m107)"/>
<path d="M3502 4732 3495 4735 4337 4716 3758 4688 3340 4740 3100 4712 3183 4699 3431 4703 4128 4728 4032 4694 3753 4702 3511 4701 4383 4724 4469 4735 3302 4723 3162 4734 3402 4691 4264 4711 3166 4701 4221 4713 3683 4708 3775 4700 4107 4715 4162 4716 3237 4703 4078 4728 3272 4701 4376 4741 3603 4715 3597 4698" fill="none" marker-start="url(#m37)" marker-mid="url(#m37)" marker-end="url(#m37)"/>
<path d="M3820 4469 3898 4390 3795 4403 3741 4379 4086 4404 4291 4443 3692 4450 3603 4389 3956 4460 3602 4476 3486 4388 3870 4440 3924 4383 3542 4445 4002 4385 3513 4412 3760 4403 3757 4388 3592 4447 3695 4427 3615 4458 3993 4466 4155 4461 4179 4445 4074 4430 3901 4384 3900 4385 4000 4378 4198 4447 3529 4450 4064 4395 3830 4455 4217 4425 3580 4410 3884 4446 3610 4461 3934 4464 4114 4437 4216 4439 3590 4422 3429 4434 3699 4477 3892 4409 3895 4437 4124 4443 3746 4472 4058 4475 3901 4413 3493 4440 4207 4475 3902 4442 4144 4427 3504 4384 3772 4449 3965 4410 3508 4454 3715 4453 4099 4431 3893 4379 3952 4460 4188 4405 3498 4430 3638 4457 3986 4379 3913 4395 3729 4451 4052 4416 3726 4446 3406 4402 3491 4446 3559 4410 3773 4465 3688 4471 3588 4474 4087 4426 3452 4404 4069 4388 4232 4472 4131 4391 3895 4465 3701 4383 4291 4394 4001 4472 4153 4397 4205 4462 3790 4384 4112 4437 4202 4426 3971 4395 4203 4397 4043 4389 4241 4443 4226 4442 4059 4423 3741 4462 4276 4410 4050 4467 4023 4419 4142 4397 4296 4451 3606 4449 3667 4404 3747 4448 3974 4442 4303 4399 3891 4453 3470 4390 3788 4467 3711 4411 4135 4430 3487 4383 4044 4383 3543 4385 3848 4378 3919 4462 3938 4378 3872 4456 3560 4419 3428 4463" fill="none" marker-start="url(#m102)" marker-mid="url(#m102)" marker-end="url(#m102)"/>
<path d="M3961 4671 4113 4653 4434 4651 3206 4596 4208 4648 3377 4659 4485 4697 3896 4690 3982 4611 4351 4608 3744 4615 3616 4570 4469 4672 3628 4628 4419 4665 4511 4583 3421 4690 4423 4623 4165 4659 3700 4592 3704 4597 3720 4658 4335 4612 4009 4644 3795 4590 4004 4645 3234 4658 4211 4690 3226 4624 3183 4641 4131 4645 4502 4593 3118 4637 3180 4630 3352 4633 4011 4607 3847 4649 4110 4689 4271 4638 3622 4689 4415 4585 3245 4684 3308 4600 3632 4676 3067 4637 3374 4576 3518 4602 3305 4594 3336 4646 4179 4666 3775 4667 3545 4569 4506 4618 4377 4597 3899 4662 4111 4592 3381 4636 3978 4615 4165 4594 3072 4589 4260 4669 3646 4614 3493 4603 3921 4585 4006 4671 4112 4658 3783 4606 3578 4590 3643 4645 3536 4578 4459 4615 3985 4620 4429 4613 3499 4678 3767 4652 4377 4660 4240 4655 4370 4673 3504 4638 4026 4619 3439 4578 3514 4596 3968 4579 3973 4608 3761 4645 4041 4579 3450 4682 3409 4656 4019 4642 3784 4593 4162 4577 4134 4692 3595 4589 3476 4651 3332 4635" fill="none" marker-start="url(#m73)" marker-mid="url(#m73)" marker-end="url(#m73)"/>
<path d="M3921 4558 3108 4481 4220 4563 3131 4509 3382 4534 3204 4477 3664 4545 3670 4518 3233 4530 3203 4533 3450 4485 3983 4535 3680 4522 3213 4526 3413 4543 4202 4562 3456 4523 3414 4493 3101 4528 3627 4518 3537 4551 3107 4474 3343 4540 3771 4517 3411 4545 3455 4513 3281 4490 3973 4548 3321 4534 3896 4525 3502 4525 3235 4476 4149 4531 4174 4551 4214 4550 3419 4490 3370 4492 3373 4492 3592 4534 3816 4524 4381 4575 4007 4570 4135 4514 4056 4538 3816 4563 3433 4541 3395 4489 3580 4541 3670 4527 4101 4566 3290 4540 3993 4534 3926 4513 3423 4500 3245 4523 3745 4531 3742 4561 3402 4531 3667 4533 3339 4501 3859 4516 3620 4523 3950 4524 3897 4530 4332 4541 3980 4572 4159 4580 4248 4536 3828 4525 3806 4521 3865 4537 3604 4517 3624 4548 3408 4533 3758 4520 3167 4491 3388 4524 3584 4533 3868 4549 4276 4585 3714 4522 3312 4539 3918 4530 3478 4524 4398 4555 3381 4533 3208 4495 4305 4554 3233 4534 4301 4547 3420 4526 3394 4533 3732 4533 3491 4533 3539 4534 3153 4485 3940 4555 3637 4523 3449 4526 3591 4533 3400 4535 3459 4539 4334 4545 3644 4537 4250 4539 3867 4556 4041 4534 4322 4572 3342 4526 3336 4525 3051 4484 3485 4550 3230 4534 3279 4484 4082 4560 3607 4528 4359 4525 4098 4568 4256 4537 3365 4529 3393 4526 3405 4487 3417 4525 4077 4577 3106 4485 3327 4525 3887 4533 3401 4524 3910 4552 3432 4532 4074 4562 3953 4543 3215 4462 3539 4541 3542 4544 3337 4540 3183 4489 3118 4491 3130 4495 3991 4516 3062 4514 4243 4529 4148 4570 3165 4486 3203 4481 4066 4557 4172 4544 3043 4488 3379 4523 3733 4534 3306 4490 3313 4504 3728 4535 4138 4518 4282 4507 3298 4524 4029 4538 3310 4489 3043 4490 3934 4527 3224 4503 4061 4555 3378 4534 4318 4507 3540 4544 3795 4560 4146 4570 3312 4523 3200 4500 3394 4531 3386 4527 3526 4536 3236 4535 3431 4544 4234 4517 3347 4495 3909 4563 3902 4561 4312 4555 3314 4504 3583 4531 4041 4521 3271 4471 3998 4550 3807 4553 4203 4582 3735 4532 3369 4488 3588 4549 3043 4489 3151 4493 3334 4544 3286 4524 4299 4575 3299 4502 4267 4510 4052 4543 3230 4538 3411 4489 3446 4512 4260 4515 3227 4528 4181 4544 3517 4541 3513 4523 4081 4545 3204 4516 3836 4543 3256 4529 4284 4565 3901 4567 3887 4528 4108 4521 3519 4542 3769 4518 3212 4526 3752 4546 3159 4500 4255 4577 4082 4535 3913 4539 4154 4558 4135 4512 3569 4519 3827 4560 4341 4566 4294 4524 3933 4557 3202 4531 3229 4490 3362 4488 3197 4508 3511 4527 3464 4533 3790 4533 3225 4539 3078 4507 4131 4549 3317 4512 3737 4552 4322 4535 3313 4522 3985 4570 4293 4564 3437 4477 3788 4519 3158 4496 3162 4489 3320 4463 3475 4521 3567 4532 3467 4520 4239 4541 3678 4538 3765 4533 4058 4546 3313 4532 3348 4524 4055 4565 3797 4553 3514 4542 3242 4489 3124 4485 4294 4511 3927 4538 4205 4537 3926 4552 4235 4511 4051 4556 4177 4581 3566 4519 4383 4536 3465 4522 3345 4474 3344 4536 3787 4562 3725 4537 4095 4554 4055 4521 4090 4535 3465 4549 4079 4523 3466 4532 3647 4534 3732 4542 3845 4560 4259 4527 3972 4562 3200 4537 4197 4527 4206 4565 4211 4556 3318 4543 4109 4511 4199 4553 3587 4544 3443 4547 3527 4550 3715 4521 3641 4538 4228 4566 3697 4526 3140 4503 3825 4540 3310 4534 4149 4518 3413 4499 3214 4492 3384 4521 3064 4483 3206 4529 3365 4522 4387 4567 4118 4576 4376 4557 4151 4552 3228 4534 3412 4486 4034 4549 4101 4553 3542 4532 4331 4565 4158 4524 3151 4491 3271 4531 3104 4508 3287 4506 3369 4546 3537 4548 3447 4473 4229 4538 3655 4544 3254 4526 3331 4486 3822 4563" fill="none" marker-start="url(#m77)" marker-mid="url(#m77)" marker-end="url(#m77)"/>
<path d="M4516 4491 4443 4482 4453 4493 3103 4476 4477 4496 3091 4495" fill="none" marker-start="url(#m78)" marker-mid="url(#m78)" marker-end="url(#m78)"/>
<path d="M3754 4267 3350 4224 4517 4028 4322 4341 4058 4318 3422 4393 3883 4335 4093 4421 3841 4337 3329 4385 4487 4151 3339 4078 3126 4298 4230 4053 3376 4275 4517 4161 3885 4365 3977 4291 4180 4275 3836 4335 4304 4316 3783 4057 4093 4083 4106 4352 3648 4213 4254 4414 3482 4245 4083 4412 4050 4329 3714 4334 4517 4437 4120 4292 4450 4332 3476 4411 4043 4258 4106 4070 3126 4270 3323 4378 4026 4408 4329 4355 3953 4382 4312 4297 3871 4368 4037 4315 3781 4243 3878 4370 3947 4344 3707 4216 4025 4216 4015 4236 4098 4374 4407 4190 3943 4237 3209 4064 4245 4088 3396 4071 4289 4104 4018 4075 4005 4276 3654 4342 4282 4072 3777 4169 4437 4242 3729 4263 4021 4343 3878 4179 4250 4375 3989 4169 3763 4364 4475 4304 4336 4207 3748 4338 4426 4076 3628 4429 4398 4054 3725 4416 4216 4114 4495 4305 3168 4306 4292 4200 3413 4430 3385 4398 4066 4181 3880 4424 4195 4401 3780 4209 4443 4431 4291 4349 3294 4434 3854 4269 3937 4416 3497 4312 3236 4347 3927 4159 3208 4244 4215 4405 3799 4316 3381 4084 3709 4164 3500 4290 3757 4313 3739 4332 4422 4122 4213 4145 4215 4241 3043 4111 4376 4208 3373 4376 3852 4048 4040 4399 4433 4361 3552 4410 4180 4132 4029 4285 4089 4072 4284 4303 3207 4364 3305 4026 4471 4354 3898 4398 3663 4349 4060 4381 3793 4121 3993 4372 4503 4132 3505 4346 4217 4303 4507 4335 3719 4257 3725 4339 4293 4127 3273 4274 3487 4378 3364 4195 3323 4226 4348 4337 3446 4413 3196 4367 3818 4423 4065 4217 4422 4230 3184 4080 4064 4101 4172 4278 4127 4060 3845 4397 4297 4246 4316 4152 4191 4103 3986 4403 3763 4398 4277 4344 3943 4173 3929 4206 4274 4076 4440 4032 4461 4252 3886 4421 3502 4157 3871 4366 3819 4340 3868 4389 3219 4211 3961 4376 4272 4351 3947 4278 3524 4163 3996 4019 4295 4132 3804 4219 4178 4366 4271 4253 3874 4164 3239 4040 4295 4281 4120 4045 3664 4368 4312 4139 4457 4386 3246 4127 3452 4268 3961 4321 4397 4088 4018 4208 3835 4404 3942 4425 3228 4260 4437 4123 4429 4106 3479 4061 4112 4271 3387 4381 4467 4362 3580 4361 4504 4300 4010 4272 4265 4406 3802 4238 4269 4197 3755 4369 4092 4298 3803 4122 3856 4141 3714 4169 4128 4390 3120 4265 4505 4266 3793 4428 3348 4398 4377 4343 4245 4359 4142 4295 3099 4151 3390 4424 4316 4284 4517 4224 3444 4311 3771 4312 4490 4204 4009 4027 4235 4340 4037 4381 4381 4149 4245 4301 4092 4318 3099 4421 3952 4247 3154 4071 3922 4285 4008 4411 3395 4345 3511 4260 3109 4380 3498 4058 4267 4350 3261 4213 4323 4080 3819 4033 4158 4029 3831 4356 4114 4373 3757 4360 3130 4041 3862 4134 3667 4191 3876 4252 4433 4419 4143 4282 4313 4066 4513 4090 3482 4301 4085 4265" fill="none" marker-start="url(#m103)" marker-mid="url(#m103)" marker-end="url(#m103)"/>
<path d="M4210 4415 4166 4423 4023 4323 3925 4382 4154 4447 4433 4451 4071 4429 4002 4320 4388 4377 4232 4356 4063 4415 3917 4410 4145 4446 4272 4365 4446 4388 4388 4407 4138 4380 4294 4383 3909 4412 4413 4319 4023 4303 4505 4430 4051 4335 4427 4335 4012 4419 4356 4328 4177 4342 3944 4401 4015 4368 3971 4345 4104 4436 4184 4362 4444 4368 4291 4452 4045 4404 4115 4435 3990 4336 4431 4330 4363 4406 4501 4381 4338 4356 3914 4406 4245 4378 4091 4369" fill="none" marker-start="url(#m104)" marker-mid="url(#m104)" marker-end="url(#m104)"/>
<path d="M3154 4566 3157 4569 3211 4545 3052 4551 3250 4578 3126 4533 3055 4558 3043 4557 3263 4581 3176 4580 3156 4592 3052 4580 3066 4574 3208 4541 3283 4539 3159 4530 3237 4536 3248 4542 3276 4580 3117 4553 3224 4587 3238 4569 3084 4585 3198 4554 3098 4533 3092 4568 3124 4560 3268 4543 3197 4575 3165 4561 3250 4581 3221 4598 3105 4569 3255 4568 3216 4548 3167 4542 3123 4596 3149 4577 3102 4529 3141 4556 3194 4555 3216 4556 3121 4590 3251 4556 3092 4553 3043 4543 3084 4563 3209 4541 3053 4575" fill="none" marker-start="url(#m105)" marker-mid="url(#m105)" marker-end="url(#m105)"/>
<path d="M3954 4648 4499 4620 3509 4592 3059 4668 3562 4603 4208 4646 4367 4603 3378 4602 4162 4681 4352 4615 4437 4675 3947 4688 3216 4676 4105 4673 3061 4604 4449 4606 4335 4624 3294 4617 3097 4673 3557 4663 3918 4603 3645 4644 3099 4608 3416 4674 4204 4599 3702 4593 3775 4686 3296 4656 3063 4658 3324 4590 4105 4643 3074 4632 3985 4654 4340 4659 3959 4611 4493 4621 3742 4678 3609 4616 4078 4601 3978 4671 3618 4648 3807 4597 4416 4610 4004 4586 3046 4587 3291 4606 3827 4620 3225 4589 3543 4651 3062 4598 3456 4660 4217 4607 4187 4598 4118 4662 4182 4662 4128 4660 4230 4676 4114 4673 3342 4687 4002 4589 3632 4661 3332 4665 3454 4630 3784 4641 3960 4627 3793 4673 3286 4590 4188 4663 3992 4629 3623 4658 3942 4606 3592 4620 4205 4623 3213 4642 4106 4606 3447 4645 3343 4643 3681 4658 3070 4664 3161 4591 4107 4663 4295 4645 4116 4606 3891 4617 3149 4662 4314 4644 3419 4681 3423 4600 3195 4629 4031 4679 3050 4618 3511 4584 3260 4668 3554 4599 4350 4665 3976 4684 3835 4588 3655 4610 4066 4631 3328 4596 3928 4678 3163 4662 3320 4593 4280 4682 3340 4675 4158 4674 4372 4685 3540 4648 3195 4655 4473 4632 3282 4619 4001 4619 4018 4619 3678 4656 3083 4633 3126 4657 3308 4600 4273 4653 4007 4669 3987 4680 4058 4685 3571 4593 3076 4673 3395 4609 3741 4662 3475 4581 3872 4650 3406 4643 3923 4679 3563 4625 4449 4613 4081 4676 3258 4648 3472 4684 3691 4638 3658 4623 4430 4591 4246 4663 4517 4654 4211 4685 3537 4674 3711 4584 3877 4585 3537 4582 3055 4631 3615 4593 3582 4650 3949 4622 4093 4669 4039 4584 3615 4654 4411 4615 4271 4610 3694 4602 3469 4592 3744 4664 4394 4665 4469 4597 4142 4605 3543 4653 3934 4655 3393 4606 4490 4635 3394 4635 4293 4596 3698 4657 4361 4679 4057 4602 3517 4678 3737 4679 3942 4581 3576 4639 3739 4602 3947 4607 3117 4653 4443 4618 3466 4606 3741 4656 3166 4676 3745 4645 4149 4665 3390 4612 3079 4618 3782 4584 4287 4648 4198 4605 4337 4579 4000 4638 4159 4584 3592 4649 3738 4655 3195 4658 3091 4687 3876 4608 3102 4657 3429 4687 4217 4619 3721 4658 4270 4599 3952 4624 3736 4656 4504 4648 3595 4679 3443 4610 4459 4654 3250 4620 3668 4633 3303 4676 3051 4626 4325 4668 4234 4648 4258 4578 4225 4640 3926 4682 3386 4602 3164 4685 3543 4655 3771 4661 3690 4603 3326 4657 3883 4649 4180 4628 4040 4655 4020 4684 4199 4625 4276 4610 4388 4676 3322 4594 3979 4627 4508 4679 3595 4607 3445 4627 3601 4587 4453 4614 3667 4615 3165 4625 4167 4687 4257 4619 3478 4579 3844 4608 3934 4680 3956 4593 4515 4676 4344 4684 4088 4658 3944 4630 3696 4667 3725 4652 3603 4635 3220 4636 3887 4609 4087 4643 3945 4640 3067 4678 3604 4645 4049 4652 3627 4615 3296 4580 3904 4618 3332 4622 3393 4625 3892 4687 3541 4671 4174 4642 3838 4674 3991 4639 4499 4599 3943 4651 3956 4661 4276 4614 4379 4600 3939 4643 3871 4669 3094 4636 3191 4619 3726 4644 3184 4638 4468 4660 3149 4664 4408 4671 3051 4626 4423 4602 4255 4628 4168 4646" fill="none" marker-start="url(#m106)" marker-mid="url(#m106)" marker-end="url(#m106)"/>
<path d="M3931 4494 3994 4488 3622 4502 3569 4514 3277 4506 4196 4492 4112 4473 3680 4494 3924 4498 3186 4500 4107 4482 3215 4506 4076 4501 3722 4501 3630 4506 4297 4484 3827 4499 3759 4511 3809 4497 3948 4501 3956 4505 3761 4489 4029 4499 3590 4505 3976 4504 3918 4499 4222 4503 3404 4506 3436 4503 3305 4505 3758 4490 4052 4502 3200 4491 4086 4482 3386 4502 3951 4484 3518 4511 3222 4507 3952 4496 3855 4490 4397 4482 3393 4503 4065 4492 3654 4503 3406 4516 4191 4500 3164 4517 4203 4507 3211 4511 3411 4496 4317 4478 4060 4504 4013 4493 3900 4501 3261 4513 4270 4495 3591 4498 3421 4511 3328 4504 4045 4494 3501 4503 4311 4509 3819 4501 4226 4491 3770 4500 3925 4482 4054 4491 3914 4501 3898 4495 4378 4483 3803 4491 3616 4505 3833 4515 4380 4484 4194 4504 3564 4491 3206 4521 4094 4502 3849 4504 4211 4484 3403 4507 3288 4507 3209 4504 3660 4512 4165 4488 4225 4488 3321 4516 4040 4514 4338 4513 4378 4497 3896 4485 3831 4500 3420 4523 3636 4494 4411 4480 3368 4508 4138 4494 3678 4509 4085 4494 4110 4489 4001 4491 3802 4504 3477 4507 3536 4521 3319 4516 3267 4526 3561 4501 3856 4499 3203 4516 3996 4487 3840 4496 4164 4476 4248 4483 4388 4481 4381 4486 3722 4514 3529 4504 4149 4503 4376 4484 3224 4509 3924 4503 3681 4515 3177 4511 3682 4500 3836 4500 3943 4494 3819 4496 3840 4501 3331 4499 4296 4511 3591 4501 4100 4497 3671 4506 4119 4477 3910 4494 3212 4495 3199 4505 4074 4493 4278 4485 3648 4521 3650 4510 4161 4486 3510 4506 4239 4512 4382 4483 4164 4510 4102 4490 3886 4492 3259 4507 3207 4499 3919 4492 4176 4491 4018 4499 3624 4494 3310 4512 3443 4501 3931 4503 4267 4498 3703 4512 3821 4503 4225 4499 3895 4493 4308 4485" fill="none" marker-start="url(#m107)" marker-mid="url(#m107)" marker-end="url(#m107)"/>
<path d="M3340 5346 4009 5482 3556 5326 4017 5378 3543 5511 4020 5507 3405 5341 3929 5514 3707 5433 3417 5318 3993 5477 4008 5490 4007 5437 3717 5429 3728 5308 3694 5318 3364 5405 3695 5452 4120 5382 4141 5406 3978 5369 3996 5510 3970 5468 3735 5354 3590 5470 3467 5500 4055 5310 3806 5404 3626 5482 3612 5335 3363 5361 3872 5477 4080 5395 3916 5515 3840 5427" fill="none" marker-start="url(#m53)" marker-mid="url(#m53)" marker-end="url(#m53)"/>
<path d="M3808 5455 3722 5465 3871 5458 3720 5465 3831 5451 3646 5462 3808 5467 3844 5456 3673 5462 3911 5447 3677 5469 3784 5461 3912 5436 3909 5438 3797 5464 3824 5445 3846 5445 3844 5455 3853 5442 3802 5461 3769 5453 3883 5443 3858 5441 3871 5452 3759 5457 3714 5458 3807 5460 3908 5444 3799 5459 3719 5464 3684 5461 3901 5438 3781 5455 3821 5445 3620 5467 3768 5468" fill="none" marker-start="url(#m55)" marker-mid="url(#m55)" marker-end="url(#m55)"/>
<path d="M3945 5431 3881 5429 3913 5431 3935 5429 3941 5422 3539 5464 3901 5432 3778 5444 3907 5432 3498 5468 3649 5456 3731 5450 3821 5444 3924 5427 3850 5433 3731 5452 3654 5451 3907 5431 3530 5465 3578 5458 3659 5451 3750 5444 3563 5465 3514 5464 3842 5432" fill="none" marker-start="url(#m56)" marker-mid="url(#m56)" marker-end="url(#m56)"/>
<path d="M3905 5417 3519 5457 3839 5428 3792 5426 3767 5432 3737 5441 3648 5448 3936 5418 3883 5421 3940 5417 3826 5422 3575 5456 3765 5432 3815 5427 3725 5440 3644 5444 3658 5447 3780 5431 3866 5420 3663 5441 3730 5436 3820 5424 3633 5441 3900 5422 3741 5431 3868 5426 3883 5422 3789 5436 3855 5423" fill="none" marker-start="url(#m57)" marker-mid="url(#m57)" marker-end="url(#m57)"/>
<path d="M3894 5406 3689 5432 3458 5449 3838 5414 3669 5434 3816 5422 3696 5430 3862 5407 3517 5446 3914 5403 3900 5407 3727 5426 3878 5412 3521 5451 3565 5438 3664 5434 3904 5405 3429 5451 3743 5422 3491 5453 3576 5437 3816 5420 3681 5424 3921 5410 3849 5410 3929 5405 3500 5453" fill="none" marker-start="url(#m58)" marker-mid="url(#m58)" marker-end="url(#m58)"/>
<path d="M3648 5417 3673 5424 3895 5393 3786 5403 3510 5433 3559 5428 3834 5405 3537 5429 3838 5405 3896 5396 3568 5431 3566 5432 3600 5432 3433 5447 3578 5426 3734 5417 3777 5412 3751 5415 3891 5396 3888 5400 3567 5429 3479 5441 3636 5420 3874 5402 3599 5426 3896 5399 3436 5438 3456 5435" fill="none" marker-start="url(#m59)" marker-mid="url(#m59)" marker-end="url(#m59)"/>
<path d="M3566 5420 3750 5398 3745 5403 3643 5407 3815 5393 3613 5413 3857 5390 3900 5390 3588 5420 3535 5417 3799 5391 3682 5409 3834 5398 3836 5388 3580 5422 3835 5396 3542 5418 3760 5399 3593 5421 3692 5403 3661 5408 3830 5395 3878 5382 3452 5431 3574 5417 3871 5384 3648 5406 3530 5419 3882 5385 3872 5392 3762 5403 3495 5427 3737 5408 3894 5385 3443 5428 3858 5394" fill="none" marker-start="url(#m60)" marker-mid="url(#m60)" marker-end="url(#m60)"/>
<path d="M3825 5387 3522 5414 3532 5408 3714 5395 3651 5394 3673 5397 3758 5386 3750 5384 3445 5417 3674 5399 3550 5408 3551 5405 3714 5388 3790 5387 3518 5409 3589 5400 3875 5382 3784 5383 3705 5392 3457 5417 3582 5409 3629 5404 3822 5386 3558 5412 3456 5418 3536 5410 3701 5394 3531 5415 3797 5386 3836 5378 3834 5382 3670 5400 3791 5387 3641 5398" fill="none" marker-start="url(#m61)" marker-mid="url(#m61)" marker-end="url(#m61)"/>
<path d="M3638 5393 3446 5412 3505 5404 3715 5384 3754 5378 3507 5399 3464 5402 3525 5401 3770 5377 3846 5368 3507 5401 3817 5372 3628 5390 3557 5396 3523 5399 3737 5375 3756 5379 3846 5366 3794 5371 3634 5395 3757 5381 3645 5386 3729 5381 3836 5364 3525 5399 3751 5379 3605 5396 3459 5412 3517 5406 3786 5375 3457 5408" fill="none" marker-start="url(#m62)" marker-mid="url(#m62)" marker-end="url(#m62)"/>
<path d="M3693 5377 3773 5362 3673 5372 3764 5367 3794 5361 3477 5392 3574 5384 3769 5366 3583 5385 3691 5373 3719 5368 3805 5365 3434 5395 3442 5402 3697 5368 3498 5388 3801 5361 3431 5403 3718 5375 3578 5382 3495 5386 3803 5364 3773 5365" fill="none" marker-start="url(#m63)" marker-mid="url(#m63)" marker-end="url(#m63)"/>
<path d="M3545 5377 3687 5365 3672 5367 3616 5365 3684 5367 3552 5374 3594 5372 3729 5362 3633 5371 3567 5374 3718 5364 3653 5365 3675 5364 3432 5388 3454 5380 3441 5386 3650 5371 3517 5383 3514 5378 3458 5381" fill="none" marker-start="url(#m64)" marker-mid="url(#m64)" marker-end="url(#m64)"/>
<path d="M3518 5368 3538 5363 3445 5379 3451 5372 3531 5369 3587 5361 3438 5377 3459 5369 3485 5365 3472 5374 3542 5364 3487 5368" fill="none" marker-start="url(#m65)" marker-mid="url(#m65)" marker-end="url(#m65)"/>
<path d="M3435 5370 3435 5364 3469 5364 3479 5364 3451 5364 3495 5364" fill="none" marker-start="url(#m108)" marker-mid="url(#m108)" marker-end="url(#m108)"/>
<path d="M4083 5398 4079 5411 4146 5405 4216 5412 4030 5399 4135 5420 4193 5390 4188 5410 4140 5424 4013 5384 4076 5414 4098 5409 4172 5403 4043 5422 4220 5398 4198 5409 4155 5392 4142 5421 4119 5399 4137 5398 4095 5390 4191 5403 4180 5410 4067 5428 4141 5421 4057 5437 4010 5404 4045 5421 4074 5395 4207 5441 4167 5418 4201 5406 4056 5382 4178 5405 4222 5408 4031 5399 4135 5410 4144 5434" fill="none" marker-start="url(#m109)" marker-mid="url(#m109)" marker-end="url(#m109)"/>
<path d="M3830 5435 3717 5444 3618 5437 3861 5426 4000 5445 4113 5434 3698 5433 3671 5411 3948 5427 3792 5427 3876 5445 4005 5439 3621 5433 4012 5445 4009 5437 3652 5428 3856 5438 3949 5425 4073 5442 3716 5435 4114 5437 3619 5432 3985 5431 3847 5445 3787 5439 3686 5432 4063 5436 4089 5436 3617 5421 3626 5434 3669 5423 4058 5442 3964 5436 3836 5434 3853 5452 3798 5432 3924 5427 3952 5430 3710 5436 3935 5439 4076 5440 3908 5425 3612 5427 3629 5425 3680 5429 3755 5442 3660 5417 3782 5426 3885 5439 4095 5427 3733 5434 3876 5444 3657 5434 3836 5423 3693 5426 4021 5432 3909 5443 3914 5441 3817 5427 3695 5435 3886 5433 3777 5435 4059 5447 3628 5435 3867 5436 3821 5424 3756 5427 3994 5426 3881 5431 3781 5434 3789 5443 3937 5439 3591 5433 3942 5436 4043 5444 4088 5433 3780 5428 4024 5430 3713 5431 3936 5432 3683 5431 3819 5437 3712 5432 3874 5422 3712 5443 3827 5431 3779 5440 3587 5430 3645 5447 3723 5440 4109 5437 4049 5441 3937 5440 3695 5431 3815 5426 3979 5442 3673 5429 3993 5437 3973 5443 3626 5429 3964 5436 3826 5433 4101 5423 3594 5453 3892 5435 3904 5436 3856 5432 3950 5429 3842 5429 4098 5427 3585 5439 4005 5418 3767 5432 3985 5434 3870 5439 4071 5434 3889 5440 3721 5444 3655 5440 4023 5425 3675 5430 4058 5423 3888 5424 3703 5440 3873 5434 3596 5431 3740 5433 3735 5430 3855 5442 3883 5440 3728 5454 3916 5431 3968 5433 3854 5433 3605 5428 3745 5421 4061 5429 3725 5421 3695 5437 4087 5419 3650 5433 4007 5427 3606 5429 4050 5436 3901 5440 3645 5441 4028 5432 3874 5418 3984 5429 3738 5420 3687 5436 4005 5426 3922 5434 3876 5433 3609 5441 3834 5440 3940 5444 3725 5446 3794 5448 4099 5426 3707 5434 3777 5418 3602 5447 3794 5427 3712 5438 4027 5429 4109 5429 4114 5429 4077 5429 3631 5427 3871 5434 3836 5443 4010 5434 3753 5442 3839 5431 3637 5447 3998 5434 3619 5430 3646 5439 3826 5414 3626 5443 3905 5429 3835 5433 3704 5426 3850 5429 3987 5434 4025 5425 3694 5421 3817 5412 4050 5434 3731 5427 3765 5437 3720 5431 3706 5425 3865 5426 4098 5434 4089 5425 3946 5445 4002 5448 3844 5435 3865 5427 3909 5432 3976 5442 3753 5410 3622 5440 3999 5428 3613 5422 3646 5418 3900 5446 3739 5424 3759 5431 3702 5424 3647 5446 3825 5430 3769 5428 3692 5428" fill="none" marker-start="url(#m67)" marker-mid="url(#m67)" marker-end="url(#m67)"/>
<path d="M3628 5333 3467 5436 3499 5508 3729 5397 4129 5386 3775 5459 3696 5353 3654 5318 3513 5457 3422 5327 3867 5495 3441 5513 3856 5477 3868 5481 3709 5391 3696 5346 3360 5427 3636 5477 4118 5332 3682 5399 3838 5364 3693 5423 3725 5471 3474 5344 3995 5321 3708 5408 3576 5454 3906 5507 3684 5516" fill="none" marker-start="url(#m53)" marker-mid="url(#m53)" marker-end="url(#m53)"/>
<path d="M3801 5455 3664 5462 3635 5463 3639 5466 3804 5453 3933 5445 3601 5470 3592 5469 3561 5470 3702 5467 3787 5455 3727 5454 3790 5451 3936 5447 3737 5468 3851 5442 3940 5442 3942 5444 3688 5465 3814 5460 3862 5452 3774 5468 3911 5444 3944 5445 3671 5465 3931 5448 3883 5450 3888 5444 3879 5440 3668 5469 3670 5468" fill="none" marker-start="url(#m55)" marker-mid="url(#m55)" marker-end="url(#m55)"/>
<path d="M3781 5442 3676 5455 3608 5455 3566 5459 3674 5453 3936 5432 3488 5468 3521 5467 3499 5468 3732 5444 3929 5423 3734 5452 3623 5461 3943 5429 3581 5463 3722 5443 3785 5447 3732 5444 3693 5452 3639 5453 3618 5462 3920 5433" fill="none" marker-start="url(#m56)" marker-mid="url(#m56)" marker-end="url(#m56)"/>
<path d="M3919 5418 3836 5425 3539 5455 3849 5429 3430 5462 3744 5440 3487 5465 3763 5431 3655 5443 3629 5441 3867 5425 3671 5438 3901 5418 3626 5443 3945 5421 3611 5453 3527 5462 3931 5414 3632 5450 3922 5416 3597 5454 3923 5422 3538 5455 3435 5464 3738 5435 3919 5413 3911 5418" fill="none" marker-start="url(#m57)" marker-mid="url(#m57)" marker-end="url(#m57)"/>
<path d="M3697 5427 3933 5407 3874 5410 3435 5454 3759 5419 3558 5440 3489 5448 3619 5435 3942 5409 3459 5448 3689 5433 3490 5445 3668 5436 3770 5418 3790 5415 3754 5426 3616 5435 3829 5413 3824 5415 3929 5405 3554 5444 3515 5444 3706 5429 3903 5406 3741 5422 3484 5445 3671 5432 3919 5403" fill="none" marker-start="url(#m58)" marker-mid="url(#m58)" marker-end="url(#m58)"/>
<path d="M3632 5427 3616 5429 3905 5399 3459 5444 3656 5418 3635 5421 3869 5401 3710 5419 3454 5436 3531 5436 3550 5432 3521 5439 3749 5416 3660 5423 3454 5436 3628 5425 3572 5433 3752 5407 3917 5394 3901 5402 3690 5417 3873 5400 3922 5396 3712 5414 3630 5421 3748 5411 3833 5406 3692 5422 3593 5429 3851 5403 3431 5448 3472 5434 3594 5428" fill="none" marker-start="url(#m59)" marker-mid="url(#m59)" marker-end="url(#m59)"/>
<path d="M3459 5433 3879 5393 3523 5426 3606 5411 3820 5391 3473 5430 3685 5409 3529 5424 3736 5407 3885 5383 3662 5410 3670 5409 3728 5407 3819 5398 3564 5414 3457 5428 3763 5394 3884 5387 3508 5424" fill="none" marker-start="url(#m60)" marker-mid="url(#m60)" marker-end="url(#m60)"/>
<path d="M3487 5414 3441 5419 3672 5394 3743 5385 3740 5391 3762 5383 3668 5402 3791 5388 3746 5393 3680 5402 3740 5395 3458 5418 3528 5411 3429 5424 3559 5406 3484 5418 3563 5407 3487 5411 3578 5403 3429 5417 3593 5407 3661 5400 3625 5399 3718 5392 3600 5408 3780 5389 3604 5402 3789 5383 3663 5399 3763 5384 3665 5398" fill="none" marker-start="url(#m61)" marker-mid="url(#m61)" marker-end="url(#m61)"/>
<path d="M3468 5407 3630 5395 3494 5408 3449 5406 3778 5379 3528 5404 3729 5377 3594 5396 3645 5390 3430 5404 3753 5377 3827 5372 3593 5390 3836 5367 3608 5392 3436 5412 3674 5388 3649 5384 3665 5384 3620 5388 3721 5376 3484 5405" fill="none" marker-start="url(#m62)" marker-mid="url(#m62)" marker-end="url(#m62)"/>
<path d="M3536 5384 3672 5379 3580 5388 3680 5370 3605 5386 3502 5389 3695 5369 3616 5381 3494 5392 3732 5368 3638 5379 3483 5388 3730 5367 3768 5369 3689 5375 3684 5376 3716 5375 3645 5379 3627 5380 3569 5388 3659 5371 3707 5372 3650 5377 3466 5398 3688 5373 3685 5376 3539 5384 3437 5395 3620 5379 3815 5362" fill="none" marker-start="url(#m63)" marker-mid="url(#m63)" marker-end="url(#m63)"/>
<path d="M3464 5385 3535 5377 3580 5375 3706 5361 3619 5371 3434 5387 3488 5383 3594 5369 3565 5377 3612 5374 3550 5373 3433 5385 3691 5365 3514 5376 3431 5384 3440 5388 3530 5376 3499 5384 3589 5371 3657 5361" fill="none" marker-start="url(#m64)" marker-mid="url(#m64)" marker-end="url(#m64)"/>
<path d="M3598 5364 3492 5365 3547 5365 3526 5364 3441 5372 3490 5373 3462 5372 3543 5362 3573 5362 3461 5371 3511 5366 3586 5362 3459 5370 3485 5369" fill="none" marker-start="url(#m65)" marker-mid="url(#m65)" marker-end="url(#m65)"/>
<path d="M3478 5362 3504 5361 3463 5363" fill="none" marker-start="url(#m108)" marker-mid="url(#m108)" marker-end="url(#m108)"/>
<path d="M4214 5401 4131 5393 4176 5417 4056 5400 4009 5407 4039 5389 4017 5416 4168 5389 4193 5383 4191 5431 4150 5422 4023 5402 4079 5419 4003 5415 4028 5402 4009 5424 4047 5385 4201 5391 4058 5406 4137 5399 4109 5399 4113 5430 4054 5400 4165 5406 4054 5404 4122 5404 4076 5397 4057 5414 4135 5395 4018 5391 4029 5412 4032 5419 4110 5419 4135 5404 4100 5394" fill="none" marker-start="url(#m109)" marker-mid="url(#m109)" marker-end="url(#m109)"/>
<path d="M4081 5429 3745 5445 3766 5436 3839 5433 4024 5433 4018 5436 3804 5442 3674 5440 3924 5424 3868 5427 4064 5429 3906 5442 3721 5430 3809 5442 3875 5430 3674 5437 3762 5437 3680 5440 3706 5433 3900 5433 3842 5425 4087 5432 3718 5428 3754 5418 3726 5424 3876 5439 3934 5437 3599 5423 3822 5439 3997 5427 3863 5443 3782 5437 3802 5440 4083 5430 3739 5438 3715 5439 3918 5430 3951 5434 3607 5427 3743 5421 3935 5427 3703 5419 4016 5436 3999 5428 3947 5438 3848 5434 3834 5434 4030 5447 3715 5438 3866 5436 3767 5440 4008 5436 3861 5426 4019 5419 3895 5443 4043 5432 3833 5445 3959 5438 4061 5437 4050 5433 3600 5432 3596 5442 3921 5443 3837 5435 3942 5428 3607 5428 4007 5423 3927 5439 3712 5425 3630 5424 4048 5439 3824 5425 3852 5447 4021 5438 3645 5425 3677 5418 3820 5444 3593 5447 4111 5432 3935 5437 3771 5429 3972 5424 3800 5440 4049 5429 3597 5420 4009 5432 4056 5432 3642 5431 3935 5417 3614 5417 3653 5448 4026 5431 3786 5438 3667 5436 3946 5428 4000 5443 3744 5425 3633 5439 3748 5433 4049 5425 3917 5433 3651 5428 3705 5436 4020 5421 3910 5419 3951 5431 3608 5424 3870 5435 3756 5426 4102 5437 3849 5422 3682 5437 3927 5439 3780 5426 4096 5427 4103 5431 3986 5422 4010 5425 3717 5450 3698 5432 3852 5437 4088 5441 3634 5427 3900 5440 3594 5417 3980 5428 3836 5431 3898 5425 3813 5439 3821 5433 3590 5449 4074 5435 4040 5435 3941 5420 3811 5437 3779 5433 4016 5425 3717 5442 3624 5430 4107 5419 3901 5441 3689 5445 3654 5427 3720 5441 3844 5435 3973 5434 3635 5439 3781 5435 3872 5436 3743 5430 4045 5422 4035 5422 3772 5435 3965 5431 4004 5433 3791 5426 3642 5429 3789 5429 3719 5421 3870 5439 3866 5426 4101 5435 3900 5436 3797 5443 4037 5440 3706 5435 4005 5431 3802 5431 3975 5424 3644 5437 3794 5439 3588 5432 3816 5434 3748 5439 3966 5439 3617 5434 3670 5426 4011 5438 3637 5441 4004 5431 3857 5433 3747 5437 3662 5430 3797 5417 3698 5427 3737 5420 3907 5442 3686 5429 3987 5439 3675 5428 3730 5429 3685 5427 3924 5427 4003 5422 3644 5435 3907 5448 4069 5445 3645 5434 3978 5435 3752 5431 3680 5426 3680 5438 3693 5429 3758 5442 3899 5447 3877 5444" fill="none" marker-start="url(#m67)" marker-mid="url(#m67)" marker-end="url(#m67)"/>
<path d="M3885 5385 3341 5419 3676 5320 3804 5395 3784 5431 4150 5338 3432 5441 3428 5505 3428 5350 4079 5460 3701 5490 3348 5450 3933 5479 3869 5432 3625 5519 3835 5332 3830 5311 4054 5388 4087 5331 3469 5477 3822 5465 3836 5405 3756 5497 3913 5479 3939 5433 4114 5452" fill="none" marker-start="url(#m53)" marker-mid="url(#m53)" marker-end="url(#m53)"/>
<path d="M3753 5468 3899 5450 3869 5442 3679 5461 3728 5456 3931 5441 3651 5468 3935 5440 3932 5443 3744 5465 3790 5454 3678 5462 3871 5447 3830 5448 3863 5442 3851 5446 3669 5468 3734 5457 3818 5453 3807 5465 3770 5459 3702 5471 3798 5456 3795 5463 3861 5459 3794 5468 3690 5465 3913 5447 3585 5470 3872 5446 3688 5471 3921 5438 3767 5453 3733 5470 3639 5468 3828 5448 3754 5466" fill="none" marker-start="url(#m55)" marker-mid="url(#m55)" marker-end="url(#m55)"/>
<path d="M3847 5436 3684 5454 3769 5443 3818 5440 3859 5437 3884 5437 3795 5444 3758 5446 3739 5445 3871 5429 3607 5460 3938 5428 3844 5437 3780 5447 3935 5422 3629 5458 3908 5435 3517 5470 3902 5431 3918 5427 3781 5437 3529 5469 3906 5432 3652 5452 3628 5463 3931 5426 3633 5460" fill="none" marker-start="url(#m56)" marker-mid="url(#m56)" marker-end="url(#m56)"/>
<path d="M3567 5455 3813 5427 3919 5423 3484 5455 3609 5443 3762 5434 3864 5420 3769 5436 3749 5434 3443 5462 3926 5419 3669 5443 3450 5459 3916 5413 3914 5419 3638 5442 3904 5416 3828 5425 3833 5424 3708 5436 3932 5419 3495 5457 3462 5462 3822 5425 3941 5417 3503 5454 3545 5459 3834 5426 3720 5436 3530 5452 3768 5434 3678 5442" fill="none" marker-start="url(#m57)" marker-mid="url(#m57)" marker-end="url(#m57)"/>
<path d="M3499 5450 3918 5406 3463 5454 3816 5411 3654 5434 3746 5425 3919 5404 3856 5407 3626 5433 3875 5405 3535 5447 3691 5430 3814 5421 3921 5404 3642 5431 3667 5427 3679 5426 3938 5405 3925 5404 3934 5408 3482 5444 3688 5434 3626 5440 3544 5441 3661 5435 3555 5443 3851 5416 3898 5410 3902 5403 3614 5439 3701 5433 3932 5406 3929 5400 3933 5409 3673 5435 3825 5411 3934 5408 3778 5418 3856 5414 3727 5423 3896 5412 3499 5452" fill="none" marker-start="url(#m58)" marker-mid="url(#m58)" marker-end="url(#m58)"/>
<path d="M3895 5401 3428 5441 3919 5399 3734 5412 3808 5405 3476 5439 3513 5436 3902 5398 3928 5399 3855 5402 3454 5442 3765 5413 3562 5430 3888 5397 3471 5444 3734 5408 3593 5432 3811 5401 3867 5398 3837 5408 3759 5408 3617 5428 3715 5413 3525 5431 3533 5435 3834 5404 3660 5416" fill="none" marker-start="url(#m59)" marker-mid="url(#m59)" marker-end="url(#m59)"/>
<path d="M3851 5394 3610 5417 3489 5421 3579 5413 3563 5418 3816 5395 3750 5395 3801 5393 3699 5402 3713 5405 3656 5409 3816 5399 3725 5406 3721 5407 3632 5408 3714 5403 3600 5413 3847 5393 3754 5399 3616 5412 3783 5397 3557 5425 3674 5404 3728 5400 3572 5422 3825 5394 3861 5387" fill="none" marker-start="url(#m60)" marker-mid="url(#m60)" marker-end="url(#m60)"/>
<path d="M3746 5387 3717 5394 3473 5417 3876 5379 3436 5418 3523 5409 3863 5375 3605 5403 3662 5400 3727 5396 3719 5390 3796 5385 3431 5425 3722 5392 3575 5412 3677 5398 3742 5388 3759 5394 3803 5380 3644 5400 3792 5390 3490 5415 3698 5393 3574 5412 3545 5404 3675 5392 3573 5411 3869 5377" fill="none" marker-start="url(#m61)" marker-mid="url(#m61)" marker-end="url(#m61)"/>
<path d="M3783 5372 3794 5374 3832 5365 3636 5386 3818 5367 3487 5404 3797 5375 3675 5382 3659 5382 3739 5374 3432 5409 3807 5369 3809 5376 3429 5410 3467 5408 3785 5378 3581 5393 3822 5366 3562 5394 3766 5382 3547 5395 3782 5375 3791 5373 3702 5386 3773 5372 3636 5387 3647 5388 3686 5386 3760 5382 3739 5380 3571 5401" fill="none" marker-start="url(#m62)" marker-mid="url(#m62)" marker-end="url(#m62)"/>
<path d="M3685 5379 3457 5393 3651 5375 3752 5365 3458 5395 3725 5372 3656 5374 3436 5402 3512 5393 3468 5394 3723 5373 3746 5362 3627 5375 3482 5389 3495 5393 3721 5365 3484 5392 3514 5391 3606 5383 3665 5373 3805 5363 3775 5361 3639 5377 3533 5392 3818 5362 3682 5368 3810 5363 3788 5364" fill="none" marker-start="url(#m63)" marker-mid="url(#m63)" marker-end="url(#m63)"/>
<path d="M3605 5366 3516 5381 3668 5368 3538 5374 3686 5363 3544 5378 3610 5374 3670 5362 3725 5362 3626 5363 3672 5361 3485 5386 3640 5371 3636 5366 3628 5369 3630 5371 3457 5379 3471 5385 3509 5377 3458 5379 3521 5374" fill="none" marker-start="url(#m64)" marker-mid="url(#m64)" marker-end="url(#m64)"/>
<path d="M3584 5362 3466 5377 3476 5368 3484 5374 3551 5363 3506 5366 3454 5370 3592 5365 3433 5374" fill="none" marker-start="url(#m65)" marker-mid="url(#m65)" marker-end="url(#m65)"/>
<path d="M3489 5364 3427 5362 3501 5362 3497 5363" fill="none" marker-start="url(#m108)" marker-mid="url(#m108)" marker-end="url(#m108)"/>
<path d="M4148 5408 4125 5396 4131 5423 4135 5382 4169 5395 4165 5399 4048 5420 4196 5419 4010 5399 4187 5417 4197 5404 4112 5405 4136 5410 4105 5406 4113 5388 4063 5418 4034 5405 4081 5425 4110 5410 4052 5405 4055 5406 4220 5399 4072 5411 4214 5410 4036 5407 4192 5413 4080 5414 4083 5421 4204 5417 4113 5414 4199 5404 4145 5399 4203 5414 4097 5429 4142 5424 4028 5410 4199 5392" fill="none" marker-start="url(#m109)" marker-mid="url(#m109)" marker-end="url(#m109)"/>
<path d="M3849 5426 3664 5424 3636 5440 3630 5433 3734 5435 3995 5432 4028 5431 3761 5436 4008 5430 3950 5445 3708 5442 3621 5440 3942 5429 4073 5435 3813 5424 3632 5430 3809 5437 4093 5449 3764 5433 4079 5430 3647 5441 3988 5433 3668 5433 4050 5426 4009 5430 3962 5441 3875 5438 3698 5433 4036 5432 3633 5433 3927 5437 3793 5430 3920 5431 3930 5429 3748 5435 3845 5421 4053 5426 4042 5435 3711 5433 3869 5426 3959 5434 3987 5424 3865 5429 3933 5419 3918 5427 3865 5437 3711 5422 3998 5423 3777 5432 3936 5425 3987 5432 3724 5434 3642 5448 4027 5436 3764 5427 4055 5432 3875 5442 3634 5443 3816 5430 3661 5427 3885 5424 3591 5435 3760 5430 3838 5433 3610 5418 4102 5434 3802 5439 3914 5438 3658 5435 3745 5432 3903 5439 3812 5435 3932 5443 3927 5441 3884 5426 3837 5436 3687 5433 4091 5442 4094 5445 3633 5427 3973 5439 3627 5426 4082 5428 3848 5436 3900 5437 4056 5420 3970 5426 4085 5425 3647 5442 3808 5431 3801 5419 3907 5414 3669 5421 3676 5416 4013 5428 4049 5428 3712 5426 3994 5432 3749 5450 3919 5419 3712 5432 4052 5429 3869 5423 3650 5450 3820 5421 3871 5432 3827 5436 3704 5438 3959 5444 3854 5435 4102 5426 3700 5443 4068 5426 3620 5430 3850 5448 3911 5431 3857 5427 3765 5432 3683 5435 3943 5427 4024 5430 3887 5432 3691 5434 4036 5430 3685 5439 3776 5431 3618 5424 4069 5423 4040 5444 3929 5431 3968 5435 3638 5436 3998 5441 4096 5417 4088 5444 3645 5442 4075 5433 3953 5416 3821 5431 3764 5438 3773 5435 3983 5427 3834 5428 4038 5442 3710 5424 4081 5432 3655 5434 3959 5435 3645 5433 3758 5421 3682 5432 3855 5417 3700 5447 3823 5431 4020 5432 3892 5436 3604 5441 3973 5445 3627 5429 3621 5442 4018 5428 3783 5437 3656 5424 3955 5432 3627 5437 3643 5437 3777 5422 3971 5436 3955 5429 4035 5439 3986 5433 3637 5442 3860 5422 3685 5440 3649 5426 4002 5430 3620 5443 3776 5427 3968 5427 3614 5425 3964 5425 3638 5429 3962 5435 3773 5438 3970 5444 4047 5427 4085 5428 3612 5436 4046 5429 3707 5443 4040 5426 3616 5416 3886 5434 3859 5436 4085 5428 3876 5430 3942 5430 4044 5437 3803 5438 3820 5431 3631 5428 3916 5442 4068 5434 3814 5424 3690 5444 4099 5440 3878 5435 3663 5444 3669 5434 3619 5435 4006 5442 3887 5434 3965 5420 3601 5432 3961 5436 3896 5435 3679 5433 3605 5449 3949 5426 3944 5431 3788 5433 3749 5433 3921 5436 3633 5435 3622 5430 3666 5433 3880 5422 3678 5435" fill="none" marker-start="url(#m67)" marker-mid="url(#m67)" marker-end="url(#m67)"/></g>
<rect x="43.5" y="209.6" width="149" height="81" fill="none" stroke="#3c3c3c" stroke-width="1"/>
<rect x="199.3" y="209.6" width="47.5" height="81" fill="none" stroke="#3c3c3c" stroke-width="1"/>
<path d="M43.5 290.6v2.2M43.5 209.6v-2.2M118 290.6v2.2M118 209.6v-2.2M192.5 290.6v2.2M192.5 209.6v-2.2M43.5 214.2h-2.2M192.5 214.2h2.2M43.5 264.9h-2.2M192.5 264.9h2.2M43.5 288.8h-2.2M192.5 288.8h2.2" stroke="#3c3c3c" stroke-width="1" fill="none"/>
<path d="M199.3 290.6v2.2M199.3 209.6v-2.2M242.3 290.6v2.2M242.3 209.6v-2.2M199.3 263.6h-2.2M246.8 263.6h2.2M199.3 281.8h-2.2M246.8 281.8h2.2" stroke="#3c3c3c" stroke-width="1" fill="none"/>
<text x="37.3" y="218.4" font-size="12.5" text-anchor="end">3</text>
<text x="37.3" y="269.1" font-size="12.5" text-anchor="end">0</text>
<text x="37.3" y="293" font-size="12.5" text-anchor="end">-1</text>
<text x="1.5" y="211.3" font-size="16.5" text-anchor="start">(c)</text>
<g transform="translate(19.3,256.8) rotate(-90)"><text x="0.00" y="0.00" font-size="15.5" style="font-style:italic">θ</text><text x="2.12" y="-2.79" font-size="17.82">˙</text><text x="7.61" y="1.70" font-size="10.5" style="font-style:italic">l</text></g>
<rect x="43.5" y="302.3" width="149" height="81.4" fill="none" stroke="#3c3c3c" stroke-width="1"/>
<rect x="199.3" y="302.3" width="47.5" height="81.4" fill="none" stroke="#3c3c3c" stroke-width="1"/>
<path d="M43.5 383.7v2.2M43.5 302.3v-2.2M118 383.7v2.2M118 302.3v-2.2M192.5 383.7v2.2M192.5 302.3v-2.2M43.5 306.9h-2.2M192.5 306.9h2.2M43.5 357.6h-2.2M192.5 357.6h2.2M43.5 381.9h-2.2M192.5 381.9h2.2" stroke="#3c3c3c" stroke-width="1" fill="none"/>
<path d="M199.3 383.7v2.2M199.3 302.3v-2.2M242.3 383.7v2.2M242.3 302.3v-2.2M199.3 356.3h-2.2M246.8 356.3h2.2M199.3 374.5h-2.2M246.8 374.5h2.2" stroke="#3c3c3c" stroke-width="1" fill="none"/>
<text x="37.3" y="311.1" font-size="12.5" text-anchor="end">3</text>
<text x="37.3" y="361.8" font-size="12.5" text-anchor="end">0</text>
<text x="37.3" y="386.1" font-size="12.5" text-anchor="end">-1</text>
<text x="1.5" y="304" font-size="16.5" text-anchor="start">(d)</text>
<g transform="translate(19.3,349.5) rotate(-90)"><text x="0.00" y="0.00" font-size="15.5" style="font-style:italic">θ</text><text x="2.12" y="-2.79" font-size="17.82">˙</text><text x="7.61" y="1.70" font-size="10.5" style="font-style:italic">l</text></g>
<rect x="43.5" y="394.2" width="149" height="81.6" fill="none" stroke="#3c3c3c" stroke-width="1"/>
<rect x="199.3" y="394.2" width="47.5" height="81.6" fill="none" stroke="#3c3c3c" stroke-width="1"/>
<path d="M43.5 475.8v2.2M43.5 394.2v-2.2M118 475.8v2.2M118 394.2v-2.2M192.5 475.8v2.2M192.5 394.2v-2.2M43.5 398.8h-2.2M192.5 398.8h2.2M43.5 449.5h-2.2M192.5 449.5h2.2M43.5 474h-2.2M192.5 474h2.2" stroke="#3c3c3c" stroke-width="1" fill="none"/>
<path d="M199.3 475.8v2.2M199.3 394.2v-2.2M242.3 475.8v2.2M242.3 394.2v-2.2M199.3 448.2h-2.2M246.8 448.2h2.2M199.3 466.4h-2.2M246.8 466.4h2.2" stroke="#3c3c3c" stroke-width="1" fill="none"/>
<text x="37.3" y="403" font-size="12.5" text-anchor="end">3</text>
<text x="37.3" y="453.7" font-size="12.5" text-anchor="end">0</text>
<text x="37.3" y="478.2" font-size="12.5" text-anchor="end">-1</text>
<text x="1.5" y="395.9" font-size="16.5" text-anchor="start">(e)</text>
<g transform="translate(19.3,441.4) rotate(-90)"><text x="0.00" y="0.00" font-size="15.5" style="font-style:italic">θ</text><text x="2.12" y="-2.79" font-size="17.82">˙</text><text x="7.61" y="1.70" font-size="10.5" style="font-style:italic">l</text></g>
<rect x="43.5" y="486.6" width="149" height="81.6" fill="none" stroke="#3c3c3c" stroke-width="1"/>
<rect x="199.3" y="486.6" width="47.5" height="81.6" fill="none" stroke="#3c3c3c" stroke-width="1"/>
<path d="M43.5 568.2v2.2M43.5 486.6v-2.2M118 568.2v2.2M118 486.6v-2.2M192.5 568.2v2.2M192.5 486.6v-2.2M43.5 491.2h-2.2M192.5 491.2h2.2M43.5 541.9h-2.2M192.5 541.9h2.2M43.5 566.4h-2.2M192.5 566.4h2.2" stroke="#3c3c3c" stroke-width="1" fill="none"/>
<path d="M199.3 568.2v2.2M199.3 486.6v-2.2M242.3 568.2v2.2M242.3 486.6v-2.2M199.3 540.6h-2.2M246.8 540.6h2.2M199.3 558.8h-2.2M246.8 558.8h2.2" stroke="#3c3c3c" stroke-width="1" fill="none"/>
<text x="37.3" y="495.4" font-size="12.5" text-anchor="end">3</text>
<text x="37.3" y="546.1" font-size="12.5" text-anchor="end">0</text>
<text x="37.3" y="570.6" font-size="12.5" text-anchor="end">-1</text>
<text x="1.5" y="488.3" font-size="16.5" text-anchor="start">(f)</text>
<g transform="translate(19.3,533.8) rotate(-90)"><text x="0.00" y="0.00" font-size="15.5" style="font-style:italic">θ</text><text x="2.12" y="-2.79" font-size="17.82">˙</text><text x="7.61" y="1.70" font-size="10.5" style="font-style:italic">l</text></g>
<text x="43.5" y="585.7" font-size="13.5" text-anchor="middle">-π</text>
<text x="118" y="585.7" font-size="13.5" text-anchor="middle">0</text>
<text x="192.5" y="585.7" font-size="13.5" text-anchor="middle">π</text>
<text x="199.3" y="585.7" font-size="13.5" text-anchor="middle">0</text>
<text x="242.3" y="585.7" font-size="13.5" text-anchor="middle">1</text>
<text x="111.88" y="602.50" font-size="15" style="font-style:italic">ψ</text><text x="121.20" y="604.70" font-size="10.5" style="font-style:italic">l</text>
<text x="203.84" y="601.00" font-size="16.8" style="font-style:italic">P</text><text x="215.10" y="601.00" font-size="15">(</text><text x="220.10" y="601.00" font-size="15" style="font-style:italic">θ</text><text x="222.15" y="598.30" font-size="17.25">˙</text><text x="227.46" y="604.00" font-size="10.799999999999999" style="font-style:italic">l</text><text x="230.87" y="601.00" font-size="15">)</text>
<rect x="303.5" y="210.6" width="149.3" height="82.4" fill="none" stroke="#3c3c3c" stroke-width="1"/>
<rect x="462" y="210.6" width="48" height="82.4" fill="none" stroke="#3c3c3c" stroke-width="1"/>
<path d="M303.5 293v2.2M303.5 210.6v-2.2M378.1 293v2.2M378.1 210.6v-2.2M452.8 293v2.2M452.8 210.6v-2.2M303.5 215.2h-2.2M452.8 215.2h2.2M303.5 265.9h-2.2M452.8 265.9h2.2M303.5 291.2h-2.2M452.8 291.2h2.2" stroke="#3c3c3c" stroke-width="1" fill="none"/>
<path d="M462 293v2.2M462 210.6v-2.2M505.4 293v2.2M505.4 210.6v-2.2M462 264.6h-2.2M510 264.6h2.2M462 282.8h-2.2M510 282.8h2.2" stroke="#3c3c3c" stroke-width="1" fill="none"/>
<text x="297.3" y="219.4" font-size="12.5" text-anchor="end">3</text>
<text x="297.3" y="270.1" font-size="12.5" text-anchor="end">0</text>
<text x="297.3" y="295.4" font-size="12.5" text-anchor="end">-1</text>
<text x="261.5" y="212.3" font-size="16.5" text-anchor="start">(g)</text>
<g transform="translate(279.3,257.8) rotate(-90)"><text x="0.00" y="0.00" font-size="15.5" style="font-style:italic">θ</text><text x="2.12" y="-2.79" font-size="17.82">˙</text><text x="7.61" y="1.70" font-size="10.5" style="font-style:italic">l</text></g>
<rect x="303.5" y="303.1" width="149.3" height="81" fill="none" stroke="#3c3c3c" stroke-width="1"/>
<rect x="462" y="303.1" width="48" height="81" fill="none" stroke="#3c3c3c" stroke-width="1"/>
<path d="M303.5 384.1v2.2M303.5 303.1v-2.2M378.1 384.1v2.2M378.1 303.1v-2.2M452.8 384.1v2.2M452.8 303.1v-2.2M303.5 307.7h-2.2M452.8 307.7h2.2M303.5 358.4h-2.2M452.8 358.4h2.2M303.5 382.3h-2.2M452.8 382.3h2.2" stroke="#3c3c3c" stroke-width="1" fill="none"/>
<path d="M462 384.1v2.2M462 303.1v-2.2M505.4 384.1v2.2M505.4 303.1v-2.2M462 357.1h-2.2M510 357.1h2.2M462 375.3h-2.2M510 375.3h2.2" stroke="#3c3c3c" stroke-width="1" fill="none"/>
<text x="297.3" y="311.9" font-size="12.5" text-anchor="end">3</text>
<text x="297.3" y="362.6" font-size="12.5" text-anchor="end">0</text>
<text x="297.3" y="386.5" font-size="12.5" text-anchor="end">-1</text>
<text x="261.5" y="304.8" font-size="16.5" text-anchor="start">(h)</text>
<g transform="translate(279.3,350.3) rotate(-90)"><text x="0.00" y="0.00" font-size="15.5" style="font-style:italic">θ</text><text x="2.12" y="-2.79" font-size="17.82">˙</text><text x="7.61" y="1.70" font-size="10.5" style="font-style:italic">l</text></g>
<rect x="303.5" y="393.8" width="149.3" height="81.6" fill="none" stroke="#3c3c3c" stroke-width="1"/>
<rect x="462" y="393.8" width="48" height="81.6" fill="none" stroke="#3c3c3c" stroke-width="1"/>
<path d="M303.5 475.4v2.2M303.5 393.8v-2.2M378.1 475.4v2.2M378.1 393.8v-2.2M452.8 475.4v2.2M452.8 393.8v-2.2M303.5 398.4h-2.2M452.8 398.4h2.2M303.5 449.1h-2.2M452.8 449.1h2.2M303.5 473.6h-2.2M452.8 473.6h2.2" stroke="#3c3c3c" stroke-width="1" fill="none"/>
<path d="M462 475.4v2.2M462 393.8v-2.2M505.4 475.4v2.2M505.4 393.8v-2.2M462 447.8h-2.2M510 447.8h2.2M462 466h-2.2M510 466h2.2" stroke="#3c3c3c" stroke-width="1" fill="none"/>
<text x="297.3" y="402.6" font-size="12.5" text-anchor="end">3</text>
<text x="297.3" y="453.3" font-size="12.5" text-anchor="end">0</text>
<text x="297.3" y="477.8" font-size="12.5" text-anchor="end">-1</text>
<text x="261.5" y="395.5" font-size="16.5" text-anchor="start">(i)</text>
<g transform="translate(279.3,441) rotate(-90)"><text x="0.00" y="0.00" font-size="15.5" style="font-style:italic">θ</text><text x="2.12" y="-2.79" font-size="17.82">˙</text><text x="7.61" y="1.70" font-size="10.5" style="font-style:italic">l</text></g>
<rect x="303.5" y="487.1" width="149.3" height="81.4" fill="none" stroke="#3c3c3c" stroke-width="1"/>
<rect x="462" y="487.1" width="48" height="81.4" fill="none" stroke="#3c3c3c" stroke-width="1"/>
<path d="M303.5 568.5v2.2M303.5 487.1v-2.2M378.1 568.5v2.2M378.1 487.1v-2.2M452.8 568.5v2.2M452.8 487.1v-2.2M303.5 491.7h-2.2M452.8 491.7h2.2M303.5 542.4h-2.2M452.8 542.4h2.2M303.5 566.7h-2.2M452.8 566.7h2.2" stroke="#3c3c3c" stroke-width="1" fill="none"/>
<path d="M462 568.5v2.2M462 487.1v-2.2M505.4 568.5v2.2M505.4 487.1v-2.2M462 541.1h-2.2M510 541.1h2.2M462 559.3h-2.2M510 559.3h2.2" stroke="#3c3c3c" stroke-width="1" fill="none"/>
<text x="297.3" y="495.9" font-size="12.5" text-anchor="end">3</text>
<text x="297.3" y="546.6" font-size="12.5" text-anchor="end">0</text>
<text x="297.3" y="570.9" font-size="12.5" text-anchor="end">-1</text>
<text x="261.5" y="488.8" font-size="16.5" text-anchor="start">(j)</text>
<g transform="translate(279.3,534.3) rotate(-90)"><text x="0.00" y="0.00" font-size="15.5" style="font-style:italic">θ</text><text x="2.12" y="-2.79" font-size="17.82">˙</text><text x="7.61" y="1.70" font-size="10.5" style="font-style:italic">l</text></g>
<text x="303.5" y="586" font-size="13.5" text-anchor="middle">-π</text>
<text x="378.1" y="586" font-size="13.5" text-anchor="middle">0</text>
<text x="452.8" y="586" font-size="13.5" text-anchor="middle">π</text>
<text x="462" y="586" font-size="13.5" text-anchor="middle">0</text>
<text x="505.4" y="586" font-size="13.5" text-anchor="middle">1</text>
<text x="372.03" y="602.80" font-size="15" style="font-style:italic">ψ</text><text x="381.35" y="605.00" font-size="10.5" style="font-style:italic">l</text>
<text x="466.79" y="601.30" font-size="16.8" style="font-style:italic">P</text><text x="478.05" y="601.30" font-size="15">(</text><text x="483.05" y="601.30" font-size="15" style="font-style:italic">θ</text><text x="485.10" y="598.60" font-size="17.25">˙</text><text x="490.41" y="604.30" font-size="10.799999999999999" style="font-style:italic">l</text><text x="493.82" y="601.30" font-size="15">)</text>
<path d="M200.5 210.5V212.9H201.4V215.3H202.5V217.7H203.7V220.1H205.5V222.5H206.6V224.9H207.8V227.3H208.5V229.7H210.2V232.1H211.2V234.5H210.3V236.9H209.2V239.3H209.9V241.7H212.6V244.1H211.6V246.5H210.6V249.0H213.6V251.4H215.3V253.8H214.0V256.2H217.8V258.6H222.4V261.0H228.4V263.4H230.7V265.8H230.7V268.2H232.6V270.6H233.2V273.0H228.9V275.4H223.5V277.8H218.6V280.2H215.2V282.6H200.5V285.0" fill="none" stroke="#d77bb2" stroke-width="2.5"/>
<path d="M199.9 209.8V211.6H200.0V213.4H200.0V215.2H199.9V216.9H200.2V218.7H200.1V220.5H200.2V222.3H200.8V224.1H200.5V225.9H201.3V227.7H201.3V229.4H200.6V231.2H201.4V233.0H201.1V234.8H201.6V236.6H201.9V238.4H201.4V240.2H202.3V241.9H202.6V243.7H203.4V245.5H202.7V247.3H204.4V249.1H203.6V250.9H204.6V252.6H204.5V254.4H207.0V256.2H206.4V258.0H222.0V259.8H207.4V261.6H208.3V263.4H227.0V265.1H208.1V266.9H229.5V268.7H212.6V270.5H232.0V272.3H211.8V274.1H222.0V275.9H211.9V277.6H243.0V279.4H207.4V281.2H200.5V283.0" fill="none" stroke="#1c1a9c" stroke-width="2.1"/>
<path d="M199.9 318.0V320.4H200.0V322.9H200.5V325.3H201.0V327.8H204.1V330.2H206.1V332.6H209.5V335.1H210.1V337.5H211.3V340.0H212.8V342.4H215.6V344.8H215.9V347.3H217.4V349.7H221.5V352.2H222.4V354.6H227.0V357.0H234.0V359.5H241.6V361.9H241.3V364.4H240.5V366.8H236.4V369.2H217.6V371.7H209.8V374.1H206.1V376.6H202.3V379.0" fill="none" stroke="#d77bb2" stroke-width="2.5"/>
<path d="M199.9 302.5V304.3H199.9V306.1H200.0V308.0H200.0V309.8H200.2V311.6H200.5V313.4H200.5V315.2H200.8V317.0H201.4V318.9H201.1V320.7H200.6V322.5H201.6V324.3H201.4V326.1H201.1V327.9H201.7V329.8H201.5V331.6H201.5V333.4H201.5V335.2H201.5V337.0H201.9V338.8H202.3V340.7H202.3V342.5H203.2V344.3H204.6V346.1H203.3V347.9H204.8V349.7H209.0V351.6H205.2V353.4H206.1V355.2H208.4V357.0H243.0V358.8H211.6V360.6H214.5V362.5H222.0V364.3H224.0V366.1H213.5V367.9H211.7V369.7H232.0V371.5H209.3V373.4H212.0V375.2H201.3V377.0" fill="none" stroke="#1c1a9c" stroke-width="2.1"/>
<path d="M462.7 219.8V222.2H462.7V224.6H462.7V227.0H463.1V229.4H463.2V231.7H463.6V234.1H463.3V236.5H463.1V238.9H464.4V241.3H464.3V243.7H463.9V246.1H464.9V248.5H464.8V250.9H464.5V253.2H465.7V255.6H466.2V258.0H469.2V260.4H469.1V262.8H472.1V265.2H477.6V267.6H483.4V270.0H491.7V272.4H506.2V274.7H504.3V277.1H497.9V279.5H487.1V281.9H474.8V284.3" fill="none" stroke="#d77bb2" stroke-width="2.5"/>
<path d="M465.7 219.8V221.6H467.1V223.4H468.0V225.3H465.9V227.1H471.7V228.9H470.2V230.7H467.4V232.5H471.4V234.4H472.8V236.2H465.2V238.0H469.6V239.8H470.4V241.6H473.6V243.5H472.3V245.3H472.6V247.1H473.7V248.9H479.1V250.7H480.3V252.6H474.0V254.4H473.4V256.2H483.5V258.0H475.1V259.8H477.0V261.7H480.1V263.5H483.1V265.3H486.1V267.1H485.3V268.9H483.0V270.8H490.8V272.6H495.7V274.4H506.8V276.2H493.1V278.0H476.5V279.9H479.3V281.7H471.3V283.5" fill="none" stroke="#1c1a9c" stroke-width="2.1"/>
<path d="M463.1 303.5V305.9H464.3V308.3H466.3V310.7H467.7V313.1H469.7V315.5H468.7V317.8H471.3V320.2H472.5V322.6H471.7V325.0H473.3V327.4H476.6V329.8H477.8V332.2H478.4V334.6H479.4V337.0H482.1V339.4H482.4V341.8H484.8V344.1H486.3V346.5H489.7V348.9H496.3V351.3H501.9V353.7H497.7V356.1H498.7V358.5H495.6V360.9H489.7V363.3H487.1V365.7H478.8V368.0H477.2V370.4H473.7V372.8H467.4V375.2H466.2V377.6H464.3V380.0" fill="none" stroke="#d77bb2" stroke-width="2.5"/>
<path d="M462.7 303.5V305.3H462.9V307.1H463.7V308.9H464.2V310.8H465.2V312.6H465.6V314.4H465.6V316.2H465.8V318.0H466.7V319.8H468.3V321.6H467.6V323.4H468.1V325.2H467.5V327.1H466.4V328.9H467.2V330.7H468.9V332.5H468.5V334.3H467.4V336.1H466.6V337.9H469.0V339.8H468.6V341.6H468.7V343.4H468.9V345.2H470.0V347.0H470.2V348.8H471.5V350.6H470.7V352.4H470.2V354.2H505.8V356.1H470.2V357.9H473.1V359.7H476.9V361.5H478.6V363.3H485.7V365.1H490.4V366.9H482.0V368.8H475.4V370.6H477.4V372.4H471.5V374.2H466.5V376.0" fill="none" stroke="#1c1a9c" stroke-width="2.1"/>
<path d="M462.7 405.0V407.4H462.9V409.8H463.1V412.2H463.2V414.7H463.5V417.1H463.8V419.5H464.1V421.9H464.5V424.3H464.9V426.7H465.7V429.1H465.9V431.6H466.4V434.0H466.9V436.4H469.0V438.8H475.3V441.2H483.9V443.6H493.4V446.0H502.6V448.4H498.0V450.9H489.5V453.3H483.5V455.7H481.5V458.1H477.6V460.5H474.2V462.9H471.0V465.3H467.4V467.8H465.9V470.2H465.4V472.6H463.5V475.0" fill="none" stroke="#d77bb2" stroke-width="2.5"/>
<path d="M462.7 400.0V401.8H462.7V403.6H462.9V405.4H463.2V407.2H463.8V409.0H464.2V410.8H464.1V412.6H464.5V414.4H464.9V416.2H464.7V418.0H464.6V419.9H464.8V421.7H464.9V423.5H465.2V425.3H465.4V427.1H465.4V428.9H466.2V430.7H465.2V432.5H465.8V434.3H467.4V436.1H467.1V437.9H467.1V439.7H466.9V441.5H466.3V443.3H464.8V445.1H505.4V446.9H465.2V448.7H466.0V450.5H465.7V452.3H467.3V454.1H469.5V456.0H471.8V457.8H473.3V459.6H471.9V461.4H466.9V463.2H465.2V465.0H464.2V466.8H463.5V468.6H463.3V470.4H463.1V472.2H463.0V474.0" fill="none" stroke="#1c1a9c" stroke-width="2.1"/>
<path d="M200.0 420.0 200.5 441.0 205.0 443.0 220.0 446.0 240.0 449.0 244.0 450.5 235.0 452.0 215.0 455.0 207.0 458.0 205.0 465.0 202.0 470.0 200.0 475.0" fill="none" stroke="#d77bb2" stroke-width="2.4" stroke-linejoin="round"/>
<path d="M200.0 394.5 200.0 449.6 243.6 449.9 243.6 450.9 201.0 451.2 205.0 454.0 201.0 456.0 204.0 458.0 200.0 460.0 200.0 475.5" fill="none" stroke="#1c1a9c" stroke-width="2.1" stroke-linejoin="round"/>
<path d="M200.0 528.0 202.0 531.0 207.0 535.0 225.0 538.0 243.0 540.2 225.0 542.0 205.0 544.0 200.0 547.0" fill="none" stroke="#d77bb2" stroke-width="2.4" stroke-linejoin="round"/>
<path d="M199.8 487.0 199.8 540.2 243.0 540.2 243.0 541.1 199.8 541.1" fill="none" stroke="#1c1a9c" stroke-width="2.1" stroke-linejoin="round"/>
<path d="M462.3 510.0 462.8 515.0 464.0 522.0 468.0 528.0 480.0 532.0 492.0 535.0 505.0 538.2 490.0 541.0 475.0 544.0 467.0 548.0 464.0 555.0 462.6 565.0 462.3 568.0" fill="none" stroke="#d77bb2" stroke-width="2.4" stroke-linejoin="round"/>
<path d="M462.3 488.5 462.3 538.1 505.4 538.1 505.4 539.0 462.3 539.0" fill="none" stroke="#1c1a9c" stroke-width="2.1" stroke-linejoin="round"/>
</svg></body></html>
